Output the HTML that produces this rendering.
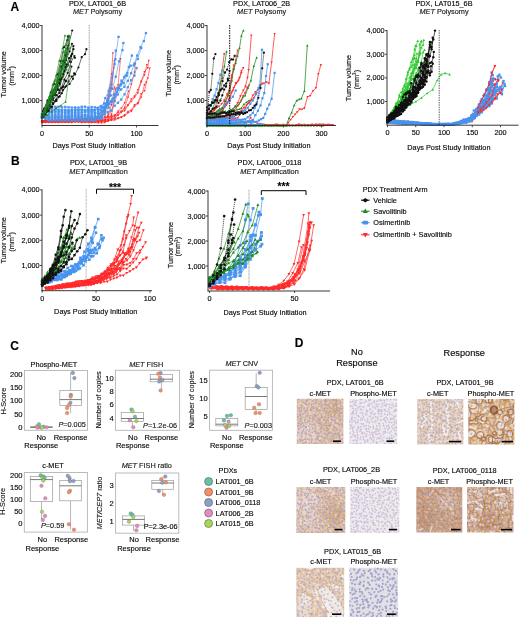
<!DOCTYPE html>
<html><head><meta charset="utf-8"><title>Figure</title>
<style>html,body{margin:0;padding:0;background:#fff;}svg{display:block;}
text{font-family:"Liberation Sans",sans-serif;stroke:#222;stroke-width:0.15px;}</style></head>
<body><svg width="520" height="617" viewBox="0 0 520 617">
<defs><filter id="hb" x="-5%" y="-5%" width="110%" height="110%"><feGaussianBlur stdDeviation="0.5"/></filter><filter id="bb" x="-50%" y="-50%" width="200%" height="200%"><feGaussianBlur stdDeviation="4"/></filter></defs>
<defs><marker id="m0" markerUnits="userSpaceOnUse" markerWidth="2.60" markerHeight="2.60" refX="0" refY="0" viewBox="-1.30 -1.30 2.60 2.60" overflow="visible"><g fill="#ff2a2a"><path d="M0.0 1.2L1.1 -0.8L-1.1 -0.8Z"/></g></marker><marker id="m1" markerUnits="userSpaceOnUse" markerWidth="2.99" markerHeight="2.99" refX="0" refY="0" viewBox="-1.49 -1.49 2.99 2.99" overflow="visible"><g fill="#4893ee"><rect x="-1.1" y="-1.1" width="2.3" height="2.3"/></g></marker><marker id="m2" markerUnits="userSpaceOnUse" markerWidth="2.86" markerHeight="2.86" refX="0" refY="0" viewBox="-1.43 -1.43 2.86 2.86" overflow="visible"><g fill="#111111"><circle cx="0.0" cy="0.0" r="1.10"/></g></marker><marker id="m3" markerUnits="userSpaceOnUse" markerWidth="2.86" markerHeight="2.86" refX="0" refY="0" viewBox="-1.43 -1.43 2.86 2.86" overflow="visible"><g fill="#1d8a1d"><path d="M0.0 -1.3L1.2 0.9L-1.2 0.9Z"/></g></marker><marker id="m4" markerUnits="userSpaceOnUse" markerWidth="2.86" markerHeight="2.86" refX="0" refY="0" viewBox="-1.43 -1.43 2.86 2.86" overflow="visible"><g fill="#ff2a2a"><path d="M0.0 1.3L1.2 -0.9L-1.2 -0.9Z"/></g></marker><marker id="m5" markerUnits="userSpaceOnUse" markerWidth="2.86" markerHeight="2.86" refX="0" refY="0" viewBox="-1.43 -1.43 2.86 2.86" overflow="visible"><g fill="#4893ee"><rect x="-1.1" y="-1.1" width="2.2" height="2.2"/></g></marker><marker id="m6" markerUnits="userSpaceOnUse" markerWidth="2.99" markerHeight="2.99" refX="0" refY="0" viewBox="-1.49 -1.49 2.99 2.99" overflow="visible"><g fill="#111111"><circle cx="0.0" cy="0.0" r="1.15"/></g></marker><marker id="m7" markerUnits="userSpaceOnUse" markerWidth="3.12" markerHeight="3.12" refX="0" refY="0" viewBox="-1.56 -1.56 3.12 3.12" overflow="visible"><g fill="#ff2a2a"><path d="M0.0 1.4L1.3 -1.0L-1.3 -1.0Z"/></g></marker><marker id="m8" markerUnits="userSpaceOnUse" markerWidth="3.12" markerHeight="3.12" refX="0" refY="0" viewBox="-1.56 -1.56 3.12 3.12" overflow="visible"><g fill="#4893ee"><rect x="-1.2" y="-1.2" width="2.4" height="2.4"/></g></marker><marker id="m9" markerUnits="userSpaceOnUse" markerWidth="3.12" markerHeight="3.12" refX="0" refY="0" viewBox="-1.56 -1.56 3.12 3.12" overflow="visible"><g fill="#2ec82e"><path d="M0.0 -1.4L1.3 1.0L-1.3 1.0Z"/></g></marker><marker id="m10" markerUnits="userSpaceOnUse" markerWidth="3.12" markerHeight="3.12" refX="0" refY="0" viewBox="-1.56 -1.56 3.12 3.12" overflow="visible"><g fill="#111111"><circle cx="0.0" cy="0.0" r="1.20"/></g></marker><marker id="m11" markerUnits="userSpaceOnUse" markerWidth="3.38" markerHeight="3.38" refX="0" refY="0" viewBox="-1.69 -1.69 3.38 3.38" overflow="visible"><g fill="#ff2a2a"><path d="M0.0 1.6L1.4 -1.0L-1.4 -1.0Z"/></g></marker><marker id="m12" markerUnits="userSpaceOnUse" markerWidth="3.38" markerHeight="3.38" refX="0" refY="0" viewBox="-1.69 -1.69 3.38 3.38" overflow="visible"><g fill="#4893ee"><rect x="-1.3" y="-1.3" width="2.6" height="2.6"/></g></marker><marker id="m13" markerUnits="userSpaceOnUse" markerWidth="3.64" markerHeight="3.64" refX="0" refY="0" viewBox="-1.82 -1.82 3.64 3.64" overflow="visible"><g fill="#1d8a1d"><path d="M0.0 -1.7L1.5 1.1L-1.5 1.1Z"/></g></marker><marker id="m14" markerUnits="userSpaceOnUse" markerWidth="3.38" markerHeight="3.38" refX="0" refY="0" viewBox="-1.69 -1.69 3.38 3.38" overflow="visible"><g fill="#111111"><circle cx="0.0" cy="0.0" r="1.30"/></g></marker><marker id="m15" markerUnits="userSpaceOnUse" markerWidth="3.64" markerHeight="3.64" refX="0" refY="0" viewBox="-1.82 -1.82 3.64 3.64" overflow="visible"><g fill="#4893ee"><rect x="-1.4" y="-1.4" width="2.8" height="2.8"/></g></marker></defs>
<text x="10.60" y="10.50" font-size="12" font-weight="bold" fill="#000">A</text>
<text x="97.50" y="5.60" font-size="7.3" text-anchor="middle">PDX, LAT001_6B</text>
<text x="97.5" y="13.9" font-size="7.3" text-anchor="middle" fill="#1a1a1a"><tspan font-style="italic">MET</tspan> Polysomy</text>
<line x1="89.20" y1="25.00" x2="89.20" y2="125.00" stroke="#777" stroke-width="0.8" stroke-dasharray="1 0.7"/>
<path d="M42.0 122.0L45.3 121.6L48.6 121.5L51.9 121.2L55.2 121.2L58.5 120.9L61.8 120.7L65.2 120.9L68.5 120.6L71.8 120.5L75.1 120.5L78.4 120.2L81.7 119.9L85.0 119.5L88.3 119.3L91.6 119.8L94.9 119.3L98.2 119.7L101.5 117.2L104.8 110.1L108.1 95.6L111.5 74.3L112.9 53.0 M42.0 121.6L45.3 121.3L48.6 121.4L51.9 120.9L55.2 120.6L58.5 120.7L61.8 120.2L65.2 119.9L68.5 119.8L71.8 119.3L75.1 119.0L78.4 118.7L81.7 118.9L85.0 119.1L88.3 118.8L91.6 118.6L94.9 117.9L98.2 117.5L101.5 118.1L104.8 117.1L108.1 116.8L111.5 117.1L114.8 116.0L118.1 115.0L121.4 111.8L124.7 110.9L128.0 105.1L131.3 101.5L134.6 97.2L137.9 93.0L141.2 81.7L144.5 71.7L147.8 67.7L148.8 60.5 M42.0 120.6L45.3 120.8L48.6 120.5L51.9 120.1L55.2 120.2L58.5 120.4L61.8 120.1L65.2 120.5L68.5 120.3L71.8 119.9L75.1 120.2L78.4 120.2L81.7 120.4L85.0 120.1L88.3 119.7L91.6 120.5L94.9 119.7L98.2 117.9L101.5 114.5L104.8 109.1L108.1 99.4L111.5 84.6L113.6 68.4 M42.0 121.1L45.3 120.8L48.6 120.8L51.9 120.9L55.2 120.8L58.5 120.7L61.8 120.6L65.2 120.5L68.5 120.6L71.8 120.9L75.1 120.7L78.4 120.7L81.7 120.3L85.0 120.1L88.3 120.1L91.6 120.0L94.9 120.0L98.2 120.4L101.5 119.9L104.8 119.7L108.1 119.2L111.5 117.8L114.8 115.7L118.1 111.2L121.4 108.1L124.7 102.7L128.4 91.0 M42.0 122.0L45.3 121.8L48.6 122.0L51.9 122.1L55.2 122.0L58.5 122.3L61.8 122.1L65.2 122.1L68.5 122.2L71.8 122.3L75.1 121.8L78.4 122.1L81.7 122.2L85.0 122.0L88.3 121.9L91.6 122.4L94.9 122.4L98.2 122.3L101.5 121.4L104.8 119.6L108.1 114.3L111.5 104.9L114.6 87.4 M42.0 121.3L45.3 121.0L48.6 121.1L51.9 120.9L55.2 121.1L58.5 120.8L61.8 121.2L65.2 121.0L68.5 120.5L71.8 120.5L75.1 120.9L78.4 120.4L81.7 120.8L85.0 120.3L88.3 120.4L91.6 120.6L94.9 120.7L98.2 120.9L101.5 120.1L104.8 120.0L108.1 116.2L111.5 110.3L114.8 101.2L118.1 85.0L120.5 58.9 M42.0 122.1L45.3 122.1L48.6 121.8L51.9 121.9L55.2 122.0L58.5 122.0L61.8 121.6L65.2 121.8L68.5 121.6L71.8 121.7L75.1 121.3L78.4 121.2L81.7 121.8L85.0 121.6L88.3 121.5L91.6 121.0L94.9 121.1L98.2 121.3L101.5 121.4L104.8 121.0L108.1 120.9L111.5 120.3L114.8 120.0L118.1 118.5L121.4 117.3L124.7 115.9L128.0 112.8L131.3 111.4L134.6 106.4L137.9 103.7L141.2 97.3L144.5 84.8L147.8 78.3L149.7 68.4 M42.0 122.5L45.3 122.2L48.6 122.2L51.9 122.0L55.2 122.0L58.5 122.3L61.8 122.0L65.2 122.2L68.5 122.2L71.8 122.1L75.1 121.6L78.4 121.6L81.7 121.5L85.0 121.8L88.3 121.5L91.6 121.4L94.9 121.6L98.2 121.4L101.5 121.6L104.8 121.6L108.1 121.1L111.5 119.5L114.8 118.1L118.1 115.1L121.4 112.2L124.7 107.3L128.0 97.3L131.3 84.3L134.6 72.2L135.2 63.6 M42.0 121.0L45.3 120.6L48.6 121.1L51.9 121.4L55.2 121.5L58.5 121.5L61.8 121.3L65.2 121.8L68.5 121.4L71.8 121.8L75.1 121.6L78.4 121.7L81.7 122.2L85.0 122.3L88.3 122.3L91.6 122.6L94.9 122.4L98.2 122.8L101.5 122.9L104.8 122.6L108.1 120.8L111.5 114.2L114.8 96.5L115.5 89.0 M42.0 120.9L45.3 120.7L48.6 120.2L51.9 119.8L55.2 120.0L58.5 119.7L61.8 119.6L65.2 119.8L68.5 119.4L71.8 119.5L75.1 119.4L78.4 119.5L81.7 119.1L85.0 118.2L88.3 118.7L91.6 118.3L94.9 118.2L98.2 117.7L101.5 116.6L104.8 112.3L108.1 103.9L111.5 88.3L114.4 61.0 M42.0 122.5L45.3 122.3L48.6 122.4L51.9 122.4L55.2 122.2L58.5 122.2L61.8 121.8L65.2 122.0L68.5 121.9L71.8 121.4L75.1 121.5L78.4 121.1L81.7 121.2L85.0 120.8L88.3 121.2L91.6 120.8L94.9 120.5L98.2 120.9L101.5 120.1L104.8 120.6L108.1 120.0L111.5 119.3L114.8 118.6L118.1 118.1L121.4 117.0L124.7 114.7L128.0 111.6L131.3 110.2L134.6 104.9L137.9 102.9L141.2 93.7L144.5 90.9L146.5 82.4 M42.0 120.6L45.3 120.5L48.6 120.8L51.9 120.5L55.2 120.6L58.5 120.0L61.8 119.9L65.2 120.2L68.5 120.3L71.8 119.3L75.1 119.3L78.4 119.5L81.7 119.4L85.0 118.9L88.3 119.2L91.6 119.2L94.9 119.1L98.2 119.1L101.5 119.0L104.8 117.6L108.1 117.0L111.5 115.6L114.8 115.0L118.1 112.8L121.4 111.2L124.7 108.7L128.0 105.2L131.3 99.1L134.6 96.1L137.9 90.1L141.2 81.3L144.5 75.1L146.9 64.9" fill="none" stroke="#ff2a2a" stroke-width="0.6" stroke-linejoin="round" marker-start="url(#m0)" marker-mid="url(#m0)" marker-end="url(#m0)"/>
<path d="M42.0 116.4L45.3 111.8L48.6 106.9L51.9 107.2L55.2 106.7L58.5 106.6L61.8 107.3L65.2 106.8L68.5 107.2L71.8 107.5L75.1 107.4L78.4 107.6L81.7 106.7L85.0 106.7L88.3 107.6L91.6 107.0L94.9 107.3L98.2 107.6L101.5 107.4L102.0 107.7L105.3 98.1L108.7 90.8L112.0 77.4L115.3 59.1L118.5 36.8 M42.0 116.7L45.3 113.8L48.6 110.6L51.9 111.1L55.2 111.1L58.5 110.8L61.8 111.1L65.2 110.8L68.5 111.1L71.8 110.7L75.1 110.6L78.4 110.6L81.7 110.5L85.0 110.8L88.3 110.9L91.6 110.6L94.2 110.4L97.5 108.3L100.8 106.0L104.1 103.5L107.4 101.0L110.7 95.4L114.0 94.4L117.3 87.8L120.7 84.3L124.0 77.3L127.3 73.0L130.6 65.6L133.9 65.2L137.2 55.5L140.5 47.0L143.8 41.0L145.9 33.0 M42.0 117.2L45.3 115.7L48.6 114.5L51.9 114.2L55.2 114.2L58.5 114.3L61.8 114.2L65.2 114.0L68.5 114.0L71.8 114.1L75.1 114.0L78.4 114.2L81.7 114.3L85.0 114.5L88.3 114.3L91.6 114.1L94.9 113.9L98.2 113.9L99.2 114.1L102.5 108.4L105.8 103.7L109.1 95.6L112.4 88.8L115.7 76.6L119.0 61.3L122.4 50.1L123.3 43.0 M42.0 117.2L45.3 117.0L48.6 117.0L51.9 117.1L55.2 116.9L58.5 116.9L61.8 116.9L65.2 116.7L68.5 116.8L71.8 116.8L75.1 116.7L78.4 116.8L81.7 116.9L85.0 116.8L88.3 116.8L91.6 116.8L94.9 116.8L95.7 117.0L99.1 114.1L102.4 111.2L105.7 107.2L109.0 103.7L112.3 99.1L115.6 94.2L118.9 88.0L122.2 82.1L125.5 75.6L128.8 67.0L131.8 55.5 M42.0 117.1L45.3 118.0L48.6 119.0L51.9 118.7L55.2 118.9L58.5 118.9L61.8 119.1L65.2 118.9L68.5 118.8L71.8 118.9L75.1 118.9L78.4 118.8L81.7 119.1L85.0 118.9L88.3 118.7L91.6 118.8L94.9 118.9L98.2 118.8L101.3 118.8L104.6 112.2L107.9 102.5L111.3 84.6L114.6 63.9L115.7 50.5 M42.0 117.2L45.3 118.8L48.6 120.5L51.9 120.4L55.2 120.3L58.5 120.5L61.8 120.4L65.2 120.4L68.5 120.3L71.8 120.5L75.1 120.4L78.4 120.5L81.7 120.4L85.0 120.5L88.3 120.3L91.6 120.3L94.8 120.5L98.1 119.0L101.4 116.4L104.7 114.5L108.0 111.9L111.3 110.6L114.6 105.7L117.9 102.7L121.2 99.5L124.5 94.3L127.8 87.2L131.1 80.2L134.4 75.6L136.5 68.0 M42.0 114.4L45.3 112.0L48.6 109.6L51.9 109.2L55.2 109.4L58.5 109.5L61.8 109.8L65.2 109.6L68.5 109.9L71.8 109.9L75.1 109.4L78.4 109.7L81.7 109.3L85.0 109.8L88.3 109.4L91.6 109.4L94.9 109.8L98.2 110.0L100.5 109.8L103.8 106.8L107.1 104.7L110.4 101.2L113.7 98.0L117.0 91.7L120.3 85.5L123.6 83.3L127.0 75.5 M42.0 114.5L45.3 113.3L48.6 112.1L51.9 112.3L55.2 111.9L58.5 112.5L61.8 112.0L65.2 112.5L68.5 112.3L71.8 112.2L75.1 112.3L78.4 112.4L81.7 112.4L85.0 111.9L88.3 112.2L91.6 112.1L94.9 112.4L98.2 112.0L101.3 112.5L104.6 109.3L107.9 105.5L111.2 101.8L114.5 100.9L117.8 94.4L121.1 89.4L124.4 86.7L127.8 80.7L131.1 73.2L134.4 63.4L137.7 58.9L141.2 48.0 M42.0 114.8L45.3 115.3L48.6 116.1L51.9 116.1L55.2 115.8L58.5 116.1L61.8 115.9L65.2 116.1L68.5 115.9L71.8 115.7L75.1 115.6L78.4 116.1L81.7 116.1L85.0 115.7L88.3 116.1L91.6 116.0L94.9 116.1L98.2 116.1L101.5 116.1L101.9 115.7L105.2 112.0L108.5 107.8L111.8 102.2L115.1 96.3L118.4 89.6L121.4 80.5 M42.0 116.5L45.3 117.1L48.6 117.9L51.9 118.0L55.2 117.6L58.5 117.7L61.8 117.9L65.2 117.7L68.5 117.8L71.8 117.8L75.1 118.0L78.4 117.8L81.7 117.8L85.0 117.9L88.3 117.6L91.6 117.8L94.9 117.7L98.2 117.7L100.5 117.6L103.8 110.8L107.1 100.5L110.0 88.0" fill="none" stroke="#4893ee" stroke-width="0.6" stroke-linejoin="round" marker-start="url(#m1)" marker-mid="url(#m1)" marker-end="url(#m1)"/>
<path d="M42.0 117.8L45.3 111.7L48.6 105.0L51.9 96.8L55.2 88.4L58.5 79.9L61.8 66.5L65.2 63.4L68.5 45.7L72.2 30.5 M43.3 117.2L46.6 109.9L49.9 101.9L53.2 97.6L56.5 86.3L59.8 79.4L63.1 60.9L65.1 55.1 M43.1 114.1L46.4 110.9L49.7 104.9L53.0 100.3L56.3 95.2L59.6 92.8L62.9 86.6L65.6 81.2 M42.9 115.8L46.2 109.0L49.6 103.2L52.9 98.3L56.2 87.8L59.5 80.3L62.8 65.6L66.1 55.9L67.2 53.7 M43.5 110.6L46.8 106.6L50.1 101.6L53.4 94.9L56.7 87.7L60.1 83.9L63.4 74.9L66.7 64.7L70.0 61.5L73.4 46.2 M42.8 117.0L46.2 112.0L49.5 108.0L52.8 103.1L56.1 99.6L59.4 90.3L62.7 87.5L66.0 80.9L69.3 75.7L71.4 66.5 M44.6 109.1L47.9 104.8L51.2 99.5L54.5 94.4L57.8 89.6L61.1 88.1L64.4 79.7L67.7 72.9L71.0 62.0L74.4 56.0L74.9 57.8 M43.0 111.4L46.3 106.2L49.6 99.9L52.9 90.8L56.3 86.2L59.6 81.5L62.9 74.0L66.2 60.1L69.5 51.4L72.0 43.8 M43.2 114.7L46.5 111.5L49.8 106.8L53.1 104.1L56.4 101.0L59.7 96.4L63.0 90.1L66.3 86.0L69.6 84.0L72.9 78.8L74.1 73.3 M42.5 114.2L45.8 108.5L49.1 101.6L52.4 96.2L55.7 92.4L59.0 82.3L62.3 77.2L65.6 67.2L69.0 58.2L72.3 53.9L73.5 49.2 M44.7 109.9L48.0 104.2L51.3 97.7L54.6 95.1L57.9 89.5L61.2 79.1L64.5 71.2L67.8 65.1L71.1 56.2L71.7 54.4 M44.3 112.4L47.6 102.8L50.9 96.4L54.2 89.7L57.5 80.2L60.8 66.7L64.1 62.3L67.4 48.4L68.9 36.7 M44.1 108.5L47.4 100.7L50.7 92.7L54.0 84.1L57.3 74.5L60.7 61.2L64.0 47.2L67.3 40.2L67.8 36.4 M42.0 117.7L45.3 114.2L48.6 110.9L51.9 107.0L55.2 101.1L58.5 96.8L61.8 93.3L65.2 87.1L68.5 81.7L71.8 76.6L75.1 74.4L78.4 67.5L81.7 57.2L85.0 54.2L86.4 49.2" fill="none" stroke="#111111" stroke-width="0.6" stroke-linejoin="round" marker-start="url(#m2)" marker-mid="url(#m2)" marker-end="url(#m2)"/>
<path d="M42.0 118.2L45.3 110.8L48.6 103.6L51.9 94.3L55.2 87.9L58.5 72.9L61.8 62.6L65.2 50.9L68.5 35.5 M42.7 113.8L46.0 105.1L49.3 96.9L52.7 84.9L56.0 75.7L59.3 60.8L62.6 48.2L65.0 35.6 M42.3 117.4L45.6 112.6L48.9 107.3L52.2 100.2L55.5 92.1L58.8 81.0L62.1 76.0L65.4 62.9L68.7 49.4L70.1 47.6 M44.8 109.5L48.1 102.4L51.4 91.1L54.7 80.9L58.1 76.7L61.4 60.5L63.5 52.0 M42.3 117.2L45.6 110.1L49.0 101.7L52.3 93.2L55.6 84.4L58.9 75.0L62.2 69.0L65.5 52.9L66.0 49.5 M43.4 112.4L46.7 105.6L50.1 103.0L53.4 96.5L56.7 87.7L60.0 85.6L63.3 76.4L66.6 69.5L67.8 65.5 M42.8 113.8L46.1 107.3L49.4 101.2L52.7 90.7L56.0 84.5L59.4 74.0L62.7 68.2L66.0 45.3L69.5 35.8 M42.8 114.4L46.1 106.7L49.4 98.8L52.7 93.9L56.0 85.6L59.3 73.2L62.6 65.4L65.9 57.2L69.2 43.6L69.8 36.8 M44.7 110.6L48.0 105.5L51.3 97.8L54.6 91.1L58.0 80.2L61.3 74.2L64.6 64.5L67.0 52.6 M42.0 118.0L46.7 115.0L51.5 111.5L56.2 108.0L60.9 105.5L65.6 101.8L68.5 80.5L71.3 58.0" fill="none" stroke="#1d8a1d" stroke-width="0.6" stroke-linejoin="round" marker-start="url(#m3)" marker-mid="url(#m3)" marker-end="url(#m3)"/>
<line x1="42.00" y1="25.00" x2="42.00" y2="125.90" stroke="#222" stroke-width="0.9"/>
<line x1="40.00" y1="100.50" x2="42.00" y2="100.50" stroke="#222" stroke-width="0.8"/>
<text x="39.70" y="103.00" font-size="7.3" text-anchor="end">1,000</text>
<line x1="40.00" y1="75.50" x2="42.00" y2="75.50" stroke="#222" stroke-width="0.8"/>
<text x="39.70" y="78.00" font-size="7.3" text-anchor="end">2,000</text>
<line x1="40.00" y1="50.50" x2="42.00" y2="50.50" stroke="#222" stroke-width="0.8"/>
<text x="39.70" y="53.00" font-size="7.3" text-anchor="end">3,000</text>
<line x1="40.00" y1="25.50" x2="42.00" y2="25.50" stroke="#222" stroke-width="0.8"/>
<text x="39.70" y="28.00" font-size="7.3" text-anchor="end">4,000</text>
<line x1="42.00" y1="125.50" x2="158.50" y2="125.50" stroke="#222" stroke-width="0.9"/>
<line x1="42.00" y1="125.50" x2="42.00" y2="127.50" stroke="#222" stroke-width="0.8"/>
<text x="42.00" y="135.50" font-size="7.3" text-anchor="middle">0</text>
<line x1="89.25" y1="125.50" x2="89.25" y2="127.50" stroke="#222" stroke-width="0.8"/>
<text x="89.25" y="135.50" font-size="7.3" text-anchor="middle">50</text>
<line x1="136.50" y1="125.50" x2="136.50" y2="127.50" stroke="#222" stroke-width="0.8"/>
<text x="136.50" y="135.50" font-size="7.3" text-anchor="middle">100</text>
<text x="6.30" y="74.30" font-size="7.3" text-anchor="middle" transform="rotate(-90 6.30 74.30)">Tumor volume</text>
<text x="13.70" y="75.90" font-size="7.3" text-anchor="middle" transform="rotate(-90 13.70 75.90)" fill="#1a1a1a">(mm<tspan font-size="4.5" dy="-2.6">3</tspan><tspan dy="2.6">)</tspan></text>
<text x="94.00" y="148.20" font-size="7.3" text-anchor="middle">Days Post Study Initiation</text>
<text x="261.60" y="5.60" font-size="7.3" text-anchor="middle">PDX, LAT006_2B</text>
<text x="261.6" y="13.9" font-size="7.3" text-anchor="middle" fill="#1a1a1a"><tspan font-style="italic">MET</tspan> Polysomy</text>
<path d="M207.0 125.1L208.9 124.6L210.8 124.7L212.7 124.5L214.6 124.4L216.6 125.1L218.5 124.9L220.4 125.1L222.3 125.3L224.2 125.3L226.1 125.2L228.0 125.4L229.9 124.8L231.8 124.6L233.7 124.8L235.7 124.6L237.6 125.2L239.5 125.3L241.4 124.8L243.3 124.4L245.2 125.0L247.1 125.5L249.0 125.5L250.9 125.1L252.8 124.7L254.8 125.4L256.7 125.2L258.6 124.6L260.5 124.3L262.4 125.1L264.3 124.7L266.2 124.9L268.1 125.5L270.0 125.1L271.9 125.3L273.9 125.2L275.8 124.5L277.7 124.6L279.6 125.4L281.5 125.4L283.4 124.6L285.3 125.4L287.2 125.1L289.1 125.2L291.0 125.4L292.9 125.5L294.9 125.3L296.8 125.0L298.7 124.3L300.6 124.7L302.5 125.2L304.4 124.7L306.3 125.2L308.2 124.9L310.1 125.1L312.1 124.3L314.0 125.1L315.9 124.5L317.8 124.7L319.7 124.4L321.6 124.7L323.5 124.4L325.4 125.0L327.3 124.7L329.2 124.7L331.1 124.8L333.1 124.8 M207.0 115.5L209.5 113.8L212.1 112.3L214.6 110.5L216.6 101.9L218.5 95.5L221.5 75.5L224.2 54.0 M207.0 118.0L209.2 117.2L211.4 116.5L213.5 116.4L215.7 115.1L217.9 114.9L220.1 114.1L222.3 113.0L225.1 104.4L228.0 95.5L229.9 85.3L231.8 75.5L233.7 69.7L235.7 60.5L237.6 50.5 M207.0 118.0L209.3 118.0L211.6 117.5L213.9 117.3L216.2 117.1L218.5 117.2L220.8 116.6L223.0 116.1L225.3 115.9L227.6 115.7L229.9 115.5L232.5 110.7L235.0 106.7L237.6 103.0L240.4 96.1L243.3 90.5L245.4 86.4L247.5 77.7L248.6 70.0L251.3 35.4 M207.0 120.5L209.4 120.4L211.7 120.0L214.1 120.2L216.4 119.4L218.8 119.8L221.1 119.1L223.5 119.4L225.8 118.7L228.2 118.5L230.5 118.7L232.9 118.1L235.2 118.5L237.6 118.0L240.1 114.2L242.7 111.5L245.2 108.0L247.7 104.0L250.3 100.9L252.8 95.5L255.4 91.8L257.9 89.8L260.5 85.5L262.2 83.7L263.9 83.5L266.4 82.0L268.9 83.5L271.6 62.3L274.6 33.8 M207.0 115.5L209.3 114.9L211.6 115.1L213.9 113.4L216.2 112.9L218.5 113.0L221.0 110.2L223.6 108.3L226.1 105.5L228.6 99.5L231.2 92.4L233.7 88.0L236.6 83.2L239.5 78.0L241.4 71.2L243.3 68.0 M207.0 118.0L209.5 117.5L212.1 117.2L214.6 116.8L217.2 114.1L219.7 112.7L222.3 110.5L224.8 106.1L227.4 103.4L229.9 98.0L232.8 90.6L235.7 83.0L238.5 80.6L241.4 73.0 M207.0 113.0L209.4 111.4L211.8 111.4L214.2 110.1L216.6 108.0L219.1 106.4L221.6 104.0L224.2 100.5L227.1 94.2L229.9 88.0L231.8 77.6L233.7 65.5 M207.0 120.5L209.2 120.3L211.4 119.5L213.5 119.1L215.7 119.0L217.9 118.5L220.1 118.1L222.3 118.0L224.6 116.8L226.9 114.6L229.2 113.9L231.4 111.9L233.7 110.5L236.3 107.5L238.8 104.7L241.4 100.5L243.3 95.8L245.2 93.0L247.1 87.4L249.0 85.5 M207.0 118.0L209.3 118.4L211.6 118.2L213.9 118.9L216.2 118.9L218.5 119.2L220.8 118.3L223.0 118.0L225.3 118.2L227.6 117.3L229.9 116.8L232.2 115.6L234.5 114.5L236.8 112.5L239.1 111.8L241.4 110.5L243.9 107.6L246.5 105.2L249.0 103.0L251.6 99.6L254.1 97.9L256.7 93.0 M207.0 125.5L209.2 125.5L211.5 125.5L213.7 125.5L216.0 125.5L218.2 125.5L220.5 125.5L222.7 125.5L225.0 125.5L227.2 125.5L229.5 125.5L231.7 125.5L234.0 125.5L236.2 125.5L238.5 125.5L240.7 125.5L243.0 125.5L245.2 125.5L247.9 121.5L250.5 118.0L252.6 119.8L254.8 121.8L257.6 123.6L260.5 125.5 M207.0 125.5L209.3 125.5L211.7 125.5L214.0 125.5L216.3 125.5L218.6 125.5L221.0 125.5L223.3 125.5L225.6 125.5L227.9 125.5L230.3 125.5L232.6 125.5L234.9 125.5L237.2 125.5L239.6 125.5L241.9 125.5L244.2 125.5L246.5 125.5L248.9 125.5L251.2 125.5L253.5 125.5L255.8 125.5L258.2 125.5L260.5 125.5L262.8 125.5L265.1 125.5L267.5 125.5L269.8 125.5L272.1 125.5L274.4 125.5L276.8 125.5L279.1 125.5L281.4 125.5L283.7 125.5L286.1 125.5L288.3 122.7L290.5 119.8L292.8 117.0L295.0 114.5L297.2 112.2L299.4 109.2L301.9 109.3L304.4 108.2L307.5 96.8L310.1 95.8L313.0 90.8L315.9 88.0L318.4 73.9L320.8 65.0" fill="none" stroke="#ff2a2a" stroke-width="0.75" stroke-linejoin="round" marker-start="url(#m4)" marker-mid="url(#m4)" marker-end="url(#m4)"/>
<path d="M207.0 124.1L208.9 125.2L210.8 124.6L212.7 124.7L214.6 124.9L216.6 124.3L218.5 124.1L220.4 124.4L222.3 124.4L224.2 124.5L226.1 124.5L228.0 124.7L229.9 125.1L231.8 124.3L233.7 125.3L235.7 124.5L237.6 124.9L239.5 124.7L241.4 124.5L243.3 124.8L245.2 124.0L247.1 125.1L249.0 125.5L250.9 124.1L252.8 125.0L254.8 125.1L256.7 124.9L258.6 124.6L260.5 124.0L262.4 124.4 M207.0 123.6L208.1 122.6L209.3 123.0L210.4 122.7L211.6 123.1L212.7 124.2L213.9 123.2L215.0 123.2L216.2 124.1L217.3 121.3L218.5 123.4L219.6 124.3L220.8 122.4L221.9 121.2L223.0 121.5L224.2 122.2L225.3 121.7L226.5 123.5L227.6 124.4L228.8 123.9 M207.0 122.1L208.5 122.5L210.1 121.3L211.6 123.3L213.1 123.4L214.6 122.7L216.2 123.0L217.7 119.2L219.2 120.9L220.8 123.0L222.3 121.6L223.8 118.8L225.3 120.6 M207.0 120.5L209.3 120.5L211.6 120.6L213.9 120.7L216.2 120.4L218.5 120.8L220.8 120.3L223.0 120.8L225.3 120.4L227.6 120.6L229.9 120.5L232.1 120.2L234.3 120.1L236.5 120.2L238.7 119.8L240.8 119.9L243.0 119.6L245.2 119.2L247.7 117.3L250.3 115.4L252.8 113.0L254.8 107.7L256.7 103.0L259.7 85.5L262.0 49.8 M207.0 123.0L209.4 122.9L211.7 123.0L214.1 122.9L216.4 123.1L218.8 122.9L221.1 123.0L223.5 123.0L225.8 123.1L228.2 122.9L230.5 123.1L232.9 123.0L235.2 123.1L237.6 123.0L239.7 122.5L241.9 122.2L244.1 121.9L246.3 121.5L248.5 121.3L250.7 121.1L252.8 120.5L255.4 115.1L257.9 110.8L260.5 105.5L262.4 98.3L264.3 93.0L266.0 76.0L267.7 64.2 M207.0 123.0L209.3 122.9L211.5 123.0L213.8 122.7L216.0 122.7L218.3 122.8L220.5 122.8L222.8 122.6L225.1 122.7L227.3 122.3L229.6 122.4L231.8 122.3L234.1 122.4L236.3 122.1L238.6 122.3L240.9 122.1L243.1 122.2L245.4 122.2L247.6 122.1L249.9 122.0L252.1 121.7L254.4 121.9L256.7 121.8L258.8 120.5L261.0 119.2L263.2 118.0L265.2 113.9L267.2 108.8L269.3 104.6L271.6 98.8L274.6 72.9 M207.0 113.0L208.9 108.9L210.8 105.5L212.7 99.2L214.6 95.5L216.6 89.2L218.5 83.0L220.4 74.7L222.3 70.5 M207.0 118.0L209.5 116.7L212.1 116.0L214.6 115.5L217.2 113.1L219.7 110.9L222.3 108.0L224.8 106.5L227.4 102.1L229.9 100.5L232.8 96.8L235.7 90.5 M207.0 120.5L209.3 120.2L211.6 120.0L213.9 120.1L216.2 119.7L218.5 119.0L220.8 119.0L223.0 118.4L225.3 118.2L227.6 118.6L229.9 118.0L232.1 116.7L234.3 116.4L236.5 114.9L238.7 113.8L240.8 111.9L243.0 111.4L245.2 110.5L247.7 107.8L250.3 103.8L252.8 100.5L255.7 94.2L258.6 88.0" fill="none" stroke="#4893ee" stroke-width="0.75" stroke-linejoin="round" marker-start="url(#m5)" marker-mid="url(#m5)" marker-end="url(#m5)"/>
<path d="M207.0 118.0L209.5 116.7L212.1 114.8L214.6 113.0L217.2 110.7L219.7 108.8L222.3 108.0L225.1 101.0L228.0 95.5L229.9 90.0L231.8 80.5L233.7 69.1L235.7 63.0L237.6 55.8L239.5 48.0L241.4 35.8L243.3 30.5 M207.0 115.5L209.9 112.3L212.7 108.0L215.6 101.6L218.5 93.0L220.4 83.5L222.3 78.0L224.4 66.3L226.5 51.5 M207.0 118.0L209.4 117.8L211.8 116.7L214.2 115.6L216.6 115.1L218.9 115.0L221.3 113.6L223.7 113.2L226.1 113.0L228.4 110.9L230.7 109.7L233.0 108.7L235.3 106.1L237.6 105.5L240.1 102.2L242.7 97.4L245.2 95.5L248.1 87.8L250.9 80.5L253.8 66.2L256.7 57.5 M207.0 118.0L209.3 116.5L211.6 115.1L213.9 113.4L216.2 112.3L218.5 110.5L220.8 111.6L223.0 111.3L225.3 111.4L227.6 112.8L229.9 113.0L232.2 111.4L234.5 110.5L236.8 109.5L239.1 109.2L241.4 108.0L243.9 104.3L246.5 102.2L249.0 100.5 M207.0 125.5L209.3 125.5L211.7 125.5L214.0 125.5L216.3 125.5L218.6 125.5L221.0 125.5L223.3 125.5L225.6 125.5L227.9 125.5L230.3 125.5L232.6 125.5L234.9 125.5L237.2 125.5L239.6 125.5L241.9 125.5L244.2 125.5L246.5 125.5L248.9 125.5L251.2 125.5L253.5 125.5L255.8 125.5L258.2 125.5L260.5 125.5L262.8 125.5L265.1 125.5L267.5 125.5L269.8 125.5L272.1 125.5L274.4 125.5L276.8 125.5L279.1 125.5L281.4 125.5L283.7 125.5L286.1 125.5L289.1 118.0L291.7 112.5L294.2 105.3L296.8 100.5L299.1 99.3L301.4 98.5L304.4 91.0L307.3 45.5 M207.0 125.5L210.1 125.5L213.1 125.5L216.2 125.5L219.2 125.5L222.3 125.5L225.3 125.5L228.4 125.5L231.4 125.5L234.5 125.5L237.6 125.5L240.6 125.5L243.7 125.5L246.7 125.5L249.8 125.5L252.8 125.5L255.9 125.5L259.0 125.5L262.0 125.5L265.1 125.5L268.1 125.5L271.2 125.5L274.2 125.5L277.3 125.5L280.3 125.5L283.4 125.5L286.5 125.5L289.5 125.5L292.6 125.5L295.6 125.5L298.7 125.5L301.7 125.5L304.8 125.5L307.8 125.5L310.9 125.5L314.0 125.5L317.0 125.5L320.1 125.5L323.1 125.5" fill="none" stroke="#1d8a1d" stroke-width="0.75" stroke-linejoin="round" marker-start="url(#m3)" marker-mid="url(#m3)" marker-end="url(#m3)"/>
<path d="M207.0 118.0L209.3 91.8L210.8 90.0L212.3 73.8L213.8 58.5L215.4 54.1 M207.0 107.5L208.7 105.5L210.3 105.1L212.0 102.3L213.7 102.6L215.5 99.8L217.3 100.5L219.0 95.0L220.8 89.6L222.5 81.2L225.0 72.5L227.1 69.6L229.2 62.1L231.3 59.4L233.0 59.6L234.7 55.9 M207.0 113.0L208.9 113.6L210.8 113.7L212.7 113.7L214.6 113.5L216.6 114.3L218.5 114.2L220.4 113.3L222.3 112.7L224.2 112.5L226.1 113.2L228.0 112.5L229.9 111.8L231.8 111.2L233.7 111.5L235.7 112.8L237.6 112.5L239.5 112.7L241.4 112.3L243.3 113.6L245.2 113.0 M207.0 115.5L208.9 113.9L210.8 111.3L212.7 109.1L214.6 108.0L216.6 106.6L218.5 102.8L220.4 100.5L222.3 95.3L224.2 89.6L226.1 86.5L227.8 79.0L229.5 70.8 M207.0 118.0L208.9 117.3L210.8 117.8L212.7 117.6L214.6 117.4L216.6 116.7L218.5 116.9L220.4 116.5L222.3 116.3L224.2 116.3L226.1 115.5L228.0 114.7L229.9 115.2L231.8 114.2L233.7 114.2L235.7 114.6L237.6 113.4L239.5 114.4L241.4 112.8L243.3 113.9L245.2 113.0L247.1 112.2L249.0 110.4L250.9 110.2L252.8 108.0L254.6 105.7L256.3 104.6L258.4 97.8L260.5 88.0L262.2 68.3L263.9 52.7 M207.0 110.5L208.9 109.0L210.8 105.4L212.7 103.0L214.6 100.6L216.6 97.1L218.5 93.0L220.4 90.5L222.3 88.6L224.2 85.5L226.1 83.6L228.0 80.5" fill="none" stroke="#111111" stroke-width="0.75" stroke-dasharray="1.2 0.8" stroke-linejoin="round" marker-start="url(#m6)" marker-mid="url(#m6)" marker-end="url(#m6)"/>
<line x1="229.70" y1="25.00" x2="229.70" y2="125.00" stroke="#000" stroke-width="0.9" stroke-dasharray="1.6 0.9"/>
<line x1="207.00" y1="25.00" x2="207.00" y2="125.90" stroke="#222" stroke-width="0.9"/>
<line x1="205.00" y1="100.50" x2="207.00" y2="100.50" stroke="#222" stroke-width="0.8"/>
<text x="204.70" y="103.00" font-size="7.3" text-anchor="end">1,000</text>
<line x1="205.00" y1="75.50" x2="207.00" y2="75.50" stroke="#222" stroke-width="0.8"/>
<text x="204.70" y="78.00" font-size="7.3" text-anchor="end">2,000</text>
<line x1="205.00" y1="50.50" x2="207.00" y2="50.50" stroke="#222" stroke-width="0.8"/>
<text x="204.70" y="53.00" font-size="7.3" text-anchor="end">3,000</text>
<line x1="205.00" y1="25.50" x2="207.00" y2="25.50" stroke="#222" stroke-width="0.8"/>
<text x="204.70" y="28.00" font-size="7.3" text-anchor="end">4,000</text>
<line x1="207.00" y1="125.50" x2="336.00" y2="125.50" stroke="#222" stroke-width="0.9"/>
<line x1="207.00" y1="125.50" x2="207.00" y2="127.50" stroke="#222" stroke-width="0.8"/>
<text x="207.00" y="135.50" font-size="7.3" text-anchor="middle">0</text>
<line x1="245.20" y1="125.50" x2="245.20" y2="127.50" stroke="#222" stroke-width="0.8"/>
<text x="245.20" y="135.50" font-size="7.3" text-anchor="middle">100</text>
<line x1="283.40" y1="125.50" x2="283.40" y2="127.50" stroke="#222" stroke-width="0.8"/>
<text x="283.40" y="135.50" font-size="7.3" text-anchor="middle">200</text>
<line x1="321.60" y1="125.50" x2="321.60" y2="127.50" stroke="#222" stroke-width="0.8"/>
<text x="321.60" y="135.50" font-size="7.3" text-anchor="middle">300</text>
<text x="171.40" y="73.20" font-size="7.3" text-anchor="middle" transform="rotate(-90 171.40 73.20)">Tumor volume</text>
<text x="178.80" y="74.80" font-size="7.3" text-anchor="middle" transform="rotate(-90 178.80 74.80)" fill="#1a1a1a">(mm<tspan font-size="4.5" dy="-2.6">3</tspan><tspan dy="2.6">)</tspan></text>
<text x="268.90" y="148.40" font-size="7.3" text-anchor="middle">Days Post Study Initiation</text>
<text x="444.00" y="5.60" font-size="7.3" text-anchor="middle">PDX, LAT015_6B</text>
<text x="444" y="13.9" font-size="7.3" text-anchor="middle" fill="#1a1a1a"><tspan font-style="italic">MET</tspan> Polysomy</text>
<path d="M387.5 122.5L390.3 122.1L393.1 122.1L396.0 122.7L398.8 122.4L401.6 123.4L404.4 123.1L407.3 123.7L410.1 123.6L412.9 123.1L415.8 123.9L418.6 123.6L421.4 123.8L424.2 123.6L427.1 123.7L429.9 124.3L432.7 124.4L435.5 124.0L438.4 124.3L441.2 124.4L444.0 124.1L446.8 124.2L449.6 124.3L452.5 124.2L455.3 123.6L458.1 123.2L460.9 121.2L463.8 120.7L466.6 121.9L469.4 120.0L472.2 114.8L475.1 112.7L477.9 107.8L480.7 101.8L483.6 95.9L486.4 90.3L489.2 84.6L492.0 72.7L494.9 66.1 M387.5 121.6L390.3 121.0L393.1 122.5L396.0 121.4L398.8 121.7L401.6 122.5L404.4 123.1L407.3 122.8L410.1 122.7L412.9 122.6L415.8 122.8L418.6 123.6L421.4 123.9L424.2 124.0L427.1 123.6L429.9 124.0L432.7 124.4L435.5 124.2L438.4 124.0L441.2 124.2L444.0 124.4L446.8 124.0L449.6 124.2L452.5 124.4L455.3 123.4L458.1 122.9L460.9 122.5L463.8 121.4L466.6 121.0L469.4 120.9L472.2 117.4L475.1 115.0L477.9 112.0L480.7 108.8L483.6 106.8L486.4 102.6L489.2 99.6L492.0 95.6L494.9 84.7L497.7 80.3L498.5 80.6 M387.5 122.1L390.3 122.0L393.1 123.0L396.0 122.7L398.8 122.6L401.6 122.3L404.4 122.9L407.3 123.2L410.1 123.1L412.9 123.2L415.8 123.6L418.6 123.5L421.4 123.9L424.2 124.2L427.1 124.1L429.9 124.3L432.7 124.3L435.5 124.3L438.4 124.1L441.2 124.1L444.0 124.1L446.8 124.0L449.6 124.4L452.5 124.3L455.3 124.0L458.1 122.8L460.9 122.1L463.8 121.5L466.6 122.6L469.4 118.3L472.2 117.8L475.1 116.1L477.9 112.9L480.7 111.3L483.6 110.1L486.4 108.0L489.2 104.8L492.0 102.3L494.9 99.0L497.7 94.4L500.5 93.0L501.8 89.7 M387.5 122.2L390.3 122.5L393.1 122.7L396.0 122.8L398.8 123.4L401.6 123.3L404.4 122.9L407.3 122.9L410.1 123.5L412.9 123.7L415.8 123.2L418.6 123.9L421.4 123.5L424.2 123.6L427.1 124.2L429.9 124.0L432.7 124.4L435.5 124.5L438.4 124.4L441.2 124.3L444.0 124.2L446.8 124.3L449.6 124.1L452.5 124.2L455.3 123.9L458.1 123.1L460.9 120.9L463.8 122.3L466.6 121.4L469.4 121.8L472.2 121.1L475.1 118.1L477.9 114.5L480.7 110.4L483.6 104.5L486.4 100.3L489.2 94.6L492.0 85.8L493.4 84.7 M387.5 120.1L390.3 120.2L393.1 121.1L396.0 122.2L398.8 122.5L401.6 121.4L404.4 121.6L407.3 122.3L410.1 122.0L412.9 122.3L415.8 122.7L418.6 123.3L421.4 123.4L424.2 123.7L427.1 123.9L429.9 124.1L432.7 124.5L435.5 124.4L438.4 124.4L441.2 124.2L444.0 124.1L446.8 124.2L449.6 124.4L452.5 124.3L455.3 123.8L458.1 123.1L460.9 122.3L463.8 121.5L466.6 121.3L469.4 119.8L472.2 116.3L475.1 112.9L477.9 109.5L480.7 106.2L483.6 104.8L486.4 100.1L489.2 93.1L492.0 83.9L494.9 78.9L495.4 79.6 M387.5 121.0L390.3 121.2L393.1 121.5L396.0 121.9L398.8 122.0L401.6 122.7L404.4 123.1L407.3 122.2L410.1 123.5L412.9 123.3L415.8 123.2L418.6 123.0L421.4 123.8L424.2 123.9L427.1 123.7L429.9 124.2L432.7 124.3L435.5 124.3L438.4 124.5L441.2 124.0L444.0 124.2L446.8 124.5L449.6 124.4L452.5 124.4L455.3 123.3L458.1 123.5L460.9 122.4L463.8 120.6L466.6 119.6L469.4 119.3L472.2 118.9L475.1 115.3L477.9 111.2L480.7 107.4L483.6 102.4L486.4 99.1L489.2 92.6L492.0 81.3L492.8 81.3 M387.5 122.7L390.3 122.3L393.1 122.1L396.0 122.2L398.8 122.1L401.6 123.2L404.4 122.7L407.3 123.3L410.1 123.3L412.9 123.2L415.8 123.1L418.6 123.4L421.4 123.3L424.2 124.2L427.1 124.1L429.9 124.1L432.7 124.5L435.5 124.5L438.4 124.3L441.2 124.2L444.0 124.4L446.8 124.5L449.6 124.3L452.5 124.1L455.3 123.1L458.1 122.3L460.9 122.1L463.8 122.4L466.6 121.5L469.4 119.1L472.2 117.4L475.1 114.2L477.9 110.5L480.7 106.9L483.6 100.3L486.4 98.4L489.2 92.7L492.0 85.0L492.1 84.8 M387.5 122.8L390.3 122.3L393.1 123.2L396.0 123.2L398.8 122.9L401.6 123.1L404.4 123.2L407.3 123.3L410.1 123.3L412.9 123.7L415.8 123.8L418.6 123.8L421.4 123.9L424.2 123.9L427.1 123.8L429.9 124.2L432.7 124.3L435.5 124.1L438.4 124.0L441.2 124.4L444.0 124.1L446.8 124.4L449.6 124.1L452.5 124.5L455.3 123.5L458.1 122.1L460.9 121.6L463.8 122.3L466.6 120.4L469.4 120.3L472.2 118.5L475.1 117.1L477.9 113.3L480.7 110.4L483.6 108.8L486.4 104.9L489.2 101.7L492.0 100.1L494.9 97.8L497.7 89.4L500.5 87.7L502.7 82.8" fill="none" stroke="#ff2a2a" stroke-width="0.7" stroke-linejoin="round" marker-start="url(#m7)" marker-mid="url(#m7)" marker-end="url(#m7)"/>
<path d="M387.5 121.9L390.0 121.5L392.6 121.6L395.1 122.2L397.7 121.9L400.2 121.4L402.8 122.9L405.3 122.8L407.8 121.9L410.4 122.8L412.9 123.0L415.5 122.6L418.0 123.0L420.6 123.7L423.1 123.5L425.6 124.0L428.2 123.8L430.7 124.1L433.3 124.1L435.8 124.5L438.4 124.1L440.9 124.4L443.4 124.1L446.0 124.3L448.5 124.1L451.1 124.4L453.6 124.1L456.1 123.1L458.7 123.1L461.2 122.1L463.8 120.1L466.3 119.7L468.9 118.1L471.4 115.8L473.9 110.5L476.5 109.0L479.0 108.0L481.6 101.6L484.1 102.2L486.7 96.9L489.2 89.2L491.7 92.5L494.3 88.3L496.8 84.3L497.8 76.3 M387.5 122.9L390.0 122.3L392.6 122.5L395.1 122.2L397.7 122.9L400.2 122.7L402.8 123.1L405.3 122.7L407.8 123.4L410.4 123.2L412.9 123.4L415.5 123.5L418.0 123.5L420.6 123.7L423.1 123.9L425.6 123.7L428.2 123.8L430.7 124.1L433.3 124.2L435.8 124.1L438.4 124.3L440.9 124.2L443.4 124.3L446.0 124.3L448.5 124.3L451.1 124.2L453.6 124.2L456.1 123.4L458.7 122.6L461.2 121.0L463.8 121.0L466.3 121.4L468.9 120.1L471.4 117.4L473.9 115.3L476.5 111.2L479.0 107.5L481.6 106.9L484.1 103.8L486.7 98.6L489.2 91.3L491.7 85.9L492.9 85.0 M387.5 120.3L390.0 120.2L392.6 120.3L395.1 121.7L397.7 122.2L400.2 121.4L402.8 122.0L405.3 121.7L407.8 122.5L410.4 122.5L412.9 122.2L415.5 123.3L418.0 123.2L420.6 123.6L423.1 123.4L425.6 123.5L428.2 123.6L430.7 124.0L433.3 124.4L435.8 124.3L438.4 124.2L440.9 124.2L443.4 124.2L446.0 124.0L448.5 124.0L451.1 124.4L453.6 123.8L456.1 123.2L458.7 123.0L461.2 123.1L463.8 121.2L466.3 120.8L468.9 121.4L471.4 121.2L473.9 118.4L476.5 115.4L479.0 110.5L481.6 110.4L484.1 104.2L486.7 99.5L489.2 97.8L491.7 90.3L493.3 84.7 M387.5 122.7L390.0 122.7L392.6 122.4L395.1 122.7L397.7 123.4L400.2 122.7L402.8 123.7L405.3 123.1L407.8 123.8L410.4 123.2L412.9 123.8L415.5 123.4L418.0 123.5L420.6 123.6L423.1 124.2L425.6 124.1L428.2 124.3L430.7 124.1L433.3 124.0L435.8 124.2L438.4 124.2L440.9 124.2L443.4 124.4L446.0 124.3L448.5 124.3L451.1 124.1L453.6 124.1L456.1 123.6L458.7 123.4L461.2 122.6L463.8 121.3L466.3 121.6L468.9 120.0L471.4 116.6L473.9 115.5L476.5 110.7L479.0 105.0L481.6 102.7L484.1 94.5L486.7 90.0L489.2 83.8L491.7 72.8L492.7 75.2 M387.5 121.4L390.0 121.9L392.6 121.9L395.1 122.4L397.7 121.8L400.2 122.8L402.8 122.4L405.3 122.8L407.8 123.3L410.4 123.5L412.9 123.5L415.5 123.5L418.0 123.5L420.6 124.0L423.1 124.0L425.6 123.7L428.2 123.7L430.7 124.2L433.3 124.3L435.8 124.2L438.4 124.4L440.9 124.2L443.4 124.2L446.0 124.0L448.5 124.2L451.1 124.2L453.6 123.7L456.1 123.3L458.7 122.5L461.2 122.6L463.8 121.0L466.3 121.1L468.9 119.5L471.4 116.0L473.9 116.1L476.5 112.4L479.0 112.5L481.6 108.6L484.1 104.1L486.7 105.3L489.2 102.3L491.7 97.3L494.3 94.3L496.8 91.0L499.4 89.0L501.9 89.1L503.5 81.0 M387.5 122.2L390.0 121.1L392.6 122.4L395.1 121.5L397.7 122.4L400.2 122.4L402.8 122.9L405.3 123.2L407.8 122.7L410.4 123.1L412.9 123.1L415.5 123.6L418.0 123.4L420.6 123.5L423.1 123.5L425.6 123.8L428.2 124.1L430.7 124.0L433.3 124.2L435.8 124.3L438.4 124.2L440.9 124.3L443.4 124.5L446.0 124.4L448.5 124.0L451.1 124.1L453.6 124.1L456.1 122.8L458.7 122.9L461.2 122.0L463.8 119.6L466.3 120.4L468.9 118.9L471.4 118.3L473.9 114.2L476.5 113.3L479.0 110.3L481.6 108.5L484.1 108.9L486.7 104.3L489.2 104.7L491.7 100.3L494.3 91.6L496.8 90.3L499.4 87.8L500.4 86.9 M387.5 121.0L390.0 120.7L392.6 121.7L395.1 121.6L397.7 121.9L400.2 122.0L402.8 122.1L405.3 122.9L407.8 123.2L410.4 123.3L412.9 123.5L415.5 123.1L418.0 123.5L420.6 123.2L423.1 123.9L425.6 124.0L428.2 123.7L430.7 124.3L433.3 124.3L435.8 124.2L438.4 124.2L440.9 124.4L443.4 124.4L446.0 124.2L448.5 124.4L451.1 124.1L453.6 123.8L456.1 123.5L458.7 122.9L461.2 121.7L463.8 121.6L466.3 121.6L468.9 119.5L471.4 116.4L473.9 114.3L476.5 110.9L479.0 104.4L481.6 99.2L484.1 95.6L486.7 95.1L489.2 82.2L491.7 82.2L492.2 79.1 M387.5 121.9L390.0 121.7L392.6 122.4L395.1 123.1L397.7 122.4L400.2 122.3L402.8 122.6L405.3 123.6L407.8 123.3L410.4 123.0L412.9 123.2L415.5 123.1L418.0 123.3L420.6 123.5L423.1 123.7L425.6 124.0L428.2 124.3L430.7 124.0L433.3 124.3L435.8 124.1L438.4 124.4L440.9 124.1L443.4 124.2L446.0 124.1L448.5 124.2L451.1 124.3L453.6 124.2L456.1 123.4L458.7 123.2L461.2 121.7L463.8 120.8L466.3 120.8L468.9 119.2L471.4 117.7L473.9 115.2L476.5 115.6L479.0 114.0L481.6 111.6L484.1 108.3L486.7 105.9L489.2 106.1L491.7 103.5L494.3 98.7L496.8 98.5L499.4 90.7L501.9 94.2L504.5 83.8L505.0 86.0 M387.5 119.7L390.0 121.9L392.6 120.7L395.1 120.4L397.7 120.9L400.2 121.7L402.8 121.4L405.3 122.4L407.8 121.8L410.4 122.6L412.9 122.1L415.5 123.4L418.0 123.0L420.6 123.6L423.1 123.2L425.6 123.3L428.2 123.9L430.7 123.9L433.3 124.4L435.8 124.5L438.4 124.1L440.9 124.3L443.4 124.5L446.0 124.2L448.5 124.1L451.1 124.5L453.6 124.0L456.1 124.0L458.7 123.4L461.2 122.3L463.8 120.5L466.3 120.8L468.9 118.8L471.4 118.4L473.9 114.3L476.5 109.1L479.0 106.6L481.6 101.9L484.1 100.0L486.7 89.3L489.2 84.6L491.7 83.9L492.9 78.6 M387.5 120.1L390.0 121.7L392.6 121.7L395.1 122.0L397.7 122.0L400.2 122.3L402.8 122.5L405.3 122.1L407.8 121.7L410.4 122.1L412.9 122.6L415.5 123.1L418.0 122.7L420.6 123.6L423.1 123.9L425.6 123.9L428.2 123.7L430.7 124.0L433.3 124.3L435.8 124.4L438.4 124.2L440.9 124.2L443.4 124.1L446.0 124.3L448.5 124.5L451.1 124.5L453.6 124.0L456.1 123.1L458.7 122.8L461.2 122.1L463.8 122.4L466.3 121.2L468.9 120.7L471.4 119.6L473.9 117.5L476.5 115.6L479.0 114.4L481.6 112.3L484.1 106.2L486.7 101.9L489.2 104.5L491.7 101.2L494.3 94.4L495.4 92.0 M387.5 122.8L390.0 121.9L392.6 122.4L395.1 122.5L397.7 122.6L400.2 123.4L402.8 122.5L405.3 123.6L407.8 123.5L410.4 123.4L412.9 123.1L415.5 123.2L418.0 124.0L420.6 124.0L423.1 124.2L425.6 124.2L428.2 123.8L430.7 124.4L433.3 124.2L435.8 124.4L438.4 124.5L440.9 124.4L443.4 124.4L446.0 124.2L448.5 124.1L451.1 124.2L453.6 124.1L456.1 123.5L458.7 122.3L461.2 123.1L463.8 122.5L466.3 121.6L468.9 118.4L471.4 118.2L473.9 115.0L476.5 112.0L479.0 112.4L481.6 106.8L484.1 106.8L486.7 102.0L489.2 98.6L491.7 95.9L494.3 94.1L495.5 87.4 M387.5 121.8L390.0 120.7L392.6 121.7L395.1 121.2L397.7 121.4L400.2 122.3L402.8 122.6L405.3 122.1L407.8 122.9L410.4 122.0L412.9 122.2L415.5 123.5L418.0 122.8L420.6 123.0L423.1 123.9L425.6 123.6L428.2 123.9L430.7 124.3L433.3 124.1L435.8 124.2L438.4 124.1L440.9 124.0L443.4 124.0L446.0 124.2L448.5 124.1L451.1 124.5L453.6 124.0L456.1 123.4L458.7 122.2L461.2 121.7L463.8 120.9L466.3 119.4L468.9 120.2L471.4 120.3L473.9 117.5L476.5 113.3L479.0 112.2L481.6 106.8L484.1 101.2L486.7 100.2L489.2 88.4L491.7 79.7L493.6 78.7 M387.5 121.7L390.0 121.3L392.6 121.8L395.1 122.5L397.7 122.2L400.2 122.1L402.8 122.2L405.3 123.2L407.8 123.3L410.4 122.8L412.9 122.9L415.5 123.1L418.0 123.5L420.6 123.7L423.1 123.4L425.6 124.0L428.2 124.1L430.7 124.4L433.3 124.5L435.8 124.2L438.4 124.2L440.9 124.4L443.4 124.1L446.0 124.4L448.5 124.3L451.1 124.2L453.6 123.9L456.1 123.2L458.7 122.1L461.2 121.9L463.8 121.7L466.3 122.7L468.9 120.6L471.4 118.6L473.9 117.6L476.5 112.6L479.0 112.1L481.6 105.9L484.1 105.9L486.7 99.5L489.2 96.7L491.7 98.6L494.3 90.2L496.8 87.0L499.4 74.8L500.9 77.6" fill="none" stroke="#4893ee" stroke-width="0.8" stroke-linejoin="round" marker-start="url(#m8)" marker-mid="url(#m8)" marker-end="url(#m8)"/>
<path d="M477.9 107.8L480.7 101.8L483.6 95.9L486.4 90.3L489.2 84.6L492.0 72.7L494.9 66.1 M477.9 112.0L480.7 108.8L483.6 106.8L486.4 102.6L489.2 99.6L492.0 95.6L494.9 84.7L497.7 80.3L498.5 80.6 M477.9 112.9L480.7 111.3L483.6 110.1L486.4 108.0L489.2 104.8L492.0 102.3L494.9 99.0L497.7 94.4L500.5 93.0L501.8 89.7" fill="none" stroke="#ff2a2a" stroke-width="0.7" stroke-linejoin="round" marker-start="url(#m7)" marker-mid="url(#m7)" marker-end="url(#m7)"/>
<path d="M387.5 120.8L389.2 118.1L390.9 116.6L392.6 113.8L394.3 110.5L396.0 109.8L397.7 105.2L399.4 102.1L401.1 98.9L402.8 97.4L404.4 93.3L406.1 93.4L407.8 87.8L409.5 82.1L411.2 78.1L412.9 79.1L414.6 69.2L416.3 68.1L418.0 61.7L419.7 52.7L421.4 47.6L423.1 44.9L423.7 40.1 M387.5 119.4L389.2 116.4L390.9 112.6L392.6 110.5L394.3 107.4L396.0 104.3L397.7 102.5L399.4 94.7L401.1 92.1L402.8 91.2L404.4 86.6L406.1 78.9L407.8 72.0L409.5 69.6L411.2 66.7L412.9 59.2L414.6 49.2L415.5 45.6 M387.5 121.3L389.2 118.7L390.9 117.4L392.6 114.2L394.3 113.7L396.0 109.3L397.7 107.6L399.4 107.2L401.1 106.0L402.8 99.9L404.4 100.9L406.1 98.1L407.8 94.0L409.5 92.4L411.2 90.0L412.9 83.0L414.6 78.2L416.3 72.8L418.0 76.0L419.7 71.7L421.4 61.6L423.1 52.2L424.6 49.9 M387.5 120.9L389.2 118.5L390.9 115.8L392.6 114.4L394.3 112.7L396.0 107.9L397.7 106.4L399.4 103.9L401.1 100.5L402.8 95.6L404.4 91.8L406.1 89.9L407.8 87.1L409.5 83.7L411.2 80.0L412.9 64.8L414.6 57.8L416.3 62.4L417.0 53.5 M387.5 119.1L389.2 117.8L390.9 114.3L392.6 111.4L394.3 110.9L396.0 108.1L397.7 102.4L399.4 102.6L401.1 97.7L402.8 92.7L404.4 90.4L406.1 86.2L407.8 86.1L409.5 77.3L411.2 79.6L412.9 72.4L414.6 66.4L416.3 58.1L418.0 61.2L419.7 54.5L421.3 40.9 M387.5 118.5L389.2 116.5L390.9 115.0L392.6 112.0L394.3 109.8L396.0 107.6L397.7 108.4L399.4 104.2L401.1 101.1L402.8 97.8L404.4 97.1L406.1 94.9L407.8 94.0L409.5 92.4L411.2 89.4L412.9 84.1L414.6 76.4L416.3 75.4L418.0 69.6L418.8 68.0 M387.5 118.7L389.2 115.9L390.9 113.9L392.6 110.4L394.3 108.0L396.0 103.1L397.7 101.7L399.4 96.4L401.1 96.8L402.8 88.6L404.4 85.0L406.1 83.6L407.8 74.6L409.5 68.3L411.2 62.0L412.9 58.3L414.6 55.2L416.3 45.9L417.7 40.9 M387.5 118.1L389.2 116.5L390.9 114.6L392.6 114.4L394.3 110.6L396.0 109.7L397.7 106.9L399.4 105.0L401.1 103.8L402.8 100.1L404.4 97.1L406.1 93.7L407.8 97.1L409.5 88.6L411.2 86.6L412.9 84.9L414.6 80.2L416.3 80.5L418.0 76.4L419.7 76.6L421.4 62.6L423.2 62.7 M387.5 119.2L389.2 116.5L390.9 114.0L392.6 112.0L394.3 108.4L396.0 108.3L397.7 104.3L399.4 101.1L401.1 100.2L402.8 94.3L404.4 94.4L406.1 93.1L407.8 89.8L409.5 84.6L411.2 75.4L412.9 71.6L414.6 67.0L416.3 64.6L418.0 61.2L419.7 53.6L420.5 52.9 M387.5 120.4L389.2 117.6L390.9 114.9L392.6 112.5L394.3 111.5L396.0 107.4L397.7 106.1L399.4 103.4L401.1 100.6L402.8 99.1L404.4 95.4L406.1 88.2L407.8 83.4L409.5 85.1L411.2 73.1L412.9 73.1L414.6 64.4L416.3 67.9L418.0 61.8L419.7 44.5L421.5 41.6 M387.5 120.5L393.1 116.9L398.8 113.4L404.4 108.6L410.1 105.1L415.8 101.6L421.4 98.0L427.1 93.3L432.7 89.7L437.2 80.3L441.2 74.4L445.1 73.2L449.6 74.4" fill="none" stroke="#2ec82e" stroke-width="0.7" stroke-linejoin="round" marker-start="url(#m9)" marker-mid="url(#m9)" marker-end="url(#m9)"/>
<path d="M387.5 118.5L389.2 117.0L390.9 113.8L392.6 113.4L394.3 111.6L396.0 106.6L397.7 108.2L399.4 105.1L401.1 102.9L402.8 97.0L404.4 94.4L406.1 93.0L407.8 92.9L409.5 93.3L411.2 83.3L412.9 87.4L414.6 80.4L416.3 75.8L418.0 75.7L419.7 67.6L421.4 63.1L423.1 67.2L424.8 58.1L426.5 63.7L428.2 53.8L429.9 44.5L431.6 46.9L433.3 39.4L435.0 30.6 M387.5 121.5L389.2 120.1L390.9 119.5L392.6 117.4L394.3 117.1L396.0 116.4L397.7 113.8L399.4 113.1L401.1 111.0L402.8 111.3L404.4 110.1L406.1 107.4L407.8 104.5L409.5 104.1L411.2 102.0L412.9 95.6L414.6 97.0L416.3 93.4L418.0 85.6L419.7 80.5L421.4 78.3L423.1 80.8L424.8 68.2L426.5 71.7L428.2 54.7L429.9 56.0L431.6 49.3L432.7 37.7 M387.5 119.6L389.2 117.9L390.9 115.6L392.6 115.2L394.3 113.1L396.0 109.2L397.7 109.1L399.4 105.1L401.1 103.8L402.8 103.8L404.4 101.2L406.1 94.2L407.8 91.6L409.5 91.2L411.2 93.4L412.9 90.8L414.6 78.9L416.3 77.0L418.0 74.6L419.7 76.4L421.4 64.2L423.1 71.9L424.8 58.8L426.5 54.2L428.2 54.9L429.9 41.9L431.6 42.4 M387.5 117.5L389.2 115.3L390.9 115.0L392.6 113.0L394.3 111.2L396.0 108.7L397.7 107.8L399.4 108.1L401.1 106.1L402.8 105.8L404.4 100.0L406.1 97.6L407.8 99.4L409.5 95.5L411.2 94.1L412.9 92.1L414.6 91.8L416.3 83.6L418.0 76.6L419.7 81.5L421.4 70.9L423.1 66.3L424.8 64.9L426.5 55.1L428.2 56.4L429.9 47.0L430.4 47.2 M387.5 121.7L389.2 120.5L390.9 118.4L392.6 117.6L394.3 116.2L396.0 113.8L397.7 111.6L399.4 109.9L401.1 108.9L402.8 108.9L404.4 106.8L406.1 103.7L407.8 104.5L409.5 101.1L411.2 95.8L412.9 97.1L414.6 91.8L416.3 92.0L418.0 90.9L419.7 86.4L421.4 83.6L423.1 80.9L424.8 77.2L426.5 65.8L428.2 66.3L429.9 63.1L431.6 62.3L433.3 57.2L433.8 51.9 M387.5 118.2L389.2 116.4L390.9 114.4L392.6 113.2L394.3 112.7L396.0 112.4L397.7 108.3L399.4 110.0L401.1 106.1L402.8 102.4L404.4 103.8L406.1 100.7L407.8 100.0L409.5 97.1L411.2 97.1L412.9 90.7L414.6 87.3L416.3 89.6L418.0 88.1L419.7 82.7L421.4 78.1L423.1 73.5L424.8 65.8L426.5 64.1L428.2 67.2L429.3 56.6 M387.5 122.0L389.2 121.0L390.9 119.8L392.6 118.9L394.3 118.4L396.0 116.1L397.7 115.8L399.4 114.9L401.1 113.9L402.8 111.3L404.4 107.4L406.1 106.5L407.8 104.5L409.5 103.7L411.2 101.1L412.9 95.4L414.6 91.5L416.3 93.3L418.0 87.6L419.7 84.6L421.4 83.3L423.1 75.0L424.8 75.1L426.5 59.2L427.1 61.3 M387.5 120.5L389.2 118.2L390.9 116.7L392.6 116.3L394.3 115.9L396.0 113.0L397.7 111.4L399.4 111.5L401.1 107.9L402.8 108.3L404.4 106.9L406.1 106.2L407.8 101.6L409.5 98.9L411.2 97.3L412.9 97.9L414.6 95.9L416.3 95.7L418.0 92.6L419.7 89.6L421.4 87.6L423.1 86.7L424.8 80.1L426.5 81.6L428.2 72.3L429.9 75.4L431.0 66.1 M387.5 120.1L389.2 119.6L390.9 117.1L392.6 115.9L394.3 114.6L396.0 113.4L397.7 111.2L399.4 111.3L401.1 109.0L402.8 108.9L404.4 107.3L406.1 103.3L407.8 100.0L409.5 95.4L411.2 93.5L412.9 96.7L414.6 86.9L416.3 88.3L418.0 84.9L419.7 84.2L421.4 81.6L423.1 73.4L424.8 68.4 M387.5 117.6L389.2 116.2L390.9 116.4L392.6 115.3L394.3 114.4L396.0 111.1L397.7 112.6L399.4 109.6L401.1 109.3L402.8 106.4L404.4 105.9L406.1 105.8L407.8 100.7L409.5 100.7L411.2 102.0L412.9 98.9L414.6 97.3L416.3 94.0L418.0 92.9L419.7 86.1L421.4 83.5L423.1 82.7L424.8 81.0L426.5 73.0L428.2 70.8 M387.5 117.4L389.2 117.3L390.9 114.7L392.6 114.4L394.3 111.6L396.0 110.7L397.7 110.4L399.4 108.8L401.1 104.6L402.8 104.5L404.4 104.4L406.1 100.1L407.8 100.8L409.5 99.3L411.2 95.7L412.9 89.2L414.6 91.3L416.3 82.5L418.0 87.5L419.7 81.2L421.4 81.7L422.5 73.2 M387.5 118.1L389.2 116.6L390.9 116.2L392.6 115.0L394.3 112.9L396.0 111.9L397.7 111.4L399.4 109.1L401.1 107.8L402.8 103.9L404.4 106.2L406.1 101.2L407.8 99.5L409.5 96.3L411.2 96.6L412.9 93.6L414.6 95.9L416.3 87.8L418.0 92.6L419.7 85.4L421.4 87.8L423.1 84.2L424.8 76.6L426.5 77.2L428.2 70.4L429.9 73.3L431.6 71.8L432.7 63.7 M387.5 120.1L389.2 119.4L390.9 117.2L392.6 116.6L394.3 116.2L396.0 114.1L397.7 112.1L399.4 110.4L401.1 111.2L402.8 106.3L404.4 106.4L406.1 107.4L407.8 104.4L409.5 99.6L411.2 102.4L412.9 98.9L414.6 94.3L416.3 96.2L418.0 89.2L419.7 87.7L421.4 88.1L423.1 79.9L424.8 84.7L425.9 77.9" fill="none" stroke="#111111" stroke-width="0.7" stroke-linejoin="round" marker-start="url(#m10)" marker-mid="url(#m10)" marker-end="url(#m10)"/>
<line x1="439.20" y1="30.00" x2="439.20" y2="125.00" stroke="#222" stroke-width="0.75" stroke-dasharray="1.4 1.0"/>
<line x1="387.00" y1="30.10" x2="387.00" y2="125.60" stroke="#222" stroke-width="0.9"/>
<line x1="385.00" y1="101.55" x2="387.00" y2="101.55" stroke="#222" stroke-width="0.8"/>
<text x="384.70" y="104.05" font-size="7.3" text-anchor="end">1,000</text>
<line x1="385.00" y1="77.90" x2="387.00" y2="77.90" stroke="#222" stroke-width="0.8"/>
<text x="384.70" y="80.40" font-size="7.3" text-anchor="end">2,000</text>
<line x1="385.00" y1="54.25" x2="387.00" y2="54.25" stroke="#222" stroke-width="0.8"/>
<text x="384.70" y="56.75" font-size="7.3" text-anchor="end">3,000</text>
<line x1="385.00" y1="30.60" x2="387.00" y2="30.60" stroke="#222" stroke-width="0.8"/>
<text x="384.70" y="33.10" font-size="7.3" text-anchor="end">4,000</text>
<line x1="387.00" y1="125.20" x2="518.50" y2="125.20" stroke="#222" stroke-width="0.9"/>
<line x1="387.50" y1="125.20" x2="387.50" y2="127.20" stroke="#222" stroke-width="0.8"/>
<text x="387.50" y="135.20" font-size="7.3" text-anchor="middle">0</text>
<line x1="415.75" y1="125.20" x2="415.75" y2="127.20" stroke="#222" stroke-width="0.8"/>
<text x="415.75" y="135.20" font-size="7.3" text-anchor="middle">50</text>
<line x1="444.00" y1="125.20" x2="444.00" y2="127.20" stroke="#222" stroke-width="0.8"/>
<text x="444.00" y="135.20" font-size="7.3" text-anchor="middle">100</text>
<line x1="472.25" y1="125.20" x2="472.25" y2="127.20" stroke="#222" stroke-width="0.8"/>
<text x="472.25" y="135.20" font-size="7.3" text-anchor="middle">150</text>
<line x1="500.50" y1="125.20" x2="500.50" y2="127.20" stroke="#222" stroke-width="0.8"/>
<text x="500.50" y="135.20" font-size="7.3" text-anchor="middle">200</text>
<text x="351.50" y="78.10" font-size="7.3" text-anchor="middle" transform="rotate(-90 351.50 78.10)">Tumor volume</text>
<text x="358.90" y="79.70" font-size="7.3" text-anchor="middle" transform="rotate(-90 358.90 79.70)" fill="#1a1a1a">(mm<tspan font-size="4.5" dy="-2.6">3</tspan><tspan dy="2.6">)</tspan></text>
<text x="448.90" y="149.60" font-size="7.3" text-anchor="middle">Days Post Study Initiation</text>
<text x="10.90" y="164.60" font-size="12" font-weight="bold" fill="#000">B</text>
<text x="98.50" y="165.10" font-size="7.3" text-anchor="middle">PDX, LAT001_9B</text>
<text x="98.5" y="174.2" font-size="7.3" text-anchor="middle" fill="#1a1a1a"><tspan font-style="italic">MET</tspan> Amplification</text>
<line x1="86.20" y1="189.00" x2="86.20" y2="290.50" stroke="#c4c4c4" stroke-width="1.4" stroke-dasharray="0.9 0.5"/>
<path d="M46.6 287.8L49.8 287.7L53.0 287.3L56.3 287.3L59.5 286.9L62.7 286.9L66.0 286.6L69.2 286.2L72.4 285.7L75.6 286.0L78.9 285.7L82.1 284.9L85.3 283.6L88.6 282.8L91.8 281.6L95.0 278.9L98.3 278.6L101.5 274.3L104.7 272.8L108.0 269.8L111.2 265.6L114.4 259.4L117.7 249.6L120.9 245.4L124.1 231.5L127.3 217.3L130.6 203.9L131.6 195.9 M45.9 289.1L49.1 288.8L52.4 288.3L55.6 288.0L58.8 287.7L62.1 287.1L65.3 286.8L68.5 286.7L71.8 286.1L75.0 285.8L78.2 285.2L81.4 284.9L84.7 285.0L87.9 284.0L91.1 284.5L94.4 283.7L97.6 282.7L100.8 282.8L104.1 281.7L107.3 281.6L110.5 279.6L113.8 278.4L117.0 277.6L120.2 275.6L123.4 275.5L126.7 272.9L129.9 271.3L133.1 269.2L136.4 267.3L139.6 263.1L142.8 259.4L146.1 258.3L146.7 257.4 M45.9 287.4L49.1 287.3L52.4 286.9L55.6 286.3L58.8 286.4L62.0 285.7L65.3 285.6L68.5 285.3L71.7 285.0L75.0 283.9L78.2 284.2L81.4 283.7L84.7 283.2L87.9 282.2L91.1 282.9L94.4 281.8L97.6 281.0L100.8 279.6L104.0 278.8L107.3 277.6L110.5 277.5L113.7 275.8L117.0 274.4L120.2 271.0L123.4 268.5L126.7 268.8L129.9 266.0L133.1 262.5L136.4 258.8L139.6 252.9L142.8 246.9L145.6 242.3 M45.5 288.1L48.7 287.7L51.9 287.4L55.2 287.0L58.4 286.5L61.6 286.5L64.8 285.5L68.1 285.2L71.3 284.7L74.5 284.3L77.8 284.3L81.0 283.8L84.2 283.4L87.5 281.7L90.7 281.4L93.9 280.1L97.2 278.3L100.4 276.6L103.6 273.9L106.9 272.3L110.1 269.6L113.3 265.5L116.5 261.7L119.8 255.3L123.0 251.5L126.2 238.0L129.5 231.0L132.7 225.4L133.7 217.6 M48.0 288.2L51.3 288.0L54.5 287.7L57.7 287.6L61.0 287.3L64.2 286.8L67.4 286.5L70.7 285.8L73.9 285.9L77.1 285.7L80.4 284.6L83.6 284.5L86.8 284.2L90.1 283.0L93.3 282.8L96.5 281.0L99.7 278.9L103.0 277.5L106.2 275.9L109.4 274.9L112.7 272.2L115.9 270.0L119.1 264.1L122.4 260.8L125.6 254.3L128.8 250.8L132.1 244.4L135.3 230.3L137.0 227.7 M51.9 287.5L55.1 286.9L58.3 286.6L61.6 286.4L64.8 286.1L68.0 285.5L71.2 285.1L74.5 284.2L77.7 283.5L80.9 283.7L84.2 282.6L87.4 282.1L90.6 281.7L93.9 282.1L97.1 281.1L100.3 279.4L103.6 277.3L106.8 274.4L110.0 269.5L113.2 263.5L116.5 257.2L119.7 251.1L122.9 239.3L126.2 223.7L128.4 215.1 M50.4 287.1L53.6 286.7L56.9 285.6L60.1 285.4L63.3 284.3L66.6 283.5L69.8 283.5L73.0 282.8L76.3 281.5L79.5 281.3L82.7 281.5L86.0 280.8L89.2 280.0L92.4 277.5L95.6 276.5L98.9 276.7L102.1 273.5L105.3 271.3L108.6 270.2L111.8 269.1L115.0 265.9L118.3 264.9L121.5 262.5L124.7 253.9L128.0 251.4L131.2 247.4L134.4 238.8L137.6 236.5L139.1 232.7 M51.7 288.8L54.9 288.3L58.1 288.1L61.4 287.7L64.6 287.5L67.8 286.8L71.0 286.8L74.3 286.4L77.5 285.9L80.7 285.3L84.0 285.4L87.2 284.6L90.4 284.6L93.7 283.9L96.9 282.8L100.1 282.3L103.4 280.2L106.6 279.0L109.8 277.5L113.0 273.2L116.3 272.2L119.5 268.0L122.7 263.0L126.0 259.1L129.2 255.0L132.4 247.3L135.7 239.3L138.9 227.8L141.3 222.7 M49.7 288.6L52.9 288.1L56.1 287.5L59.3 286.9L62.6 286.6L65.8 286.0L69.0 285.6L72.3 285.1L75.5 284.4L78.7 284.1L82.0 283.3L85.2 282.5L88.4 280.8L91.7 279.8L94.9 278.0L98.1 275.9L101.4 275.4L104.6 272.1L107.8 267.7L111.0 264.2L114.3 262.9L117.5 258.0L120.7 249.9L124.0 245.0L126.2 235.3 M46.0 287.8L49.2 287.0L52.4 286.5L55.7 286.3L58.9 285.2L62.1 284.5L65.4 284.7L68.6 283.4L71.8 283.5L75.1 282.8L78.3 281.6L81.5 281.3L84.8 281.7L88.0 280.6L91.2 279.6L94.4 278.9L97.7 278.1L100.9 276.5L104.1 273.9L107.4 274.1L110.6 270.5L113.8 268.5L117.1 267.5L120.3 263.1L123.5 258.0L126.8 254.3L130.0 252.3L133.2 239.9L134.8 240.3 M52.8 288.9L56.0 288.6L59.2 288.3L62.4 287.8L65.7 287.2L68.9 286.8L72.1 286.8L75.4 286.5L78.6 285.5L81.8 285.4L85.1 284.8L88.3 285.0L91.5 284.4L94.8 282.6L98.0 281.8L101.2 281.0L104.5 277.9L107.7 276.7L110.9 274.2L114.1 273.9L117.4 269.0L120.6 268.8L123.8 262.3L127.1 260.3L130.3 256.5L133.5 250.3L136.8 241.8L140.0 240.2L143.4 230.2 M47.2 289.0L50.5 288.7L53.7 288.3L56.9 287.8L60.2 287.7L63.4 287.2L66.6 287.1L69.8 286.6L73.1 286.5L76.3 286.0L79.5 285.9L82.8 284.9L86.0 284.5L89.2 284.0L92.5 282.5L95.7 280.6L98.9 280.5L102.2 277.5L105.4 276.4L108.6 274.1L111.8 270.5L115.1 269.1L118.3 265.4L121.5 260.8L124.8 254.7L128.0 253.2L130.5 247.9 M50.8 288.0L54.0 287.6L57.2 287.4L60.5 286.6L63.7 286.6L66.9 286.4L70.1 286.2L73.4 285.2L76.6 284.9L79.8 284.7L83.1 284.8L86.3 284.5L89.5 284.2L92.8 283.2L96.0 282.4L99.2 280.6L102.5 279.2L105.7 275.6L108.9 272.9L112.1 271.1L115.4 268.6L118.6 261.5L121.8 259.5L125.1 253.3L128.3 248.8L131.5 237.4L134.8 226.0L138.1 212.6 M49.2 289.2L52.5 288.8L55.7 288.3L58.9 287.7L62.2 287.2L65.4 286.5L68.6 286.0L71.9 285.3L75.1 284.9L78.3 284.3L81.5 283.2L84.8 282.8L88.0 281.7L91.2 279.4L94.5 279.4L97.7 276.6L100.9 274.8L104.2 274.3L107.4 269.5L110.6 266.3L113.9 264.1L117.1 259.8L120.3 255.1L123.0 252.9 M49.4 287.9L52.6 287.3L55.8 286.4L59.1 285.8L62.3 285.0L65.5 284.7L68.8 284.3L72.0 283.5L75.2 282.5L78.5 282.3L81.7 280.9L84.9 280.8L88.2 280.0L91.4 279.3L94.6 278.4L97.8 277.9L101.1 278.0L104.3 275.1L107.5 273.9L110.8 273.2L114.0 271.5L117.2 269.4L120.5 269.6L123.7 265.0L126.9 264.6L130.2 262.9L133.4 259.1L136.6 253.2L140.2 250.4" fill="none" stroke="#ff2a2a" stroke-width="0.7" stroke-linejoin="round" marker-start="url(#m11)" marker-mid="url(#m11)" marker-end="url(#m11)"/>
<path d="M46.2 279.0L50.0 279.2L53.7 279.1L57.5 280.1L61.3 279.2L65.0 276.5L68.8 272.2L72.6 270.0L76.3 265.0L80.1 262.7L83.9 257.1L87.6 249.2L91.4 237.8L95.2 227.1L98.2 219.1 M45.8 282.4L49.6 282.2L53.4 279.8L57.1 278.7L60.9 279.3L64.7 277.1L68.5 274.4L72.2 271.8L76.0 270.7L79.8 268.4L83.5 265.2L87.3 257.5L91.1 256.3L94.8 248.1L98.6 244.3L101.4 235.3 M45.0 279.2L48.8 277.2L52.6 273.3L56.3 273.0L60.1 272.9L63.9 271.4L67.6 267.9L71.4 266.0L75.2 264.5L78.9 262.9L82.7 259.4L86.5 256.8L90.3 250.6L94.0 252.6L97.8 243.7L101.6 238.7L102.5 240.3 M42.8 279.9L46.6 277.8L50.4 277.6L54.2 277.2L57.9 276.1L61.7 275.5L65.5 275.1L69.2 272.5L73.0 266.8L76.8 265.2L80.5 257.8L84.3 256.3L88.1 250.5L91.8 241.8L96.0 232.7 M44.2 278.8L48.0 278.8L51.7 277.8L55.5 278.5L59.3 276.3L63.1 276.2L66.8 274.8L70.6 273.9L74.4 271.9L78.1 269.2L81.9 261.0L85.7 259.3L89.4 250.6L92.8 242.8 M44.1 283.1L47.8 281.2L51.6 279.8L55.4 278.6L59.1 277.1L62.9 275.4L66.7 271.8L70.4 271.0L74.2 269.8L78.0 264.9L81.7 261.7L85.5 261.2L89.3 259.7L93.1 256.1L96.8 253.2L99.3 247.9 M44.0 283.7L47.8 282.7L51.6 281.4L55.3 279.9L59.1 278.7L62.9 277.0L66.7 275.8L70.4 273.1L74.2 268.3L78.0 268.3L81.7 263.4L85.5 258.8L89.3 252.7L90.7 252.9 M43.4 282.6L47.1 281.1L50.9 281.0L54.7 279.7L58.4 276.7L62.2 274.4L66.0 273.4L69.7 270.9L73.5 270.6L77.3 266.6L81.1 261.5L84.8 258.6L88.6 254.7L92.4 249.8L96.1 250.0L99.9 246.2L103.6 237.8 M43.0 281.4L46.8 280.4L50.6 278.8L54.3 278.5L58.1 275.4L61.9 275.3L65.6 271.9L69.4 270.1L73.2 268.0L77.0 264.9L80.7 259.8L84.5 251.7L88.3 243.9L92.0 239.7L95.0 227.7" fill="none" stroke="#4893ee" stroke-width="0.7" stroke-linejoin="round" marker-start="url(#m12)" marker-mid="url(#m12)" marker-end="url(#m12)"/>
<path d="M42.2 281.6L44.9 278.8L47.6 274.5L50.3 272.4L53.0 267.2L55.7 261.5L58.4 253.0L61.0 247.8L63.7 237.8L67.0 229.5 M42.2 279.2L44.9 277.4L47.6 275.5L50.3 271.3L53.0 267.3L55.7 264.7L58.4 261.5L61.0 254.9L63.7 248.0L66.4 247.1L69.4 237.9 M42.2 281.4L44.9 277.8L47.6 275.0L50.3 272.4L53.0 270.1L55.7 263.4L58.4 262.0L61.0 254.6L63.7 252.7L66.4 247.0L69.1 235.8L71.0 232.6 M42.2 282.3L44.9 279.2L47.6 275.3L50.3 270.6L53.0 264.9L55.7 263.3L58.4 256.5L61.0 251.2L63.7 237.8L66.4 235.9L69.1 226.9L70.3 216.6 M42.2 279.2L44.9 276.3L47.6 272.1L50.3 268.3L53.0 266.3L55.7 262.5L58.4 253.2L61.0 248.0L63.7 246.3L66.8 233.4 M42.2 283.2L44.9 281.1L47.6 278.1L50.3 275.1L53.0 270.1L55.7 269.3L58.4 261.9L61.0 260.8L63.7 255.0L66.4 246.0L69.1 238.8L71.6 234.0 M42.2 282.2L44.9 279.3L47.6 278.5L50.3 275.8L53.0 271.8L55.7 271.7L58.4 267.3L61.0 262.2L63.7 258.4L66.4 258.0L69.1 253.6L71.8 248.3L72.4 243.9 M42.2 280.0L44.9 279.1L47.6 277.4L50.3 273.7L53.0 272.3L55.7 271.0L58.4 266.9L61.0 265.7L63.7 263.0L66.4 261.3L69.1 253.8L71.8 248.7L74.5 246.2L77.2 239.0L79.8 237.6" fill="none" stroke="#1d8a1d" stroke-width="0.7" stroke-linejoin="round" marker-start="url(#m13)" marker-mid="url(#m13)" marker-end="url(#m13)"/>
<path d="M42.2 285.7L44.9 281.5L47.6 276.0L50.3 270.4L53.0 266.1L55.7 259.4L58.4 249.2L61.0 236.9L63.7 216.7L65.4 210.1 M42.2 284.2L44.9 281.0L47.6 277.2L50.3 273.2L53.0 269.2L55.7 265.3L58.4 259.7L61.0 252.8L63.7 241.8L66.4 238.0L69.1 225.8L71.3 211.3 M42.2 281.3L44.9 279.3L47.6 276.8L50.3 272.7L53.0 270.3L55.7 264.5L58.4 260.9L61.0 256.1L63.7 255.5L66.4 251.9L69.1 246.7L71.8 237.5L74.5 228.6L77.2 223.4L79.9 214.1 M42.2 282.9L44.9 281.1L47.6 279.2L50.3 277.1L53.0 275.5L55.7 274.8L58.4 270.5L61.0 269.8L63.7 266.2L66.4 264.2L69.1 259.5L71.8 258.9L74.5 255.1L77.2 251.3L79.9 247.7L82.6 237.2L85.3 234.2L87.4 230.2 M42.2 283.7L44.9 279.9L47.6 277.5L50.3 274.7L53.0 268.9L55.7 264.8L58.4 257.7L61.0 256.3L63.7 246.8L66.4 235.3L69.1 227.7 M42.2 280.7L44.9 277.6L47.6 275.1L50.3 271.9L53.0 265.6L55.7 263.1L58.4 257.0L61.0 255.1L63.7 246.6L66.4 243.5L69.1 238.5L71.8 226.0L74.5 220.1 M42.2 284.9L44.9 282.1L47.6 279.7L50.3 276.1L53.0 272.9L55.7 268.3L58.4 262.8L61.0 254.5L63.7 246.1L67.0 235.3 M42.2 285.7L44.9 283.6L47.6 282.4L50.3 280.2L53.0 278.2L55.7 274.4L58.4 272.2L61.0 270.7L63.7 267.3L66.4 262.2L69.1 256.9L71.8 251.1L74.5 248.8L76.7 240.3 M42.2 284.4L44.9 282.8L47.6 280.8L50.3 278.5L53.0 274.4L55.7 273.1L58.4 269.1L61.0 266.2L63.7 261.7L66.4 254.5L69.1 247.6L72.4 242.8 M42.2 284.2L44.9 281.0L47.6 277.2L50.3 269.4L53.0 264.7L55.7 254.8L58.4 247.4L61.0 230.9L62.7 225.2" fill="none" stroke="#111111" stroke-width="0.7" stroke-linejoin="round" marker-start="url(#m14)" marker-mid="url(#m14)" marker-end="url(#m14)"/>
<line x1="42.00" y1="189.40" x2="42.00" y2="291.10" stroke="#222" stroke-width="0.9"/>
<line x1="40.00" y1="265.50" x2="42.00" y2="265.50" stroke="#222" stroke-width="0.8"/>
<text x="39.70" y="268.00" font-size="7.3" text-anchor="end">1,000</text>
<line x1="40.00" y1="240.30" x2="42.00" y2="240.30" stroke="#222" stroke-width="0.8"/>
<text x="39.70" y="242.80" font-size="7.3" text-anchor="end">2,000</text>
<line x1="40.00" y1="215.10" x2="42.00" y2="215.10" stroke="#222" stroke-width="0.8"/>
<text x="39.70" y="217.60" font-size="7.3" text-anchor="end">3,000</text>
<line x1="40.00" y1="189.90" x2="42.00" y2="189.90" stroke="#222" stroke-width="0.8"/>
<text x="39.70" y="192.40" font-size="7.3" text-anchor="end">4,000</text>
<line x1="41.30" y1="290.70" x2="152.00" y2="290.70" stroke="#222" stroke-width="0.9"/>
<line x1="42.20" y1="290.70" x2="42.20" y2="292.70" stroke="#222" stroke-width="0.8"/>
<text x="42.20" y="300.70" font-size="7.3" text-anchor="middle">0</text>
<line x1="96.05" y1="290.70" x2="96.05" y2="292.70" stroke="#222" stroke-width="0.8"/>
<text x="96.05" y="300.70" font-size="7.3" text-anchor="middle">50</text>
<line x1="149.90" y1="290.70" x2="149.90" y2="292.70" stroke="#222" stroke-width="0.8"/>
<text x="149.90" y="300.70" font-size="7.3" text-anchor="middle">100</text>
<text x="6.30" y="240.30" font-size="7.3" text-anchor="middle" transform="rotate(-90 6.30 240.30)">Tumor volume</text>
<text x="13.70" y="241.90" font-size="7.3" text-anchor="middle" transform="rotate(-90 13.70 241.90)" fill="#1a1a1a">(mm<tspan font-size="4.5" dy="-2.6">3</tspan><tspan dy="2.6">)</tspan></text>
<text x="95.70" y="314.20" font-size="7.3" text-anchor="middle">Days Post Study Initiation</text>
<path d="M96.5 193.8V189.2H133.5V193.8" fill="none" stroke="#000" stroke-width="1"/>
<text x="115.00" y="190.60" font-size="10.3" text-anchor="middle" font-weight="bold" fill="#000">***</text>
<text x="269.50" y="164.80" font-size="7.3" text-anchor="middle">PDX, LAT006_0118</text>
<text x="269.5" y="174.2" font-size="7.3" text-anchor="middle" fill="#1a1a1a"><tspan font-style="italic">MET</tspan> Amplification</text>
<line x1="249.00" y1="190.00" x2="249.00" y2="290.50" stroke="#c4c4c4" stroke-width="1.6" stroke-dasharray="0.9 0.5"/>
<path d="M209.8 287.8L214.9 287.5L220.0 287.6L225.1 287.5L230.2 287.7L235.3 287.7L240.4 287.5L245.5 287.3L250.6 287.7L255.7 287.5L260.8 287.3L265.9 287.2L271.0 287.6L276.1 287.4L281.2 285.6L286.3 283.2L291.4 280.2L296.5 275.4L301.6 262.4L306.7 247.9L307.7 242.4 M218.0 289.0L223.1 288.8L228.2 288.9L233.3 289.1L238.4 289.1L243.5 289.1L248.6 289.1L253.7 289.1L258.8 289.2L263.9 289.2L269.0 289.1L274.1 289.1L279.2 289.1L284.3 288.1L289.4 286.4L294.5 284.3L299.6 277.9L304.7 270.2L309.8 249.8L313.7 225.2 M212.7 288.0L217.8 288.1L222.9 288.2L228.0 288.4L233.1 288.2L238.2 288.3L243.3 288.5L248.4 288.3L253.5 288.4L258.6 288.5L263.7 288.7L268.8 288.7L273.9 288.7L279.0 287.9L284.1 286.1L289.2 283.7L294.3 278.1L299.4 268.7L304.5 254.3L308.9 225.0 M217.1 286.8L222.2 287.1L227.3 287.0L232.4 287.8L237.5 287.7L242.6 287.9L247.7 288.3L252.8 288.5L257.9 289.0L263.0 289.1L268.1 289.5L273.2 289.4L278.3 288.8L283.4 288.1L288.5 286.1L293.6 282.8L298.7 279.0L303.8 269.2L308.9 249.6L310.1 245.4 M212.4 286.4L217.5 287.0L222.6 287.2L227.7 287.2L232.8 287.5L237.9 287.8L243.0 287.9L248.1 288.1L253.2 287.9L258.3 288.2L263.4 288.3L268.5 288.0L273.6 286.4L278.7 284.8L283.8 280.7L288.9 274.1L294.0 264.1L299.1 241.4L303.6 214.9 M218.6 289.2L223.7 289.0L228.8 289.1L233.9 288.7L239.0 288.8L244.1 288.8L249.2 288.6L254.3 288.6L259.4 288.6L264.5 288.3L269.6 288.5L274.7 288.1L279.8 288.3L284.9 287.3L290.0 284.7L295.1 280.6L300.2 271.2L305.3 253.8L309.0 226.7 M211.1 287.1L216.2 287.7L221.3 287.7L226.4 287.6L231.5 288.0L236.6 288.1L241.7 288.0L246.8 288.2L251.9 288.2L257.0 288.4L262.1 288.3L267.2 288.4L272.3 288.3L277.4 286.9L282.5 284.8L287.6 281.6L292.7 273.1L297.8 263.1L301.4 247.2 M216.1 286.6L221.2 287.0L226.3 286.7L231.4 287.0L236.5 287.3L241.6 287.3L246.7 287.6L251.8 287.6L256.9 287.9L262.0 288.3L267.1 288.2L272.2 288.8L277.3 288.7L282.4 287.6L287.5 285.5L292.6 281.2L297.7 269.5L303.4 244.9 M211.1 288.8L216.2 288.7L221.3 288.9L226.4 288.8L231.5 288.8L236.6 288.8L241.7 288.5L246.8 288.5L251.9 288.5L257.0 288.8L262.1 288.4L267.2 288.4L272.3 288.5L277.4 287.7L282.5 286.4L287.6 284.0L292.7 279.7L297.8 271.0L302.9 256.3L308.0 223.6L308.9 213.2 M218.2 287.0L223.3 287.0L228.4 287.3L233.5 287.6L238.6 287.5L243.7 287.5L248.8 288.0L253.9 287.8L259.0 288.4L264.1 288.4L269.2 288.2L274.3 287.1L279.4 285.5L284.5 283.5L289.6 280.8L294.7 274.3L299.8 267.6L304.9 255.2L310.0 227.9L311.6 222.4 M216.4 285.9L221.5 285.9L226.6 286.4L231.7 286.4L236.8 286.6L241.9 286.9L247.0 287.2L252.1 287.0L257.2 287.5L262.3 287.2L267.4 287.8L272.5 287.7L277.6 286.6L282.7 284.0L287.8 281.7L292.9 277.5L298.0 270.4L303.1 258.2L308.2 231.8L310.0 222.5 M217.1 289.2L222.2 289.1L227.3 289.1L232.4 289.3L237.5 289.0L242.6 288.9L247.7 288.9L252.8 289.1L257.9 289.1L263.0 289.0L268.1 289.0L273.2 288.7L278.3 287.9L283.4 286.6L288.5 283.9L293.6 279.7L298.7 272.8L303.8 260.0L308.9 234.7L310.0 222.4 M212.9 288.1L218.0 288.0L223.1 288.3L228.2 288.4L233.3 288.3L238.4 288.6L243.5 288.6L248.6 288.8L253.7 289.1L258.8 289.1L263.9 289.0L269.0 288.4L274.1 287.8L279.2 286.4L284.3 284.7L289.4 282.6L294.5 277.5L299.6 273.4L304.7 261.5L309.8 250.6L311.7 240.8" fill="none" stroke="#ff2a2a" stroke-width="0.7" stroke-linejoin="round" marker-start="url(#m11)" marker-mid="url(#m11)" marker-end="url(#m11)"/>
<path d="M209.6 283.4L214.7 281.7L219.8 278.1L224.9 277.1L230.0 274.1L235.1 271.3L240.2 268.9L245.3 265.5L250.4 254.6L255.5 235.3L260.6 214.5L262.3 198.5 M209.6 285.7L214.7 283.5L219.8 282.5L224.9 279.7L230.0 278.1L235.1 276.1L240.2 272.1L245.3 267.1L250.4 259.3L255.5 249.3L261.4 232.5 M209.6 286.8L214.7 284.3L219.8 281.8L224.9 276.9L230.0 271.8L235.1 261.0L240.2 245.4L245.3 219.8L248.3 203.8 M209.6 283.8L214.7 283.4L219.8 282.6L224.9 282.7L230.0 279.2L235.1 273.7L240.2 267.6L245.3 260.8L250.4 246.6L255.5 224.9L258.5 215.3 M209.6 285.0L214.7 282.4L219.8 279.7L224.9 277.0L230.0 273.9L235.1 272.3L240.2 264.6L245.3 254.9L250.6 236.9 M209.6 277.9L214.7 278.1L219.8 277.7L224.9 275.8L230.0 273.5L235.1 268.5L240.2 266.3L245.3 260.9L250.4 253.8L255.5 249.0L258.1 241.2 M209.6 281.2L214.7 280.2L219.8 277.6L224.9 276.4L230.0 273.8L235.1 265.9L240.2 257.8L245.3 242.5L250.4 219.9L253.1 208.4 M209.6 280.6L214.7 278.8L219.8 277.7L224.9 276.2L230.0 275.2L235.1 274.2L240.2 271.8L245.3 264.4L250.4 248.2L253.4 235.1 M209.6 281.8L214.7 280.1L219.8 279.0L224.9 276.3L230.0 271.3L235.1 268.4L240.2 259.5L245.3 249.5L250.4 240.6L255.5 224.8L259.0 212.1 M209.6 281.9L214.7 277.7L219.8 274.1L224.9 270.0L230.0 267.6L235.1 264.1L240.2 261.9L245.3 257.8L250.4 252.7L255.5 250.2L260.6 246.2L261.9 244.2 M209.6 281.9L214.7 277.7L219.8 276.4L224.9 274.7L230.0 271.3L235.1 267.4L240.2 265.0L245.3 258.4L250.4 252.7L255.5 244.0L260.6 238.8L261.5 236.0 M209.6 281.2L214.7 279.5L219.8 279.5L224.9 279.2L230.0 278.7L235.1 276.5L240.2 275.7L245.3 266.4L251.1 235.3" fill="none" stroke="#4893ee" stroke-width="0.7" stroke-linejoin="round" marker-start="url(#m15)" marker-mid="url(#m15)" marker-end="url(#m15)"/>
<path d="M209.6 280.9L214.4 276.3L219.1 271.0L223.9 268.5L228.6 259.9L233.4 252.4L238.2 247.3L242.9 243.2L247.7 232.2L252.4 225.2L257.9 205.0 M209.6 280.3L214.4 274.7L219.1 267.8L223.9 259.5L228.6 249.7L233.4 241.2L238.2 228.8L242.9 213.6L245.8 204.5 M209.6 280.7L214.4 277.8L219.1 274.5L223.9 272.7L228.6 267.9L233.4 265.1L238.2 260.0L242.9 259.5L247.7 255.1L252.4 251.8L257.2 241.7L260.6 240.0 M209.6 278.3L214.4 274.0L219.1 265.8L223.9 259.5L228.6 255.3L233.4 241.5L234.4 242.4 M209.6 278.1L214.4 273.3L219.1 267.5L223.9 264.2L228.6 255.3L233.4 248.7L238.2 238.4L242.9 231.1L247.7 214.5L248.6 216.4 M209.6 283.2L214.4 279.3L219.1 276.6L223.9 271.5L228.6 268.1L233.4 261.5L238.2 255.3L242.9 247.8L247.0 240.9 M209.6 277.5L214.4 275.4L219.1 273.1L223.9 270.4L228.6 269.7L233.4 267.2L238.2 262.5L242.9 263.7L247.7 258.2L252.4 255.1L256.4 253.2 M209.6 277.9L214.4 271.1L219.1 258.4L223.9 248.6L228.6 233.5L230.9 224.5 M209.6 278.2L214.4 276.9L219.1 273.5L223.9 272.7L228.6 270.0L233.4 267.4L238.2 263.7L242.9 263.3L247.7 259.3L252.4 256.1L257.5 251.9 M209.6 277.7L214.4 274.7L219.1 272.4L223.9 268.5L228.6 263.2L233.4 260.7L238.2 255.9L242.9 254.1L247.7 249.5L252.4 244.6L255.3 239.6" fill="none" stroke="#1d8a1d" stroke-width="0.7" stroke-linejoin="round" marker-start="url(#m13)" marker-mid="url(#m13)" marker-end="url(#m13)"/>
<path d="M209.6 284.1L213.3 280.2L217.1 273.4L220.8 265.0L224.6 258.1L228.3 242.8L232.0 218.7L235.1 199.5 M209.6 283.9L213.3 275.4L217.1 264.6L220.8 248.2L224.2 216.0 M209.6 286.0L213.3 282.7L217.1 277.8L220.8 271.4L224.6 264.7L228.3 253.4L232.0 239.9L234.1 224.5 M209.6 285.3L213.3 282.0L217.1 276.0L220.8 270.9L224.6 257.8L228.3 249.6L230.9 234.5 M209.6 285.7L213.3 283.4L217.1 278.9L220.8 275.1L224.6 269.0L228.3 256.3L232.0 243.0L233.5 238.0 M209.6 285.3L213.3 281.4L217.1 276.8L220.8 268.0L224.6 260.3L228.3 240.5L232.0 219.9L233.4 212.5" fill="none" stroke="#111111" stroke-width="0.7" stroke-dasharray="1.2 0.8" stroke-linejoin="round" marker-start="url(#m14)" marker-mid="url(#m14)" marker-end="url(#m14)"/>
<line x1="208.00" y1="190.50" x2="208.00" y2="291.40" stroke="#222" stroke-width="0.9"/>
<line x1="206.00" y1="266.00" x2="208.00" y2="266.00" stroke="#222" stroke-width="0.8"/>
<text x="205.70" y="268.50" font-size="7.3" text-anchor="end">1,000</text>
<line x1="206.00" y1="241.00" x2="208.00" y2="241.00" stroke="#222" stroke-width="0.8"/>
<text x="205.70" y="243.50" font-size="7.3" text-anchor="end">2,000</text>
<line x1="206.00" y1="216.00" x2="208.00" y2="216.00" stroke="#222" stroke-width="0.8"/>
<text x="205.70" y="218.50" font-size="7.3" text-anchor="end">3,000</text>
<line x1="206.00" y1="191.00" x2="208.00" y2="191.00" stroke="#222" stroke-width="0.8"/>
<text x="205.70" y="193.50" font-size="7.3" text-anchor="end">4,000</text>
<line x1="207.70" y1="291.00" x2="330.00" y2="291.00" stroke="#222" stroke-width="0.9"/>
<line x1="209.60" y1="291.00" x2="209.60" y2="293.00" stroke="#222" stroke-width="0.8"/>
<text x="209.60" y="301.00" font-size="7.3" text-anchor="middle">0</text>
<line x1="294.60" y1="291.00" x2="294.60" y2="293.00" stroke="#222" stroke-width="0.8"/>
<text x="294.60" y="301.00" font-size="7.3" text-anchor="middle">50</text>
<text x="173.10" y="245.10" font-size="7.3" text-anchor="middle" transform="rotate(-90 173.10 245.10)">Tumor volume</text>
<text x="180.50" y="246.70" font-size="7.3" text-anchor="middle" transform="rotate(-90 180.50 246.70)" fill="#1a1a1a">(mm<tspan font-size="4.5" dy="-2.6">3</tspan><tspan dy="2.6">)</tspan></text>
<text x="265.00" y="314.50" font-size="7.3" text-anchor="middle">Days Post Study Initiation</text>
<path d="M261.3 195V190.7H306V195" fill="none" stroke="#000" stroke-width="1"/>
<text x="283.60" y="189.90" font-size="10.3" text-anchor="middle" font-weight="bold" fill="#000">***</text>
<text x="362.70" y="191.50" font-size="7.3">PDX Treatment Arm</text>
<line x1="361.00" y1="200.20" x2="369.60" y2="200.20" stroke="#111111" stroke-width="1.1"/>
<path d="M362.2 200.2L365.3 198.0L368.4 200.2L365.3 202.4Z" fill="#111111"/>
<text x="373.30" y="202.70" font-size="7.3">Vehicle</text>
<line x1="361.00" y1="211.20" x2="369.60" y2="211.20" stroke="#1d8a1d" stroke-width="1.1"/>
<g fill="#1d8a1d"><path d="M365.3 208.4L367.8 213.0L362.8 213.0Z"/></g>
<text x="373.30" y="213.70" font-size="7.3">Savolitinib</text>
<line x1="361.00" y1="222.70" x2="369.60" y2="222.70" stroke="#4893ee" stroke-width="1.1"/>
<rect x="362.6" y="220.8" width="5.4" height="3.8" rx="0.8" fill="#4893ee"/>
<text x="373.30" y="225.20" font-size="7.3">Osimertinib</text>
<line x1="361.00" y1="234.80" x2="369.60" y2="234.80" stroke="#ff2a2a" stroke-width="1.1"/>
<g fill="#ff2a2a"><path d="M365.3 237.6L367.8 233.0L362.8 233.0Z"/></g>
<text x="373.30" y="237.30" font-size="7.3">Osimertinib + Savolitinib</text>
<text x="10.30" y="350.40" font-size="12" font-weight="bold" fill="#000">C</text>
<text x="53.90" y="367.10" font-size="7.3" text-anchor="middle">Phospho-MET</text>
<rect x="24.5" y="370.5" width="63.0" height="59.8" fill="#fff" stroke="#b4b4b4" stroke-width="0.9"/>
<text x="22.60" y="376.55" font-size="7.6" text-anchor="end">200</text>
<text x="22.60" y="389.95" font-size="7.6" text-anchor="end">150</text>
<text x="22.60" y="403.25" font-size="7.6" text-anchor="end">100</text>
<text x="22.60" y="416.55" font-size="7.6" text-anchor="end">50</text>
<text x="22.60" y="430.05" font-size="7.6" text-anchor="end">0</text>
<path d="M41.5 426.0V426.8M41.5 427.6V427.8" stroke="#9a9a9a" stroke-width="0.7" fill="none"/>
<rect x="30.5" y="426.8" width="22.0" height="0.8" fill="#fff" stroke="#9a9a9a" stroke-width="0.7"/>
<line x1="30.5" y1="427.2" x2="52.5" y2="427.2" stroke="#555" stroke-width="0.8"/>
<path d="M70.6 372.4V390.6M70.6 405.6V413.2" stroke="#9a9a9a" stroke-width="0.7" fill="none"/>
<rect x="59.8" y="390.6" width="21.6" height="15.0" fill="#fff" stroke="#9a9a9a" stroke-width="0.7"/>
<line x1="59.8" y1="399.6" x2="81.4" y2="399.6" stroke="#555" stroke-width="0.8"/>
<circle cx="38.9" cy="424.2" r="1.8" fill="#66c2a5" stroke="#666" stroke-width="0.3"/><circle cx="36.5" cy="426.5" r="1.8" fill="#a6d854" stroke="#666" stroke-width="0.3"/><circle cx="40.5" cy="427.4" r="1.8" fill="#e78ac3" stroke="#666" stroke-width="0.3"/><circle cx="43.5" cy="426.8" r="1.8" fill="#66c2a5" stroke="#666" stroke-width="0.3"/><circle cx="46.5" cy="427.3" r="1.8" fill="#e78ac3" stroke="#666" stroke-width="0.3"/><circle cx="42.0" cy="427.6" r="1.8" fill="#a6d854" stroke="#666" stroke-width="0.3"/><circle cx="37.5" cy="427.6" r="1.8" fill="#e78ac3" stroke="#666" stroke-width="0.3"/><circle cx="72.8" cy="372.9" r="1.8" fill="#8da0cb" stroke="#666" stroke-width="0.3"/><circle cx="74.4" cy="378.1" r="1.8" fill="#8da0cb" stroke="#666" stroke-width="0.3"/><circle cx="70.9" cy="394.9" r="1.8" fill="#8da0cb" stroke="#666" stroke-width="0.3"/><circle cx="70.4" cy="402.7" r="1.8" fill="#8da0cb" stroke="#666" stroke-width="0.3"/><circle cx="70.6" cy="396.6" r="1.8" fill="#fc8d62" stroke="#666" stroke-width="0.3"/><circle cx="69.2" cy="404.7" r="1.8" fill="#fc8d62" stroke="#666" stroke-width="0.3"/><circle cx="67.1" cy="407.9" r="1.8" fill="#fc8d62" stroke="#666" stroke-width="0.3"/><circle cx="67.1" cy="413.0" r="1.8" fill="#fc8d62" stroke="#666" stroke-width="0.3"/>
<text x="85.8" y="427.2" font-size="7.3" text-anchor="end" fill="#1a1a1a"><tspan font-style="italic">P</tspan>=0.005</text>
<text x="41.20" y="439.60" font-size="7.5" text-anchor="middle">No</text>
<text x="41.20" y="448.40" font-size="7.5" text-anchor="middle">Response</text>
<text x="70.60" y="439.60" font-size="7.5" text-anchor="middle">Response</text>
<text x="6.2" y="401.2" font-size="7.3" text-anchor="middle" transform="rotate(-90 6.2 401.2)" fill="#1a1a1a">H-Score</text>
<text x="146.2" y="366.5" font-size="7.3" text-anchor="middle" fill="#1a1a1a"><tspan font-style="italic">MET</tspan> FISH</text>
<rect x="115.4" y="370.3" width="64.2" height="60.0" fill="#fff" stroke="#b4b4b4" stroke-width="0.9"/>
<text x="113.80" y="381.15" font-size="7.6" text-anchor="end">10</text>
<text x="113.80" y="394.25" font-size="7.6" text-anchor="end">8</text>
<text x="113.80" y="407.35" font-size="7.6" text-anchor="end">6</text>
<text x="113.80" y="420.55" font-size="7.6" text-anchor="end">4</text>
<path d="M132.4 409.5V412.6M132.4 421.3V427.7" stroke="#9a9a9a" stroke-width="0.7" fill="none"/>
<rect x="121.2" y="412.6" width="22.4" height="8.7" fill="#fff" stroke="#9a9a9a" stroke-width="0.7"/>
<line x1="121.2" y1="418.5" x2="143.6" y2="418.5" stroke="#555" stroke-width="0.8"/>
<path d="M161.4 372.8V374.4M161.4 381.8V390.5" stroke="#9a9a9a" stroke-width="0.7" fill="none"/>
<rect x="150.2" y="374.4" width="22.4" height="7.4" fill="#fff" stroke="#9a9a9a" stroke-width="0.7"/>
<line x1="150.2" y1="379.2" x2="172.6" y2="379.2" stroke="#555" stroke-width="0.8"/>
<circle cx="131.5" cy="409.5" r="1.8" fill="#66c2a5" stroke="#666" stroke-width="0.3"/><circle cx="132.6" cy="411.4" r="1.8" fill="#a6d854" stroke="#666" stroke-width="0.3"/><circle cx="135.0" cy="416.8" r="1.8" fill="#66c2a5" stroke="#666" stroke-width="0.3"/><circle cx="129.8" cy="420.2" r="1.8" fill="#e78ac3" stroke="#666" stroke-width="0.3"/><circle cx="136.4" cy="421.1" r="1.8" fill="#a6d854" stroke="#666" stroke-width="0.3"/><circle cx="133.3" cy="427.3" r="1.8" fill="#e78ac3" stroke="#666" stroke-width="0.3"/><circle cx="160.6" cy="373.0" r="1.8" fill="#8da0cb" stroke="#666" stroke-width="0.3"/><circle cx="158.3" cy="373.7" r="1.8" fill="#fc8d62" stroke="#666" stroke-width="0.3"/><circle cx="160.0" cy="377.5" r="1.8" fill="#fc8d62" stroke="#666" stroke-width="0.3"/><circle cx="162.3" cy="380.1" r="1.8" fill="#8da0cb" stroke="#666" stroke-width="0.3"/><circle cx="159.2" cy="381.5" r="1.8" fill="#8da0cb" stroke="#666" stroke-width="0.3"/><circle cx="160.6" cy="390.5" r="1.8" fill="#fc8d62" stroke="#666" stroke-width="0.3"/>
<text x="177.0" y="427.5" font-size="7.3" text-anchor="end" fill="#1a1a1a"><tspan font-style="italic">P</tspan>=1.2e-06</text>
<text x="132.80" y="439.60" font-size="7.5" text-anchor="middle">No</text>
<text x="132.80" y="448.40" font-size="7.5" text-anchor="middle">Response</text>
<text x="161.40" y="439.60" font-size="7.5" text-anchor="middle">Response</text>
<text x="100.8" y="400.0" font-size="7.3" text-anchor="middle" transform="rotate(-90 100.8 400.0)" fill="#1a1a1a">Number of copies</text>
<text x="241.8" y="365.8" font-size="7.3" text-anchor="middle" fill="#1a1a1a"><tspan font-style="italic">MET</tspan> CNV</text>
<rect x="209.6" y="370.2" width="62.8" height="60.1" fill="#fff" stroke="#b4b4b4" stroke-width="0.9"/>
<text x="207.80" y="383.15" font-size="7.6" text-anchor="end">15</text>
<text x="207.80" y="400.95" font-size="7.6" text-anchor="end">10</text>
<text x="207.80" y="419.15" font-size="7.6" text-anchor="end">5</text>
<path d="M226.8 415.0V418.5M226.8 425.9V427.9" stroke="#9a9a9a" stroke-width="0.7" fill="none"/>
<rect x="215.8" y="418.5" width="22.0" height="7.4" fill="#fff" stroke="#9a9a9a" stroke-width="0.7"/>
<line x1="215.8" y1="424.2" x2="237.8" y2="424.2" stroke="#555" stroke-width="0.8"/>
<path d="M256.2 373.2V387.4M256.2 409.5V413.2" stroke="#9a9a9a" stroke-width="0.7" fill="none"/>
<rect x="245.2" y="387.4" width="22.0" height="22.1" fill="#fff" stroke="#9a9a9a" stroke-width="0.7"/>
<line x1="245.2" y1="396.5" x2="267.2" y2="396.5" stroke="#555" stroke-width="0.8"/>
<circle cx="227.0" cy="415.9" r="1.8" fill="#66c2a5" stroke="#666" stroke-width="0.3"/><circle cx="230.8" cy="415.2" r="1.8" fill="#66c2a5" stroke="#666" stroke-width="0.3"/><circle cx="223.9" cy="420.4" r="1.8" fill="#66c2a5" stroke="#666" stroke-width="0.3"/><circle cx="228.6" cy="421.6" r="1.8" fill="#e78ac3" stroke="#666" stroke-width="0.3"/><circle cx="225.1" cy="425.0" r="1.8" fill="#a6d854" stroke="#666" stroke-width="0.3"/><circle cx="229.1" cy="425.9" r="1.8" fill="#a6d854" stroke="#666" stroke-width="0.3"/><circle cx="226.5" cy="427.7" r="1.8" fill="#e78ac3" stroke="#666" stroke-width="0.3"/><circle cx="259.7" cy="372.8" r="1.8" fill="#8da0cb" stroke="#666" stroke-width="0.3"/><circle cx="256.8" cy="386.1" r="1.8" fill="#8da0cb" stroke="#666" stroke-width="0.3"/><circle cx="258.5" cy="387.5" r="1.8" fill="#8da0cb" stroke="#666" stroke-width="0.3"/><circle cx="259.0" cy="404.3" r="1.8" fill="#fc8d62" stroke="#666" stroke-width="0.3"/><circle cx="254.2" cy="407.8" r="1.8" fill="#fc8d62" stroke="#666" stroke-width="0.3"/><circle cx="255.6" cy="413.0" r="1.8" fill="#fc8d62" stroke="#666" stroke-width="0.3"/><circle cx="259.7" cy="413.0" r="1.8" fill="#fc8d62" stroke="#666" stroke-width="0.3"/>
<text x="272.0" y="427.5" font-size="7.3" text-anchor="end" fill="#1a1a1a"><tspan font-style="italic">P</tspan>=0.003</text>
<text x="226.80" y="439.60" font-size="7.5" text-anchor="middle">No</text>
<text x="226.80" y="448.40" font-size="7.5" text-anchor="middle">Response</text>
<text x="255.80" y="439.60" font-size="7.5" text-anchor="middle">Response</text>
<text x="194.4" y="399.7" font-size="7.3" text-anchor="middle" transform="rotate(-90 194.4 399.7)" fill="#1a1a1a">Number of copies</text>
<text x="53.00" y="467.90" font-size="7.3" text-anchor="middle">c-MET</text>
<rect x="24.3" y="472.5" width="63.1" height="59.6" fill="#fff" stroke="#b4b4b4" stroke-width="0.9"/>
<text x="22.60" y="477.65" font-size="7.6" text-anchor="end">200</text>
<text x="22.60" y="489.75" font-size="7.6" text-anchor="end">150</text>
<text x="22.60" y="501.85" font-size="7.6" text-anchor="end">100</text>
<text x="22.60" y="513.95" font-size="7.6" text-anchor="end">50</text>
<text x="22.60" y="526.05" font-size="7.6" text-anchor="end">0</text>
<path d="M41.5 475.4V476.6M41.5 501.4V519.9" stroke="#9a9a9a" stroke-width="0.7" fill="none"/>
<rect x="30.3" y="476.6" width="22.4" height="24.8" fill="#fff" stroke="#9a9a9a" stroke-width="0.7"/>
<line x1="30.3" y1="479.6" x2="52.7" y2="479.6" stroke="#555" stroke-width="0.8"/>
<path d="M70.5 475.8V480.6M70.5 500.8V529.4" stroke="#9a9a9a" stroke-width="0.7" fill="none"/>
<rect x="59.7" y="480.6" width="21.6" height="20.2" fill="#fff" stroke="#9a9a9a" stroke-width="0.7"/>
<line x1="59.7" y1="485.8" x2="81.3" y2="485.8" stroke="#555" stroke-width="0.8"/>
<circle cx="40.7" cy="475.4" r="1.8" fill="#66c2a5" stroke="#666" stroke-width="0.3"/><circle cx="43.3" cy="476.6" r="1.8" fill="#66c2a5" stroke="#666" stroke-width="0.3"/><circle cx="42.4" cy="477.5" r="1.8" fill="#a6d854" stroke="#666" stroke-width="0.3"/><circle cx="44.6" cy="477.5" r="1.8" fill="#66c2a5" stroke="#666" stroke-width="0.3"/><circle cx="43.3" cy="480.6" r="1.8" fill="#a6d854" stroke="#666" stroke-width="0.3"/><circle cx="41.5" cy="485.8" r="1.8" fill="#e78ac3" stroke="#666" stroke-width="0.3"/><circle cx="45.3" cy="498.3" r="1.8" fill="#e78ac3" stroke="#666" stroke-width="0.3"/><circle cx="42.0" cy="511.7" r="1.8" fill="#a6d854" stroke="#666" stroke-width="0.3"/><circle cx="45.0" cy="515.9" r="1.8" fill="#e78ac3" stroke="#666" stroke-width="0.3"/><circle cx="42.9" cy="519.9" r="1.8" fill="#e78ac3" stroke="#666" stroke-width="0.3"/><circle cx="67.8" cy="475.8" r="1.8" fill="#8da0cb" stroke="#666" stroke-width="0.3"/><circle cx="69.6" cy="478.4" r="1.8" fill="#8da0cb" stroke="#666" stroke-width="0.3"/><circle cx="70.0" cy="481.3" r="1.8" fill="#8da0cb" stroke="#666" stroke-width="0.3"/><circle cx="73.5" cy="481.0" r="1.8" fill="#8da0cb" stroke="#666" stroke-width="0.3"/><circle cx="70.0" cy="490.8" r="1.8" fill="#fc8d62" stroke="#666" stroke-width="0.3"/><circle cx="68.9" cy="492.2" r="1.8" fill="#fc8d62" stroke="#666" stroke-width="0.3"/><circle cx="68.9" cy="524.2" r="1.8" fill="#fc8d62" stroke="#666" stroke-width="0.3"/><circle cx="74.0" cy="529.7" r="1.8" fill="#fc8d62" stroke="#666" stroke-width="0.3"/>
<text x="64.3" y="528.4" font-size="7.3" text-anchor="end" fill="#1a1a1a"><tspan font-style="italic">P</tspan>=0.59</text>
<text x="42.40" y="542.20" font-size="7.5" text-anchor="middle">No</text>
<text x="42.40" y="551.00" font-size="7.5" text-anchor="middle">Response</text>
<text x="71.30" y="542.20" font-size="7.5" text-anchor="middle">Response</text>
<text x="5.4" y="501.3" font-size="7.3" text-anchor="middle" transform="rotate(-90 5.4 501.3)" fill="#1a1a1a">H-Score</text>
<text x="146.8" y="468.2" font-size="7.3" text-anchor="middle" fill="#1a1a1a"><tspan font-style="italic">MET</tspan> FISH ratio</text>
<rect x="115.6" y="473.0" width="63.2" height="60.2" fill="#fff" stroke="#b4b4b4" stroke-width="0.9"/>
<text x="113.80" y="488.05" font-size="7.6" text-anchor="end">3</text>
<text x="113.80" y="505.55" font-size="7.6" text-anchor="end">2</text>
<text x="113.80" y="524.05" font-size="7.6" text-anchor="end">1</text>
<path d="M133.5 513.5V515.9M133.5 525.1V531.0" stroke="#9a9a9a" stroke-width="0.7" fill="none"/>
<rect x="122.5" y="515.9" width="22.0" height="9.2" fill="#fff" stroke="#9a9a9a" stroke-width="0.7"/>
<line x1="122.5" y1="519.4" x2="144.5" y2="519.4" stroke="#555" stroke-width="0.8"/>
<path d="M162.7 476.6V480.6M162.7 489.3V494.4" stroke="#9a9a9a" stroke-width="0.7" fill="none"/>
<rect x="151.8" y="480.6" width="21.8" height="8.7" fill="#fff" stroke="#9a9a9a" stroke-width="0.7"/>
<line x1="151.8" y1="483.0" x2="173.6" y2="483.0" stroke="#555" stroke-width="0.8"/>
<circle cx="130.7" cy="513.5" r="1.8" fill="#66c2a5" stroke="#666" stroke-width="0.3"/><circle cx="132.4" cy="514.7" r="1.8" fill="#66c2a5" stroke="#666" stroke-width="0.3"/><circle cx="133.3" cy="516.9" r="1.8" fill="#a6d854" stroke="#666" stroke-width="0.3"/><circle cx="128.9" cy="521.6" r="1.8" fill="#a6d854" stroke="#666" stroke-width="0.3"/><circle cx="137.1" cy="525.9" r="1.8" fill="#e78ac3" stroke="#666" stroke-width="0.3"/><circle cx="136.4" cy="530.3" r="1.8" fill="#e78ac3" stroke="#666" stroke-width="0.3"/><circle cx="165.3" cy="476.6" r="1.8" fill="#8da0cb" stroke="#666" stroke-width="0.3"/><circle cx="161.3" cy="479.2" r="1.8" fill="#fc8d62" stroke="#666" stroke-width="0.3"/><circle cx="162.3" cy="482.7" r="1.8" fill="#8da0cb" stroke="#666" stroke-width="0.3"/><circle cx="165.8" cy="482.3" r="1.8" fill="#fc8d62" stroke="#666" stroke-width="0.3"/><circle cx="158.9" cy="491.0" r="1.8" fill="#8da0cb" stroke="#666" stroke-width="0.3"/><circle cx="164.0" cy="494.8" r="1.8" fill="#fc8d62" stroke="#666" stroke-width="0.3"/>
<text x="177.60" y="529.30" font-size="7.3" text-anchor="end">P=2.3e-06</text>
<text x="134.10" y="542.20" font-size="7.5" text-anchor="middle">No</text>
<text x="134.10" y="551.00" font-size="7.5" text-anchor="middle">Response</text>
<text x="162.50" y="542.20" font-size="7.5" text-anchor="middle">Response</text>
<text x="101.6" y="503" font-size="7.3" text-anchor="middle" transform="rotate(-90 101.6 503)" fill="#1a1a1a"><tspan font-style="italic">MET/CEP7</tspan> ratio</text>
<text x="227.90" y="473.10" font-size="7.3" text-anchor="middle">PDXs</text>
<circle cx="208.6" cy="481.5" r="4" fill="#66c2a5" stroke="#5a5a5a" stroke-width="0.6"/>
<text x="215.60" y="484.00" font-size="7.3">LAT001_6B</text>
<circle cx="208.6" cy="492.0" r="4" fill="#fc8d62" stroke="#5a5a5a" stroke-width="0.6"/>
<text x="215.60" y="494.50" font-size="7.3">LAT001_9B</text>
<circle cx="208.6" cy="502.5" r="4" fill="#8da0cb" stroke="#5a5a5a" stroke-width="0.6"/>
<text x="215.60" y="505.00" font-size="7.3">LAT006_0118</text>
<circle cx="208.6" cy="513.0" r="4" fill="#e78ac3" stroke="#5a5a5a" stroke-width="0.6"/>
<text x="215.60" y="515.50" font-size="7.3">LAT006_2B</text>
<circle cx="208.6" cy="523.5" r="4" fill="#a6d854" stroke="#5a5a5a" stroke-width="0.6"/>
<text x="215.60" y="526.00" font-size="7.3">LAT015_6B</text>
<text x="294.80" y="347.40" font-size="12" font-weight="bold" fill="#000">D</text>
<text x="356.90" y="355.40" font-size="9.2" text-anchor="middle">No</text>
<text x="356.90" y="366.20" font-size="9.2" text-anchor="middle">Response</text>
<text x="464.30" y="356.20" font-size="9.2" text-anchor="middle">Response</text>
<text x="355.20" y="385.30" font-size="7.3" text-anchor="middle">PDX, LAT001_6B</text>
<text x="320.30" y="396.30" font-size="7.3" text-anchor="middle">c-MET</text>
<text x="373.50" y="396.30" font-size="7.3" text-anchor="middle">Phospho-MET</text>
<clipPath id="c1"><rect x="296.8" y="398.8" width="46.6" height="45.2"/></clipPath><g clip-path="url(#c1)"><g filter="url(#hb)"><rect x="294.8" y="396.8" width="50.6" height="49.2" fill="#e2c8b0"/><circle cx="308.4" cy="432.7" r="12" fill="#ece0e0" opacity="0.6" filter="url(#bb)"/><circle cx="334.1" cy="407.8" r="10" fill="#d0a070" opacity="0.45" filter="url(#bb)"/><circle cx="324.8" cy="425.9" r="8" fill="#d4a878" opacity="0.35" filter="url(#bb)"/><path d="M299.9 396.7Q301.8 397.7 302.0 397.1M299.9 396.7Q299.7 398.7 298.2 399.6M302.0 397.1Q302.6 399.6 303.8 402.2M304.5 396.8Q307.4 397.6 309.7 397.9M304.5 396.8Q306.6 399.4 306.8 401.1M304.5 396.8Q306.8 398.3 308.5 399.4M309.7 397.9Q311.6 397.3 311.3 396.1M311.3 396.1Q311.9 398.0 312.0 398.9M314.9 397.9Q316.8 395.9 320.7 395.2M314.9 397.9Q315.3 398.4 317.4 400.0M320.7 395.2Q324.0 397.0 325.3 398.5M325.3 398.5Q325.5 400.6 325.2 401.7M327.8 397.2Q326.5 397.6 325.4 399.4M327.8 397.2Q330.3 397.8 332.3 400.3M329.6 395.1Q332.1 395.3 334.5 395.2M329.6 395.1Q330.5 398.0 332.3 400.3M334.5 395.2Q336.2 395.1 336.9 395.9M334.5 395.2Q334.8 396.6 336.1 400.0M336.9 395.9Q337.5 398.9 336.5 400.9M336.9 395.9Q340.8 398.7 342.6 399.6M339.9 396.7Q341.2 399.1 342.6 399.6M339.9 396.7Q341.9 399.2 343.7 399.8M345.0 398.0Q348.0 398.4 348.9 397.3M345.0 398.0Q343.5 399.2 343.7 399.8M348.9 397.3Q349.0 398.3 350.5 401.3M294.8 401.0Q296.4 400.7 298.2 399.6M294.8 401.0Q293.6 402.2 293.4 403.1M298.2 399.6Q298.7 402.0 297.0 402.4M303.8 402.2Q304.5 402.5 306.8 401.1M306.8 401.1Q307.2 400.7 308.5 399.4M306.8 401.1Q306.5 402.8 305.8 403.8M308.5 399.4Q309.7 400.2 312.0 398.9M312.0 398.9Q313.8 399.0 317.4 400.0M312.0 398.9Q312.0 400.8 311.5 404.5M317.4 400.0Q318.4 400.4 321.2 400.0M317.4 400.0Q316.5 401.6 315.0 403.7M321.2 400.0Q322.9 401.3 325.2 401.7M325.2 401.7Q326.0 400.8 325.4 399.4M325.2 401.7Q325.7 403.0 326.5 405.4M325.4 399.4Q329.2 400.9 332.3 400.3M325.4 399.4Q326.1 402.9 326.5 405.4M332.3 400.3Q333.9 399.3 336.1 400.0M336.1 400.0Q336.4 400.4 336.5 400.9M336.1 400.0Q335.5 402.9 335.7 404.5M336.1 400.0Q335.7 403.2 336.6 405.8M336.5 400.9Q340.0 400.6 342.6 399.6M336.5 400.9Q335.7 403.0 336.6 405.8M342.6 399.6Q343.6 399.8 343.7 399.8M343.7 399.8Q347.7 400.1 350.5 401.3M343.7 399.8Q344.7 402.5 346.2 403.4M293.4 403.1Q294.9 402.5 297.0 402.4M293.4 403.1Q293.1 404.8 293.3 407.9M293.4 403.1Q296.1 405.6 297.5 408.0M297.0 402.4Q299.3 403.2 303.1 402.8M303.1 402.8Q304.5 403.4 305.8 403.8M303.1 402.8Q303.3 405.5 301.5 407.4M305.8 403.8Q307.6 403.4 308.1 404.8M305.8 403.8Q307.0 406.5 307.3 407.5M305.8 403.8Q307.9 405.6 309.5 408.9M308.1 404.8Q309.2 404.1 311.5 404.5M311.5 404.5Q311.2 406.4 311.7 406.4M315.0 403.7Q317.1 403.9 319.0 403.2M319.0 403.2Q322.8 404.5 325.3 405.1M326.5 405.4Q328.2 405.0 329.8 403.6M329.8 403.6Q332.0 404.6 335.7 404.5M335.7 404.5Q335.5 405.0 336.6 405.8M335.7 404.5Q335.9 404.4 334.1 406.2M335.7 404.5Q335.2 407.2 336.3 409.3M336.6 405.8Q337.6 404.4 340.6 403.1M336.6 405.8Q337.3 406.5 336.3 409.3M340.6 403.1Q342.8 402.7 346.2 403.4M340.6 403.1Q341.9 405.3 344.3 408.8M346.2 403.4Q347.7 402.5 348.1 402.5M346.2 403.4Q345.9 406.0 344.3 408.8M346.2 403.4Q348.5 406.0 349.1 406.9M348.1 402.5Q348.7 405.6 349.1 406.9M293.3 407.9Q294.4 408.9 297.5 408.0M297.5 408.0Q299.5 407.2 301.5 407.4M297.5 408.0Q299.3 409.2 302.2 412.5M301.5 407.4Q305.0 407.9 307.3 407.5M301.5 407.4Q301.1 409.2 302.2 412.5M307.3 407.5Q309.2 408.3 309.5 408.9M307.3 407.5Q307.7 408.5 306.0 410.4M307.3 407.5Q308.2 409.4 310.7 410.1M311.7 406.4Q315.2 406.7 317.9 408.7M311.7 406.4Q311.3 409.3 311.1 410.4M311.7 406.4Q314.7 407.6 316.2 409.6M317.9 408.7Q319.4 406.7 319.1 406.5M319.1 406.5Q321.8 407.1 324.5 409.2M319.1 406.5Q321.1 407.3 323.9 409.9M324.5 409.2Q325.7 408.9 326.1 409.2M324.5 409.2Q323.3 409.3 323.9 409.9M324.5 409.2Q326.6 411.6 326.7 412.6M326.1 409.2Q328.9 409.1 332.2 408.0M326.1 409.2Q326.5 410.8 326.7 412.6M332.2 408.0Q333.9 409.3 335.1 411.5M334.1 406.2Q334.8 407.4 336.3 409.3M334.1 406.2Q335.0 408.3 335.1 411.5M334.1 406.2Q335.9 407.5 336.7 409.5M336.3 409.3Q339.0 408.4 340.7 408.3M340.7 408.3Q341.6 408.9 344.3 408.8M340.7 408.3Q343.1 411.3 345.9 412.9M344.3 408.8Q346.1 407.1 349.1 406.9M344.3 408.8Q344.9 409.9 345.9 412.9M293.6 412.0Q295.6 411.7 296.8 410.2M296.8 410.2Q299.3 410.3 302.2 412.5M296.8 410.2Q297.7 414.5 297.7 416.6M302.2 412.5Q303.1 411.1 306.0 410.4M302.2 412.5Q301.7 412.9 300.5 415.0M306.0 410.4Q309.0 411.0 310.7 410.1M306.0 410.4Q305.5 413.9 306.5 416.2M310.7 410.1Q310.9 409.5 311.1 410.4M311.1 410.4Q314.1 410.7 316.2 409.6M311.1 410.4Q313.4 413.6 313.9 416.3M316.2 409.6Q317.0 410.3 318.8 410.7M316.2 409.6Q315.7 413.5 315.9 415.5M316.2 409.6Q318.7 412.1 321.4 416.1M318.8 410.7Q322.2 410.4 323.9 409.9M318.8 410.7Q320.3 412.9 321.4 416.1M326.7 412.6Q330.3 411.7 332.5 411.8M332.5 411.8Q334.5 411.0 335.1 411.5M332.5 411.8Q331.0 412.1 331.2 414.4M332.5 411.8Q334.7 414.4 334.7 415.2M335.1 411.5Q336.3 411.0 336.7 409.5M335.1 411.5Q335.1 414.0 334.7 415.2M336.7 409.5Q338.2 410.3 339.9 412.7M336.7 409.5Q336.7 411.7 336.5 415.3M336.7 409.5Q339.5 413.0 343.4 416.2M339.9 412.7Q341.9 413.1 345.9 412.9M339.9 412.7Q342.6 414.6 343.4 416.2M339.9 412.7Q342.8 413.8 346.0 414.4M347.1 411.7Q349.4 414.1 349.6 415.1M294.7 415.6Q296.1 416.3 297.7 416.6M297.7 416.6Q299.0 416.7 300.5 415.0M297.7 416.6Q296.4 418.4 296.9 419.3M300.5 415.0Q300.9 416.4 300.3 418.8M306.5 416.2Q307.4 415.8 310.1 415.5M306.5 416.2Q305.8 415.9 305.5 417.4M310.1 415.5Q311.4 415.5 313.9 416.3M310.1 415.5Q309.4 416.0 309.9 418.4M313.9 416.3Q314.3 417.9 313.2 419.9M315.9 415.5Q319.2 415.9 321.4 416.1M321.4 416.1Q320.4 418.6 319.3 419.0M321.4 416.1Q321.4 416.2 322.5 417.2M323.3 415.8Q326.8 416.1 328.5 415.1M323.3 415.8Q322.6 416.7 322.5 417.2M323.3 415.8Q325.0 418.3 328.7 419.0M328.5 415.1Q330.8 415.8 331.2 414.4M328.5 415.1Q328.0 416.6 328.7 419.0M331.2 414.4Q333.7 414.5 334.7 415.2M331.2 414.4Q330.2 417.9 330.6 419.8M334.7 415.2Q335.9 414.6 336.5 415.3M336.5 415.3Q340.4 415.3 343.4 416.2M343.4 416.2Q345.1 416.2 346.0 414.4M343.4 416.2Q342.1 417.4 342.7 419.9M346.0 414.4Q345.6 415.6 346.6 418.0M346.0 414.4Q348.2 415.8 349.1 417.7M349.6 415.1Q350.2 416.6 349.1 417.7M294.6 419.6Q296.7 419.8 296.9 419.3M294.6 419.6Q294.3 419.9 293.5 422.0M296.9 419.3Q298.7 418.1 300.3 418.8M296.9 419.3Q297.8 420.7 299.6 423.3M300.3 418.8Q302.5 418.6 305.5 417.4M300.3 418.8Q301.1 421.3 302.8 423.6M305.5 417.4Q307.2 419.9 309.0 421.2M309.9 418.4Q308.8 419.9 309.0 421.2M309.9 418.4Q310.5 420.4 311.8 421.7M313.2 419.9Q314.4 419.0 315.5 416.6M313.2 419.9Q312.5 421.8 311.8 421.7M315.5 416.6Q316.4 418.7 316.9 422.0M315.5 416.6Q318.0 420.5 319.3 423.2M319.3 419.0Q320.9 417.5 322.5 417.2M319.3 419.0Q319.3 420.1 319.3 423.2M322.5 417.2Q324.7 418.8 325.3 421.8M328.7 419.0Q329.6 419.3 330.6 419.8M328.7 419.0Q326.7 420.3 325.7 420.3M328.7 419.0Q331.3 419.8 332.1 420.3M330.6 419.8Q330.6 419.7 332.1 420.3M333.8 419.0Q335.6 418.6 336.9 418.2M333.8 419.0Q334.7 419.7 335.2 422.3M336.9 418.2Q339.1 419.4 342.7 419.9M342.7 419.9Q344.3 418.3 346.6 418.0M342.7 419.9Q343.8 420.7 345.0 420.3M346.6 418.0Q347.7 418.4 349.1 417.7M346.6 418.0Q345.2 420.0 345.0 420.3M349.1 417.7Q349.3 419.0 350.0 421.1M293.5 422.0Q295.5 423.7 299.6 423.3M299.6 423.3Q300.7 423.5 302.8 423.6M299.6 423.3Q299.2 425.3 298.9 425.4M302.8 423.6Q304.8 422.5 304.8 420.8M302.8 423.6Q302.4 425.2 302.5 426.2M302.8 423.6Q304.4 425.9 306.7 427.3M304.8 420.8Q307.7 420.9 309.0 421.2M304.8 420.8Q306.5 423.8 306.7 427.3M309.0 421.2Q310.1 420.8 311.8 421.7M309.0 421.2Q308.7 422.2 309.9 424.5M311.8 421.7Q313.9 421.7 316.9 422.0M311.8 421.7Q314.0 423.0 314.6 425.5M316.9 422.0Q318.5 422.3 319.3 423.2M316.9 422.0Q314.7 423.1 314.6 425.5M316.9 422.0Q318.6 424.1 320.8 424.4M319.3 423.2Q322.0 421.8 325.3 421.8M325.7 420.3Q328.7 419.4 332.1 420.3M325.7 420.3Q329.0 423.5 331.2 426.5M332.1 420.3Q333.1 420.3 335.2 422.3M332.1 420.3Q331.9 422.4 331.2 426.5M332.1 420.3Q332.9 423.6 334.0 426.7M335.2 422.3Q335.1 424.8 334.0 426.7M335.2 422.3Q336.7 422.7 339.5 424.1M337.3 423.0Q338.3 422.7 339.9 420.7M337.3 423.0Q337.9 423.2 339.5 424.1M339.9 420.7Q341.4 420.8 345.0 420.3M339.9 420.7Q342.2 424.6 343.2 426.4M339.9 420.7Q342.2 424.0 343.9 425.4M345.0 420.3Q347.9 421.7 350.0 421.1M345.0 420.3Q347.4 422.8 349.3 427.1M350.0 421.1Q349.4 423.1 349.3 427.1M293.5 424.0Q296.2 424.2 298.9 425.4M293.5 424.0Q293.7 426.7 294.4 429.4M293.5 424.0Q297.0 426.6 299.8 430.3M298.9 425.4Q300.5 425.0 302.5 426.2M298.9 425.4Q299.8 428.0 299.8 430.3M302.5 426.2Q304.3 425.8 306.7 427.3M302.5 426.2Q302.1 427.6 303.6 429.1M302.5 426.2Q304.2 426.8 306.1 428.1M306.7 427.3Q308.0 426.7 309.9 424.5M306.7 427.3Q305.9 428.1 306.1 428.1M306.7 427.3Q308.3 429.0 310.0 430.3M309.9 424.5Q311.5 425.4 312.7 424.4M312.7 424.4Q313.5 424.8 314.6 425.5M312.7 424.4Q313.7 428.0 313.3 430.0M314.6 425.5Q314.2 428.1 315.4 430.6M314.6 425.5Q317.9 429.2 321.7 430.9M320.8 424.4Q321.2 425.1 322.8 425.0M320.8 424.4Q320.2 427.8 321.7 430.9M320.8 424.4Q321.7 427.3 323.7 430.2M322.8 425.0Q325.6 425.5 327.9 425.7M327.9 425.7Q329.2 426.9 331.2 426.5M327.9 425.7Q327.7 428.6 326.6 430.7M334.0 426.7Q336.7 425.5 339.5 424.1M334.0 426.7Q333.0 428.4 332.9 429.0M334.0 426.7Q335.5 427.9 338.2 430.2M339.5 424.1Q341.3 424.4 343.2 426.4M339.5 424.1Q337.9 426.3 338.2 430.2M343.2 426.4Q344.1 425.9 343.9 425.4M343.2 426.4Q343.1 427.8 341.6 427.5M343.2 426.4Q344.2 427.0 346.3 427.6M343.9 425.4Q347.0 425.7 349.3 427.1M349.3 427.1Q349.2 428.1 349.9 428.0M294.4 429.4Q294.1 432.1 294.2 433.8M303.6 429.1Q305.2 428.0 306.1 428.1M303.6 429.1Q301.8 431.5 302.1 433.6M306.1 428.1Q308.5 429.1 310.0 430.3M306.1 428.1Q306.3 431.7 306.8 433.5M310.0 430.3Q312.1 429.3 313.3 430.0M310.0 430.3Q309.9 432.1 310.8 432.8M313.3 430.0Q314.0 429.3 315.4 430.6M313.3 430.0Q313.8 430.4 314.4 431.3M315.4 430.6Q317.1 432.4 319.2 433.6M321.7 430.9Q320.9 432.4 319.2 433.6M323.7 430.2Q324.4 429.6 326.6 430.7M326.6 430.7Q328.5 429.3 332.1 428.7M326.6 430.7Q327.6 431.1 328.4 433.0M326.6 430.7Q327.8 430.9 330.1 432.4M332.1 428.7Q332.0 427.9 332.9 429.0M332.1 428.7Q331.9 430.1 330.1 432.4M332.9 429.0Q335.5 430.7 338.2 430.2M332.9 429.0Q335.1 431.6 335.6 434.2M332.9 429.0Q335.6 431.3 336.9 434.1M338.2 430.2Q340.2 429.1 341.6 427.5M338.2 430.2Q338.5 432.9 336.9 434.1M346.3 427.6Q347.4 427.0 349.9 428.0M346.3 427.6Q345.6 430.2 345.5 431.7M346.3 427.6Q347.7 429.2 348.9 432.8M349.9 428.0Q350.4 429.4 348.9 432.8M297.1 431.5Q300.2 433.3 302.1 433.6M302.1 433.6Q305.4 433.3 306.8 433.5M306.8 433.5Q306.5 434.3 305.8 436.4M306.8 433.5Q308.1 434.5 309.9 434.8M310.8 432.8Q312.9 431.7 314.4 431.3M310.8 432.8Q311.2 433.4 309.9 434.8M314.4 431.3Q315.4 431.5 315.4 432.9M314.4 431.3Q316.6 433.9 318.0 437.9M315.4 432.9Q317.0 433.1 319.2 433.6M315.4 432.9Q316.7 435.2 318.0 437.9M315.4 432.9Q317.4 435.6 319.2 436.3M319.2 433.6Q319.8 434.1 319.2 436.3M324.1 432.9Q323.0 435.0 322.3 436.2M328.4 433.0Q329.7 433.7 330.1 432.4M328.4 433.0Q327.7 435.1 328.3 437.8M330.1 432.4Q332.6 433.6 335.6 434.2M330.1 432.4Q330.7 434.9 330.7 435.7M335.6 434.2Q336.4 433.3 336.9 434.1M336.9 434.1Q340.5 433.3 343.3 432.9M336.9 434.1Q337.7 434.8 339.5 435.1M343.3 432.9Q343.4 432.6 345.5 431.7M343.3 432.9Q343.1 434.0 342.6 434.7M345.5 431.7Q347.1 433.3 348.9 432.8M348.9 432.8Q349.7 435.3 349.5 435.8M295.2 434.7Q295.8 437.5 294.3 440.4M300.1 436.5Q299.5 439.4 297.0 440.8M301.6 437.5Q301.9 439.2 300.6 440.0M305.8 436.4Q305.3 438.4 304.7 438.9M305.8 436.4Q307.1 438.4 309.3 439.8M309.9 434.8Q312.0 435.4 312.9 436.1M309.9 434.8Q310.2 438.1 309.3 439.8M318.0 437.9Q317.7 436.1 319.2 436.3M318.0 437.9Q318.1 439.1 316.5 438.8M318.0 437.9Q317.8 439.0 318.9 440.5M319.2 436.3Q321.6 435.3 322.3 436.2M322.3 436.2Q326.1 437.5 328.3 437.8M322.3 436.2Q323.5 438.0 324.1 440.1M322.3 436.2Q325.0 437.9 328.5 440.4M328.3 437.8Q329.7 437.2 330.7 435.7M328.3 437.8Q327.6 439.5 328.5 440.4M330.7 435.7Q331.2 437.2 333.3 436.8M330.7 435.7Q331.1 436.7 332.1 439.0M333.3 436.8Q336.9 435.6 339.5 435.1M333.3 436.8Q334.1 438.2 335.3 441.1M339.5 435.1Q341.8 434.7 342.6 434.7M339.5 435.1Q339.5 438.2 339.4 439.3M342.6 434.7Q341.9 437.6 340.9 441.5M344.1 435.4Q344.0 439.5 344.2 441.8M344.1 435.4Q347.7 437.3 350.2 438.7M349.5 435.8Q348.9 437.0 350.2 438.7M294.3 440.4Q296.6 440.2 297.0 440.8M294.3 440.4Q294.4 441.9 293.9 444.4M294.3 440.4Q295.1 442.1 297.5 442.1M297.0 440.8Q298.5 441.1 300.6 440.0M297.0 440.8Q300.2 441.2 303.2 443.3M300.6 440.0Q302.4 439.2 304.7 438.9M304.7 438.9Q307.9 440.3 309.3 439.8M304.7 438.9Q306.0 440.5 306.6 442.3M309.3 439.8Q310.4 440.1 312.4 439.7M309.3 439.8Q310.1 443.0 308.9 444.3M312.4 439.7Q312.1 442.2 311.1 442.5M312.4 439.7Q314.6 442.2 317.1 445.1M316.5 438.8Q318.8 439.0 318.9 440.5M316.5 438.8Q316.0 441.7 317.1 445.1M318.9 440.5Q320.8 440.6 324.1 440.1M318.9 440.5Q320.8 440.8 321.7 442.2M328.5 440.4Q329.2 440.5 332.1 439.0M332.1 439.0Q333.8 440.2 335.3 441.1M332.1 439.0Q331.5 440.1 329.7 442.1M332.1 439.0Q331.7 440.6 333.0 441.9M335.3 441.1Q337.4 439.8 339.4 439.3M335.3 441.1Q336.5 441.4 338.2 443.7M339.4 439.3Q340.3 440.3 340.9 441.5M339.4 439.3Q341.4 440.1 341.8 442.3M340.9 441.5Q342.4 441.9 344.2 441.8M344.2 441.8Q346.1 439.5 350.2 438.7M293.9 444.4Q295.8 442.3 297.5 442.1M293.9 444.4Q294.7 446.1 296.3 445.7M297.5 442.1Q297.0 444.6 296.8 448.8M303.2 443.3Q305.8 442.4 306.6 442.3M303.2 443.3Q302.9 446.6 301.9 448.2M306.6 442.3Q308.6 443.0 308.9 444.3M306.6 442.3Q306.3 444.1 305.0 447.1M308.9 444.3Q309.9 443.1 311.1 442.5M308.9 444.3Q308.9 444.6 309.3 446.9M311.1 442.5Q314.2 443.6 317.1 445.1M311.1 442.5Q311.2 443.7 313.2 445.4M311.1 442.5Q314.1 444.9 317.1 448.4M317.1 445.1Q318.3 443.4 321.7 442.2M321.7 442.2Q323.6 443.1 323.6 444.5M321.7 442.2Q320.0 444.2 318.9 447.0M321.7 442.2Q323.3 444.1 324.5 446.9M323.6 444.5Q326.0 443.4 327.2 444.3M323.6 444.5Q323.5 445.2 324.5 446.9M327.2 444.3Q329.2 443.0 329.7 442.1M327.2 444.3Q327.0 444.2 326.1 446.0M329.7 442.1Q329.9 444.4 330.8 445.5M333.0 441.9Q334.6 443.4 338.2 443.7M333.0 441.9Q334.7 445.2 335.8 448.3M338.2 443.7Q339.0 443.9 341.8 442.3M341.8 442.3Q343.5 442.3 344.1 442.5M341.8 442.3Q343.0 445.5 342.1 446.9M344.1 442.5Q345.4 444.6 345.6 447.2M344.1 442.5Q347.2 444.6 350.5 448.3M350.0 445.4Q350.8 445.9 350.5 448.3M296.3 445.7Q297.3 447.6 296.8 448.8M296.8 448.8Q298.5 447.7 301.9 448.2M301.9 448.2Q304.4 447.7 305.0 447.1M309.3 446.9Q311.0 446.3 313.2 445.4M317.1 448.4Q318.8 447.7 318.9 447.0M318.9 447.0Q321.5 446.7 324.5 446.9M324.5 446.9Q326.2 446.4 326.1 446.0M326.1 446.0Q328.2 446.3 330.8 445.5M330.8 445.5Q333.9 446.2 335.8 448.3M335.8 448.3Q336.6 448.1 338.7 448.5M338.7 448.5Q340.1 447.9 342.1 446.9M342.1 446.9Q343.6 447.2 345.6 447.2" stroke="#c38c5c" stroke-width="0.8" opacity="0.35" fill="none" stroke-linecap="round"/><path d="M298.1 397.7h0M305.4 397.0h0M309.4 396.5h0M312.6 398.9h0M319.5 396.6h0M322.4 399.4h0M329.3 398.8h0M334.9 398.4h0M340.8 400.1h0M300.5 403.1h0M304.7 404.4h0M309.5 402.2h0M318.4 400.9h0M323.0 403.5h0M327.7 402.4h0M331.1 405.3h0M339.4 404.6h0M341.6 404.5h0M295.5 408.7h0M302.9 406.7h0M309.0 408.9h0M315.0 410.6h0M319.3 407.9h0M325.9 409.6h0M328.1 410.2h0M335.5 407.4h0M338.6 406.2h0M297.5 412.9h0M302.8 412.1h0M309.3 412.8h0M313.7 412.8h0M320.1 415.7h0M323.8 415.6h0M332.5 414.4h0M336.4 415.0h0M341.7 414.6h0M302.0 418.1h0M303.9 421.3h0M310.8 420.6h0M315.5 419.0h0M321.5 420.3h0M329.6 419.2h0M333.2 418.5h0M336.9 421.4h0M341.7 421.3h0M297.3 426.5h0M302.8 424.9h0M308.2 426.9h0M314.5 426.4h0M318.6 425.4h0M324.0 422.3h0M331.8 426.9h0M337.7 426.3h0M343.5 424.7h0M296.3 428.4h0M301.7 429.2h0M306.9 428.5h0M313.3 429.5h0M317.6 427.9h0M322.9 430.2h0M330.6 430.2h0M331.9 429.0h0M338.3 430.9h0M303.1 437.5h0M308.2 437.0h0M313.6 433.0h0M316.8 435.7h0M323.1 435.8h0M328.1 437.4h0M331.0 435.4h0M340.5 433.0h0M341.8 437.1h0M298.6 438.4h0M307.9 441.5h0M311.7 441.0h0M318.2 442.1h0M319.9 438.6h0M329.1 442.9h0M334.7 440.2h0M337.6 439.9h0M341.4 441.9h0" stroke="#f4eae0" stroke-width="2.2" stroke-linecap="round" opacity="0.55" fill="none"/><path d="M308.1 425.6l-0.5 6.0M328.9 419.2l6.9 6.2M303.7 404.2l4.8 4.9" stroke="#f8f4f0" stroke-width="1.6" stroke-linecap="round" opacity="0.5" fill="none"/><path d="M297.8 397.1l0.2 -0.2M301.5 397.1l0.4 -0.3M303.8 397.2l-0.2 0.2M308.2 398.6l0.0 -0.4M311.7 397.1l-0.3 -0.1M315.5 397.4l-0.1 0.4M318.6 397.5l-0.4 0.3M321.2 397.3l0.3 -0.1M322.9 398.1l0.2 -0.0M327.6 396.4l-0.0 -0.1M328.6 399.0l-0.4 -0.3M334.1 399.1l0.4 -0.2M337.4 396.8l0.2 0.4M338.5 396.8l0.2 0.4M343.1 399.1l-0.0 -0.1M295.5 402.2l-0.4 -0.3M298.9 399.7l-0.2 -0.3M301.4 401.0l0.0 0.1M306.4 401.0l0.4 -0.4M308.0 399.8l-0.2 0.3M313.2 401.0l-0.3 -0.2M315.3 400.4l0.3 0.5M318.2 401.3l0.3 -0.0M320.6 402.2l0.5 -0.5M325.3 400.7l-0.4 -0.3M326.8 401.6l-0.3 -0.5M330.1 401.8l-0.0 0.2M334.0 400.1l-0.5 -0.2M335.9 400.3l0.1 -0.1M340.3 401.3l-0.2 -0.1M344.6 401.2l-0.1 0.0M296.8 405.3l-0.3 0.4M301.4 405.2l-0.3 0.0M304.9 403.5l-0.3 0.2M306.0 404.4l-0.3 0.4M309.3 403.0l0.2 -0.2M313.2 404.1l0.4 0.0M315.9 402.7l-0.0 -0.2M319.6 404.5l-0.0 -0.4M322.5 404.1l0.1 0.5M325.1 404.0l-0.4 0.3M328.1 405.1l0.3 -0.2M333.1 404.1l-0.1 0.1M336.4 404.1l-0.0 -0.2M339.3 404.1l-0.2 -0.3M340.7 405.1l0.3 0.5M299.2 408.1l0.2 0.3M302.7 406.4l0.3 -0.2M304.3 408.5l-0.5 0.0M307.7 408.1l0.1 0.4M312.6 407.7l-0.4 0.2M313.4 408.6l0.4 -0.2M316.8 407.8l0.3 0.5M321.2 406.2l0.2 -0.4M325.0 408.0l0.3 0.4M327.3 408.5l0.1 -0.0M329.9 406.9l-0.5 -0.3M334.3 406.5l0.2 0.3M337.1 407.3l-0.2 -0.2M338.9 407.7l0.2 0.4M342.4 408.5l0.4 -0.2M299.1 411.7l0.3 -0.2M301.3 410.5l-0.0 -0.5M306.2 410.5l-0.0 0.2M307.6 409.6l0.1 -0.3M310.9 409.2l-0.4 -0.1M314.7 411.7l0.1 -0.1M317.5 409.7l-0.0 0.5M319.8 410.2l0.2 0.3M324.2 410.8l0.4 0.4M326.5 410.5l0.5 0.0M329.5 411.2l-0.4 -0.3M333.7 409.8l0.2 0.2M336.2 411.2l0.1 0.2M339.7 410.2l-0.4 -0.0M344.3 411.5l-0.4 -0.4M297.2 413.4l-0.4 -0.1M300.0 414.3l-0.1 0.1M303.5 413.9l-0.5 0.2M305.1 412.3l-0.0 -0.5M308.1 413.3l-0.0 -0.4M313.7 414.6l-0.0 0.1M315.1 415.0l-0.4 -0.2M318.0 414.6l0.0 -0.1M321.6 414.7l-0.2 0.3M325.7 413.4l-0.1 -0.1M328.1 413.1l0.1 -0.1M330.8 414.4l-0.0 -0.0M335.6 413.5l-0.1 0.4M339.1 414.4l-0.1 0.2M341.5 413.0l0.2 0.4M344.5 414.1l-0.1 0.2M297.3 416.9l0.5 -0.2M300.3 415.4l-0.1 0.3M302.1 417.1l-0.3 -0.1M307.4 415.9l0.4 -0.4M309.4 417.7l0.3 -0.1M312.6 417.4l0.3 0.2M315.7 416.0l0.2 0.1M318.7 418.1l-0.4 0.3M321.3 417.4l0.5 -0.2M325.1 416.8l-0.0 -0.3M328.5 417.9l0.2 -0.2M332.1 416.5l-0.4 0.1M334.3 416.8l0.5 0.1M338.9 416.3l0.3 -0.4M340.2 417.3l0.2 0.3M343.5 416.1l-0.1 0.0M295.5 420.4l-0.4 -0.2M300.1 421.1l-0.3 -0.3M301.1 418.7l0.3 0.2M304.7 419.9l0.2 -0.5M309.4 420.9l-0.3 0.2M312.2 419.4l0.4 -0.3M314.8 419.4l-0.1 0.3M318.2 420.2l0.5 -0.3M320.4 420.2l-0.3 0.5M323.8 419.7l-0.1 0.3M328.6 420.4l-0.3 -0.1M331.2 419.1l0.4 0.4M333.0 419.5l-0.3 0.2M335.6 420.5l-0.4 0.3M340.2 420.1l-0.4 -0.5M342.8 421.3l0.1 0.4M294.9 421.7l0.2 -0.3M298.5 423.5l0.2 -0.2M302.2 422.5l0.1 -0.1M305.1 422.4l-0.2 -0.2M307.3 422.5l0.1 -0.2M310.7 424.0l-0.0 0.0M314.4 424.2l0.3 0.1M318.6 423.6l0.0 -0.1M320.9 423.1l-0.0 0.0M324.5 423.9l0.4 -0.3M326.2 422.5l-0.5 0.3M331.1 422.5l-0.3 0.4M334.9 423.6l0.2 0.2M336.9 422.8l0.1 0.4M341.6 424.2l0.3 -0.4M342.6 424.4l0.0 0.0M297.8 426.3l0.5 -0.4M301.3 424.8l-0.4 -0.1M303.5 425.1l0.1 0.4M306.1 427.0l0.1 0.1M308.5 426.1l0.4 0.2M311.8 426.1l0.0 -0.2M315.9 426.6l-0.5 -0.3M319.3 425.4l-0.4 0.3M321.6 427.5l0.1 -0.4M325.6 425.5l0.3 0.2M329.1 425.0l-0.5 0.3M330.5 425.4l-0.5 -0.3M334.6 427.5l-0.2 -0.2M338.8 425.3l0.1 0.1M342.2 424.9l0.1 -0.1M345.1 425.5l0.2 -0.3M298.7 428.6l-0.2 0.4M301.0 428.1l-0.3 -0.3M303.1 430.4l0.2 0.5M307.3 429.7l-0.1 0.2M310.0 428.1l-0.0 -0.1M313.2 428.1l-0.5 0.5M315.9 428.9l-0.4 0.1M320.6 428.5l0.0 -0.0M323.4 429.6l-0.3 -0.3M326.4 428.2l0.4 -0.5M328.1 429.3l0.3 0.1M332.8 430.1l0.2 -0.4M336.2 428.4l-0.3 -0.5M337.1 430.5l-0.1 -0.4M340.3 430.4l0.1 0.4M294.8 431.9l-0.3 -0.4M298.2 432.9l-0.3 -0.3M302.3 432.2l-0.4 0.1M305.4 432.2l-0.0 -0.5M308.9 431.7l-0.2 -0.5M312.8 432.8l-0.1 0.0M316.1 431.5l-0.1 0.2M317.7 433.1l0.4 -0.5M320.6 432.0l0.3 0.3M324.9 433.7l-0.3 -0.1M328.5 433.3l-0.4 0.5M331.3 433.6l-0.1 0.1M335.1 433.7l0.1 0.4M338.4 433.5l0.2 0.5M339.1 432.3l0.1 -0.4M344.1 431.3l0.1 -0.2M297.1 434.8l-0.1 0.4M301.4 435.0l-0.1 0.2M302.3 436.7l-0.3 0.1M305.8 434.3l-0.5 -0.5M309.0 435.1l0.5 0.1M311.4 436.3l-0.3 -0.0M316.4 436.7l0.4 -0.1M318.4 435.4l-0.2 0.2M322.0 436.2l-0.3 0.3M326.6 434.9l0.1 -0.3M327.1 435.5l-0.3 0.2M331.8 436.2l0.5 -0.4M333.6 434.4l-0.0 0.3M338.4 435.8l0.4 -0.1M339.9 436.1l-0.5 -0.3M342.9 434.7l-0.4 0.0M296.5 439.8l-0.2 -0.4M299.8 439.5l0.4 0.1M302.8 439.9l0.2 0.5M305.1 439.6l0.1 -0.0M307.4 438.8l-0.2 0.1M312.0 438.9l-0.4 -0.4M315.5 439.4l0.5 0.3M317.7 438.7l0.0 0.3M321.2 440.1l-0.0 -0.1M324.6 438.4l0.5 -0.5M327.5 437.7l0.2 -0.3M329.9 438.6l0.1 0.3M333.9 438.3l-0.1 0.4M336.4 437.5l0.4 -0.0M339.4 437.8l0.4 0.2M342.3 439.4l-0.3 -0.1M296.4 443.3l-0.2 -0.4M301.7 440.9l-0.5 0.2M303.9 443.2l0.3 -0.3M305.9 442.3l-0.0 -0.2M311.5 441.2l0.1 -0.4M314.7 443.3l0.1 -0.2M317.3 443.2l0.3 -0.5M319.8 441.0l0.0 0.5M324.0 441.3l0.1 -0.2M325.2 442.7l0.3 -0.2M329.1 442.6l0.2 -0.0M331.4 440.9l-0.3 0.3M335.6 442.4l-0.1 -0.1M337.8 443.4l0.1 -0.4M342.5 442.3l0.1 0.3" stroke="#9b98d4" stroke-width="1.5" stroke-linecap="round" opacity="0.7" fill="none"/></g></g><rect x="333.0" y="440.4" width="7.9" height="1.6" fill="#000"/>
<clipPath id="c2"><rect x="349.3" y="398.8" width="48.0" height="45.2"/></clipPath><g clip-path="url(#c2)"><g filter="url(#hb)"><rect x="347.3" y="396.8" width="52.0" height="49.2" fill="#f0eaec"/><path d="M352.5 395.2Q354.5 395.6 354.1 396.2M352.5 395.2Q354.0 399.0 354.0 403.3M352.5 395.2Q353.1 397.4 354.6 401.0M354.1 396.2Q358.2 398.5 359.8 398.2M359.8 398.2Q364.1 398.0 366.2 397.3M359.8 398.2Q358.2 398.6 359.2 400.5M359.8 398.2Q363.4 399.9 365.8 399.8M366.2 397.3Q367.8 398.4 370.1 397.5M370.1 397.5Q371.7 397.1 372.7 396.5M370.1 397.5Q369.6 398.1 370.7 399.3M372.7 396.5Q375.1 398.8 377.3 398.6M377.3 398.6Q378.2 399.1 381.3 398.2M377.3 398.6Q376.9 399.9 378.4 400.9M377.3 398.6Q380.7 399.6 383.7 401.2M381.3 398.2Q384.9 397.5 385.9 397.6M381.3 398.2Q382.4 398.8 383.7 401.2M381.3 398.2Q383.5 398.2 387.3 399.2M385.9 397.6Q389.9 396.5 391.6 396.4M385.9 397.6Q387.0 398.1 387.3 399.2M385.9 397.6Q390.0 399.4 393.3 403.4M391.6 396.4Q394.3 396.3 398.3 394.6M398.3 394.6Q398.7 396.1 399.3 398.7M399.3 398.7Q399.2 400.0 400.7 400.7M347.3 399.5Q350.6 402.6 354.0 403.3M347.3 399.5Q348.9 402.7 348.2 406.6M354.0 403.3Q354.9 402.8 354.6 401.0M354.0 403.3Q352.1 404.6 350.1 404.6M354.6 401.0Q357.2 401.3 359.2 400.5M354.6 401.0Q354.6 402.1 355.7 405.9M359.2 400.5Q361.9 404.2 362.2 405.8M365.8 399.8Q364.0 402.9 363.2 407.3M365.8 399.8Q366.5 401.6 369.5 405.9M370.7 399.3Q370.8 400.0 372.8 402.7M370.7 399.3Q371.8 402.7 373.0 405.5M372.8 402.7Q374.9 402.8 378.4 400.9M378.4 400.9Q380.7 400.2 383.7 401.2M383.7 401.2Q386.3 399.5 387.3 399.2M383.7 401.2Q383.7 402.6 381.5 406.0M387.3 399.2Q391.2 402.2 393.3 403.4M387.3 399.2Q386.6 401.6 386.4 406.7M393.3 403.4Q395.9 401.6 398.9 402.0M398.9 402.0Q400.7 402.4 400.7 400.7M398.9 402.0Q397.6 405.2 396.1 406.4M400.7 400.7Q401.0 401.9 399.3 405.6M348.2 406.6Q349.4 406.9 350.1 404.6M348.2 406.6Q346.8 408.8 346.0 409.3M350.1 404.6Q353.6 405.7 355.7 405.9M355.7 405.9Q358.4 404.7 362.2 405.8M355.7 405.9Q354.7 410.4 356.2 412.4M362.2 405.8Q361.7 407.8 363.2 407.3M362.2 405.8Q359.9 409.9 359.3 412.2M363.2 407.3Q366.1 407.0 369.5 405.9M363.2 407.3Q364.1 408.6 364.7 408.9M373.0 405.5Q371.7 406.1 372.1 409.3M373.0 405.5Q376.2 406.4 380.0 409.6M378.3 407.0Q379.4 406.7 381.5 406.0M378.3 407.0Q379.2 409.6 380.0 409.6M381.5 406.0Q384.9 405.9 386.4 406.7M386.4 406.7Q389.4 406.2 390.2 404.8M386.4 406.7Q389.4 410.9 394.5 412.5M390.2 404.8Q393.0 406.5 396.1 406.4M390.2 404.8Q393.7 409.4 394.5 412.5M390.2 404.8Q394.6 406.0 396.8 408.2M396.1 406.4Q398.2 408.2 400.5 411.6M399.3 405.6Q398.7 407.5 400.5 411.6M351.7 412.4Q353.9 413.1 356.2 412.4M356.2 412.4Q356.5 413.0 356.2 415.4M359.3 412.2Q361.1 409.7 364.7 408.9M359.3 412.2Q358.6 414.8 359.7 416.8M364.7 408.9Q365.9 410.9 367.1 413.3M364.7 408.9Q366.0 413.9 368.9 416.5M370.9 412.2Q371.9 409.7 372.1 409.3M370.9 412.2Q369.0 413.8 368.9 416.5M372.1 409.3Q375.3 410.0 380.0 409.6M372.1 409.3Q373.7 412.1 373.3 416.8M380.0 409.6Q380.0 412.8 378.9 415.7M380.0 409.6Q383.4 411.5 384.2 413.5M382.1 408.1Q383.3 409.6 385.7 410.8M382.1 408.1Q384.2 410.2 384.2 413.5M385.7 410.8Q389.5 412.9 394.5 412.5M385.7 410.8Q389.2 412.0 393.1 415.7M394.5 412.5Q394.8 410.2 396.8 408.2M396.8 408.2Q399.8 408.5 400.5 411.6M396.8 408.2Q398.3 410.1 400.9 413.6M400.5 411.6Q401.9 413.5 400.9 413.6M348.8 415.4Q348.8 414.6 350.6 414.9M350.6 414.9Q352.9 416.4 356.2 415.4M350.6 414.9Q350.2 416.8 352.1 419.9M356.2 415.4Q358.6 415.1 359.7 416.8M356.2 415.4Q356.3 418.6 358.2 421.4M359.7 416.8Q362.2 417.6 362.0 418.9M368.9 416.5Q371.6 417.7 373.3 416.8M368.9 416.5Q370.7 418.0 371.1 419.7M368.9 416.5Q370.1 416.3 373.6 418.7M373.3 416.8Q374.4 418.9 373.6 418.7M373.3 416.8Q377.1 418.6 379.9 419.6M378.9 415.7Q382.6 413.7 384.2 413.5M378.9 415.7Q379.9 418.3 379.9 419.6M384.2 413.5Q385.0 414.2 386.8 413.7M384.2 413.5Q383.7 416.4 381.1 420.2M386.8 413.7Q390.6 413.8 393.1 415.7M386.8 413.7Q387.1 416.2 389.6 420.6M386.8 413.7Q391.8 416.1 394.1 421.1M393.1 415.7Q393.6 415.7 395.1 416.5M393.1 415.7Q393.4 417.8 394.1 421.1M395.1 416.5Q399.2 415.7 400.9 413.6M347.0 421.5Q350.8 421.2 352.1 419.9M347.0 421.5Q351.2 423.1 353.8 424.7M352.1 419.9Q356.4 421.0 358.2 421.4M352.1 419.9Q351.8 422.9 353.8 424.7M352.1 419.9Q354.2 421.1 356.5 424.3M358.2 421.4Q359.9 419.3 362.0 418.9M358.2 421.4Q357.2 421.8 356.5 424.3M358.2 421.4Q358.6 421.5 359.1 424.0M365.7 421.1Q368.2 420.2 371.1 419.7M365.7 421.1Q366.9 421.0 366.2 423.3M371.1 419.7Q373.7 418.0 373.6 418.7M373.6 418.7Q374.0 421.6 373.5 424.6M379.9 419.6Q380.6 419.7 381.1 420.2M379.9 419.6Q378.8 422.0 377.2 422.0M381.1 420.2Q386.0 419.7 389.6 420.6M381.1 420.2Q381.9 423.1 382.5 424.7M389.6 420.6Q391.0 421.2 394.1 421.1M389.6 420.6Q389.5 423.6 389.0 424.5M389.6 420.6Q391.2 422.2 394.3 423.2M394.1 421.1Q394.7 421.4 397.0 420.6M394.1 421.1Q395.5 422.2 394.3 423.2M400.8 417.5Q402.1 418.9 401.0 422.4M346.6 423.0Q347.9 425.4 348.1 427.6M353.8 424.7Q355.0 424.9 356.5 424.3M353.8 424.7Q350.9 426.5 350.6 427.5M356.5 424.3Q357.5 424.3 358.3 426.1M359.1 424.0Q360.7 424.6 360.2 427.3M359.1 424.0Q361.9 424.7 364.0 428.0M366.2 423.3Q364.2 424.5 364.0 428.0M368.7 423.4Q371.5 424.4 373.5 424.6M368.7 423.4Q368.8 427.3 368.5 430.2M373.5 424.6Q376.5 422.5 377.2 422.0M373.5 424.6Q373.8 427.7 374.3 429.2M377.2 422.0Q379.9 422.2 382.5 424.7M377.2 422.0Q377.1 425.7 377.3 428.1M382.5 424.7Q385.4 425.5 389.0 424.5M382.5 424.7Q383.6 426.1 383.8 429.8M382.5 424.7Q383.9 426.4 386.7 428.1M389.0 424.5Q386.5 425.6 386.7 428.1M389.0 424.5Q391.7 428.0 393.9 429.8M394.3 423.2Q395.3 425.3 395.6 428.5M394.7 423.7Q399.1 424.1 401.0 422.4M394.7 423.7Q395.4 426.0 395.6 428.5M394.7 423.7Q397.5 426.5 402.5 427.8M401.0 422.4Q402.0 425.4 402.5 427.8M348.1 427.6Q348.5 428.4 350.6 427.5M348.1 427.6Q348.2 431.4 348.1 433.5M350.6 427.5Q354.3 426.3 358.3 426.1M358.3 426.1Q360.8 429.5 361.8 432.0M360.2 427.3Q361.1 428.5 364.0 428.0M360.2 427.3Q360.5 430.2 361.8 432.0M364.0 428.0Q365.5 429.9 368.5 430.2M368.5 430.2Q372.4 428.6 374.3 429.2M368.5 430.2Q370.0 430.0 368.9 431.2M374.3 429.2Q376.2 428.2 377.3 428.1M374.3 429.2Q374.8 431.7 373.1 433.0M377.3 428.1Q381.5 429.3 383.8 429.8M377.3 428.1Q380.4 431.0 384.7 431.8M383.8 429.8Q384.3 430.0 386.7 428.1M383.8 429.8Q387.4 430.7 389.8 433.2M386.7 428.1Q390.5 429.6 393.9 429.8M386.7 428.1Q388.6 429.6 389.8 433.2M393.9 429.8Q393.5 432.4 391.8 434.5M395.6 428.5Q397.9 431.1 398.6 432.0M402.5 427.8Q401.6 430.4 399.6 433.4M348.1 433.5Q350.9 432.8 353.9 433.0M353.9 433.0Q355.6 432.5 357.1 432.1M353.9 433.0Q353.9 434.8 353.1 436.9M357.1 432.1Q358.5 432.5 361.8 432.0M357.1 432.1Q357.8 435.7 360.4 436.8M361.8 432.0Q362.5 432.3 365.3 432.2M361.8 432.0Q362.2 435.0 360.4 436.8M365.3 432.2Q366.0 430.9 368.9 431.2M365.3 432.2Q366.1 434.3 364.8 436.8M368.9 431.2Q371.9 431.8 373.1 433.0M368.9 431.2Q369.9 433.8 371.2 435.8M368.9 431.2Q369.9 433.9 373.0 436.2M373.1 433.0Q374.5 432.9 377.7 430.8M373.1 433.0Q373.1 435.6 373.0 436.2M377.7 430.8Q381.0 431.7 384.7 431.8M377.7 430.8Q378.6 433.3 380.9 437.4M377.7 430.8Q378.9 435.9 381.3 438.8M384.7 431.8Q383.9 435.5 381.3 438.8M389.8 433.2Q390.3 437.1 389.5 438.7M391.8 434.5Q393.9 434.3 398.6 432.0M391.8 434.5Q390.4 435.3 391.7 438.4M398.6 432.0Q400.2 433.2 399.6 433.4M398.6 432.0Q398.4 434.8 395.9 435.7M348.8 437.8Q348.1 439.4 346.0 443.5M353.1 436.9Q354.8 436.8 356.8 436.2M353.1 436.9Q350.9 438.9 349.7 440.9M356.8 436.2Q357.3 436.1 360.4 436.8M356.8 436.2Q355.4 437.0 354.1 440.3M356.8 436.2Q359.2 439.6 359.3 442.8M360.4 436.8Q363.9 436.9 364.8 436.8M364.8 436.8Q365.7 439.9 364.4 440.4M371.2 435.8Q369.3 439.4 368.4 441.0M373.0 436.2Q377.1 435.5 380.9 437.4M373.0 436.2Q373.3 439.3 375.9 442.3M380.9 437.4Q380.2 437.6 381.3 438.8M380.9 437.4Q381.2 440.8 383.5 441.6M381.3 438.8Q386.0 439.0 389.5 438.7M381.3 438.8Q383.5 439.1 383.5 441.6M381.3 438.8Q383.9 440.9 387.9 442.5M389.5 438.7Q391.4 438.6 391.7 438.4M389.5 438.7Q388.9 439.7 387.9 442.5M391.7 438.4Q393.8 437.9 395.9 435.7M395.9 435.7Q396.5 439.4 397.4 441.7M402.9 438.8Q401.1 440.2 401.9 441.3M346.0 443.5Q348.7 442.9 349.7 440.9M349.7 440.9Q352.0 440.2 354.1 440.3M349.7 440.9Q350.1 444.0 352.8 445.3M349.7 440.9Q353.5 442.9 358.2 446.3M354.1 440.3Q357.7 440.4 359.3 442.8M354.1 440.3Q357.1 444.1 358.2 446.3M359.3 442.8Q363.2 442.9 364.4 440.4M359.3 442.8Q361.5 444.5 362.4 447.2M359.3 442.8Q364.4 443.9 367.4 447.1M364.4 440.4Q367.3 440.6 368.4 441.0M368.4 441.0Q370.9 440.7 375.9 442.3M368.4 441.0Q367.9 442.3 369.5 445.9M375.9 442.3Q375.9 442.8 377.0 442.6M375.9 442.3Q376.1 444.2 374.8 447.4M375.9 442.3Q377.9 444.4 380.3 444.6M377.0 442.6Q379.9 443.8 380.3 444.6M383.5 441.6Q386.2 441.1 387.9 442.5M383.5 441.6Q383.5 442.3 381.3 444.5M387.9 442.5Q391.4 442.9 393.7 441.8M387.9 442.5Q387.9 442.4 385.9 444.3M387.9 442.5Q389.0 443.2 390.1 445.2M393.7 441.8Q396.3 441.1 397.4 441.7M393.7 441.8Q393.2 442.9 390.1 445.2M393.7 441.8Q395.5 445.6 395.1 447.1M397.4 441.7Q400.7 441.0 401.9 441.3M397.4 441.7Q394.9 443.4 395.1 447.1M397.4 441.7Q399.6 446.0 401.8 448.4M401.9 441.3Q401.2 444.6 401.8 448.4M346.9 446.4Q349.8 446.4 352.8 445.3M352.8 445.3Q355.7 447.1 358.2 446.3M358.2 446.3Q359.8 447.1 362.4 447.2M362.4 447.2Q363.8 448.0 367.4 447.1M369.5 445.9Q372.3 446.3 374.8 447.4M380.3 444.6Q381.7 445.2 381.3 444.5M381.3 444.5Q384.5 444.0 385.9 444.3M385.9 444.3Q388.9 446.0 390.1 445.2M390.1 445.2Q391.8 445.2 395.1 447.1" stroke="#e2cdc8" stroke-width="0.6" opacity="0.35" fill="none" stroke-linecap="round"/><path d="M348.2 398.3h0M357.8 399.5h0M363.8 397.9h0M376.9 395.5h0M380.6 397.1h0M386.5 395.3h0M395.5 398.1h0M350.3 404.6h0M355.7 407.9h0M366.4 405.1h0M370.7 405.5h0M381.1 407.3h0M388.9 402.0h0M393.1 408.9h0M352.6 410.5h0M362.2 415.4h0M366.5 411.6h0M372.6 411.8h0M383.3 412.8h0M387.5 410.4h0M352.4 424.1h0M360.3 420.8h0M364.5 423.6h0M374.9 421.9h0M382.2 423.9h0M388.7 419.2h0M397.8 423.8h0M349.2 430.3h0M359.8 425.4h0M367.5 426.7h0M370.5 425.4h0M380.5 428.2h0M386.3 430.0h0M394.0 431.5h0M354.8 432.9h0M360.7 436.4h0M370.3 438.1h0M378.4 434.5h0M384.4 439.6h0M396.2 437.5h0M349.6 445.7h0M358.7 442.4h0M364.3 446.0h0M370.0 444.9h0M382.1 444.0h0M388.8 446.8h0M394.9 445.6h0" stroke="#faf8f8" stroke-width="2.2" stroke-linecap="round" opacity="0.5" fill="none"/><path d="M384.9 433.1l8.0 1.7M366.8 403.2l-5.4 1.6" stroke="#fcfafa" stroke-width="1.6" stroke-linecap="round" opacity="0.5" fill="none"/><path d="M349.1 396.8l-0.2 0.1M352.8 398.4l-0.3 -0.2M356.1 397.9l0.2 -0.0M357.8 396.6l0.3 0.4M361.4 397.1l0.1 0.2M363.1 397.5l0.4 -0.2M366.7 396.7l-0.5 -0.5M368.7 398.9l0.1 -0.0M371.2 397.9l-0.4 -0.4M374.4 397.2l0.3 0.1M378.0 397.2l-0.1 -0.4M379.9 399.0l0.2 -0.2M383.6 398.8l0.3 0.0M385.2 396.7l-0.4 0.3M389.6 398.3l0.2 -0.4M391.9 396.6l-0.5 0.1M393.2 397.6l-0.1 0.4M396.9 397.1l0.2 -0.3M352.1 401.8l0.1 -0.3M353.1 401.1l-0.1 0.2M355.9 400.8l0.4 -0.2M360.3 399.7l0.2 -0.5M361.6 399.5l-0.3 0.0M365.9 401.4l0.4 -0.3M369.0 400.4l0.2 0.2M370.1 400.1l-0.1 -0.2M374.1 401.5l0.2 -0.5M377.0 401.3l0.5 -0.3M380.2 400.3l0.1 -0.3M381.3 400.4l0.1 -0.2M384.8 400.4l-0.3 0.1M387.1 399.4l-0.3 -0.1M390.6 399.5l0.4 -0.4M394.2 399.4l-0.2 -0.2M396.4 399.6l-0.3 0.3M349.8 402.4l-0.2 -0.1M354.1 404.5l0.1 -0.2M355.8 402.3l-0.4 0.4M360.2 403.1l-0.3 0.4M361.4 403.2l0.4 -0.5M364.5 402.7l-0.1 0.4M368.9 404.0l0.3 -0.1M371.1 404.0l0.4 -0.1M374.2 402.6l0.1 0.4M376.7 404.1l-0.3 -0.1M379.1 404.2l-0.3 0.0M382.3 403.9l-0.2 -0.4M384.2 402.6l0.1 0.0M386.2 404.5l0.4 -0.3M389.6 404.6l-0.5 -0.3M392.6 404.3l-0.4 0.0M396.4 403.7l-0.1 0.2M350.3 405.6l0.1 0.3M352.1 406.6l-0.1 -0.3M355.5 405.1l0.3 0.1M358.5 407.1l0.3 -0.1M360.3 406.4l-0.3 0.1M363.3 407.0l0.4 -0.3M367.9 405.2l-0.4 0.1M369.3 405.9l-0.1 0.3M373.4 407.2l-0.3 -0.2M376.4 406.0l-0.4 0.0M377.7 406.6l-0.1 -0.3M381.8 407.2l-0.3 -0.3M384.0 405.4l0.5 -0.1M385.7 405.5l-0.3 -0.2M389.8 407.2l-0.1 0.0M393.5 406.2l-0.1 0.4M395.6 406.0l0.3 -0.3M397.0 405.5l-0.2 0.4M347.9 408.0l0.3 0.0M353.0 408.6l-0.4 -0.3M355.3 409.0l0.3 0.4M357.4 408.0l0.3 0.4M360.4 409.1l0.3 -0.1M361.8 410.2l-0.0 -0.2M366.8 410.0l-0.1 0.2M369.9 409.1l0.0 0.4M370.5 409.5l-0.3 -0.2M375.0 408.0l0.4 0.2M378.1 409.9l0.1 -0.1M378.8 410.1l0.3 -0.2M382.1 410.2l-0.2 -0.3M384.8 409.5l0.3 -0.2M388.7 409.3l0.2 -0.3M391.8 408.0l-0.4 0.1M394.9 409.5l0.4 0.4M397.1 410.1l0.5 0.3M348.2 411.7l0.0 -0.0M352.5 412.2l0.4 0.5M353.2 411.3l0.5 -0.4M356.8 411.0l0.2 -0.0M360.9 413.0l0.4 -0.2M363.1 413.1l-0.1 -0.1M366.8 412.0l-0.5 0.1M367.4 410.7l0.4 0.3M370.9 412.9l-0.3 -0.5M372.8 411.8l-0.2 0.2M377.9 411.8l0.3 -0.4M380.1 411.1l0.4 0.0M382.0 411.5l-0.3 0.2M385.1 410.9l-0.2 -0.1M387.4 411.0l0.1 0.2M389.5 412.3l-0.3 -0.0M394.4 411.3l0.3 -0.4M395.9 410.6l-0.3 0.2M351.6 413.9l0.1 0.1M353.1 413.5l0.4 0.4M356.1 413.6l0.3 -0.3M358.2 415.9l-0.3 -0.3M362.5 415.2l0.1 -0.3M365.9 414.3l-0.3 0.3M367.0 414.4l-0.2 -0.0M371.2 413.7l0.5 0.0M374.2 414.5l-0.1 0.1M375.1 413.9l-0.4 -0.3M378.4 413.8l0.4 -0.5M381.1 413.5l0.1 0.4M384.7 414.3l0.3 0.1M387.9 415.2l-0.2 -0.4M389.7 413.9l0.2 0.3M391.9 414.8l0.0 -0.1M395.1 415.9l0.3 0.3M351.7 418.4l0.3 0.2M352.2 417.0l-0.2 0.3M355.0 418.0l-0.1 -0.4M358.7 416.9l0.2 -0.2M361.2 418.2l-0.1 0.3M363.7 417.1l-0.3 -0.3M367.5 418.4l0.0 0.4M369.8 416.3l0.3 -0.2M372.5 417.9l0.5 0.0M375.9 416.8l-0.4 -0.1M377.9 417.5l-0.4 -0.2M380.9 416.2l0.3 -0.1M384.8 418.0l0.2 0.0M386.3 417.7l-0.2 -0.2M390.7 418.4l0.4 0.4M393.0 418.3l0.1 0.4M394.7 416.6l-0.4 -0.1M399.5 417.6l-0.2 0.1M349.5 420.8l0.2 0.1M351.8 419.4l-0.4 -0.4M354.4 421.1l0.4 -0.3M358.2 419.9l-0.1 0.4M360.6 420.4l0.4 -0.2M362.7 419.3l-0.2 0.2M364.9 420.2l-0.3 0.0M367.7 420.6l-0.0 0.4M371.0 419.3l0.1 -0.2M375.6 420.6l0.4 0.1M377.7 419.6l0.0 -0.3M380.5 420.1l0.4 0.1M383.4 419.2l0.5 0.3M385.0 420.7l0.2 -0.2M387.9 419.2l-0.4 -0.2M390.7 419.5l0.4 -0.3M393.8 419.3l-0.1 -0.4M396.1 421.1l0.1 0.1M350.0 422.2l-0.5 0.1M351.9 421.8l0.4 0.1M356.0 422.5l-0.3 0.3M357.4 422.5l0.4 0.2M361.7 423.9l-0.4 -0.4M363.2 424.1l0.4 -0.4M366.7 421.9l-0.0 0.3M369.3 422.4l-0.3 0.3M372.3 421.9l-0.3 -0.4M374.9 422.1l-0.1 -0.4M379.1 423.6l-0.5 0.2M379.6 423.8l0.1 0.3M383.3 423.6l-0.1 0.2M385.7 422.1l0.2 0.4M389.3 422.4l-0.3 -0.3M391.7 422.7l-0.2 0.1M394.5 422.3l-0.4 0.1M396.6 423.4l-0.4 -0.1M350.1 425.0l0.4 -0.2M351.3 425.8l0.4 0.1M354.0 427.0l-0.3 0.3M358.2 427.0l0.5 0.1M360.8 426.7l0.4 -0.2M364.0 426.0l0.1 -0.1M366.3 425.7l-0.3 0.1M368.2 425.7l0.4 0.2M370.6 427.0l-0.4 -0.3M373.3 426.7l-0.2 -0.4M376.8 426.2l-0.2 -0.5M379.7 426.2l0.3 0.4M383.9 425.9l-0.3 -0.2M386.6 426.2l0.1 0.3M388.2 425.6l0.1 -0.3M392.0 426.5l-0.2 0.2M393.7 425.0l-0.5 -0.2M396.5 426.7l0.1 0.4M349.8 428.5l0.4 -0.3M352.3 427.9l0.2 0.5M356.9 429.6l-0.2 0.4M358.4 428.2l-0.2 0.4M361.1 429.4l-0.3 0.2M365.5 428.6l0.2 0.3M366.5 429.0l-0.2 -0.4M368.9 428.8l-0.4 -0.1M373.2 428.3l0.3 -0.3M376.3 429.1l-0.3 -0.1M377.2 429.0l-0.3 0.5M380.1 428.9l-0.1 -0.1M384.8 428.5l0.2 0.4M387.7 429.3l0.5 0.4M389.5 427.7l-0.4 -0.4M392.8 428.7l-0.0 -0.3M395.0 428.1l-0.4 -0.0M397.3 428.2l-0.1 -0.1M349.5 432.6l0.1 0.4M352.7 430.3l0.2 0.5M353.9 432.0l0.1 0.5M357.3 432.4l-0.0 -0.4M360.2 431.2l-0.4 -0.2M362.1 432.5l0.4 0.0M366.8 431.2l0.2 0.2M369.7 432.0l-0.2 0.0M372.1 432.2l-0.3 0.4M374.2 432.3l0.5 0.3M376.1 431.3l-0.4 -0.3M378.8 430.8l-0.4 0.2M383.7 432.0l0.3 0.1M385.3 431.3l-0.5 0.3M387.2 432.4l-0.2 -0.0M391.3 431.3l-0.1 0.5M394.6 430.6l0.2 0.2M396.1 430.5l0.0 -0.1M349.9 433.2l0.1 0.3M353.1 434.8l-0.3 -0.2M354.7 435.5l0.4 0.1M357.2 434.8l0.4 0.5M361.8 433.6l0.5 0.2M364.3 433.4l0.4 0.4M366.8 434.7l0.1 -0.2M369.9 434.8l0.2 0.1M372.7 434.1l0.3 0.2M375.8 434.1l0.5 -0.3M377.6 434.3l0.4 0.2M379.9 433.4l-0.0 -0.1M382.7 434.0l0.1 0.2M385.0 433.3l0.2 -0.0M389.6 433.4l0.4 0.2M391.9 435.4l-0.3 0.1M395.6 433.4l-0.2 0.2M396.6 434.9l-0.5 -0.4M349.5 437.7l0.2 0.1M351.7 436.8l-0.4 -0.1M355.1 436.3l-0.2 0.4M357.8 437.9l-0.4 0.1M361.0 436.8l-0.3 0.2M363.5 436.8l-0.2 0.0M366.1 436.3l0.3 0.1M370.4 437.6l-0.2 0.5M372.6 435.8l0.1 0.3M374.1 437.5l-0.1 -0.3M378.1 437.7l0.3 0.4M380.8 436.1l0.2 -0.1M384.0 437.2l-0.0 0.1M387.0 438.2l0.1 -0.1M389.5 438.3l-0.2 -0.5M391.0 437.9l0.5 -0.0M394.0 436.5l-0.0 0.3M398.0 437.9l0.5 -0.2M348.2 441.1l0.4 -0.1M353.2 440.6l0.3 0.2M355.4 440.0l-0.2 -0.1M357.3 440.2l-0.3 0.4M360.2 438.9l-0.0 0.5M363.7 439.5l-0.4 -0.4M365.2 440.8l0.1 0.1M367.7 439.7l-0.2 0.3M371.5 439.2l0.5 -0.5M373.5 440.3l0.4 -0.2M376.9 439.0l-0.0 0.1M380.0 438.6l-0.2 0.1M382.5 440.4l0.5 -0.1M387.0 438.7l-0.2 -0.4M389.3 439.5l-0.2 -0.3M392.0 438.6l0.2 -0.4M395.3 440.2l-0.0 -0.5M395.8 439.6l0.2 0.2M349.2 443.3l0.1 0.3M353.6 443.7l-0.3 0.2M356.2 443.0l-0.0 0.0M357.2 443.1l0.3 0.4M360.7 443.7l-0.1 0.3M364.7 442.5l0.2 0.1M367.6 441.4l-0.4 0.5M370.3 443.9l0.2 0.5M372.9 441.9l0.2 0.4M376.2 443.0l0.4 0.3M376.7 441.9l0.4 0.5M380.3 441.6l0.3 -0.1M384.7 443.5l-0.4 0.0M386.3 441.4l0.4 -0.1M388.9 442.4l0.3 0.5M391.1 443.5l0.1 0.0M393.6 442.0l0.4 0.3M397.5 443.2l-0.3 0.3" stroke="#aaa6da" stroke-width="1.5" stroke-linecap="round" opacity="0.62" fill="none"/></g></g><rect x="386.6" y="440.4" width="7.6" height="1.6" fill="#000"/>
<text x="465.00" y="384.80" font-size="7.3" text-anchor="middle">PDX, LAT001_9B</text>
<text x="437.70" y="395.50" font-size="7.3" text-anchor="middle">c-MET</text>
<text x="490.90" y="395.50" font-size="7.3" text-anchor="middle">Phospho-MET</text>
<clipPath id="c3"><rect x="417.2" y="399.0" width="46.2" height="45.5"/></clipPath><g clip-path="url(#c3)"><g filter="url(#hb)"><rect x="415.2" y="397.0" width="50.2" height="49.5" fill="#e8d4c2"/><path d="M414.2 397.7Q416.5 397.2 419.9 398.4M414.2 397.7Q416.5 399.8 419.5 400.7M419.9 398.4Q421.5 397.3 421.9 395.9M419.9 398.4Q420.8 400.3 419.5 400.7M421.9 395.9Q422.4 399.1 422.7 400.7M425.8 395.9Q427.8 396.4 432.1 395.5M425.8 395.9Q426.0 397.2 426.5 399.5M432.1 395.5Q434.5 395.9 435.3 395.9M432.1 395.5Q433.0 398.7 432.5 402.2M438.4 396.7Q439.0 398.6 439.4 402.0M444.6 397.4Q444.9 397.7 445.3 396.1M444.6 397.4Q442.8 400.1 441.7 401.7M444.6 397.4Q446.6 397.8 447.0 399.7M445.3 396.1Q447.7 396.2 449.8 398.5M445.3 396.1Q446.8 398.5 447.0 399.7M449.8 398.5Q452.0 398.8 456.4 398.2M449.8 398.5Q450.4 400.1 450.0 401.1M456.4 398.2Q456.4 398.5 454.2 400.8M460.5 398.0Q462.6 399.1 465.0 398.2M460.5 398.0Q460.1 398.2 459.6 400.6M465.0 398.2Q465.0 397.4 466.2 398.4M465.0 398.2Q464.4 400.5 461.7 401.0M466.2 398.4Q465.1 400.0 466.1 399.9M415.1 402.0Q415.7 402.4 414.0 404.5M419.5 400.7Q421.2 400.2 422.7 400.7M419.5 400.7Q419.6 403.6 417.5 405.6M422.7 400.7Q424.0 400.0 426.5 399.5M422.7 400.7Q424.4 401.6 425.0 404.6M426.5 399.5Q429.6 399.8 432.5 402.2M426.5 399.5Q427.6 403.6 428.1 406.7M432.5 402.2Q436.0 401.1 437.1 401.8M432.5 402.2Q431.3 402.1 429.4 403.6M437.1 401.8Q438.3 402.6 439.4 402.0M437.1 401.8Q437.4 403.2 439.8 403.6M439.4 402.0Q440.9 401.2 441.7 401.7M439.4 402.0Q439.5 403.4 439.8 403.6M441.7 401.7Q443.7 401.1 447.0 399.7M441.7 401.7Q445.8 403.9 448.7 406.2M447.0 399.7Q448.6 401.1 450.0 401.1M447.0 399.7Q446.7 403.6 448.7 406.2M447.0 399.7Q448.3 402.4 450.0 406.4M450.0 401.1Q451.6 400.1 454.2 400.8M454.2 400.8Q457.9 399.8 459.6 400.6M454.2 400.8Q454.7 403.7 454.7 405.9M459.6 400.6Q460.8 401.7 461.7 401.0M459.6 400.6Q459.2 403.7 457.7 406.9M461.7 401.0Q463.2 403.1 463.6 405.9M417.5 405.6Q418.2 406.7 418.6 409.9M425.0 404.6Q426.0 406.4 428.1 406.7M425.0 404.6Q423.1 405.6 422.6 408.2M428.1 406.7Q427.6 404.7 429.4 403.6M429.4 403.6Q432.7 403.9 436.4 406.4M429.4 403.6Q428.8 404.8 429.6 407.9M436.4 406.4Q436.9 406.1 439.8 403.6M436.4 406.4Q434.1 407.6 433.5 409.6M442.9 406.5Q443.2 406.5 441.4 408.8M448.7 406.2Q448.4 409.5 449.2 411.0M450.0 406.4Q451.4 407.3 454.7 405.9M450.0 406.4Q448.9 408.4 449.2 411.0M457.7 406.9Q461.3 405.6 463.6 405.9M463.6 405.9Q465.4 405.1 466.0 405.5M463.6 405.9Q463.5 407.2 461.5 408.9M466.0 405.5Q466.5 406.9 466.7 410.3M415.5 409.4Q418.0 408.7 418.6 409.9M418.6 409.9Q420.2 408.3 422.6 408.2M418.6 409.9Q419.3 412.2 419.2 414.9M418.6 409.9Q421.0 410.5 423.3 412.9M422.6 408.2Q422.7 410.3 423.3 412.9M425.9 409.7Q427.0 408.3 429.6 407.9M425.9 409.7Q426.8 409.9 427.9 412.2M425.9 409.7Q428.4 411.0 429.3 413.0M429.6 407.9Q431.9 408.4 433.5 409.6M429.6 407.9Q429.3 410.5 429.3 413.0M433.5 409.6Q435.8 410.3 439.4 409.2M439.4 409.2Q439.4 410.6 438.2 413.7M441.4 408.8Q443.9 408.1 446.6 407.4M441.4 408.8Q443.1 411.3 444.6 412.0M446.6 407.4Q447.6 408.4 449.2 411.0M446.6 407.4Q447.9 411.0 447.6 412.4M449.2 411.0Q451.1 410.5 453.7 408.2M449.2 411.0Q448.9 411.1 450.2 412.1M449.2 411.0Q450.8 411.1 454.0 412.4M453.7 408.2Q453.4 410.5 454.0 412.4M458.3 409.4Q460.1 409.0 461.5 408.9M458.3 409.4Q457.6 409.8 457.4 412.6M458.3 409.4Q459.1 411.1 461.5 414.0M461.5 408.9Q461.3 410.7 461.5 414.0M461.5 408.9Q465.2 411.1 467.6 411.0M413.2 412.3Q416.0 412.6 419.2 414.9M413.2 412.3Q415.0 413.8 416.3 415.8M419.2 414.9Q422.2 414.1 423.3 412.9M419.2 414.9Q420.1 416.0 419.1 417.2M423.3 412.9Q426.4 413.1 427.9 412.2M423.3 412.9Q422.6 415.2 422.5 416.2M427.9 412.2Q429.5 412.7 429.3 413.0M427.9 412.2Q427.0 413.3 426.9 415.5M429.3 413.0Q430.0 413.5 432.7 415.4M429.3 413.0Q433.6 415.3 436.5 415.9M436.8 414.0Q437.4 414.9 438.2 413.7M436.8 414.0Q437.0 413.8 436.5 415.9M438.2 413.7Q442.4 414.0 444.6 412.0M444.6 412.0Q445.4 414.5 446.6 416.8M447.6 412.4Q449.5 411.6 450.2 412.1M447.6 412.4Q445.9 414.5 446.6 416.8M450.2 412.1Q453.1 413.3 454.0 412.4M450.2 412.1Q450.9 415.1 452.7 419.0M454.0 412.4Q456.1 411.5 457.4 412.6M454.0 412.4Q454.6 415.8 453.4 417.1M461.5 414.0Q463.6 412.9 467.6 411.0M461.5 414.0Q462.1 415.2 462.5 418.6M416.3 415.8Q418.0 416.1 419.1 417.2M416.3 415.8Q414.9 417.5 413.2 420.0M416.3 415.8Q417.7 416.6 420.7 419.6M419.1 417.2Q421.8 417.0 422.5 416.2M422.5 416.2Q423.7 416.1 426.9 415.5M422.5 416.2Q423.3 419.3 423.1 420.5M426.9 415.5Q430.3 416.6 432.7 415.4M426.9 415.5Q427.8 417.7 426.6 422.2M426.9 415.5Q428.1 418.8 430.1 421.9M432.7 415.4Q434.2 415.6 436.5 415.9M432.7 415.4Q430.7 417.9 430.1 421.9M432.7 415.4Q435.4 419.9 435.9 422.7M436.5 415.9Q436.6 415.8 438.4 416.6M436.5 415.9Q436.9 419.4 439.3 422.7M438.4 416.6Q440.9 416.1 441.3 415.5M438.4 416.6Q438.1 419.8 439.3 422.7M441.3 415.5Q443.7 415.5 446.6 416.8M446.6 416.8Q450.2 417.4 452.7 419.0M446.6 416.8Q446.1 419.8 447.7 422.4M452.7 419.0Q453.5 418.9 453.4 417.1M452.7 419.0Q452.6 418.6 452.8 419.5M453.4 417.1Q455.6 418.3 457.7 418.2M457.7 418.2Q460.0 418.9 462.5 418.6M457.7 418.2Q458.9 420.1 460.4 421.1M457.7 418.2Q460.5 419.5 462.4 422.8M462.5 418.6Q465.8 417.1 467.4 415.5M462.5 418.6Q462.8 421.1 462.4 422.8M467.4 415.5Q466.4 416.5 466.4 419.3M413.2 420.0Q413.9 421.1 413.4 423.1M420.7 419.6Q421.8 420.4 423.1 420.5M420.7 419.6Q422.1 423.5 424.1 426.5M423.1 420.5Q425.1 422.3 426.6 422.2M426.6 422.2Q428.0 424.2 429.2 426.2M430.1 421.9Q434.1 422.2 435.9 422.7M430.1 421.9Q430.3 423.1 430.9 425.5M430.1 421.9Q433.4 423.2 436.5 425.9M439.3 422.7Q440.2 422.2 443.0 421.3M439.3 422.7Q437.9 425.4 438.4 426.0M439.3 422.7Q441.4 422.8 441.6 424.2M443.0 421.3Q445.8 421.1 447.7 422.4M443.0 421.3Q442.4 422.8 441.6 424.2M443.0 421.3Q445.9 422.2 449.2 424.9M447.7 422.4Q451.0 420.3 452.8 419.5M447.7 422.4Q447.5 424.5 449.2 424.9M447.7 422.4Q449.7 424.3 450.3 426.1M452.8 419.5Q450.5 422.2 450.3 426.1M453.7 421.1Q454.8 423.1 455.0 423.0M460.4 421.1Q461.2 423.1 462.4 422.8M460.4 421.1Q459.0 422.4 457.3 424.0M462.4 422.8Q465.5 422.3 466.4 419.3M462.4 422.8Q462.5 425.9 462.5 426.7M413.4 423.1Q414.0 425.3 416.6 428.7M413.4 423.1Q417.3 427.7 421.2 430.0M420.1 423.4Q422.1 424.0 424.1 426.5M424.1 426.5Q424.0 428.3 423.1 428.0M424.1 426.5Q425.2 427.5 427.0 430.6M429.2 426.2Q429.5 426.0 430.9 425.5M429.2 426.2Q427.5 428.4 427.0 430.6M430.9 425.5Q430.6 427.2 431.3 427.8M436.5 425.9Q437.7 425.6 438.4 426.0M436.5 425.9Q436.7 428.5 434.7 428.9M438.4 426.0Q439.2 426.8 438.0 429.3M441.6 424.2Q444.5 424.8 449.2 424.9M441.6 424.2Q440.8 427.8 441.3 430.3M441.6 424.2Q443.7 425.3 445.9 427.4M449.2 424.9Q449.4 426.0 450.3 426.1M449.2 424.9Q448.3 425.2 445.9 427.4M450.3 426.1Q452.8 424.5 455.0 423.0M450.3 426.1Q450.8 428.1 451.6 428.2M450.3 426.1Q452.7 427.0 456.7 429.0M455.0 423.0Q454.7 427.2 456.7 429.0M457.3 424.0Q460.0 424.3 462.5 426.7M457.3 424.0Q457.5 427.6 459.3 430.3M462.5 426.7Q463.9 426.5 466.2 426.4M462.5 426.7Q466.3 428.3 467.8 428.7M466.2 426.4Q466.4 428.3 467.8 428.7M416.6 428.7Q419.6 428.9 421.2 430.0M416.6 428.7Q417.8 430.9 417.0 431.1M421.2 430.0Q421.6 429.3 423.1 428.0M421.2 430.0Q423.5 431.6 424.6 431.6M423.1 428.0Q425.8 429.6 427.0 430.6M427.0 430.6Q428.8 428.3 431.3 427.8M427.0 430.6Q425.8 431.4 425.4 433.0M431.3 427.8Q432.0 430.3 432.9 432.0M434.7 428.9Q435.8 430.5 435.1 433.4M438.0 429.3Q440.4 428.6 441.3 430.3M438.0 429.3Q437.5 430.4 438.2 433.1M441.3 430.3Q444.1 427.8 445.9 427.4M441.3 430.3Q441.0 431.7 441.2 432.8M445.9 427.4Q449.6 426.7 451.6 428.2M445.9 427.4Q446.8 430.2 448.2 432.4M451.6 428.2Q451.2 430.2 450.1 431.2M456.7 429.0Q457.9 429.9 459.3 430.3M456.7 429.0Q455.5 430.1 456.0 432.7M456.7 429.0Q457.8 432.1 460.9 434.0M459.3 430.3Q460.3 431.0 460.9 434.0M462.1 430.0Q465.2 429.5 467.8 428.7M462.1 430.0Q461.0 432.3 461.6 434.7M417.0 431.1Q419.7 430.2 420.6 431.6M417.0 431.1Q415.8 435.1 416.5 437.7M417.0 431.1Q417.5 433.3 420.1 437.7M420.6 431.6Q422.8 431.8 424.6 431.6M420.6 431.6Q419.4 435.2 420.1 437.7M424.6 431.6Q425.7 433.4 425.4 433.0M424.6 431.6Q423.7 434.5 423.6 436.0M424.6 431.6Q426.1 434.5 425.7 437.9M425.4 433.0Q430.1 432.7 432.9 432.0M432.9 432.0Q433.8 431.6 435.1 433.4M432.9 432.0Q431.6 434.7 431.6 435.2M435.1 433.4Q435.5 432.4 438.2 433.1M435.1 433.4Q435.2 435.4 435.8 437.4M438.2 433.1Q440.3 433.4 441.2 432.8M438.2 433.1Q438.7 436.6 439.2 438.1M441.2 432.8Q445.6 433.0 448.2 432.4M441.2 432.8Q443.6 435.7 444.7 436.5M448.2 432.4Q449.9 430.8 450.1 431.2M448.2 432.4Q448.1 434.7 448.5 437.0M450.1 431.2Q453.1 431.7 456.0 432.7M456.0 432.7Q458.6 433.2 460.9 434.0M461.6 434.7Q464.8 434.6 468.9 434.3M468.9 434.3Q468.3 435.2 467.9 436.5M416.5 437.7Q418.7 436.8 420.1 437.7M420.1 437.7Q422.4 437.0 423.6 436.0M420.1 437.7Q419.1 440.9 418.9 442.3M420.1 437.7Q422.4 441.4 424.3 442.9M423.6 436.0Q424.7 439.8 424.3 442.9M425.7 437.9Q428.1 435.9 431.6 435.2M425.7 437.9Q426.2 439.0 427.0 440.6M425.7 437.9Q429.8 439.9 431.5 442.0M431.6 435.2Q432.7 435.5 435.8 437.4M431.6 435.2Q432.2 436.7 433.5 439.9M435.8 437.4Q437.1 437.2 439.2 438.1M435.8 437.4Q434.0 437.6 433.5 439.9M439.2 438.1Q441.1 436.3 444.7 436.5M444.7 436.5Q447.5 435.6 448.5 437.0M444.7 436.5Q442.8 440.2 442.4 442.9M448.5 437.0Q450.7 436.6 451.5 436.7M448.5 437.0Q446.1 439.8 446.0 442.7M448.5 437.0Q449.8 438.1 450.4 439.8M461.0 436.4Q463.2 437.2 463.9 438.7M461.0 436.4Q460.4 437.7 457.7 439.5M463.9 438.7Q461.6 440.1 461.5 440.5M463.9 438.7Q465.5 438.0 466.0 439.6M467.9 436.5Q466.7 438.4 466.0 439.6M413.5 440.9Q415.5 442.4 418.9 442.3M413.5 440.9Q413.2 442.3 413.3 445.8M418.9 442.3Q421.5 443.6 424.3 442.9M418.9 442.3Q418.5 443.6 417.4 443.9M424.3 442.9Q424.5 445.3 423.5 446.5M424.3 442.9Q425.8 444.2 427.8 445.8M427.0 440.6Q429.8 442.4 431.5 442.0M427.0 440.6Q427.5 443.6 427.8 445.8M433.5 439.9Q435.8 439.3 437.8 440.3M433.5 439.9Q435.1 441.4 436.6 443.6M442.4 442.9Q445.1 442.5 446.0 442.7M442.4 442.9Q442.1 445.0 443.3 445.1M442.4 442.9Q445.2 444.1 448.3 443.7M446.0 442.7Q448.0 442.2 450.4 439.8M446.0 442.7Q448.2 444.0 448.3 443.7M446.0 442.7Q449.2 443.7 452.0 444.7M457.1 439.4Q457.7 440.2 457.7 439.5M457.1 439.4Q456.6 441.6 454.9 444.0M457.7 439.5Q459.1 443.1 458.3 445.3M461.5 440.5Q463.1 444.0 463.4 446.6M461.5 440.5Q464.1 444.3 466.3 445.9M466.0 439.6Q465.7 443.9 466.3 445.9M413.3 445.8Q415.1 444.5 417.4 443.9M413.3 445.8Q414.2 447.4 413.6 449.6M417.4 443.9Q420.1 444.7 423.5 446.5M423.5 446.5Q426.4 446.8 427.8 445.8M423.5 446.5Q424.1 446.2 425.1 448.0M427.8 445.8Q430.6 445.4 432.0 446.2M432.0 446.2Q431.3 446.9 430.4 447.4M436.6 443.6Q437.2 446.3 440.0 449.3M437.4 445.5Q439.6 447.2 440.0 449.3M437.4 445.5Q439.4 448.2 442.9 449.8M443.3 445.1Q445.9 445.5 448.3 443.7M443.3 445.1Q444.4 446.5 446.1 448.3M448.3 443.7Q450.6 443.7 452.0 444.7M448.3 443.7Q446.9 445.2 446.1 448.3M452.0 444.7Q451.0 445.2 450.7 447.0M454.9 444.0Q455.7 445.7 458.3 445.3M454.9 444.0Q455.2 445.1 456.7 447.4M454.9 444.0Q456.2 446.9 457.6 450.2M458.3 445.3Q460.2 445.2 463.4 446.6M463.4 446.6Q463.9 446.3 466.3 445.9M463.4 446.6Q464.5 447.4 464.5 448.8M466.3 445.9Q466.3 447.4 466.9 447.6M425.1 448.0Q426.7 447.8 428.4 447.9M430.4 447.4Q432.5 447.9 435.0 447.4M435.0 447.4Q438.5 448.0 440.0 449.3M446.1 448.3Q449.4 448.1 450.7 447.0M456.7 447.4Q458.1 448.9 457.6 450.2" stroke="#c89464" stroke-width="0.8" opacity="0.35" fill="none" stroke-linecap="round"/><path d="M418.9 396.5h0M422.3 397.3h0M427.0 397.0h0M431.4 399.1h0M436.9 398.1h0M440.8 396.5h0M448.3 397.6h0M452.8 399.9h0M455.7 396.9h0M464.2 398.8h0M418.7 402.7h0M426.9 405.2h0M431.3 405.2h0M434.7 403.8h0M442.4 401.5h0M446.0 402.2h0M450.6 404.8h0M455.3 401.3h0M460.7 403.4h0M419.0 407.2h0M422.5 408.4h0M425.5 409.9h0M433.3 407.1h0M439.6 409.3h0M443.2 408.1h0M448.7 406.8h0M452.7 405.9h0M455.9 408.5h0M463.1 409.7h0M420.5 413.9h0M424.0 414.2h0M428.0 415.3h0M435.1 412.8h0M440.4 412.9h0M443.7 413.7h0M451.8 413.5h0M456.5 412.6h0M461.8 415.1h0M418.1 420.0h0M425.4 418.0h0M431.6 418.5h0M436.7 418.5h0M438.7 420.2h0M444.0 418.2h0M449.0 416.2h0M455.3 417.7h0M458.6 419.7h0M419.5 421.7h0M423.4 424.3h0M429.6 422.7h0M433.4 425.1h0M439.1 421.9h0M445.0 423.9h0M450.2 422.2h0M454.2 422.5h0M457.3 423.1h0M419.4 430.1h0M423.6 429.1h0M431.0 429.3h0M433.0 430.4h0M438.2 426.1h0M445.1 427.3h0M449.0 426.7h0M456.1 426.2h0M459.0 430.5h0M417.7 433.9h0M421.2 433.9h0M425.4 434.8h0M433.5 434.2h0M434.9 432.5h0M440.5 435.5h0M444.9 434.5h0M454.2 435.2h0M455.9 435.0h0M460.5 433.0h0M419.7 437.1h0M425.5 437.9h0M431.6 439.8h0M433.2 439.8h0M438.8 437.0h0M447.4 440.4h0M450.6 440.1h0M455.7 437.2h0M460.4 439.1h0M416.0 444.6h0M422.5 441.5h0M425.2 445.6h0M430.2 445.1h0M438.0 442.4h0M440.9 442.9h0M445.3 442.0h0M454.3 443.4h0M458.6 444.7h0M460.8 444.5h0" stroke="#f6f0ea" stroke-width="2.4" stroke-linecap="round" opacity="0.55" fill="none"/><path d="M455.9 401.1l2.8 5.7M443.2 424.7l1.2 9.3M464.3 420.4l-5.1 1.9M460.9 399.3l-4.9 5.7M449.8 411.7l-3.1 6.0M426.5 418.5l-4.9 8.6M459.0 431.4l0.8 8.1M427.1 415.2l-5.0 3.2" stroke="#faf7f4" stroke-width="2.2" stroke-linecap="round" opacity="0.75" fill="none"/><path d="M432 399C428 410 436 420 430 432C427 438 432 443 430 446M448 402C444 414 452 424 446 436" stroke="#f6f0ea" stroke-width="2.2" fill="none" opacity="0.85"/><path d="M415.1 396.6l0.2 -0.4M420.5 397.8l0.0 -0.1M423.6 398.7l0.2 0.0M425.4 398.2l-0.1 0.0M430.6 398.1l0.3 -0.0M432.3 399.1l-0.3 0.3M436.4 397.2l-0.3 0.4M440.1 397.9l-0.3 -0.3M442.4 397.2l-0.4 0.1M446.5 396.8l0.4 -0.5M447.8 396.9l-0.0 -0.2M451.8 397.2l0.0 0.2M454.7 397.2l0.2 0.2M459.0 399.4l-0.1 0.1M461.8 397.7l-0.0 -0.1M417.3 402.1l0.1 0.4M421.9 400.7l-0.3 0.0M425.1 400.2l-0.1 -0.0M426.0 402.3l0.4 -0.2M431.2 400.4l-0.4 0.1M433.1 400.9l0.3 0.3M437.2 402.3l-0.2 0.3M441.0 401.4l-0.2 -0.0M444.1 402.5l-0.2 0.2M447.7 402.5l-0.3 -0.0M448.8 402.0l0.3 0.4M452.7 401.9l-0.5 -0.3M456.1 401.3l0.0 0.1M459.6 401.7l-0.5 0.3M461.3 399.8l0.1 -0.5M418.2 404.6l0.4 0.2M422.6 403.6l-0.1 -0.1M424.2 404.3l-0.1 -0.1M426.9 404.5l-0.1 -0.3M432.5 405.0l-0.3 0.4M435.6 403.2l-0.4 -0.4M439.2 405.1l0.1 0.1M442.6 404.5l-0.5 -0.3M443.7 404.8l-0.2 0.1M446.3 405.2l-0.4 -0.3M451.6 403.0l-0.4 0.1M455.1 403.0l-0.4 0.1M456.7 405.3l-0.2 -0.2M461.0 403.1l0.4 -0.3M464.4 405.4l0.3 0.1M416.3 406.8l0.2 -0.5M418.8 408.2l0.1 0.4M423.7 408.7l0.0 -0.1M427.2 406.7l-0.5 -0.2M430.6 407.3l-0.2 -0.3M433.4 406.9l-0.3 0.2M436.5 407.1l0.3 0.2M439.0 408.9l0.2 -0.4M441.0 408.3l0.1 -0.4M446.6 406.6l-0.4 -0.2M449.1 408.2l0.4 -0.2M450.7 406.8l-0.3 0.3M455.0 407.4l0.0 0.4M457.3 407.3l-0.3 -0.3M462.9 406.5l-0.2 0.4M419.7 410.6l-0.0 0.2M423.8 412.1l0.1 0.4M425.4 410.8l0.4 0.4M429.8 411.2l-0.4 0.0M432.8 410.8l0.1 0.3M434.6 411.0l0.4 0.5M439.7 409.5l0.1 0.2M442.7 412.0l-0.0 -0.1M443.8 411.9l0.2 0.4M447.8 410.2l-0.2 0.2M450.7 409.5l-0.1 -0.2M454.8 410.9l0.5 -0.4M459.1 412.3l0.2 0.0M460.6 412.3l-0.0 0.4M464.7 409.8l-0.0 -0.1M416.4 414.0l-0.2 -0.2M421.6 413.6l-0.1 -0.4M422.9 415.5l-0.5 0.1M426.2 414.3l0.3 0.1M431.0 414.2l0.4 -0.1M433.0 413.5l0.4 0.2M437.6 414.6l0.2 -0.2M441.2 415.1l0.1 0.5M444.1 413.1l0.4 0.2M447.7 414.1l-0.5 -0.2M450.1 413.1l-0.5 0.5M452.4 414.6l-0.3 -0.3M457.1 413.4l0.1 -0.0M458.9 415.1l0.5 0.1M462.2 412.9l0.3 0.4M418.1 418.1l-0.4 -0.2M423.4 418.1l-0.3 0.1M425.9 416.8l0.4 0.3M427.8 416.1l0.1 -0.2M432.5 418.1l0.0 0.2M436.7 418.1l-0.1 0.2M440.1 417.3l0.3 0.0M440.7 418.0l-0.4 0.4M446.1 417.8l0.5 -0.5M449.2 418.6l-0.2 -0.1M450.3 418.0l-0.5 0.2M454.9 417.9l0.2 0.5M458.6 418.5l-0.4 0.0M461.8 418.7l-0.2 0.4M419.2 420.2l-0.2 0.4M421.6 421.0l0.1 0.3M424.1 419.3l0.4 0.1M426.4 421.9l0.4 0.1M430.4 421.3l0.3 0.3M434.4 421.4l0.5 0.2M437.1 419.5l-0.2 0.0M441.9 419.4l0.1 0.4M443.5 420.4l0.3 -0.1M445.6 420.1l-0.4 0.4M450.1 421.7l-0.4 -0.1M454.1 419.5l-0.1 -0.1M455.3 420.1l0.5 -0.1M458.7 421.1l-0.2 -0.0M464.2 419.7l-0.4 -0.1M417.8 423.6l0.4 0.3M421.9 424.5l-0.1 -0.0M424.1 423.5l0.3 -0.2M427.3 422.7l-0.3 -0.1M431.9 423.1l0.1 0.0M432.6 422.5l-0.2 0.2M436.1 422.8l-0.3 -0.1M439.2 424.6l-0.1 0.4M444.5 425.2l-0.4 0.4M446.8 423.7l0.3 -0.5M449.6 424.7l-0.5 0.3M453.5 422.4l-0.4 -0.2M457.0 425.0l0.2 -0.5M460.1 423.9l-0.0 -0.2M464.0 424.2l0.5 -0.3M416.3 426.2l-0.3 0.2M420.1 427.9l0.1 -0.3M423.4 428.0l0.2 -0.5M428.3 426.8l0.4 0.1M430.8 426.5l-0.3 0.2M433.2 426.9l0.1 0.4M435.6 427.8l0.4 -0.4M438.8 428.2l0.5 0.1M444.0 425.7l-0.0 0.4M445.3 426.8l-0.4 -0.1M448.2 427.9l-0.3 0.5M452.0 427.1l-0.2 -0.2M454.9 425.6l0.5 0.1M458.3 428.4l-0.2 0.1M462.2 426.2l-0.1 -0.4M416.3 430.0l-0.4 0.3M420.1 429.1l0.4 0.4M423.9 429.0l-0.0 0.5M427.5 428.9l-0.3 0.5M430.5 430.3l0.1 0.1M434.1 430.0l-0.5 -0.1M436.5 431.1l-0.1 0.5M439.2 430.4l0.5 0.2M442.0 430.1l0.4 -0.3M445.9 431.3l0.3 -0.2M450.4 430.3l0.4 -0.5M451.8 431.3l0.4 -0.1M456.8 428.9l-0.1 -0.3M458.6 430.3l0.4 -0.4M463.4 429.2l0.1 0.1M416.2 433.2l0.4 -0.3M421.4 434.5l-0.1 -0.4M423.5 434.0l0.1 0.1M426.2 433.1l0.2 0.2M430.1 432.9l-0.5 -0.3M433.7 432.9l-0.3 0.4M436.7 432.7l-0.2 0.4M439.7 432.0l-0.1 0.1M443.2 432.6l-0.0 -0.2M446.0 432.3l-0.3 -0.4M450.5 433.0l0.2 -0.5M454.0 433.0l0.0 0.3M456.9 434.9l-0.2 -0.0M460.1 432.6l0.3 0.4M462.7 432.6l-0.1 0.2M418.0 435.7l-0.2 0.0M420.8 436.4l0.3 0.1M424.6 435.4l-0.0 -0.1M426.6 437.7l0.2 -0.2M430.3 435.9l0.5 -0.3M432.3 435.5l-0.3 -0.3M435.2 436.8l-0.3 0.4M439.8 435.7l-0.1 0.4M444.3 436.8l0.4 0.2M447.4 438.1l0.0 -0.4M448.9 436.1l0.2 0.2M453.4 436.3l-0.2 0.1M456.3 435.5l0.3 0.4M458.1 436.3l-0.1 0.2M463.4 437.0l-0.2 0.4M417.6 441.2l0.0 0.1M421.5 439.8l0.5 0.3M425.3 439.0l0.4 0.4M429.9 438.9l0.2 0.5M431.7 441.1l0.1 0.2M434.9 439.9l0.3 0.1M439.1 439.1l-0.4 0.4M440.1 439.0l-0.0 0.3M443.4 439.3l0.1 0.4M447.5 439.0l-0.0 -0.3M450.7 441.2l-0.2 -0.5M453.0 439.8l-0.4 0.3M458.2 440.1l0.3 0.0M460.1 440.4l0.2 0.3M465.2 438.9l-0.4 -0.2M416.2 443.8l0.3 -0.5M420.8 442.8l0.4 -0.2M422.2 442.5l-0.1 -0.5M424.9 443.2l0.2 -0.3M430.7 442.5l-0.3 0.5M433.1 442.5l0.4 -0.5M434.2 442.1l-0.1 0.2M439.1 443.0l0.3 0.1M440.9 443.7l-0.5 0.1M445.2 443.2l0.0 0.0M447.7 442.8l-0.2 -0.5M452.2 444.2l0.3 -0.3M455.4 443.9l0.1 -0.3M458.6 441.9l0.1 0.1M460.6 443.8l0.4 0.2" stroke="#a09ed7" stroke-width="1.5" stroke-linecap="round" opacity="0.7" fill="none"/></g></g><rect x="448.9" y="440.8" width="12.3" height="1.6" fill="#000"/>
<clipPath id="c4"><rect x="468.2" y="399.0" width="46.2" height="45.5"/></clipPath><g clip-path="url(#c4)"><g filter="url(#hb)"><rect x="466.2" y="397.0" width="50.2" height="49.5" fill="#e4c094"/><circle cx="472.8" cy="404.5" r="8" fill="#f4eeea" opacity="0.7" filter="url(#bb)"/><circle cx="489.0" cy="424.0" r="5" fill="#f4eeea" opacity="0.5" filter="url(#bb)"/><path d="M464.0 398.1Q464.2 401.8 464.4 403.3M472.5 399.4Q474.7 396.3 475.9 395.7M472.5 399.4Q475.1 400.3 474.9 400.9M475.9 395.7Q480.6 396.7 484.0 397.9M475.9 395.7Q475.0 399.8 474.9 400.9M475.9 395.7Q481.6 397.2 485.3 402.0M484.0 397.9Q484.3 398.2 487.1 398.0M487.1 398.0Q490.0 398.6 493.1 398.5M487.1 398.0Q488.5 401.3 490.9 402.2M487.1 398.0Q490.2 402.3 494.3 404.5M493.1 398.5Q493.5 396.4 497.1 395.5M497.1 395.5Q503.0 394.6 506.9 396.2M497.1 395.5Q500.8 399.7 505.2 403.2M506.9 396.2Q506.9 400.6 505.2 403.2M506.9 396.2Q508.7 399.3 508.4 400.3M508.9 398.7Q511.7 397.0 516.4 395.1M508.9 398.7Q513.4 399.4 517.8 402.6M516.4 395.1Q520.0 395.1 521.5 397.9M521.5 397.9Q520.7 399.2 519.5 402.2M464.4 403.3Q466.9 402.4 469.6 401.6M464.4 403.3Q463.1 407.0 464.7 409.6M469.6 401.6Q473.6 400.7 474.9 400.9M469.6 401.6Q470.5 405.3 471.7 405.8M474.9 400.9Q478.6 401.3 485.3 402.0M474.9 400.9Q475.5 402.9 478.9 405.7M485.3 402.0Q488.2 403.0 490.9 402.2M490.9 402.2Q494.1 403.1 494.3 404.5M490.9 402.2Q491.3 404.2 489.5 405.9M500.2 400.4Q500.3 404.0 499.1 409.0M500.2 400.4Q501.9 403.0 504.9 407.8M505.2 403.2Q506.0 402.2 508.4 400.3M505.2 403.2Q504.1 404.7 504.9 407.8M508.4 400.3Q513.9 401.9 517.8 402.6M508.4 400.3Q510.6 404.2 510.1 407.7M508.4 400.3Q513.9 402.1 516.2 405.8M517.8 402.6Q518.1 403.9 516.2 405.8M519.5 402.2Q521.8 404.2 521.1 406.5M464.7 409.6Q469.4 407.6 471.7 405.8M464.7 409.6Q468.6 412.0 469.3 411.5M471.7 405.8Q476.7 405.1 478.9 405.7M471.7 405.8Q471.0 407.1 469.3 411.5M478.9 405.7Q480.0 404.9 481.5 405.4M478.9 405.7Q478.8 410.8 478.3 413.9M481.5 405.4Q484.7 407.2 489.5 405.9M481.5 405.4Q480.6 411.5 480.1 414.6M481.5 405.4Q485.7 408.9 490.6 413.1M489.5 405.9Q490.1 409.7 490.6 413.1M493.8 405.8Q498.0 408.9 499.1 409.0M499.1 409.0Q501.5 409.6 504.9 407.8M499.1 409.0Q501.2 410.2 501.6 412.2M504.9 407.8Q508.3 407.0 510.1 407.7M504.9 407.8Q505.0 410.9 503.6 411.8M510.1 407.7Q514.6 405.2 516.2 405.8M510.1 407.7Q511.9 411.6 510.9 413.3M516.2 405.8Q513.8 408.7 514.4 412.9M468.2 415.9Q468.8 412.8 469.3 411.5M468.2 415.9Q468.0 420.3 470.5 421.4M469.3 411.5Q473.5 414.0 478.3 413.9M469.3 411.5Q470.1 417.5 470.5 421.4M469.3 411.5Q474.0 413.0 476.4 417.6M478.3 413.9Q480.4 412.7 480.1 414.6M478.3 413.9Q477.1 416.2 476.4 417.6M480.1 414.6Q484.0 413.3 490.6 413.1M480.1 414.6Q480.8 416.9 480.1 417.1M490.6 413.1Q493.3 414.5 492.9 413.9M490.6 413.1Q494.4 416.0 495.8 417.7M492.9 413.9Q498.2 413.0 501.6 412.2M492.9 413.9Q494.2 414.3 495.8 417.7M501.6 412.2Q501.6 413.0 503.6 411.8M501.6 412.2Q499.1 417.3 497.8 419.6M503.6 411.8Q507.4 410.9 510.9 413.3M503.6 411.8Q506.9 414.9 507.0 417.9M510.9 413.3Q511.0 411.7 514.4 412.9M510.9 413.3Q512.1 417.4 511.6 418.3M514.4 412.9Q516.1 412.3 518.6 412.5M514.4 412.9Q514.9 415.0 516.0 419.5M468.9 419.5Q470.8 419.8 470.5 421.4M470.5 421.4Q473.8 420.0 476.4 417.6M476.4 417.6Q479.8 416.5 480.1 417.1M480.1 417.1Q482.1 418.6 486.5 417.5M480.1 417.1Q481.6 421.8 484.2 423.5M486.5 417.5Q490.2 418.8 495.8 417.7M486.5 417.5Q487.2 421.3 490.5 425.1M486.5 417.5Q490.3 421.5 492.3 426.9M495.8 417.7Q497.0 417.4 497.8 419.6M495.8 417.7Q495.1 422.9 492.3 426.9M495.8 417.7Q497.3 419.3 499.0 423.6M497.8 419.6Q498.9 423.0 499.0 423.6M507.0 417.9Q509.9 416.9 511.6 418.3M507.0 417.9Q505.6 420.1 503.4 422.3M507.0 417.9Q506.8 421.7 508.6 425.6M511.6 418.3Q514.4 419.0 516.0 419.5M511.6 418.3Q509.8 423.0 508.6 425.6M516.0 419.5Q519.8 418.7 523.6 420.4M516.0 419.5Q513.8 421.0 513.7 423.2M516.0 419.5Q518.7 423.1 520.9 424.7M466.2 426.4Q469.6 424.7 471.0 423.9M471.0 423.9Q472.2 426.5 470.4 429.3M479.7 424.8Q482.7 423.2 484.2 423.5M479.7 424.8Q477.9 426.9 476.8 428.0M484.2 423.5Q488.8 422.8 490.5 425.1M484.2 423.5Q481.5 424.5 481.2 428.1M490.5 425.1Q490.7 426.8 489.4 428.1M492.3 426.9Q497.1 424.1 499.0 423.6M492.3 426.9Q492.6 428.3 494.6 428.5M499.0 423.6Q500.3 422.9 503.4 422.3M499.0 423.6Q501.0 427.5 500.0 430.9M503.4 422.3Q504.7 422.6 508.6 425.6M503.4 422.3Q504.4 426.4 503.9 432.4M508.6 425.6Q509.9 423.9 513.7 423.2M508.6 425.6Q511.2 428.9 511.1 430.3M513.7 423.2Q516.5 423.5 520.9 424.7M513.7 423.2Q515.0 424.9 513.2 429.5M520.9 424.7Q520.1 427.5 519.9 429.8M465.5 431.6Q468.1 428.8 470.4 429.3M465.5 431.6Q467.3 435.7 469.3 436.5M470.4 429.3Q468.4 432.6 469.3 436.5M476.8 428.0Q477.7 428.7 481.2 428.1M476.8 428.0Q479.7 432.8 479.6 435.7M481.2 428.1Q483.9 426.5 489.4 428.1M481.2 428.1Q479.3 431.6 480.5 437.5M489.4 428.1Q487.8 431.9 487.8 438.1M489.4 428.1Q491.3 433.7 495.8 437.3M494.6 428.5Q495.5 434.1 495.8 437.3M500.0 430.9Q500.9 432.8 501.6 433.1M500.0 430.9Q501.8 434.2 506.3 434.4M503.9 432.4Q508.2 430.3 511.1 430.3M503.9 432.4Q505.8 433.7 506.3 434.4M511.1 430.3Q508.2 431.4 508.2 434.8M513.2 429.5Q516.2 431.4 516.2 432.8M513.2 429.5Q518.5 434.9 520.9 437.1M519.9 429.8Q520.6 432.6 520.9 437.1M468.6 437.5Q470.2 436.1 469.3 436.5M468.6 437.5Q466.3 438.6 466.2 441.2M469.3 436.5Q473.0 436.8 479.6 435.7M469.3 436.5Q471.0 441.5 470.6 443.6M469.3 436.5Q472.4 440.2 475.8 442.0M479.6 435.7Q481.4 438.3 480.5 437.5M479.6 435.7Q478.8 437.3 475.8 442.0M480.5 437.5Q485.7 436.3 487.8 438.1M480.5 437.5Q481.7 437.9 483.5 438.3M487.8 438.1Q490.3 436.9 495.8 437.3M487.8 438.1Q490.8 438.9 490.9 439.5M495.8 437.3Q497.9 435.1 501.6 433.1M495.8 437.3Q496.5 439.4 496.4 443.4M495.8 437.3Q499.9 441.0 501.4 443.0M501.6 433.1Q505.0 432.4 506.3 434.4M501.6 433.1Q501.6 435.3 504.1 440.7M506.3 434.4Q507.2 434.9 508.2 434.8M506.3 434.4Q506.9 437.9 504.1 440.7M508.2 434.8Q511.1 435.1 516.2 432.8M508.2 434.8Q509.3 438.9 509.4 443.4M508.2 434.8Q510.8 436.1 513.1 439.0M516.2 432.8Q519.6 436.0 520.9 437.1M516.2 432.8Q515.7 435.3 513.1 439.0M466.2 441.2Q468.4 442.5 470.6 443.6M466.2 441.2Q466.4 445.4 467.3 449.1M470.6 443.6Q471.1 444.4 471.8 448.3M475.8 442.0Q480.9 440.2 483.5 438.3M475.8 442.0Q476.0 445.5 476.9 448.7M483.5 438.3Q487.3 438.2 490.9 439.5M483.5 438.3Q481.9 443.8 480.3 446.2M483.5 438.3Q484.5 443.7 488.6 448.1M490.9 439.5Q493.2 442.8 496.4 443.4M490.9 439.5Q493.3 443.6 493.3 447.5M496.4 443.4Q498.4 444.6 501.8 446.1M501.4 443.0Q501.3 443.4 504.1 440.7M501.4 443.0Q502.8 444.1 503.0 443.9M504.1 440.7Q506.7 442.2 509.4 443.4M504.1 440.7Q502.7 442.6 503.0 443.9M509.4 443.4Q510.0 442.0 513.1 439.0M523.7 442.7Q521.7 443.7 519.1 445.0M467.3 449.1Q471.2 447.5 471.8 448.3M467.3 449.1Q466.3 451.3 464.7 450.7M471.8 448.3Q473.6 448.8 473.7 450.6M476.9 448.7Q477.7 447.3 480.3 446.2M480.3 446.2Q481.7 448.8 483.0 449.4M480.3 446.2Q484.4 450.9 489.2 453.0M493.3 447.5Q496.2 446.3 501.8 446.1M493.3 447.5Q492.8 450.4 494.5 453.5M501.8 446.1Q501.2 443.7 503.0 443.9M503.0 443.9Q506.6 445.8 512.2 446.4M503.0 443.9Q504.5 448.1 506.0 452.7M503.0 443.9Q506.2 447.7 511.3 450.3M512.2 446.4Q512.2 445.8 515.1 446.6M512.2 446.4Q513.0 446.8 511.3 450.3M515.1 446.6Q517.0 444.8 519.1 445.0M515.1 446.6Q514.7 451.4 515.0 453.1M515.1 446.6Q517.9 448.4 520.6 452.6M519.1 445.0Q521.3 450.0 520.6 452.6M473.7 450.6Q474.9 451.4 474.9 454.0M474.9 454.0Q478.1 450.9 483.0 449.4M483.0 449.4Q486.1 450.5 489.2 453.0M489.2 453.0Q492.8 454.3 494.5 453.5M494.5 453.5Q496.9 450.7 498.8 450.5M498.8 450.5Q502.8 450.5 506.0 452.7M511.3 450.3Q514.7 450.9 515.0 453.1M515.0 453.1Q518.7 453.6 520.6 452.6" stroke="#ac6c30" stroke-width="1.2" opacity="0.5" fill="none" stroke-linecap="round"/><path d="M475.4 418.9a2.4 2.2 0 1 0 4.8 0a2.4 2.2 0 1 0 -4.8 0M512.6 410.0a2.8 3.2 0 1 0 5.6 0a2.8 3.2 0 1 0 -5.6 0M512.5 422.5a3.2 3.1 0 1 0 6.4 0a3.2 3.1 0 1 0 -6.4 0M497.5 442.1a4.0 3.9 0 1 0 8.0 0a4.0 3.9 0 1 0 -8.0 0M485.9 439.2a3.5 4.2 0 1 0 7.0 0a3.5 4.2 0 1 0 -7.0 0M467.6 433.5a3.8 3.3 0 1 0 7.5 0a3.8 3.3 0 1 0 -7.5 0M462.5 413.7a4.1 4.5 0 1 0 8.3 0a4.1 4.5 0 1 0 -8.3 0M481.0 439.1a2.2 2.3 0 1 0 4.4 0a2.2 2.3 0 1 0 -4.4 0M491.3 445.8a2.6 2.3 0 1 0 5.3 0a2.6 2.3 0 1 0 -5.3 0M480.9 418.7a3.0 2.4 0 1 0 6.0 0a3.0 2.4 0 1 0 -6.0 0M485.3 399.6a3.4 3.8 0 1 0 6.8 0a3.4 3.8 0 1 0 -6.8 0M478.3 419.3a4.1 4.6 0 1 0 8.3 0a4.1 4.6 0 1 0 -8.3 0M496.6 425.6a4.1 3.9 0 1 0 8.3 0a4.1 3.9 0 1 0 -8.3 0M494.5 440.7a2.8 2.5 0 1 0 5.6 0a2.8 2.5 0 1 0 -5.6 0M495.8 432.3a3.5 3.2 0 1 0 7.1 0a3.5 3.2 0 1 0 -7.1 0M476.6 435.1a3.6 3.4 0 1 0 7.2 0a3.6 3.4 0 1 0 -7.2 0M476.0 400.5a3.1 3.6 0 1 0 6.3 0a3.1 3.6 0 1 0 -6.3 0M506.8 433.9a2.9 3.3 0 1 0 5.9 0a2.9 3.3 0 1 0 -5.9 0M507.2 412.2a3.2 2.8 0 1 0 6.4 0a3.2 2.8 0 1 0 -6.4 0M473.4 421.2a2.5 2.9 0 1 0 5.0 0a2.5 2.9 0 1 0 -5.0 0M512.9 409.7a2.4 1.9 0 1 0 4.7 0a2.4 1.9 0 1 0 -4.7 0M508.5 413.3a3.8 4.6 0 1 0 7.6 0a3.8 4.6 0 1 0 -7.6 0M481.3 438.8a2.2 1.6 0 1 0 4.5 0a2.2 1.6 0 1 0 -4.5 0M497.5 412.3a2.5 2.4 0 1 0 5.0 0a2.5 2.4 0 1 0 -5.0 0M502.8 418.9a3.2 3.5 0 1 0 6.4 0a3.2 3.5 0 1 0 -6.4 0M468.8 422.2a2.1 1.7 0 1 0 4.2 0a2.1 1.7 0 1 0 -4.2 0M468.4 405.9a4.0 2.9 0 1 0 8.1 0a4.0 2.9 0 1 0 -8.1 0M488.5 400.8a2.0 2.4 0 1 0 4.0 0a2.0 2.4 0 1 0 -4.0 0M488.1 439.5a3.4 3.3 0 1 0 6.8 0a3.4 3.3 0 1 0 -6.8 0M502.3 397.2a2.5 2.6 0 1 0 4.9 0a2.5 2.6 0 1 0 -4.9 0M513.2 406.5a2.9 3.0 0 1 0 5.7 0a2.9 3.0 0 1 0 -5.7 0M492.8 433.3a2.1 1.7 0 1 0 4.2 0a2.1 1.7 0 1 0 -4.2 0M496.6 433.7a3.5 3.8 0 1 0 6.9 0a3.5 3.8 0 1 0 -6.9 0M503.8 397.0a2.7 2.0 0 1 0 5.3 0a2.7 2.0 0 1 0 -5.3 0" fill="#eee8ec" stroke="#a8682c" stroke-width="1.3" opacity="0.72"/><path d="M469.2 397.4h0M476.3 395.4h0M480.1 400.6h0M485.7 399.0h0M494.7 399.7h0M497.9 397.7h0M506.5 398.2h0M510.8 400.5h0M469.9 403.4h0M475.7 405.6h0M483.3 405.9h0M487.3 404.6h0M494.5 405.6h0M502.0 401.5h0M503.2 406.7h0M512.8 401.9h0M467.1 409.3h0M473.2 411.6h0M479.5 410.1h0M485.1 409.8h0M492.4 410.6h0M498.6 408.8h0M505.3 412.8h0M515.0 408.5h0M469.3 415.5h0M479.5 417.8h0M485.2 416.5h0M490.0 414.0h0M497.4 417.3h0M501.9 414.6h0M507.5 418.2h0M512.7 417.1h0M473.3 422.0h0M479.2 421.1h0M483.0 423.5h0M488.3 422.8h0M497.7 420.1h0M500.3 424.4h0M510.7 425.3h0M513.0 424.6h0M471.0 427.1h0M476.1 427.2h0M480.4 430.0h0M487.0 426.6h0M497.0 430.7h0M499.4 428.6h0M505.8 428.0h0M513.7 427.7h0M469.1 436.3h0M473.8 433.2h0M481.5 433.9h0M486.4 433.1h0M495.8 436.8h0M498.1 435.9h0M506.0 432.6h0M510.2 437.8h0M468.0 442.4h0M475.4 442.4h0M477.9 440.6h0M484.2 442.5h0M494.2 439.8h0M499.2 439.8h0M504.2 439.5h0M510.1 439.3h0" stroke="#f4eeea" stroke-width="2.6" stroke-linecap="round" opacity="0.65" fill="none"/><path d="M466.9 416.6l-6.7 4.0M499.4 420.0l4.8 2.8M471.1 426.9l7.0 3.9M467.6 433.0l3.5 3.5M489.2 407.9l-6.2 4.9" stroke="#f8f4f0" stroke-width="1.8" stroke-linecap="round" opacity="0.6" fill="none"/><ellipse cx="494" cy="410" rx="4.2" ry="4.8" fill="#8a5020" opacity="0.85"/><ellipse cx="494" cy="410" rx="2.2" ry="2.8" fill="#c09070" opacity="0.8"/><path d="M469.4 399.1l0.2 -0.1M474.1 397.7l0.1 0.3M479.5 399.9l-0.5 -0.4M481.4 399.8l-0.1 -0.0M487.3 397.9l0.2 0.1M490.9 398.0l0.3 -0.0M496.5 397.1l-0.1 -0.1M499.9 398.4l-0.4 -0.3M503.8 399.3l-0.1 -0.1M511.8 399.0l-0.3 0.1M514.0 397.4l-0.4 0.0M469.1 402.0l-0.3 0.2M476.4 404.0l0.3 0.3M478.8 401.8l0.4 0.5M484.7 401.5l-0.4 0.1M486.6 404.0l-0.3 -0.2M491.3 403.7l-0.3 -0.3M496.9 401.0l-0.4 0.4M501.7 401.5l-0.3 0.2M504.7 402.6l-0.1 0.0M510.6 404.3l-0.4 0.3M466.1 405.5l-0.2 -0.0M471.4 405.8l-0.4 0.3M478.7 406.3l0.3 0.2M483.0 408.8l0.1 -0.3M485.7 407.2l-0.4 -0.2M489.1 408.0l-0.3 -0.3M494.4 407.6l0.2 -0.1M499.3 405.2l-0.0 0.1M504.6 407.7l0.0 0.3M510.4 407.1l0.4 -0.3M512.2 408.8l-0.2 -0.1M468.1 412.6l-0.4 -0.2M470.5 411.4l-0.3 0.1M477.6 411.4l-0.0 0.5M482.1 410.1l0.3 -0.0M487.6 410.2l-0.0 0.5M491.7 413.1l0.4 0.4M495.8 409.9l0.2 -0.0M497.9 410.2l0.4 -0.5M503.1 412.9l0.5 -0.3M510.7 412.1l-0.0 -0.0M513.2 411.9l-0.4 0.3M468.5 415.0l-0.3 0.1M475.3 414.9l0.2 0.4M478.3 417.8l0.4 0.1M483.8 416.0l-0.4 -0.1M487.1 415.2l-0.3 -0.1M493.7 418.3l-0.3 0.3M495.5 415.9l0.4 0.2M502.5 414.6l-0.0 -0.3M506.5 414.3l-0.1 0.2M510.7 416.6l0.5 -0.3M514.8 415.0l-0.2 0.1M469.6 419.1l-0.0 0.1M475.1 421.3l-0.2 0.1M479.7 420.0l0.3 -0.3M485.6 422.7l0.5 -0.5M487.8 419.1l0.2 0.1M493.6 421.7l-0.5 0.4M499.1 421.3l-0.2 0.4M502.0 422.5l0.1 0.5M506.5 419.8l-0.5 -0.4M509.9 420.0l0.4 -0.4M468.8 425.3l-0.1 -0.5M471.5 424.5l0.4 0.1M478.7 424.0l0.5 0.3M481.9 427.3l-0.0 -0.2M487.6 423.9l0.2 -0.3M493.0 425.9l0.4 0.4M496.5 425.7l-0.3 0.3M501.7 425.2l-0.5 -0.2M505.3 426.0l0.4 -0.5M510.2 424.4l-0.2 0.2M513.8 425.2l0.2 0.3M470.9 429.8l-0.4 -0.2M476.6 429.8l-0.2 0.2M482.2 429.2l-0.1 0.1M487.1 430.4l-0.3 -0.1M488.9 429.5l0.1 -0.1M493.6 428.7l-0.3 0.0M497.4 428.8l0.4 -0.3M505.0 430.2l-0.2 -0.1M506.6 431.1l-0.2 0.0M514.0 430.3l-0.1 0.2M471.2 434.3l0.1 -0.4M476.8 434.9l-0.3 -0.3M481.5 436.3l-0.1 -0.5M486.7 432.6l0.5 0.0M491.0 433.3l0.0 0.1M495.5 436.5l-0.4 0.2M496.8 436.2l0.5 -0.0M503.0 433.9l0.1 -0.2M506.9 433.0l0.2 -0.5M510.6 432.7l0.1 -0.4M468.3 440.3l0.3 0.3M473.7 440.6l0.0 0.1M475.6 437.1l0.3 -0.0M482.4 440.2l-0.2 0.2M484.8 441.0l0.3 -0.4M489.2 439.6l-0.2 0.3M496.0 440.9l-0.3 -0.4M501.4 439.6l-0.2 -0.2M502.9 439.5l-0.1 -0.2M509.2 439.7l-0.0 -0.1M515.1 439.5l0.3 0.2M468.9 442.6l0.0 0.2M474.0 444.6l0.1 -0.3M475.7 444.1l0.1 0.4M482.5 445.4l0.2 0.4M487.0 443.2l0.1 0.2M491.2 444.0l-0.3 0.1M494.0 442.2l0.3 -0.1M501.2 445.2l0.2 -0.3M502.8 441.6l0.5 0.1M507.8 444.1l0.3 0.3M514.0 444.6l-0.4 -0.4" stroke="#9b9bd4" stroke-width="1.6" stroke-linecap="round" opacity="0.7" fill="none"/></g></g><rect x="501.5" y="440.8" width="11.5" height="1.6" fill="#000"/>
<text x="351.50" y="471.80" font-size="7.3" text-anchor="middle">PDX, LAT006_2B</text>
<text x="320.60" y="484.00" font-size="7.3" text-anchor="middle">c-MET</text>
<text x="374.00" y="484.00" font-size="7.3" text-anchor="middle">Phospho-MET</text>
<clipPath id="c5"><rect x="296.3" y="487.1" width="49.0" height="46.0"/></clipPath><g clip-path="url(#c5)"><g filter="url(#hb)"><rect x="294.3" y="485.1" width="53.0" height="50.0" fill="#e2c8b0"/><circle cx="306.1" cy="503.2" r="13" fill="#ebe0e2" opacity="0.65" filter="url(#bb)"/><circle cx="308.6" cy="523.9" r="9" fill="#ebe0e2" opacity="0.5" filter="url(#bb)"/><circle cx="335.5" cy="514.7" r="12" fill="#cc9a68" opacity="0.5" filter="url(#bb)"/><path d="M298.7 483.9Q301.3 484.4 303.3 483.4M303.3 483.4Q305.9 484.8 306.5 485.8M306.5 485.8Q309.1 487.3 310.0 486.9M306.5 485.8Q306.0 487.0 303.9 490.3M306.5 485.8Q307.4 488.4 309.4 489.5M310.0 486.9Q311.6 485.7 311.4 484.5M310.0 486.9Q310.6 488.7 309.4 489.5M311.4 484.5Q312.3 485.8 311.5 488.7M316.6 484.3Q318.6 483.3 318.6 484.1M316.6 484.3Q316.6 485.1 318.1 487.1M318.6 484.1Q322.3 484.3 324.4 486.4M318.6 484.1Q319.1 485.0 318.1 487.1M324.4 486.4Q325.4 485.6 327.8 484.1M324.4 486.4Q324.9 488.2 326.9 488.3M327.8 484.1Q328.0 486.0 326.9 488.3M331.8 485.1Q331.5 485.2 332.9 484.9M331.8 485.1Q331.5 486.0 330.3 487.5M332.9 484.9Q334.5 483.5 337.2 483.6M332.9 484.9Q334.3 487.3 335.5 488.2M337.2 483.6Q336.7 485.9 336.5 488.0M337.2 483.6Q339.7 486.2 342.3 488.0M341.3 484.6Q342.8 485.5 345.0 486.6M341.3 484.6Q341.9 485.4 342.3 488.0M341.3 484.6Q343.7 486.6 346.2 488.1M345.0 486.6Q346.8 486.6 348.8 484.8M345.0 486.6Q345.3 488.0 346.2 488.1M295.6 490.5Q296.1 489.9 297.9 490.3M295.6 490.5Q296.0 491.8 295.8 493.4M297.9 490.3Q297.3 491.3 297.8 490.9M299.8 487.4Q300.9 489.4 301.5 491.9M303.9 490.3Q305.7 491.7 306.3 493.8M309.4 489.5Q310.3 489.9 309.6 491.5M311.5 488.7Q315.3 489.4 317.5 491.1M317.3 487.3Q316.7 488.4 317.5 491.1M318.1 487.1Q318.4 490.4 319.5 492.2M318.1 487.1Q321.4 489.6 324.8 490.7M323.0 489.9Q322.9 490.8 324.8 490.7M326.9 488.3Q329.0 488.6 330.3 487.5M326.9 488.3Q327.0 490.5 325.1 493.5M330.3 487.5Q331.9 488.1 335.5 488.2M335.5 488.2Q337.0 489.0 336.5 488.0M336.5 488.0Q339.3 487.4 342.3 488.0M336.5 488.0Q337.3 490.5 338.2 491.4M342.3 488.0Q340.1 489.9 339.6 490.5M346.2 488.1Q346.5 487.9 348.1 487.2M346.2 488.1Q344.9 490.7 344.1 492.8M295.8 493.4Q296.6 492.2 297.8 490.9M295.8 493.4Q294.3 494.5 294.7 496.6M297.8 490.9Q300.7 490.7 301.5 491.9M297.8 490.9Q297.4 492.3 298.2 495.2M301.5 491.9Q304.6 492.4 306.3 493.8M306.3 493.8Q305.4 495.5 306.5 497.3M309.6 491.5Q309.1 491.6 310.6 493.7M309.6 491.5Q309.2 494.0 307.0 496.5M310.6 493.7Q313.3 492.3 317.5 491.1M317.5 491.1Q318.9 490.6 319.5 492.2M317.5 491.1Q318.8 494.6 318.6 497.7M319.5 492.2Q322.0 490.5 324.8 490.7M319.5 492.2Q320.2 494.2 322.5 497.4M324.8 490.7Q325.0 491.4 325.1 493.5M324.8 490.7Q323.1 493.9 322.5 497.4M325.1 493.5Q328.8 493.9 330.6 492.2M325.1 493.5Q327.1 493.9 327.4 495.2M325.1 493.5Q327.4 494.0 329.6 496.3M330.6 492.2Q332.8 492.5 334.9 492.6M330.6 492.2Q330.1 493.4 329.6 496.3M334.9 492.6Q336.5 492.0 338.2 491.4M334.9 492.6Q334.2 494.0 334.6 495.3M339.6 490.5Q341.9 491.3 344.1 492.8M339.6 490.5Q341.6 494.2 342.4 496.7M347.9 491.8Q347.6 493.3 348.6 495.3M294.7 496.6Q296.5 494.9 298.2 495.2M298.2 495.2Q301.2 495.9 302.7 497.0M298.2 495.2Q300.4 496.5 302.4 499.7M302.7 497.0Q302.8 498.8 302.4 499.7M306.5 497.3Q307.2 497.7 307.0 496.5M307.0 496.5Q308.2 499.2 308.3 500.5M311.8 495.5Q311.7 498.4 310.5 500.5M316.0 494.6Q317.7 495.2 318.6 497.7M316.0 494.6Q316.2 497.9 314.7 500.1M316.0 494.6Q318.2 496.9 320.7 500.1M318.6 497.7Q320.8 496.9 322.5 497.4M322.5 497.4Q326.0 497.1 327.4 495.2M322.5 497.4Q323.0 499.0 323.4 499.7M322.5 497.4Q324.5 497.6 327.6 499.0M327.4 495.2Q328.6 496.5 329.6 496.3M327.4 495.2Q327.8 498.1 327.6 499.0M327.4 495.2Q328.1 497.1 329.3 499.7M329.6 496.3Q332.7 495.4 334.6 495.3M329.6 496.3Q330.2 496.9 329.3 499.7M329.6 496.3Q331.1 496.9 334.0 498.1M334.6 495.3Q334.7 495.9 334.0 498.1M335.9 494.7Q336.6 497.3 337.6 499.4M335.9 494.7Q338.0 497.8 339.9 500.2M342.4 496.7Q340.1 499.1 339.9 500.2M343.3 497.1Q345.2 496.4 348.6 495.3M343.3 497.1Q344.4 497.3 345.7 498.9M348.6 495.3Q348.8 498.3 349.6 501.3M295.7 498.2Q297.2 499.5 296.5 498.9M295.7 498.2Q295.3 499.7 294.9 502.8M296.5 498.9Q298.4 499.9 302.4 499.7M302.4 499.7Q302.6 501.7 300.7 504.9M308.3 500.5Q310.1 499.9 310.5 500.5M308.3 500.5Q308.0 503.0 309.4 504.1M310.5 500.5Q311.6 499.5 314.7 500.1M314.7 500.1Q318.6 500.2 320.7 500.1M314.7 500.1Q315.8 501.5 314.8 503.7M323.4 499.7Q322.3 501.2 323.2 504.5M323.4 499.7Q324.7 500.3 325.7 501.9M327.6 499.0Q327.5 499.4 329.3 499.7M327.6 499.0Q325.6 501.4 325.7 501.9M329.3 499.7Q331.1 498.1 334.0 498.1M329.3 499.7Q330.8 500.4 331.6 501.5M329.3 499.7Q330.5 500.5 333.6 502.8M334.0 498.1Q336.3 499.7 337.6 499.4M334.0 498.1Q333.1 500.1 333.6 502.8M334.0 498.1Q337.3 500.8 338.9 502.6M337.6 499.4Q339.2 500.3 339.9 500.2M345.7 498.9Q348.7 500.2 349.6 501.3M297.1 501.8Q298.4 503.5 300.7 504.9M297.1 501.8Q299.0 505.3 299.4 508.4M300.7 504.9Q300.1 507.6 300.6 508.3M303.5 504.6Q307.1 504.5 309.4 504.1M303.5 504.6Q302.5 505.6 303.4 506.1M309.4 504.1Q311.0 504.3 310.9 503.6M309.4 504.1Q311.5 507.2 312.9 508.5M310.9 503.6Q312.4 504.1 314.8 503.7M310.9 503.6Q311.9 506.6 312.9 508.5M314.8 503.7Q317.0 504.0 320.6 503.9M314.8 503.7Q316.0 504.5 316.3 506.6M320.6 503.9Q322.0 503.5 323.2 504.5M323.2 504.5Q325.5 503.4 325.7 501.9M323.2 504.5Q322.9 505.8 323.0 507.7M325.7 501.9Q327.8 500.8 331.6 501.5M325.7 501.9Q325.7 504.6 326.3 507.8M325.7 501.9Q328.8 505.4 330.0 507.2M331.6 501.5Q333.6 502.9 333.6 502.8M331.6 501.5Q331.5 503.7 330.0 507.2M333.6 502.8Q335.1 503.3 334.8 505.5M333.6 502.8Q335.7 504.6 339.1 506.5M338.9 502.6Q339.6 501.9 341.3 503.1M341.3 503.1Q342.7 503.2 344.6 503.0M341.3 503.1Q340.1 505.5 341.0 508.4M344.6 503.0Q345.9 502.9 348.2 503.4M348.2 503.4Q347.3 504.0 347.3 505.7M299.4 508.4Q300.3 508.5 300.6 508.3M299.4 508.4Q299.3 510.5 298.5 511.0M300.6 508.3Q303.0 508.1 303.4 506.1M300.6 508.3Q300.9 508.4 302.2 509.7M303.4 506.1Q305.9 505.3 310.1 505.5M312.9 508.5Q315.3 507.7 316.3 506.6M316.3 506.6Q317.6 506.6 317.8 506.5M316.3 506.6Q317.7 507.8 318.7 510.6M317.8 506.5Q319.3 506.3 323.0 507.7M317.8 506.5Q319.1 507.6 318.7 510.6M323.0 507.7Q324.5 506.8 326.3 507.8M326.3 507.8Q328.1 507.2 330.0 507.2M326.3 507.8Q325.9 509.6 327.3 509.4M330.0 507.2Q331.8 506.0 334.8 505.5M334.8 505.5Q337.8 505.0 339.1 506.5M334.8 505.5Q334.3 508.3 335.7 510.9M339.1 506.5Q338.7 509.3 338.6 509.9M341.0 508.4Q341.9 506.8 345.0 506.8M341.0 508.4Q340.2 509.1 340.8 510.7M345.0 506.8Q345.5 505.5 347.3 505.7M295.2 510.3Q296.2 511.0 298.5 511.0M295.2 510.3Q293.8 512.4 293.9 515.0M298.5 511.0Q300.1 510.9 302.2 509.7M298.5 511.0Q298.4 512.7 299.2 514.9M302.2 509.7Q303.7 509.2 306.4 510.1M302.2 509.7Q302.4 510.7 300.9 513.5M306.4 510.1Q307.0 510.9 306.8 513.5M307.5 511.6Q310.3 509.8 313.7 508.9M307.5 511.6Q308.2 512.8 309.3 512.4M313.7 508.9Q315.8 509.9 317.3 511.0M313.7 508.9Q314.7 510.0 316.5 512.9M317.3 511.0Q317.3 510.3 318.7 510.6M317.3 511.0Q316.7 511.8 316.5 512.9M318.7 510.6Q320.8 509.2 324.6 509.0M318.7 510.6Q319.3 511.9 320.1 512.4M318.7 510.6Q320.7 513.7 323.8 514.6M324.6 509.0Q326.8 509.8 327.3 509.4M324.6 509.0Q325.3 511.6 323.8 514.6M327.3 509.4Q328.9 510.0 329.0 511.9M327.3 509.4Q327.2 512.2 325.8 513.0M329.0 511.9Q331.8 511.1 335.7 510.9M329.0 511.9Q330.2 512.1 329.4 513.9M335.7 510.9Q336.2 511.2 338.6 509.9M338.6 509.9Q338.7 512.5 338.6 515.5M338.6 509.9Q338.6 512.7 339.9 514.0M340.8 510.7Q342.6 511.3 345.8 511.0M340.8 510.7Q340.7 512.7 339.9 514.0M345.8 511.0Q347.3 510.5 348.2 510.8M345.8 511.0Q346.5 512.8 345.3 515.5M293.9 515.0Q297.3 514.3 299.2 514.9M293.9 515.0Q293.9 516.5 295.3 518.5M299.2 514.9Q300.6 514.8 300.9 513.5M299.2 514.9Q299.5 516.3 298.7 517.9M300.9 513.5Q302.1 513.7 302.6 515.9M306.8 513.5Q307.3 513.8 309.3 512.4M306.8 513.5Q307.3 513.9 306.1 516.5M309.3 512.4Q310.7 512.5 311.0 512.9M309.3 512.4Q308.6 513.9 308.2 517.1M316.5 512.9Q319.2 513.6 320.1 512.4M320.1 512.4Q322.6 513.8 323.8 514.6M320.1 512.4Q319.3 515.5 319.0 518.1M325.8 513.0Q328.5 513.5 329.4 513.9M329.4 513.9Q330.4 514.4 332.8 512.9M332.8 512.9Q336.4 514.0 338.6 515.5M332.8 512.9Q332.9 514.4 334.4 517.2M338.6 515.5Q337.8 517.1 335.9 519.0M339.9 514.0Q343.0 515.6 345.3 515.5M339.9 514.0Q341.4 515.2 340.9 516.1M345.3 515.5Q345.7 516.4 345.1 515.9M345.3 515.5Q345.6 515.6 347.9 517.9M348.5 514.0Q348.5 516.8 347.9 517.9M295.3 518.5Q297.7 518.2 298.7 517.9M295.3 518.5Q295.3 518.8 295.4 520.6M298.7 517.9Q299.9 516.0 302.6 515.9M298.7 517.9Q298.8 520.2 296.8 520.5M302.6 515.9Q305.0 516.7 306.1 516.5M302.6 515.9Q302.7 517.7 302.7 519.6M306.1 516.5Q307.9 517.6 308.2 517.1M308.2 517.1Q309.9 517.5 312.4 517.8M308.2 517.1Q308.2 519.3 310.3 522.5M308.2 517.1Q312.2 518.2 314.0 519.5M312.4 517.8Q312.4 518.1 314.0 519.5M316.2 516.8Q317.0 517.0 319.0 518.1M316.2 516.8Q316.7 519.0 315.9 519.8M319.0 518.1Q321.8 517.0 324.7 517.1M324.7 517.1Q322.8 519.5 323.0 521.8M324.9 518.8Q328.3 518.1 331.7 518.7M324.9 518.8Q326.3 518.9 327.4 521.1M331.7 518.7Q334.0 520.8 334.7 522.8M334.4 517.2Q334.4 518.3 335.9 519.0M334.4 517.2Q334.6 520.1 334.7 522.8M334.4 517.2Q336.2 519.2 339.2 522.6M335.9 519.0Q338.1 518.4 340.9 516.1M335.9 519.0Q340.0 520.7 342.4 521.7M340.9 516.1Q344.1 516.5 345.1 515.9M345.1 515.9Q346.1 516.6 347.9 517.9M345.1 515.9Q345.5 517.0 344.7 519.7M347.9 517.9Q347.8 519.5 349.4 520.0M295.4 520.6Q295.4 521.5 296.8 520.5M295.4 520.6Q296.5 522.9 295.8 526.0M296.8 520.5Q296.0 523.6 297.1 526.2M302.7 519.6Q303.2 520.5 303.8 520.6M302.7 519.6Q301.9 522.5 302.4 525.8M303.8 520.6Q306.6 521.7 310.3 522.5M310.3 522.5Q313.2 520.3 314.0 519.5M310.3 522.5Q308.3 524.9 307.5 526.3M314.0 519.5Q315.9 518.7 315.9 519.8M315.9 519.8Q317.3 520.3 319.8 522.2M315.9 519.8Q315.6 521.5 316.8 524.3M319.8 522.2Q321.7 524.4 322.7 526.2M327.4 521.1Q329.0 521.3 329.9 520.2M327.4 521.1Q328.9 523.8 331.1 525.1M329.9 520.2Q330.2 522.0 331.1 525.1M334.7 522.8Q336.6 523.8 339.2 522.6M339.2 522.6Q339.8 521.7 342.4 521.7M339.2 522.6Q340.3 522.9 340.6 523.6M342.4 521.7Q342.5 521.9 340.6 523.6M344.7 519.7Q347.9 520.8 349.4 520.0M349.4 520.0Q349.4 521.3 348.1 523.4M297.1 526.2Q300.0 525.7 302.4 525.8M297.1 526.2Q296.7 526.6 296.6 528.8M302.4 525.8Q302.4 527.0 302.1 529.5M302.4 525.8Q305.1 528.3 306.9 529.7M303.7 523.9Q304.7 525.7 307.5 526.3M303.7 523.9Q306.4 527.8 306.9 529.7M307.5 526.3Q310.4 526.2 311.4 524.5M307.5 526.3Q307.1 526.1 308.2 526.8M311.4 524.5Q315.1 523.6 316.8 524.3M316.8 524.3Q318.0 525.5 320.0 525.1M320.0 525.1Q322.2 525.2 322.7 526.2M320.0 525.1Q320.6 528.1 319.7 529.1M322.7 526.2Q324.9 526.5 327.3 525.6M322.7 526.2Q323.7 527.5 323.0 530.1M327.3 525.6Q328.8 526.3 331.1 525.1M327.3 525.6Q327.9 526.9 327.3 528.6M331.1 525.1Q330.6 527.2 329.1 527.4M331.1 525.1Q333.6 527.0 334.6 528.1M332.7 526.2Q335.7 523.9 339.1 523.3M332.7 526.2Q333.1 527.2 334.6 528.1M339.1 523.3Q339.3 524.5 340.6 523.6M340.6 523.6Q341.0 526.6 341.7 529.5M343.4 525.0Q344.3 526.1 344.2 526.7M348.1 523.4Q346.9 525.6 347.5 529.8M294.2 529.0Q294.9 529.6 296.6 528.8M294.2 529.0Q293.3 530.0 293.4 530.5M296.6 528.8Q297.2 531.9 296.3 533.7M296.6 528.8Q297.5 529.8 300.5 530.4M302.1 529.5Q303.9 529.6 306.9 529.7M306.9 529.7Q307.0 529.3 308.2 526.8M306.9 529.7Q306.4 529.4 304.6 530.3M308.2 526.8Q308.4 529.1 309.5 532.6M308.2 526.8Q309.3 529.2 312.0 532.7M311.7 527.1Q315.5 526.4 317.2 527.8M311.7 527.1Q312.7 528.9 312.0 532.7M317.2 527.8Q318.3 527.9 319.7 529.1M319.7 529.1Q321.3 531.1 321.8 533.5M323.0 530.1Q325.9 531.7 328.4 531.8M327.3 528.6Q328.5 527.6 329.1 527.4M327.3 528.6Q327.7 529.9 328.4 531.8M329.1 527.4Q332.9 527.3 334.6 528.1M334.6 528.1Q336.7 528.7 337.8 529.7M334.6 528.1Q335.6 530.8 337.7 533.5M337.8 529.7Q338.1 532.6 337.7 533.5M341.7 529.5Q343.1 527.7 344.2 526.7M341.7 529.5Q341.4 529.5 341.9 531.5M293.4 530.5Q294.8 532.2 296.3 533.7M293.4 530.5Q293.6 532.2 293.6 534.8M296.3 533.7Q298.5 531.5 300.5 530.4M300.5 530.4Q300.6 531.9 301.9 534.6M300.5 530.4Q302.2 533.1 303.5 534.2M304.6 530.3Q307.1 530.7 309.5 532.6M304.6 530.3Q303.7 533.3 303.5 534.2M309.5 532.6Q311.1 532.0 312.0 532.7M309.5 532.6Q308.9 534.7 308.3 535.7M312.0 532.7Q313.7 533.1 314.2 533.0M312.0 532.7Q311.6 533.3 312.3 535.2M312.0 532.7Q314.2 533.5 316.0 534.8M314.2 533.0Q317.6 532.0 320.0 532.8M320.0 532.8Q320.7 533.4 321.8 533.5M320.0 532.8Q320.0 534.6 321.1 534.5M320.0 532.8Q320.5 533.5 322.6 536.1M321.8 533.5Q321.7 534.8 322.6 536.1M321.8 533.5Q324.6 535.3 327.9 535.2M328.4 531.8Q328.4 533.2 327.9 535.2M329.7 532.0Q332.5 531.4 334.7 531.8M329.7 532.0Q330.3 532.6 330.8 534.6M334.7 531.8Q337.2 533.0 337.7 533.5M334.7 531.8Q333.2 533.9 332.1 537.2M337.7 533.5Q339.5 532.3 341.9 531.5M337.7 533.5Q337.4 534.0 335.9 536.4M341.9 531.5Q343.9 532.4 346.2 532.9M341.9 531.5Q341.5 532.8 339.4 534.8M346.2 532.9Q345.5 532.0 346.6 531.9M297.4 536.7Q298.9 535.3 301.9 534.6M301.9 534.6Q301.9 535.4 303.5 534.2M303.5 534.2Q304.9 535.8 308.3 535.7M308.3 535.7Q309.6 535.8 312.3 535.2M312.3 535.2Q313.4 535.7 316.0 534.8M316.0 534.8Q317.9 534.6 321.1 534.5M321.1 534.5Q321.7 536.2 322.6 536.1M322.6 536.1Q326.2 535.5 327.9 535.2M327.9 535.2Q329.4 534.1 330.8 534.6M330.8 534.6Q331.1 535.9 332.1 537.2M332.1 537.2Q333.1 537.0 335.9 536.4M335.9 536.4Q337.2 534.6 339.4 534.8M339.4 534.8Q341.5 535.6 344.8 536.9M344.8 536.9Q346.7 535.6 349.4 534.8" stroke="#c38c5c" stroke-width="0.8" opacity="0.35" fill="none" stroke-linecap="round"/><path d="M298.2 487.1h0M305.4 488.2h0M311.0 488.3h0M314.2 484.5h0M321.8 485.9h0M327.9 485.7h0M332.7 486.8h0M338.2 485.1h0M340.3 487.8h0M296.9 489.3h0M304.2 491.1h0M305.9 490.1h0M314.2 489.9h0M321.6 491.3h0M326.2 492.5h0M328.7 490.3h0M334.2 493.6h0M341.6 491.6h0M297.4 498.2h0M302.9 497.5h0M312.7 494.7h0M314.9 496.5h0M320.5 497.0h0M328.1 495.1h0M331.6 495.0h0M336.8 499.2h0M341.5 498.5h0M299.3 502.1h0M306.5 502.7h0M310.1 504.8h0M316.6 503.4h0M322.8 504.0h0M325.9 504.4h0M332.3 502.1h0M339.2 503.3h0M345.5 504.7h0M298.3 508.1h0M305.6 508.5h0M312.5 507.6h0M318.5 509.4h0M324.1 508.3h0M327.5 506.3h0M334.0 509.3h0M337.9 506.6h0M342.7 508.1h0M300.0 513.9h0M305.9 511.4h0M308.5 515.2h0M313.6 512.9h0M319.4 516.2h0M328.1 511.9h0M331.3 512.6h0M335.9 514.8h0M340.8 515.8h0M295.0 518.0h0M300.8 520.6h0M309.7 520.0h0M312.6 518.7h0M317.8 520.6h0M325.4 521.5h0M327.9 520.0h0M334.7 516.9h0M341.3 520.2h0M301.3 523.0h0M304.5 523.3h0M309.8 522.4h0M318.3 525.6h0M321.9 523.4h0M328.6 525.9h0M335.3 526.0h0M340.2 524.6h0M343.9 522.8h0M299.9 531.3h0M307.1 530.5h0M309.6 531.9h0M316.5 530.7h0M325.1 531.1h0M330.4 531.3h0M335.1 529.5h0M339.7 528.9h0M343.2 528.6h0" stroke="#f4eae0" stroke-width="2.2" stroke-linecap="round" opacity="0.55" fill="none"/><path d="M297.2 527.3l-6.2 7.0M315.6 495.1l0.3 6.2M325.9 489.1l8.4 3.8" stroke="#f8f4f0" stroke-width="1.6" stroke-linecap="round" opacity="0.5" fill="none"/><path d="M298.0 486.4l0.1 -0.1M300.2 484.7l-0.3 -0.5M303.1 486.2l-0.3 0.4M307.9 486.5l-0.3 0.5M310.9 486.1l0.0 -0.1M314.0 486.9l-0.1 -0.3M318.9 487.5l0.1 -0.5M321.1 485.8l-0.5 0.1M324.8 486.3l-0.3 -0.5M327.1 486.0l0.3 -0.4M330.7 484.8l-0.4 -0.4M334.8 487.2l-0.4 0.5M337.9 485.5l0.2 -0.1M338.9 485.0l-0.1 -0.4M342.5 487.5l0.3 -0.2M294.8 490.5l0.3 -0.2M297.7 489.2l0.1 -0.0M301.8 489.1l-0.3 -0.2M306.2 489.2l0.5 -0.1M309.0 489.1l-0.3 0.1M310.9 490.4l-0.2 0.1M315.5 490.0l-0.1 0.2M317.8 490.1l-0.0 0.1M321.0 489.9l-0.4 -0.5M324.4 490.7l0.3 -0.1M328.7 490.3l0.3 -0.3M332.3 489.7l0.2 -0.5M335.8 490.5l0.4 -0.0M337.0 487.9l-0.2 0.2M340.0 490.1l0.3 -0.1M343.5 489.8l-0.3 0.5M297.2 493.8l-0.3 -0.3M300.7 494.0l0.5 -0.1M302.5 492.1l0.0 0.0M304.8 494.0l0.4 -0.3M308.4 493.8l-0.1 0.4M313.9 492.3l0.3 0.0M315.1 492.8l0.3 0.2M320.4 492.0l-0.1 0.1M322.2 491.3l-0.5 0.2M325.0 491.8l0.4 -0.5M327.6 491.3l-0.4 0.5M331.6 491.9l-0.0 0.1M336.3 491.4l0.1 0.0M338.2 493.4l0.1 -0.2M342.3 493.0l0.1 0.0M344.3 492.2l-0.0 0.4M294.9 495.0l-0.5 -0.5M297.6 496.0l-0.0 -0.3M301.8 495.5l-0.3 -0.5M304.7 495.6l-0.0 0.0M307.8 495.8l0.1 0.3M312.7 496.4l-0.4 0.2M316.4 496.5l-0.0 -0.2M317.3 496.9l0.5 -0.1M321.0 497.3l0.2 0.3M325.5 496.5l-0.4 -0.4M328.7 497.3l0.1 0.3M329.9 495.8l-0.3 0.4M335.8 495.4l-0.2 -0.2M338.6 495.2l-0.4 0.2M340.6 495.3l0.3 -0.1M345.2 496.4l-0.1 -0.1M294.8 500.6l-0.1 -0.3M298.8 498.7l0.1 -0.3M301.4 500.6l-0.4 -0.2M306.3 497.9l-0.4 -0.3M309.1 498.9l0.1 0.3M311.6 499.9l0.3 0.2M315.0 499.4l0.5 -0.1M318.9 497.9l-0.2 0.3M321.7 497.9l-0.1 0.2M325.4 498.2l-0.1 0.5M328.0 497.8l0.4 -0.0M333.4 499.7l-0.2 -0.2M336.6 500.6l0.2 -0.3M338.3 497.7l0.1 0.4M342.9 500.5l0.2 -0.0M345.0 498.0l0.0 -0.3M297.9 503.6l-0.3 -0.2M300.5 503.3l0.4 0.5M305.0 503.3l-0.3 -0.2M308.6 503.8l0.1 0.3M310.9 503.6l-0.0 0.2M313.8 503.9l0.2 0.1M318.3 502.8l0.0 -0.4M319.6 501.6l0.2 0.4M322.1 503.0l0.5 0.1M327.0 503.3l0.3 0.3M330.1 503.0l0.4 0.3M332.0 503.1l0.4 -0.1M335.0 501.3l-0.2 -0.3M340.5 503.9l0.0 -0.4M343.8 503.1l0.1 0.4M347.7 503.2l0.1 -0.2M295.6 505.7l0.2 -0.0M300.0 504.7l0.3 -0.3M302.4 506.1l0.2 0.4M305.3 505.6l-0.2 0.1M311.1 507.1l-0.1 0.5M313.2 506.2l-0.4 0.5M317.2 505.0l0.5 0.0M319.9 506.2l-0.0 0.2M323.8 506.0l0.5 0.1M326.8 505.2l0.2 -0.3M328.7 506.4l0.1 0.3M332.5 506.8l0.3 -0.1M335.3 504.9l0.1 -0.1M339.7 506.5l-0.0 -0.4M342.7 505.1l-0.4 0.1M345.3 504.7l0.0 -0.0M297.0 510.1l0.4 -0.2M302.1 507.9l-0.2 -0.3M305.4 508.8l0.3 0.5M309.1 508.6l-0.3 0.5M311.7 508.5l0.4 0.4M314.3 507.8l-0.4 -0.3M318.8 509.6l-0.4 -0.4M320.6 510.1l-0.4 0.2M324.3 507.6l0.2 -0.2M327.0 509.1l-0.2 -0.3M330.1 508.7l0.4 0.4M333.7 509.5l0.3 0.5M335.6 508.9l-0.3 -0.1M340.9 507.8l0.1 0.3M343.0 509.0l-0.3 -0.3M295.6 511.7l0.4 -0.2M298.9 511.7l-0.3 0.3M301.1 512.8l-0.2 0.4M305.9 510.8l0.4 -0.2M308.4 512.8l-0.3 -0.5M311.8 511.9l-0.1 0.2M314.5 513.1l-0.3 -0.3M317.5 513.5l0.1 -0.0M323.1 512.3l-0.4 -0.1M325.0 512.0l-0.3 0.4M330.0 511.7l-0.3 0.4M330.5 513.2l0.0 0.3M336.5 511.9l0.3 -0.5M339.6 512.0l0.4 -0.1M342.5 511.3l-0.5 0.1M344.8 511.4l-0.3 -0.4M294.4 516.3l-0.1 0.2M299.0 514.1l0.3 0.2M300.6 516.4l0.3 -0.4M306.0 515.7l0.2 -0.1M307.9 515.4l0.3 0.2M310.3 516.3l0.5 -0.3M314.6 515.2l-0.3 -0.4M317.5 514.1l0.4 -0.2M320.8 515.7l-0.3 0.1M323.4 515.5l-0.1 -0.3M326.7 515.2l-0.5 0.2M330.4 516.9l-0.5 -0.5M333.9 516.7l0.0 -0.3M337.5 515.9l-0.2 0.4M340.0 516.1l-0.5 -0.5M345.4 516.6l-0.1 0.4M295.4 519.3l0.3 0.1M298.6 518.8l-0.2 -0.1M303.1 517.8l-0.1 -0.4M306.3 518.0l-0.0 -0.3M307.8 518.7l0.0 -0.1M313.2 520.2l0.2 0.3M315.7 519.1l-0.2 -0.2M319.9 519.6l0.0 0.5M321.3 520.2l0.1 0.4M326.5 519.0l0.3 -0.2M327.6 517.7l-0.1 0.4M332.4 518.5l0.3 -0.4M333.7 517.9l0.2 -0.3M338.3 517.5l-0.0 -0.4M343.0 518.0l-0.4 -0.1M344.6 518.8l-0.2 -0.3M294.6 520.6l-0.0 -0.0M298.7 522.0l0.2 0.3M302.7 522.8l-0.4 -0.3M304.3 520.8l0.1 0.4M309.8 520.7l0.2 0.1M312.9 522.4l0.1 -0.0M315.7 522.7l-0.1 -0.2M319.0 521.6l-0.4 0.2M321.0 521.9l0.3 -0.2M324.7 522.4l0.4 -0.1M328.0 521.3l0.1 -0.2M332.8 521.4l-0.1 -0.1M335.3 522.8l-0.2 -0.2M339.4 523.0l-0.3 0.0M342.1 520.8l0.4 -0.3M345.5 522.1l0.4 -0.0M296.5 524.4l-0.5 -0.4M300.5 526.3l-0.1 -0.2M305.0 524.5l0.5 0.1M307.3 526.4l0.3 0.5M309.3 524.0l0.1 -0.0M312.9 525.7l-0.1 -0.2M316.3 525.3l0.4 0.3M320.1 525.6l-0.5 -0.3M322.3 526.3l-0.2 0.2M326.1 525.0l0.2 0.4M330.6 524.6l0.4 0.2M333.7 526.3l-0.4 0.4M336.5 525.0l-0.3 0.0M339.2 525.3l0.4 -0.1M344.0 524.6l-0.3 0.3M298.0 528.2l0.2 0.5M301.2 527.9l0.1 -0.3M303.2 528.8l0.1 0.4M308.4 527.1l0.3 0.1M309.2 527.3l-0.0 0.0M314.8 527.6l0.4 0.2M316.3 527.8l0.4 0.2M319.1 528.7l-0.4 0.1M322.8 527.3l-0.5 0.2M327.7 529.5l0.1 0.1M329.3 527.4l0.4 -0.2M334.0 527.1l0.1 0.1M335.5 527.5l-0.1 -0.5M340.3 528.0l-0.4 0.3M344.4 528.8l-0.4 0.0M345.6 527.6l-0.5 -0.3M295.6 530.7l-0.5 -0.3M299.8 531.2l0.4 0.2M302.4 532.2l-0.2 -0.1M305.0 531.6l0.4 0.5M308.2 532.3l-0.5 0.4M312.0 531.8l0.1 -0.1M316.1 531.2l0.2 -0.4M317.9 532.1l0.4 -0.2M323.1 531.8l-0.3 0.4M325.2 530.3l0.1 0.5M328.4 531.0l-0.1 -0.0M330.1 532.7l0.4 0.4M333.7 531.5l-0.4 0.2M337.0 532.1l0.4 -0.4M342.2 531.2l-0.1 -0.5M343.5 530.9l-0.0 0.0" stroke="#9b98d4" stroke-width="1.5" stroke-linecap="round" opacity="0.7" fill="none"/></g></g><rect x="334.5" y="528.8" width="8.0" height="1.6" fill="#000"/>
<clipPath id="c6"><rect x="350.2" y="487.1" width="49.2" height="46.0"/></clipPath><g clip-path="url(#c6)"><g filter="url(#hb)"><rect x="348.2" y="485.1" width="53.2" height="50.0" fill="#f0eaec"/><path d="M352.3 484.9Q354.6 488.1 357.8 491.6M356.8 485.8Q357.4 487.1 360.6 485.7M356.8 485.8Q357.1 489.0 357.8 491.6M360.6 485.7Q362.4 483.7 364.0 484.2M360.6 485.7Q360.1 486.3 360.8 487.5M364.0 484.2Q366.0 484.8 370.0 483.5M364.0 484.2Q366.0 488.0 368.3 491.1M370.0 483.5Q372.9 482.5 376.3 484.2M376.3 484.2Q375.5 486.0 374.0 488.0M381.0 487.2Q383.1 487.3 383.1 486.9M381.0 487.2Q378.9 488.5 378.8 489.4M383.1 486.9Q387.8 485.8 390.1 485.9M383.1 486.9Q383.8 489.3 382.2 490.5M383.1 486.9Q386.0 486.5 389.7 487.4M390.1 485.9Q389.6 484.7 391.1 484.9M390.1 485.9Q391.3 486.5 394.7 489.6M391.1 484.9Q394.0 484.6 398.3 484.2M398.3 484.2Q399.2 482.9 401.0 484.2M398.3 484.2Q399.4 486.4 399.6 489.5M401.0 484.2Q401.7 488.1 403.5 489.4M347.1 490.9Q349.0 492.9 348.7 494.1M352.0 489.3Q356.1 490.6 357.8 491.6M352.0 489.3Q355.1 490.7 356.0 493.7M357.8 491.6Q359.9 489.8 360.8 487.5M357.8 491.6Q356.1 492.4 356.0 493.7M357.8 491.6Q358.4 494.2 361.1 494.3M360.8 487.5Q361.9 491.8 361.1 494.3M368.3 491.1Q368.0 491.5 369.9 494.2M372.0 489.7Q372.1 487.6 374.0 488.0M372.0 489.7Q370.4 492.1 369.9 494.2M374.0 488.0Q376.8 488.5 378.8 489.4M374.0 488.0Q377.3 491.1 380.4 495.5M378.8 489.4Q378.6 492.3 380.4 495.5M378.8 489.4Q379.9 490.2 383.0 492.3M382.2 490.5Q383.3 491.8 383.0 492.3M389.7 487.4Q391.1 488.8 394.7 489.6M389.7 487.4Q387.2 489.9 386.9 492.4M389.7 487.4Q390.8 492.4 391.0 494.7M394.7 489.6Q397.4 489.7 399.6 489.5M399.6 489.5Q401.2 489.0 403.5 489.4M403.5 489.4Q404.0 492.6 403.0 496.1M348.7 494.1Q350.1 492.8 350.6 492.5M348.7 494.1Q350.3 495.8 353.3 497.5M350.6 492.5Q352.8 493.1 356.0 493.7M356.0 493.7Q356.2 495.5 355.8 496.4M361.1 494.3Q363.1 495.1 366.9 493.7M361.1 494.3Q361.9 498.2 361.8 500.5M366.9 493.7Q367.4 494.4 369.9 494.2M366.9 493.7Q365.7 496.2 364.4 497.0M366.9 493.7Q367.7 495.9 370.2 496.5M369.9 494.2Q372.6 498.1 375.0 499.6M377.2 495.4Q377.8 495.3 380.4 495.5M380.4 495.5Q379.4 496.9 379.5 496.5M380.4 495.5Q381.2 497.7 382.1 497.2M383.0 492.3Q382.8 493.6 382.1 497.2M386.9 492.4Q390.2 493.3 391.0 494.7M386.9 492.4Q387.7 495.2 389.5 500.5M399.6 492.4Q401.5 493.7 403.0 496.1M399.6 492.4Q398.8 495.0 396.4 498.2M403.0 496.1Q401.3 495.7 400.4 496.9M349.4 497.0Q347.6 500.8 347.9 504.6M353.3 497.5Q355.2 496.6 355.8 496.4M353.3 497.5Q353.3 501.8 351.5 504.8M355.8 496.4Q358.0 500.0 358.9 502.8M355.8 496.4Q357.6 499.4 360.5 501.7M361.8 500.5Q361.8 499.9 360.5 501.7M361.8 500.5Q363.9 501.7 367.0 504.6M364.4 497.0Q368.0 495.7 370.2 496.5M364.4 497.0Q364.7 501.5 367.0 504.6M370.2 496.5Q372.2 498.7 375.0 499.6M375.0 499.6Q378.3 498.8 379.5 496.5M375.0 499.6Q374.0 499.1 374.9 500.9M375.0 499.6Q377.9 501.1 378.8 502.2M379.5 496.5Q379.7 496.6 382.1 497.2M379.5 496.5Q378.1 499.5 378.8 502.2M379.5 496.5Q379.7 497.6 382.5 501.2M382.1 497.2Q384.4 500.1 389.5 500.5M389.5 500.5Q389.4 500.4 390.9 502.2M389.5 500.5Q391.8 501.1 393.2 503.3M393.2 496.8Q392.3 500.8 393.2 503.3M396.4 498.2Q397.8 497.8 400.4 496.9M396.4 498.2Q395.7 501.1 397.6 503.5M400.4 496.9Q401.6 499.2 402.2 503.1M347.9 504.6Q350.1 504.0 351.5 504.8M347.9 504.6Q348.4 506.4 346.3 508.2M351.5 504.8Q352.0 508.0 353.5 508.6M358.9 502.8Q359.8 501.8 360.5 501.7M358.9 502.8Q358.1 506.1 356.4 507.4M360.5 501.7Q363.8 502.1 367.0 504.6M360.5 501.7Q361.5 504.8 363.1 508.6M367.0 504.6Q369.0 503.6 372.3 501.8M367.0 504.6Q365.5 506.9 364.2 506.9M372.3 501.8Q373.8 501.3 374.9 500.9M374.9 500.9Q377.9 500.8 378.8 502.2M378.8 502.2Q380.0 502.7 382.5 501.2M382.5 501.2Q386.7 502.9 390.9 502.2M382.5 501.2Q384.2 505.8 385.2 508.2M390.9 502.2Q392.3 502.2 393.2 503.3M393.2 503.3Q392.7 505.5 393.8 505.6M397.6 503.5Q401.0 502.3 402.2 503.1M397.6 503.5Q400.1 504.2 402.8 506.0M402.2 503.1Q402.5 505.7 402.8 506.0M346.3 508.2Q349.3 509.3 350.3 513.0M346.3 508.2Q348.2 510.5 351.5 512.1M353.5 508.6Q355.1 509.0 356.4 507.4M353.5 508.6Q351.7 510.5 351.5 512.1M356.4 507.4Q360.8 507.3 363.1 508.6M364.2 506.9Q365.3 511.0 367.3 514.0M369.2 508.5Q371.0 508.9 374.8 507.1M374.8 507.1Q376.2 507.5 378.5 507.4M378.5 507.4Q382.2 509.1 385.2 508.2M378.5 507.4Q379.3 509.8 378.4 512.5M378.5 507.4Q382.0 510.2 383.5 513.1M385.2 508.2Q387.2 506.7 387.4 507.1M385.2 508.2Q385.5 511.3 383.5 513.1M393.8 505.6Q396.8 505.9 399.5 505.5M393.8 505.6Q392.6 506.6 391.4 510.0M393.8 505.6Q397.8 509.7 399.6 513.1M399.5 505.5Q400.2 505.4 402.8 506.0M399.5 505.5Q400.9 510.7 404.4 513.5M402.8 506.0Q403.9 509.5 404.4 513.5M350.3 513.0Q350.1 513.5 350.2 515.0M351.5 512.1Q354.9 513.7 358.8 513.7M351.5 512.1Q351.9 514.3 351.3 517.1M358.8 513.7Q361.0 513.2 362.4 512.7M358.8 513.7Q361.3 515.8 363.7 515.4M367.3 514.0Q369.7 514.0 370.8 512.6M367.3 514.0Q366.1 514.0 364.9 516.3M367.3 514.0Q367.9 515.0 369.3 514.8M370.8 512.6Q374.5 512.1 376.5 512.1M370.8 512.6Q370.4 512.8 369.3 514.8M376.5 512.1Q377.1 513.3 378.4 512.5M378.4 512.5Q381.0 511.5 383.5 513.1M378.4 512.5Q378.7 513.9 378.1 517.4M383.5 513.1Q385.4 512.4 389.8 513.9M383.5 513.1Q385.6 515.8 385.5 517.8M389.8 513.9Q391.4 511.8 391.4 510.0M389.8 513.9Q390.3 514.9 388.3 517.7M391.4 510.0Q395.2 511.0 399.6 513.1M391.4 510.0Q391.2 514.2 391.5 518.2M391.4 510.0Q393.8 513.4 397.3 514.9M399.6 513.1Q400.4 515.3 401.7 515.2M404.4 513.5Q401.9 515.1 401.7 515.2M350.2 515.0Q351.4 514.7 351.3 517.1M350.2 515.0Q349.1 516.8 350.5 519.7M351.3 517.1Q354.6 516.0 358.4 514.9M351.3 517.1Q349.8 518.0 350.5 519.7M358.4 514.9Q361.0 516.0 363.7 515.4M363.7 515.4Q365.6 516.5 364.9 516.3M363.7 515.4Q363.0 517.7 361.3 522.4M364.9 516.3Q366.1 514.7 369.3 514.8M364.9 516.3Q365.0 518.9 366.6 520.7M369.3 514.8Q370.8 518.1 371.7 521.3M373.3 514.5Q374.0 520.2 373.1 523.3M378.1 517.4Q381.0 518.8 385.5 517.8M385.5 517.8Q387.2 516.6 388.3 517.7M385.5 517.8Q387.3 517.7 387.2 519.1M388.3 517.7Q388.7 518.6 391.5 518.2M388.3 517.7Q387.1 519.2 387.2 519.1M388.3 517.7Q389.4 518.5 391.1 520.7M397.3 514.9Q397.6 518.0 399.3 520.9M401.7 515.2Q403.0 517.0 404.1 519.5M349.3 520.5Q350.0 522.3 350.3 524.1M349.3 520.5Q351.8 521.1 354.4 524.2M350.5 519.7Q352.9 521.8 355.3 523.1M350.5 519.7Q351.4 521.0 354.4 524.2M355.3 523.1Q357.4 522.6 361.3 522.4M355.3 523.1Q357.4 525.7 357.6 526.1M361.3 522.4Q363.8 521.0 366.6 520.7M361.3 522.4Q362.7 524.8 363.8 525.2M366.6 520.7Q369.6 522.2 371.7 521.3M366.6 520.7Q366.5 522.8 367.7 523.6M371.7 521.3Q371.1 521.9 373.1 523.3M371.7 521.3Q372.7 522.8 372.5 525.7M371.7 521.3Q373.7 523.4 375.4 527.7M373.1 523.3Q375.8 522.6 379.0 521.8M373.1 523.3Q374.5 525.6 375.4 527.7M383.8 523.2Q386.8 522.3 387.2 519.1M383.8 523.2Q384.6 523.9 387.1 525.3M387.2 519.1Q387.4 522.4 387.1 525.3M399.3 520.9Q401.7 519.4 404.1 519.5M404.1 519.5Q403.7 524.7 403.1 527.5M350.3 524.1Q351.8 523.4 354.4 524.2M354.4 524.2Q357.3 525.3 357.6 526.1M354.4 524.2Q353.5 528.5 351.8 532.2M357.6 526.1Q362.0 526.4 363.8 525.2M357.6 526.1Q356.6 527.5 356.9 531.1M363.8 525.2Q366.8 524.7 367.7 523.6M363.8 525.2Q360.8 528.8 359.8 531.5M367.7 523.6Q370.9 526.0 372.5 525.7M367.7 523.6Q369.2 527.6 368.0 529.0M367.7 523.6Q368.9 526.5 369.8 530.8M375.4 527.7Q375.8 528.1 378.9 526.1M375.4 527.7Q375.9 528.4 377.2 531.4M375.4 527.7Q377.8 528.9 377.5 528.4M378.9 526.1Q380.4 526.7 384.6 524.7M378.9 526.1Q382.7 527.8 385.9 529.7M384.6 524.7Q386.9 525.4 387.1 525.3M387.1 525.3Q389.6 528.3 390.7 529.9M392.2 526.1Q392.2 526.1 394.7 528.8M397.3 523.7Q399.7 526.9 403.1 527.5M397.3 523.7Q397.9 527.6 399.8 530.0M403.1 527.5Q401.8 526.9 400.0 528.7M348.7 529.2Q350.2 530.7 351.8 532.2M351.8 532.2Q354.1 531.5 356.9 531.1M351.8 532.2Q353.7 535.7 354.8 536.7M351.8 532.2Q356.6 532.9 359.1 534.2M356.9 531.1Q358.1 530.6 359.8 531.5M356.9 531.1Q359.3 532.2 359.1 534.2M359.8 531.5Q362.6 530.1 368.0 529.0M368.0 529.0Q369.7 530.2 369.8 530.8M369.8 530.8Q373.1 532.2 377.2 531.4M377.2 531.4Q376.1 528.6 377.5 528.4M377.5 528.4Q381.2 527.8 385.9 529.7M377.5 528.4Q377.9 531.2 379.3 533.7M385.9 529.7Q388.5 529.1 390.7 529.9M385.9 529.7Q384.8 532.0 385.3 533.1M390.7 529.9Q394.0 530.6 394.7 528.8M390.7 529.9Q391.0 531.6 391.1 532.7M394.7 528.8Q392.1 531.7 391.1 532.7M399.8 530.0Q399.3 528.1 400.0 528.7M399.8 530.0Q400.8 533.2 400.4 535.7M400.0 528.7Q399.0 532.8 400.4 535.7M346.3 534.2Q351.1 536.8 354.8 536.7M346.3 534.2Q345.7 534.6 347.2 537.3M354.8 536.7Q356.2 536.5 359.1 534.2M354.8 536.7Q353.7 536.8 355.0 537.1M359.1 534.2Q355.9 535.2 355.0 537.1M362.9 535.7Q366.0 535.8 367.7 536.7M362.9 535.7Q360.9 538.1 360.6 538.7M367.7 536.7Q369.5 537.3 372.2 535.8M367.7 536.7Q370.0 539.7 370.6 541.0M372.2 535.8Q373.5 537.1 375.7 538.2M374.4 533.1Q376.1 534.4 379.3 533.7M374.4 533.1Q374.0 537.0 375.7 538.2M379.3 533.7Q382.4 533.7 385.3 533.1M385.3 533.1Q385.9 534.8 387.4 535.6M385.3 533.1Q383.4 537.7 383.7 541.1M387.4 535.6Q388.0 533.3 391.1 532.7M391.1 532.7Q394.1 533.4 395.5 532.4M400.4 535.7Q402.3 535.4 402.8 537.3M352.7 538.5Q354.7 538.7 355.0 537.1M355.0 537.1Q358.8 539.0 360.6 538.7M378.5 537.7Q380.1 540.0 383.7 541.1M383.7 541.1Q387.0 540.4 390.8 537.5M393.9 540.3Q395.7 541.4 399.6 540.3" stroke="#e2cdc8" stroke-width="0.6" opacity="0.35" fill="none" stroke-linecap="round"/><path d="M352.4 489.1h0M359.3 483.2h0M367.9 487.4h0M379.0 484.2h0M382.8 486.4h0M389.5 482.9h0M401.8 487.2h0M354.5 497.1h0M367.1 494.4h0M371.6 491.9h0M378.5 491.7h0M390.9 493.7h0M397.8 491.7h0M349.3 504.9h0M357.7 503.8h0M371.4 505.0h0M372.9 499.9h0M382.4 498.4h0M392.6 500.1h0M400.0 504.5h0M349.2 507.8h0M356.8 508.8h0M367.7 511.2h0M375.8 512.6h0M378.7 509.4h0M387.7 510.5h0M399.5 507.1h0M355.4 518.2h0M365.0 514.0h0M368.6 516.6h0M375.5 518.6h0M388.9 515.2h0M396.1 520.3h0M360.0 524.1h0M361.5 526.7h0M375.2 526.3h0M379.2 524.1h0M388.6 522.1h0M399.7 526.4h0M359.3 535.1h0M363.8 535.3h0M374.2 533.7h0M378.8 535.8h0M384.7 533.3h0M395.4 534.8h0" stroke="#faf8f8" stroke-width="2.2" stroke-linecap="round" opacity="0.5" fill="none"/><path d="M379.6 528.0l0.1 4.9M397.5 516.8l-5.9 1.0" stroke="#fcfafa" stroke-width="1.6" stroke-linecap="round" opacity="0.5" fill="none"/><path d="M349.1 486.3l0.3 -0.0M351.0 487.0l0.4 -0.4M356.1 486.4l-0.4 0.5M356.9 487.0l0.1 0.4M360.9 487.1l0.4 0.1M364.6 486.4l-0.1 0.2M365.1 486.4l-0.1 -0.2M368.5 486.6l0.1 -0.1M370.9 484.9l0.4 -0.2M375.6 486.3l0.0 -0.4M378.0 484.9l-0.1 0.2M380.6 485.3l-0.4 0.3M384.6 485.6l0.1 -0.3M386.4 485.3l-0.4 -0.4M389.2 485.5l0.4 -0.3M392.3 485.9l-0.3 0.5M394.1 485.5l0.1 0.2M397.7 486.6l0.1 -0.3M350.7 489.9l0.2 0.2M355.0 489.7l0.3 0.4M357.3 490.2l-0.5 -0.4M359.8 488.2l-0.3 -0.4M363.2 490.2l-0.3 -0.4M366.9 490.1l0.4 -0.5M368.4 489.6l-0.1 -0.3M372.4 489.7l0.2 -0.3M374.9 488.8l-0.3 0.0M378.1 488.2l0.2 -0.2M379.6 488.8l-0.4 -0.2M382.1 488.2l0.2 0.2M385.1 489.7l0.5 -0.4M389.1 488.2l-0.4 -0.4M392.7 488.6l-0.1 0.3M394.7 488.5l0.4 0.3M397.9 490.0l0.1 -0.0M400.0 487.9l-0.3 0.1M352.3 491.1l-0.0 -0.0M355.4 490.9l-0.4 0.4M358.2 491.4l0.3 -0.3M359.0 493.0l0.5 0.2M363.7 490.7l-0.4 -0.2M366.2 492.1l-0.2 0.1M369.1 491.3l0.3 0.1M372.0 490.7l0.2 -0.5M373.3 491.1l0.4 -0.1M378.2 492.3l-0.5 -0.3M381.2 492.1l-0.5 -0.3M382.9 492.4l-0.1 0.3M384.7 491.5l-0.4 0.1M389.7 491.7l-0.1 -0.3M390.8 492.3l0.2 0.3M395.8 491.3l-0.4 0.5M396.6 492.7l-0.3 0.4M399.0 492.3l0.4 0.1M351.5 495.3l0.0 0.0M354.4 494.0l-0.2 0.0M356.4 494.9l0.5 -0.1M358.9 495.7l-0.3 0.2M361.1 493.4l-0.2 0.3M364.3 495.4l0.1 -0.1M366.4 493.5l0.1 -0.2M369.8 494.5l0.3 0.3M372.5 495.7l0.3 -0.4M375.0 493.7l0.3 0.0M379.3 494.7l-0.1 0.5M381.2 495.7l0.2 0.0M385.8 495.2l-0.4 -0.0M388.4 493.9l0.5 -0.3M390.3 493.7l-0.3 -0.1M393.9 493.7l0.2 0.2M396.3 495.0l-0.1 -0.2M399.5 495.9l0.1 -0.3M349.6 498.4l0.2 -0.0M353.6 497.4l0.5 0.1M356.1 498.7l0.1 -0.4M358.2 497.2l-0.1 0.4M362.0 498.6l-0.2 -0.2M365.3 497.8l-0.2 -0.0M366.8 497.1l-0.2 0.4M370.4 497.1l-0.3 0.1M372.2 498.1l-0.4 -0.4M376.2 498.2l-0.5 0.1M379.0 496.6l0.1 0.1M380.7 498.2l-0.4 -0.2M383.6 496.6l-0.2 -0.3M388.3 498.6l-0.2 0.4M389.3 497.3l-0.0 -0.3M392.2 497.0l-0.1 0.2M396.4 498.7l-0.2 0.2M397.8 498.3l0.4 0.0M351.9 499.5l-0.5 -0.3M355.1 501.6l-0.0 0.1M356.8 500.5l0.3 -0.1M360.0 499.5l-0.4 0.3M364.5 499.9l0.3 0.1M366.9 500.7l0.2 0.2M370.2 501.1l-0.2 0.1M373.0 500.5l0.5 0.4M374.3 501.5l-0.4 0.0M378.6 500.1l0.4 0.5M379.4 500.7l0.5 -0.1M384.2 500.6l0.0 -0.5M387.2 499.9l-0.2 0.1M389.3 499.6l0.1 -0.2M392.2 500.9l0.1 -0.1M394.3 500.3l-0.3 0.4M399.0 499.5l-0.2 0.5M349.9 503.8l-0.4 -0.2M353.2 502.2l-0.4 0.1M356.9 502.4l0.1 -0.1M358.5 502.9l0.3 0.3M362.4 503.2l-0.1 0.2M364.1 502.6l0.4 -0.1M367.2 504.2l0.2 -0.0M370.0 503.7l0.0 0.0M373.0 503.2l-0.0 -0.3M377.0 502.2l0.4 0.3M378.9 503.9l0.3 0.1M382.1 502.8l0.3 -0.4M383.6 503.5l-0.3 -0.4M386.6 504.2l-0.1 0.1M390.7 503.0l-0.4 -0.1M393.0 504.0l0.4 0.4M396.9 503.0l0.3 -0.3M399.6 503.9l-0.4 0.3M351.9 505.1l0.2 -0.4M354.9 505.5l-0.1 -0.1M356.7 505.7l-0.1 0.4M359.1 505.4l0.4 0.1M363.6 505.4l-0.0 0.2M366.1 505.6l-0.2 0.1M367.8 506.9l0.1 0.3M371.6 505.3l0.2 0.4M374.4 506.7l0.2 -0.3M377.6 504.9l-0.1 -0.1M381.7 505.0l-0.3 -0.3M382.1 507.0l-0.4 0.4M385.1 506.8l-0.0 0.2M388.6 505.4l-0.4 -0.2M391.1 506.6l-0.1 -0.4M394.5 506.2l-0.1 0.1M396.8 507.3l-0.2 -0.4M352.0 508.6l-0.4 -0.0M354.9 508.1l0.2 0.4M357.4 509.6l0.3 -0.1M358.9 507.8l-0.3 -0.0M363.5 509.2l-0.4 0.5M365.4 507.9l-0.3 0.4M368.5 509.0l0.1 0.4M372.1 509.1l-0.4 -0.2M374.9 508.8l0.2 0.4M376.1 510.2l0.5 0.1M380.4 508.7l-0.3 -0.1M383.9 509.5l0.5 0.5M386.8 509.0l-0.1 0.1M389.5 508.1l-0.0 -0.2M392.5 509.6l0.5 0.2M394.0 510.2l-0.4 0.2M397.2 510.0l0.0 0.1M399.5 510.2l0.1 0.0M351.6 512.8l0.4 -0.0M354.0 511.8l0.1 -0.1M356.5 511.0l0.2 -0.3M361.5 513.1l0.2 -0.1M363.3 511.1l0.5 0.0M365.2 512.1l-0.2 0.0M369.6 512.0l0.2 0.4M372.6 510.8l0.5 0.3M375.2 512.0l-0.2 0.5M378.3 513.1l0.3 -0.3M380.4 512.1l0.0 -0.0M383.0 512.9l0.0 -0.4M387.4 510.6l0.2 -0.4M388.1 511.9l-0.5 -0.4M393.1 512.9l-0.1 -0.0M395.4 513.0l0.5 -0.2M396.8 512.5l0.2 -0.2M350.2 514.3l0.3 0.1M352.5 514.1l-0.3 0.1M356.5 514.0l-0.3 0.0M359.7 514.4l-0.2 -0.4M360.7 514.1l-0.3 0.2M364.5 515.7l-0.1 -0.3M366.5 515.5l0.5 0.3M371.5 514.1l-0.1 0.4M372.1 513.8l-0.3 0.3M376.6 515.8l0.4 0.4M378.9 515.4l0.5 0.4M381.9 514.2l0.3 0.4M385.2 514.2l0.2 -0.5M386.6 515.0l-0.2 -0.3M390.2 515.3l-0.4 0.2M393.8 515.3l0.4 -0.4M395.1 514.8l0.4 -0.2M399.9 513.9l0.2 0.0M350.5 517.9l0.4 -0.4M353.0 517.3l-0.4 -0.1M355.6 517.3l-0.5 0.1M359.4 517.8l-0.3 0.2M361.2 516.5l0.5 -0.3M363.5 518.6l0.3 -0.1M365.8 517.0l-0.2 0.2M370.6 517.4l-0.5 -0.4M371.7 516.9l0.4 0.4M376.2 518.3l-0.5 -0.1M378.8 516.7l-0.2 0.1M380.9 516.6l-0.1 0.2M383.9 517.2l0.4 -0.1M387.3 516.3l-0.1 0.1M390.7 516.9l-0.1 0.0M392.2 517.6l0.4 -0.4M394.4 517.4l0.0 -0.3M397.7 518.2l0.3 0.3M349.8 519.7l-0.5 0.2M353.4 521.2l-0.4 0.3M355.8 520.7l0.4 -0.3M358.4 521.1l-0.3 0.2M360.4 521.4l0.1 -0.2M364.2 521.5l-0.0 0.5M367.7 519.8l-0.4 -0.4M371.1 521.1l0.0 -0.1M373.3 520.3l-0.1 -0.1M376.6 520.5l0.1 0.2M378.6 521.3l-0.4 -0.1M382.6 521.6l-0.0 -0.2M385.1 519.3l0.0 -0.2M387.7 521.3l-0.4 0.3M389.0 521.6l0.2 0.1M392.1 520.3l0.2 -0.3M395.6 520.3l0.2 0.4M398.3 521.3l0.4 0.2M348.1 522.4l-0.2 -0.2M352.2 522.4l0.2 0.0M356.3 523.9l-0.3 0.2M356.8 522.2l-0.3 0.5M361.8 522.2l0.0 0.1M364.4 523.2l0.2 -0.2M365.8 522.3l0.2 -0.4M368.1 522.4l-0.4 -0.3M372.7 522.9l0.1 -0.4M374.0 523.3l-0.1 -0.4M378.9 522.5l-0.1 -0.3M381.7 522.4l-0.4 -0.4M384.9 523.9l0.4 -0.2M385.4 522.6l-0.4 0.5M390.1 522.8l-0.4 0.2M391.3 524.3l0.4 0.2M395.6 523.0l-0.2 0.1M398.2 523.2l0.1 -0.4M350.8 526.3l-0.2 -0.4M353.8 527.4l0.3 -0.4M356.2 526.1l0.5 -0.4M358.3 525.5l-0.1 -0.4M361.7 527.1l-0.2 0.5M363.9 526.4l-0.1 -0.5M366.9 526.4l0.4 0.4M370.6 526.8l-0.2 0.2M373.8 525.0l-0.0 -0.2M375.2 525.1l-0.5 0.3M378.6 524.9l-0.2 0.3M382.6 525.5l0.0 0.2M383.5 526.2l0.2 -0.1M387.1 526.0l0.3 -0.1M391.4 526.5l0.0 -0.4M391.9 526.1l0.2 0.5M396.0 526.3l-0.2 -0.3M398.8 525.2l-0.1 0.5M351.2 528.9l-0.2 0.3M353.6 529.6l-0.1 0.0M357.2 527.8l0.4 0.3M357.8 530.2l0.1 0.2M362.7 528.6l0.2 0.2M364.5 528.7l-0.1 -0.1M367.8 529.9l0.1 0.4M369.6 529.1l0.5 -0.1M373.5 529.5l-0.2 0.1M376.8 529.3l0.5 -0.3M378.0 529.2l-0.1 -0.4M380.6 529.1l0.4 -0.2M385.0 528.6l-0.4 0.4M388.8 529.6l0.4 0.0M391.7 527.9l-0.3 -0.2M392.6 528.1l-0.3 -0.4M397.2 529.4l0.2 0.4M400.2 528.6l-0.4 0.5M351.3 531.7l0.5 -0.3M354.7 531.9l0.4 0.4M355.6 531.0l0.3 0.5M360.1 531.5l0.3 0.3M363.1 533.1l0.1 0.4M365.7 531.0l-0.1 0.1M367.5 532.0l0.1 -0.2M370.4 532.9l0.5 0.2M374.7 530.9l0.3 0.1M376.9 532.9l0.0 0.3M379.4 532.1l0.1 -0.3M383.0 531.1l-0.3 0.5M384.0 532.9l-0.5 0.4M388.2 532.6l-0.5 0.4M389.8 531.9l0.2 -0.1M394.3 531.1l0.4 -0.2M396.1 533.1l0.2 -0.2M398.6 531.3l0.1 -0.4" stroke="#aaa6da" stroke-width="1.5" stroke-linecap="round" opacity="0.62" fill="none"/></g></g><rect x="389.0" y="528.8" width="8.0" height="1.6" fill="#000"/>
<text x="464.60" y="472.50" font-size="7.3" text-anchor="middle">PDX, LAT006_0118</text>
<text x="438.60" y="483.50" font-size="7.3" text-anchor="middle">c-MET</text>
<text x="489.60" y="483.50" font-size="7.3" text-anchor="middle">Phospho-MET</text>
<clipPath id="c7"><rect x="416.3" y="486.9" width="46.0" height="45.5"/></clipPath><g clip-path="url(#c7)"><g filter="url(#hb)"><rect x="414.3" y="484.9" width="50.0" height="49.5" fill="#d2aa8a"/><circle cx="448.5" cy="500.5" r="9" fill="#f0e4dc" opacity="0.5" filter="url(#bb)"/><circle cx="425.5" cy="518.8" r="10" fill="#b88050" opacity="0.4" filter="url(#bb)"/><path d="M414.4 486.0Q413.9 488.3 412.8 490.1M419.6 484.1Q417.7 486.4 417.8 490.3M425.7 483.5Q426.1 484.3 427.0 484.5M425.7 483.5Q425.5 486.1 426.2 490.0M427.0 484.5Q426.9 487.3 427.0 488.0M433.2 484.0Q435.0 484.0 435.9 484.2M433.2 484.0Q431.1 486.7 430.7 489.4M435.9 484.2Q438.8 484.8 440.7 486.5M435.9 484.2Q435.7 486.1 435.4 490.2M440.7 486.5Q441.8 486.0 442.7 486.7M440.7 486.5Q439.1 487.0 439.0 489.5M440.7 486.5Q442.2 486.4 444.4 487.6M442.7 486.7Q443.8 486.1 444.4 487.6M445.1 486.0Q445.8 487.7 446.9 490.1M445.1 486.0Q447.9 487.8 450.4 488.0M451.7 483.6Q453.4 483.9 454.6 485.1M451.7 483.6Q450.8 484.8 450.4 488.0M454.6 485.1Q457.4 485.4 459.1 483.9M459.1 483.9Q460.1 485.8 461.2 486.3M459.1 483.9Q458.0 486.8 456.4 488.9M459.1 483.9Q460.4 486.1 461.3 488.7M461.2 486.3Q463.3 485.5 465.2 484.2M412.8 490.1Q416.3 489.2 417.8 490.3M417.8 490.3Q418.7 489.1 420.2 489.6M417.8 490.3Q418.6 492.6 417.3 493.6M417.8 490.3Q419.8 491.0 421.8 491.3M420.2 489.6Q423.1 490.6 426.2 490.0M420.2 489.6Q422.4 491.1 423.3 493.0M427.0 488.0Q427.9 488.9 430.7 489.4M427.0 488.0Q427.8 490.1 428.2 492.0M427.0 488.0Q428.4 489.9 431.5 492.6M430.7 489.4Q434.0 490.5 435.4 490.2M430.7 489.4Q431.0 491.6 431.5 492.6M435.4 490.2Q436.4 489.7 436.7 491.4M435.4 490.2Q435.7 491.5 438.0 493.9M439.0 489.5Q441.4 488.0 444.4 487.6M439.0 489.5Q438.1 491.1 438.0 493.9M444.4 487.6Q446.2 489.5 446.9 490.1M444.4 487.6Q445.5 488.6 444.6 490.4M450.4 488.0Q450.2 490.6 450.0 492.9M453.1 489.5Q454.2 489.5 456.4 488.9M453.1 489.5Q454.7 491.5 455.6 492.4M456.4 488.9Q458.7 489.7 461.3 488.7M456.4 488.9Q455.9 490.5 457.1 491.0M461.3 488.7Q462.4 489.8 463.4 489.1M461.3 488.7Q460.1 488.7 460.2 490.8M461.3 488.7Q461.8 490.9 463.3 491.1M415.8 491.4Q416.0 493.8 415.5 495.8M417.3 493.6Q418.9 491.7 421.8 491.3M417.3 493.6Q418.6 494.7 419.0 497.2M421.8 491.3Q422.1 493.0 423.3 493.0M421.8 491.3Q421.6 493.3 422.6 494.1M423.3 493.0Q423.9 494.6 426.6 494.2M428.2 492.0Q428.1 495.0 429.7 496.9M431.5 492.6Q433.0 491.8 436.7 491.4M431.5 492.6Q433.1 493.0 432.9 495.4M436.7 491.4Q438.0 492.0 438.0 493.9M436.7 491.4Q436.2 493.0 434.4 494.2M436.7 491.4Q438.9 492.3 440.0 494.8M438.0 493.9Q438.5 493.5 440.0 494.8M438.0 493.9Q441.5 493.6 443.2 494.9M444.6 490.4Q443.9 492.2 443.2 494.9M450.0 492.9Q452.8 493.6 455.6 492.4M450.0 492.9Q450.0 494.0 451.1 495.7M455.6 492.4Q456.1 491.8 457.1 491.0M455.6 492.4Q455.1 493.4 453.5 495.7M455.6 492.4Q456.3 494.9 457.7 495.8M457.1 491.0Q458.4 490.7 460.2 490.8M457.1 491.0Q456.7 492.4 457.7 495.8M460.2 490.8Q461.4 490.2 463.3 491.1M460.2 490.8Q461.5 495.1 460.9 497.4M460.2 490.8Q462.2 493.2 465.6 494.7M415.5 495.8Q416.9 497.5 419.0 497.2M415.5 495.8Q417.5 495.9 417.4 497.6M419.0 497.2Q419.2 497.6 417.4 497.6M419.0 497.2Q421.6 498.9 422.4 499.5M422.6 494.1Q424.3 493.6 426.6 494.2M422.6 494.1Q422.9 496.7 422.4 499.5M422.6 494.1Q424.4 497.8 424.8 500.7M426.6 494.2Q427.8 496.2 429.7 496.9M429.7 496.9Q431.0 495.7 432.9 495.4M429.7 496.9Q428.7 498.3 428.1 499.6M432.9 495.4Q433.8 496.2 436.3 498.8M434.4 494.2Q436.0 496.0 436.3 498.8M440.0 494.8Q440.6 493.7 443.2 494.9M440.0 494.8Q440.3 497.1 442.4 498.8M443.2 494.9Q443.3 494.0 445.5 495.0M443.2 494.9Q443.8 496.1 442.4 498.8M443.2 494.9Q445.7 497.7 447.0 499.4M445.5 495.0Q445.7 496.8 447.0 499.4M451.1 495.7Q452.9 496.3 453.5 495.7M451.1 495.7Q450.1 497.4 450.4 498.2M451.1 495.7Q451.9 497.7 454.2 500.0M453.5 495.7Q456.0 496.3 457.7 495.8M453.5 495.7Q453.1 498.2 454.2 500.0M457.7 495.8Q458.5 495.6 460.9 497.4M457.7 495.8Q459.0 496.4 458.5 499.1M413.6 498.2Q414.6 497.6 417.4 497.6M413.6 498.2Q417.7 500.6 419.7 504.1M417.4 497.6Q419.9 499.0 422.4 499.5M417.4 497.6Q419.2 501.0 419.7 504.1M424.8 500.7Q426.3 499.5 428.1 499.6M424.8 500.7Q424.4 501.9 424.1 502.1M428.1 499.6Q430.5 499.6 433.8 499.5M428.1 499.6Q429.3 501.2 428.8 503.6M433.8 499.5Q431.6 500.3 430.6 502.8M433.8 499.5Q436.5 501.0 437.4 503.3M436.3 498.8Q437.4 500.0 437.4 503.3M441.3 500.2Q442.5 498.7 442.4 498.8M441.3 500.2Q442.2 500.2 441.3 501.5M442.4 498.8Q443.9 499.9 447.0 499.4M442.4 498.8Q444.5 501.1 444.6 504.1M442.4 498.8Q443.3 500.5 445.0 503.0M447.0 499.4Q445.4 501.5 445.0 503.0M450.4 498.2Q451.7 500.0 451.2 501.9M454.2 500.0Q455.8 500.0 458.5 499.1M458.5 499.1Q459.6 500.1 460.9 499.3M458.5 499.1Q459.3 501.4 459.5 503.0M460.9 499.3Q462.7 500.1 464.8 499.2M460.9 499.3Q461.2 501.8 459.5 503.0M464.8 499.2Q463.6 500.5 463.6 503.0M412.5 502.0Q416.8 502.9 419.7 504.1M412.5 502.0Q412.6 503.3 413.5 506.0M419.7 504.1Q420.5 503.6 421.4 503.8M419.7 504.1Q418.4 506.7 418.1 507.7M421.4 503.8Q422.2 505.3 423.2 506.2M424.1 502.1Q427.0 503.8 428.8 503.6M424.1 502.1Q423.7 504.7 423.3 507.4M424.1 502.1Q426.9 503.7 428.1 507.4M428.8 503.6Q429.0 506.1 428.1 507.4M430.6 502.8Q433.4 504.0 437.4 503.3M430.6 502.8Q432.7 502.9 433.5 504.8M437.4 503.3Q439.7 501.9 441.3 501.5M441.3 501.5Q439.9 504.5 438.9 505.9M444.6 504.1Q443.9 503.8 445.0 503.0M444.6 504.1Q443.0 504.7 443.2 505.6M445.0 503.0Q448.1 502.8 451.2 501.9M445.0 503.0Q446.8 503.5 446.7 505.7M451.2 501.9Q453.0 502.8 454.4 504.2M451.2 501.9Q451.1 504.0 448.9 505.6M454.4 504.2Q457.5 503.8 458.6 502.6M454.4 504.2Q455.5 504.5 454.6 505.8M459.5 503.0Q458.7 505.6 460.1 508.2M459.5 503.0Q462.4 503.1 465.7 505.2M463.6 503.0Q464.1 503.8 465.7 505.2M413.5 506.0Q416.4 507.0 418.1 507.7M413.5 506.0Q412.9 507.8 413.6 509.9M413.5 506.0Q415.5 507.4 418.0 509.7M418.1 507.7Q420.4 507.8 423.2 506.2M418.1 507.7Q418.8 509.3 418.0 509.7M423.2 506.2Q423.6 507.6 423.3 507.4M423.2 506.2Q423.2 507.7 421.6 511.0M423.3 507.4Q425.4 506.8 428.1 507.4M423.3 507.4Q423.7 509.1 423.9 510.3M423.3 507.4Q426.3 509.9 427.5 510.2M433.5 504.8Q433.6 507.0 431.6 511.2M436.7 505.7Q437.0 506.5 438.9 505.9M436.7 505.7Q437.9 509.8 437.3 511.7M438.9 505.9Q438.4 509.0 439.2 510.5M443.2 505.6Q444.8 505.5 446.7 505.7M446.7 505.7Q448.2 506.1 448.9 505.6M446.7 505.7Q446.6 507.2 447.7 509.8M446.7 505.7Q448.6 508.4 449.7 511.0M448.9 505.6Q452.5 506.7 454.6 505.8M448.9 505.6Q450.9 508.7 454.8 511.2M454.6 505.8Q454.6 505.3 456.4 506.0M454.6 505.8Q453.7 509.5 454.8 511.2M460.1 508.2Q463.4 505.9 465.7 505.2M460.1 508.2Q460.8 507.7 460.2 509.0M465.7 505.2Q465.3 506.9 462.9 508.7M413.6 509.9Q415.4 508.7 418.0 509.7M413.6 509.9Q416.7 511.9 419.3 513.3M418.0 509.7Q418.4 511.7 419.3 513.3M421.6 511.0Q423.2 511.7 423.9 510.3M421.6 511.0Q423.1 512.5 423.6 513.1M423.9 510.3Q425.6 510.9 427.5 510.2M423.9 510.3Q423.4 510.9 423.6 513.1M427.5 510.2Q430.1 509.7 431.6 511.2M431.6 511.2Q433.5 511.0 437.3 511.7M431.6 511.2Q432.6 512.2 434.0 514.6M437.3 511.7Q437.2 511.3 439.2 510.5M437.3 511.7Q436.4 512.5 435.2 515.0M441.9 510.9Q445.1 510.0 447.7 509.8M441.9 510.9Q441.3 512.3 441.8 512.3M447.7 509.8Q449.7 511.0 449.7 511.0M447.7 509.8Q448.1 511.8 447.8 515.1M449.7 511.0Q452.8 511.2 454.8 511.2M449.7 511.0Q450.0 513.9 450.9 514.7M454.8 511.2Q455.3 509.6 456.7 509.2M454.8 511.2Q454.0 512.1 455.0 512.8M456.7 509.2Q459.1 508.8 460.2 509.0M460.2 509.0Q461.1 511.0 462.3 513.5M460.2 509.0Q461.7 509.5 463.9 512.2M462.9 508.7Q463.6 509.8 463.9 512.2M414.3 513.4Q416.0 514.4 419.3 513.3M419.3 513.3Q417.8 513.9 416.8 516.6M423.6 513.1Q424.0 515.5 423.5 517.9M429.6 513.1Q432.6 514.6 434.0 514.6M429.6 513.1Q429.0 515.1 428.7 517.0M429.6 513.1Q429.8 515.0 431.4 516.6M434.0 514.6Q433.1 515.6 431.4 516.6M435.2 515.0Q437.3 515.3 441.0 513.8M441.0 513.8Q440.7 512.9 441.8 512.3M441.0 513.8Q441.2 514.8 440.4 516.3M441.0 513.8Q441.2 514.8 442.0 516.8M441.8 512.3Q445.4 514.6 447.8 515.1M441.8 512.3Q442.7 513.7 442.0 516.8M441.8 512.3Q445.7 516.3 448.1 518.9M450.9 514.7Q453.5 514.2 455.0 512.8M450.9 514.7Q450.9 515.6 449.3 517.8M455.0 512.8Q455.4 514.2 456.5 515.0M455.0 512.8Q453.2 515.7 453.5 517.1M456.5 515.0Q459.9 515.3 462.3 513.5M456.5 515.0Q456.7 517.5 456.4 518.1M456.5 515.0Q458.9 516.4 462.1 518.9M462.3 513.5Q462.9 513.4 463.9 512.2M462.3 513.5Q462.4 517.1 462.1 518.9M463.9 512.2Q463.8 515.2 464.6 517.1M414.0 518.8Q414.9 517.2 416.8 516.6M414.0 518.8Q413.6 518.8 414.8 519.6M416.8 516.6Q417.3 517.3 419.8 517.5M419.8 517.5Q420.6 518.3 423.5 517.9M419.8 517.5Q420.6 519.5 420.5 520.5M423.5 517.9Q426.5 516.6 428.7 517.0M423.5 517.9Q425.3 519.4 425.0 522.2M428.7 517.0Q429.2 515.8 431.4 516.6M431.4 516.6Q432.6 520.6 433.9 522.4M437.3 518.9Q438.5 516.7 440.4 516.3M437.3 518.9Q436.3 519.9 437.2 520.9M440.4 516.3Q441.7 515.9 442.0 516.8M440.4 516.3Q439.6 519.2 439.4 520.6M442.0 516.8Q444.2 518.9 444.8 520.8M448.1 518.9Q448.0 517.8 449.3 517.8M448.1 518.9Q448.5 518.4 448.4 519.8M453.5 517.1Q455.7 518.6 456.4 518.1M453.5 517.1Q454.8 519.2 455.8 519.5M456.4 518.1Q459.6 518.8 462.1 518.9M456.4 518.1Q456.2 517.8 455.8 519.5M456.4 518.1Q458.0 517.8 460.9 519.4M464.6 517.1Q463.8 519.3 464.0 521.3M414.8 519.6Q416.3 520.9 419.3 521.9M419.3 521.9Q419.4 522.0 417.5 523.6M419.3 521.9Q419.9 522.8 421.7 525.5M420.5 520.5Q423.7 522.0 425.0 522.2M420.5 520.5Q421.1 523.5 421.7 525.5M425.0 522.2Q426.7 521.5 429.4 520.0M425.0 522.2Q423.2 523.9 423.4 524.6M425.0 522.2Q427.8 524.5 428.8 526.0M429.4 520.0Q431.1 521.5 433.9 522.4M429.4 520.0Q429.6 522.0 428.8 526.0M429.4 520.0Q430.4 522.3 433.0 523.7M433.9 522.4Q435.5 522.1 437.2 520.9M437.2 520.9Q438.3 519.7 439.4 520.6M437.2 520.9Q439.5 523.1 441.1 525.5M439.4 520.6Q442.1 519.7 444.8 520.8M444.8 520.8Q446.5 520.2 448.4 519.8M444.8 520.8Q443.0 522.0 441.7 524.0M448.4 519.8Q448.1 521.8 446.6 523.9M448.6 520.8Q450.1 522.9 451.2 524.5M452.8 520.0Q453.3 520.5 455.8 519.5M452.8 520.0Q453.9 521.1 455.6 522.7M455.8 519.5Q458.6 520.0 460.9 519.4M460.9 519.4Q463.1 520.2 464.0 521.3M460.9 519.4Q460.2 521.9 461.2 523.2M460.9 519.4Q462.5 521.3 464.3 524.9M464.0 521.3Q463.6 523.5 464.3 524.9M413.4 523.8Q415.1 526.1 416.0 526.4M413.4 523.8Q416.4 526.1 417.5 526.7M417.5 523.6Q420.2 525.5 421.7 525.5M417.5 523.6Q416.8 524.8 417.5 526.7M421.7 525.5Q421.5 527.2 422.4 526.8M423.4 524.6Q425.8 524.6 428.8 526.0M423.4 524.6Q424.6 527.9 424.0 529.2M428.8 526.0Q430.3 525.6 433.0 523.7M428.8 526.0Q427.7 526.9 427.1 529.5M433.0 523.7Q434.2 525.3 436.3 525.9M436.3 525.9Q439.0 526.0 441.1 525.5M436.3 525.9Q435.2 525.8 434.5 526.6M441.1 525.5Q441.2 525.7 439.4 527.4M441.7 524.0Q443.2 524.8 446.6 523.9M441.7 524.0Q443.7 525.0 443.6 527.4M441.7 524.0Q443.0 525.6 446.1 526.4M446.6 523.9Q449.2 525.2 451.2 524.5M446.6 523.9Q446.7 524.4 446.1 526.4M446.6 523.9Q447.8 525.1 448.8 526.3M451.2 524.5Q452.5 524.5 455.6 522.7M451.2 524.5Q453.5 527.0 453.8 529.5M455.6 522.7Q456.4 521.9 458.6 523.1M455.6 522.7Q455.1 525.4 453.8 529.5M458.6 523.1Q459.6 523.3 461.2 523.2M458.6 523.1Q458.8 526.5 461.0 529.1M461.2 523.2Q462.7 524.3 464.3 524.9M461.2 523.2Q460.8 527.1 461.0 529.1M464.3 524.9Q464.8 526.4 466.0 526.6M416.0 526.4Q416.9 530.1 419.4 532.5M422.4 526.8Q422.9 530.2 421.8 532.3M422.4 526.8Q424.1 529.4 426.0 530.2M424.0 529.2Q425.8 530.2 427.1 529.5M424.0 529.2Q425.6 529.4 428.1 530.0M427.1 529.5Q428.6 530.5 431.1 533.2M431.5 529.9Q432.6 527.9 434.5 526.6M431.5 529.9Q431.5 530.7 431.1 533.2M434.5 526.6Q437.6 527.3 439.4 527.4M439.4 527.4Q439.1 529.8 438.8 531.4M439.4 527.4Q441.3 529.1 441.6 532.8M443.6 527.4Q445.6 527.2 446.1 526.4M443.6 527.4Q442.2 529.5 441.6 532.8M446.1 526.4Q448.3 525.7 448.8 526.3M446.1 526.4Q445.2 527.4 446.3 530.1M446.1 526.4Q447.4 529.0 450.4 531.4M448.8 526.3Q450.5 528.0 453.8 529.5M453.8 529.5Q455.0 528.2 457.6 527.5M453.8 529.5Q453.4 531.1 454.8 530.8M453.8 529.5Q455.3 530.1 456.6 531.7M457.6 527.5Q457.6 530.1 456.6 531.7M457.6 527.5Q460.1 529.8 460.8 530.4M461.0 529.1Q463.8 528.1 466.0 526.6M461.0 529.1Q460.3 528.9 460.8 530.4M466.0 526.6Q465.8 530.5 465.5 533.0M414.8 531.0Q414.7 534.5 415.5 535.9M421.8 532.3Q423.8 531.4 426.0 530.2M421.8 532.3Q421.1 534.0 420.5 533.9M428.1 530.0Q430.3 532.5 431.1 533.2M431.1 533.2Q433.1 534.6 433.4 535.7M436.2 530.6Q437.3 530.7 438.8 531.4M436.2 530.6Q435.4 531.2 434.8 533.9M438.8 531.4Q438.3 531.9 437.7 533.7M441.6 532.8Q442.2 534.2 442.2 536.1M441.6 532.8Q445.8 534.1 447.9 534.9M446.3 530.1Q446.9 533.5 447.9 534.9M450.4 531.4Q451.9 531.5 454.8 530.8M454.8 530.8Q456.2 532.9 455.5 533.6M456.6 531.7Q457.5 534.4 458.0 537.1M456.6 531.7Q458.7 532.9 460.5 535.6M460.8 530.4Q464.2 531.5 465.5 533.0M460.8 530.4Q460.1 533.6 460.5 535.6M465.5 533.0Q465.9 534.7 465.8 535.9M415.5 535.9Q415.8 537.2 417.8 536.3M417.8 536.3Q418.7 534.3 420.5 533.9M424.0 535.4Q426.5 534.7 427.6 535.1M427.6 535.1Q429.8 534.6 433.4 535.7M433.4 535.7Q433.1 535.3 434.8 533.9M434.8 533.9Q436.4 534.1 437.7 533.7M437.7 533.7Q439.9 534.7 442.2 536.1M442.2 536.1Q445.1 535.0 447.9 534.9M447.9 534.9Q448.7 534.2 448.7 535.5M448.7 535.5Q451.8 533.7 455.5 533.6M455.5 533.6Q457.1 536.0 458.0 537.1M458.0 537.1Q458.8 536.0 460.5 535.6M460.5 535.6Q462.7 535.9 465.8 535.9" stroke="#b47644" stroke-width="0.9" opacity="0.4" fill="none" stroke-linecap="round"/><path d="M419.7 486.3h0M425.7 484.8h0M433.2 487.0h0M440.2 484.3h0M445.8 487.6h0M451.0 484.4h0M454.9 486.8h0M462.0 485.3h0M415.7 489.4h0M423.5 490.0h0M426.4 489.6h0M435.6 493.9h0M440.2 490.7h0M443.5 493.2h0M453.1 491.6h0M454.6 493.0h0M464.6 492.2h0M418.2 498.7h0M424.5 495.3h0M428.5 497.3h0M437.5 498.3h0M443.3 497.4h0M450.7 498.0h0M455.8 494.8h0M459.6 499.8h0M419.1 500.6h0M428.8 502.4h0M430.5 504.2h0M438.1 502.8h0M445.6 503.5h0M449.6 505.6h0M452.9 504.8h0M461.5 503.6h0M418.7 510.6h0M425.2 511.0h0M429.2 509.2h0M436.3 510.1h0M441.0 507.5h0M450.7 507.8h0M451.9 510.2h0M461.1 506.2h0M416.6 515.7h0M425.8 516.6h0M426.9 512.3h0M433.6 512.3h0M440.2 515.8h0M446.6 515.7h0M451.7 514.3h0M456.8 515.7h0M418.3 517.9h0M426.5 517.9h0M428.8 520.7h0M437.0 521.4h0M441.2 519.5h0M449.3 520.0h0M455.6 521.6h0M461.5 519.7h0M418.2 525.4h0M422.6 524.5h0M431.4 524.0h0M436.6 525.9h0M439.9 526.5h0M446.2 525.7h0M450.5 528.4h0M457.9 528.4h0M420.1 530.8h0M424.5 530.5h0M430.1 531.7h0M437.3 531.9h0M440.2 531.1h0M447.7 534.0h0M450.6 529.2h0M458.7 529.8h0" stroke="#ecdacc" stroke-width="2.2" stroke-linecap="round" opacity="0.5" fill="none"/><path d="M450.6 508.1l3.4 6.0M441.1 498.8l6.4 7.6M432.3 524.8l-1.8 6.1M433.3 490.4l-3.9 5.1M422.9 528.8l-5.8 1.8" stroke="#f4ece4" stroke-width="1.6" stroke-linecap="round" opacity="0.6" fill="none"/><path d="M419.0 486.9l-0.1 0.2M422.3 485.5l-0.2 0.1M424.6 485.7l0.2 0.4M427.4 485.5l-0.2 -0.4M432.7 487.0l-0.3 0.4M435.7 486.9l-0.0 -0.3M437.1 485.9l-0.2 -0.5M440.8 484.4l0.4 -0.3M446.0 484.4l0.3 0.2M449.2 485.7l0.2 -0.4M450.7 484.9l0.2 0.1M453.7 487.4l0.0 0.4M458.2 486.4l-0.2 0.1M463.1 486.5l-0.3 0.1M415.1 490.2l-0.2 -0.3M418.5 488.3l0.3 -0.3M424.2 488.8l0.1 0.3M426.3 489.7l0.1 -0.1M430.8 488.1l0.1 -0.2M434.3 490.0l0.2 -0.0M434.8 489.4l0.1 0.4M440.5 488.8l0.2 -0.4M443.5 490.1l-0.3 0.4M445.2 490.6l0.5 -0.1M449.8 488.5l0.3 -0.2M454.1 490.3l-0.2 -0.3M456.8 488.5l-0.1 -0.3M458.7 488.5l-0.4 -0.4M463.9 489.8l0.5 -0.0M417.2 491.8l-0.1 0.3M422.5 493.4l-0.1 0.2M425.9 492.8l-0.0 0.2M427.4 492.2l0.5 -0.1M430.3 492.5l0.1 0.3M433.5 492.6l0.4 -0.4M438.5 492.9l-0.0 0.2M442.3 492.7l0.3 -0.3M446.3 492.1l-0.0 -0.1M449.0 491.9l0.1 -0.1M451.2 491.9l-0.3 -0.3M454.1 493.2l-0.3 -0.5M458.8 491.4l0.4 -0.2M462.9 491.9l-0.4 -0.3M417.0 495.7l-0.3 0.1M420.9 494.9l0.2 -0.3M424.8 494.9l-0.3 0.4M428.7 495.3l-0.5 -0.1M430.9 494.6l0.2 0.3M435.5 496.6l0.4 -0.0M438.8 495.0l-0.0 0.3M441.5 495.8l-0.0 0.4M444.9 495.7l-0.1 0.2M447.8 497.2l0.2 -0.2M449.9 495.7l-0.4 -0.3M453.6 494.7l0.3 0.2M459.1 495.9l0.3 0.2M461.7 496.5l-0.3 0.0M417.8 499.1l-0.0 -0.3M419.1 498.5l0.2 0.0M423.3 500.7l-0.5 0.4M428.3 499.9l-0.2 0.3M430.9 498.3l-0.4 -0.1M433.3 498.3l0.1 0.1M438.2 499.2l-0.1 -0.4M440.2 500.6l0.3 -0.3M444.4 499.8l-0.4 -0.4M447.9 500.5l0.0 -0.1M452.5 499.1l0.4 -0.0M454.1 500.7l0.4 -0.3M457.4 500.3l0.4 -0.2M459.8 500.7l0.1 -0.2M416.9 503.5l-0.4 -0.2M420.9 504.0l0.2 0.2M424.3 502.8l-0.2 0.5M428.0 503.8l0.3 0.1M429.9 503.1l0.0 -0.2M434.5 503.1l0.1 0.1M437.8 504.2l0.2 0.1M440.9 501.9l0.3 0.5M443.9 503.6l0.1 -0.3M448.5 503.9l-0.2 0.2M450.0 502.4l-0.3 0.2M453.3 501.7l-0.4 0.3M457.1 503.1l-0.1 -0.4M461.8 503.6l-0.4 0.5M416.5 506.8l-0.2 -0.5M421.9 506.4l0.1 0.2M425.0 505.7l0.3 0.1M427.3 506.6l-0.4 -0.0M430.5 506.7l0.5 0.1M435.3 507.2l0.2 -0.5M437.0 505.9l0.1 0.3M442.9 505.2l0.3 0.1M444.3 505.8l0.3 -0.0M449.8 504.6l-0.2 -0.1M451.0 505.4l-0.2 -0.1M454.8 506.1l0.1 -0.2M457.9 506.5l0.1 0.1M463.4 504.9l-0.3 0.1M418.4 508.8l0.3 0.0M419.6 508.5l-0.3 -0.4M424.8 510.8l0.3 -0.4M426.9 509.8l-0.1 0.0M430.7 508.3l0.1 0.4M433.1 510.6l-0.4 -0.2M437.5 508.2l-0.3 0.3M440.7 508.7l0.3 -0.2M443.5 510.5l0.4 0.2M446.6 510.5l-0.1 0.2M451.7 510.8l-0.2 0.2M455.9 508.1l0.1 0.2M459.2 510.4l0.2 -0.4M461.6 510.5l0.0 -0.3M415.5 513.2l0.5 -0.3M419.0 513.5l0.0 0.1M422.4 513.7l-0.0 0.2M426.7 514.0l0.2 0.4M429.5 514.1l0.4 -0.2M433.4 513.2l-0.3 0.3M434.5 514.2l0.2 0.0M438.9 511.9l-0.5 0.4M442.9 512.5l0.3 -0.1M444.4 512.7l-0.1 0.4M447.9 513.5l-0.3 0.1M452.7 511.5l-0.4 0.1M454.5 513.9l0.3 -0.2M460.2 512.3l-0.1 -0.3M461.6 512.5l0.1 -0.3M416.9 515.4l-0.1 0.1M419.4 514.9l-0.0 0.1M423.6 517.4l-0.3 -0.1M428.0 517.7l-0.2 -0.1M430.9 517.4l0.4 -0.3M435.1 517.1l-0.2 0.5M436.0 515.5l0.4 -0.4M440.9 516.1l-0.2 -0.0M442.5 515.3l0.5 0.3M448.4 515.8l0.2 -0.4M450.6 516.1l-0.3 -0.0M455.1 516.9l0.2 -0.0M458.3 516.1l-0.3 0.3M462.0 516.6l0.1 0.1M415.5 519.9l-0.5 -0.0M419.8 520.6l-0.1 -0.4M424.3 520.7l0.2 0.0M425.1 521.2l-0.5 0.4M429.0 519.8l-0.1 -0.0M434.2 519.8l-0.4 -0.2M437.2 519.5l0.3 -0.0M438.8 520.1l0.3 0.1M444.2 520.0l-0.1 0.1M446.6 520.4l-0.4 0.1M450.8 519.9l-0.0 -0.4M452.3 520.5l-0.3 0.5M455.8 519.5l0.0 -0.1M461.2 518.3l0.2 -0.4M416.9 522.9l0.5 -0.3M420.4 521.8l0.3 -0.3M424.2 523.3l0.2 0.2M427.8 522.8l-0.1 -0.1M431.1 522.8l0.0 -0.4M433.5 522.3l-0.0 -0.3M438.9 523.8l0.5 -0.1M440.5 522.6l-0.3 -0.4M446.4 523.9l0.2 0.2M447.2 521.5l0.1 0.2M452.7 524.5l-0.4 0.4M455.0 522.0l-0.1 0.1M458.9 523.2l0.0 0.4M462.7 522.7l-0.1 0.2M415.3 525.6l0.1 -0.1M419.9 527.4l-0.4 0.3M422.6 525.8l-0.1 0.5M426.5 527.5l-0.1 -0.4M430.5 525.0l0.1 0.3M432.0 525.4l0.0 -0.4M435.2 526.5l-0.3 -0.2M437.9 526.0l0.3 0.2M443.0 525.9l0.4 -0.4M445.2 525.9l0.2 0.1M448.2 525.9l-0.1 0.2M452.7 526.0l0.4 -0.3M457.4 527.5l-0.1 -0.2M460.2 527.6l0.0 -0.1M463.4 526.2l-0.1 -0.2M417.1 529.7l-0.2 0.4M419.0 530.8l-0.3 -0.1M423.6 530.1l0.2 -0.0M426.2 530.1l0.2 -0.0M429.1 530.7l-0.1 -0.0M433.6 529.9l0.3 -0.4M436.8 528.6l0.3 -0.1M441.4 529.0l0.1 -0.2M444.8 528.6l-0.4 -0.1M447.6 531.3l0.2 -0.4M451.7 528.7l0.2 -0.5M453.8 529.5l-0.3 0.4M458.3 530.3l0.2 0.2M460.5 529.4l0.3 -0.4M415.2 533.7l-0.2 0.0M421.2 531.8l-0.3 0.4M424.7 532.2l0.2 -0.4M427.5 531.9l0.4 0.1M429.8 532.4l-0.0 0.2M434.3 534.0l-0.3 0.4M435.9 533.3l-0.2 -0.1M440.1 533.5l-0.1 0.3M443.5 533.8l-0.2 0.4M446.4 533.8l-0.5 -0.1M449.6 534.7l0.2 0.3M453.4 532.0l-0.4 0.3M457.6 532.2l-0.3 0.1M461.1 532.6l0.2 -0.2" stroke="#9692cd" stroke-width="1.5" stroke-linecap="round" opacity="0.7" fill="none"/></g></g><rect x="451.0" y="528.8" width="9.5" height="1.6" fill="#000"/>
<clipPath id="c8"><rect x="467.0" y="486.9" width="46.5" height="45.5"/></clipPath><g clip-path="url(#c8)"><g filter="url(#hb)"><rect x="465.0" y="484.9" width="50.5" height="49.5" fill="#d6b08e"/><circle cx="474.0" cy="493.7" r="9" fill="#f2e8e4" opacity="0.6" filter="url(#bb)"/><circle cx="501.9" cy="502.8" r="8" fill="#f2e8e4" opacity="0.5" filter="url(#bb)"/><circle cx="490.2" cy="521.0" r="10" fill="#b87a48" opacity="0.45" filter="url(#bb)"/><path d="M463.7 485.6Q466.8 483.9 468.5 483.6M468.5 483.6Q471.2 485.3 473.4 484.9M468.5 483.6Q468.1 487.6 469.4 489.5M468.5 483.6Q469.8 486.1 473.5 490.5M473.4 484.9Q475.6 485.6 477.5 484.7M473.4 484.9Q474.6 487.4 473.5 490.5M473.4 484.9Q476.1 487.6 478.0 488.3M477.5 484.7Q478.9 483.6 480.8 483.9M480.8 483.9Q484.1 482.9 486.8 484.2M480.8 483.9Q480.5 485.8 480.2 489.0M480.8 483.9Q484.9 486.3 487.8 487.6M486.8 484.2Q489.7 486.4 490.9 486.1M486.8 484.2Q487.7 484.8 487.8 487.6M490.9 486.1Q494.6 486.3 495.9 486.8M490.9 486.1Q491.9 487.6 491.0 489.7M490.9 486.1Q490.9 486.3 493.0 487.9M497.5 483.8Q500.2 484.7 503.8 485.2M497.5 483.8Q499.5 487.0 499.4 488.8M503.8 485.2Q505.6 485.4 505.7 485.6M503.8 485.2Q502.5 486.3 502.4 489.0M505.7 485.6Q508.1 485.5 512.8 486.3M505.7 485.6Q504.8 486.9 505.3 490.0M512.8 486.3Q513.5 485.7 514.2 484.1M512.8 486.3Q512.2 489.0 511.6 489.2M514.2 484.1Q514.2 487.1 514.7 490.4M514.2 484.1Q516.9 486.2 521.0 489.3M517.5 486.9Q519.0 488.1 521.0 489.3M463.8 490.1Q467.3 489.7 469.4 489.5M463.8 490.1Q464.4 491.3 463.3 491.8M463.8 490.1Q465.3 491.9 467.7 491.5M469.4 489.5Q469.6 489.4 467.7 491.5M469.4 489.5Q471.6 491.8 474.0 493.5M473.5 490.5Q475.4 489.5 478.0 488.3M478.0 488.3Q478.3 489.7 480.2 489.0M478.0 488.3Q477.6 492.9 476.4 495.0M480.2 489.0Q482.1 490.9 482.3 494.5M487.8 487.6Q487.0 489.9 487.3 494.1M491.0 489.7Q491.6 487.9 493.0 487.9M491.0 489.7Q491.4 493.2 490.3 495.3M493.0 487.9Q497.0 488.6 499.4 488.8M493.0 487.9Q491.8 489.9 492.9 494.1M499.4 488.8Q500.4 489.7 502.4 489.0M499.4 488.8Q500.0 492.2 500.2 493.2M502.4 489.0Q503.7 491.1 504.1 492.0M505.3 490.0Q509.4 490.3 511.6 489.2M505.3 490.0Q506.5 490.5 506.6 492.3M514.7 490.4Q517.0 489.2 521.0 489.3M463.3 491.8Q465.1 492.5 467.7 491.5M463.3 491.8Q467.4 494.3 469.4 495.5M467.7 491.5Q471.7 493.2 474.0 493.5M467.7 491.5Q471.8 492.5 473.7 496.0M474.0 493.5Q476.4 495.2 476.4 495.0M474.0 493.5Q474.0 494.8 473.7 496.0M474.0 493.5Q474.6 495.0 476.2 498.5M476.4 495.0Q476.1 496.5 476.2 498.5M482.3 494.5Q485.3 493.3 487.3 494.1M487.3 494.1Q488.8 495.2 490.3 495.3M487.3 494.1Q485.8 495.0 486.1 497.7M490.3 495.3Q492.8 493.7 492.9 494.1M492.9 494.1Q495.5 494.4 500.2 493.2M492.9 494.1Q495.0 496.2 495.5 498.6M492.9 494.1Q495.7 496.3 498.3 497.1M500.2 493.2Q501.9 491.8 504.1 492.0M500.2 493.2Q500.1 493.9 498.3 497.1M504.1 492.0Q505.0 492.0 506.6 492.3M504.1 492.0Q504.3 495.3 503.3 497.4M506.6 492.3Q509.1 492.5 510.8 494.1M506.6 492.3Q505.4 496.6 506.6 499.1M510.8 494.1Q511.4 492.6 513.9 492.6M510.8 494.1Q510.6 494.6 512.9 496.0M513.9 492.6Q516.5 493.6 521.1 492.5M513.9 492.6Q518.2 494.6 521.5 498.5M463.4 499.6Q464.7 498.6 464.1 499.8M463.4 499.6Q468.0 502.4 470.6 503.5M469.4 495.5Q471.6 495.8 473.7 496.0M469.4 495.5Q470.8 498.4 470.6 503.5M469.4 495.5Q472.3 499.1 474.5 502.7M473.7 496.0Q474.1 497.3 476.2 498.5M473.7 496.0Q473.5 498.2 474.5 502.7M476.2 498.5Q480.6 499.0 482.4 497.2M476.2 498.5Q477.0 501.2 479.6 501.8M482.4 497.2Q484.3 500.1 483.6 500.7M486.1 497.7Q488.0 498.0 490.0 495.8M486.1 497.7Q484.7 501.1 484.2 503.1M486.1 497.7Q488.8 499.9 491.0 502.9M490.0 495.8Q491.7 497.7 495.5 498.6M495.5 498.6Q497.2 497.5 498.3 497.1M495.5 498.6Q493.7 499.0 492.8 500.9M498.3 497.1Q500.7 498.2 503.3 497.4M498.3 497.1Q498.0 497.8 499.0 499.9M506.6 499.1Q510.2 497.9 512.9 496.0M506.6 499.1Q506.6 500.8 508.8 502.6M512.9 496.0Q511.5 499.4 510.8 501.3M512.9 496.0Q514.2 498.8 515.5 502.7M514.0 498.7Q518.2 499.7 521.5 498.5M514.0 498.7Q514.0 501.8 515.5 502.7M464.1 499.8Q468.0 500.7 470.6 503.5M464.1 499.8Q464.7 504.1 466.8 507.2M474.5 502.7Q477.6 503.2 479.6 501.8M474.5 502.7Q474.8 502.8 476.2 504.4M479.6 501.8Q482.4 502.4 483.6 500.7M479.6 501.8Q478.0 504.2 476.2 504.4M483.6 500.7Q484.2 502.0 484.2 503.1M483.6 500.7Q482.0 503.5 482.5 505.6M484.2 503.1Q487.3 503.7 491.0 502.9M484.2 503.1Q485.2 505.5 484.3 507.3M484.2 503.1Q487.3 503.5 491.6 504.9M491.0 502.9Q491.9 501.1 492.8 500.9M491.0 502.9Q492.2 504.2 491.6 504.9M492.8 500.9Q495.5 499.3 499.0 499.9M492.8 500.9Q494.3 503.8 495.8 507.1M499.0 499.9Q501.4 501.5 502.1 502.1M499.0 499.9Q499.8 503.2 498.7 504.2M502.1 502.1Q506.4 502.9 508.8 502.6M502.1 502.1Q503.4 504.8 503.7 507.5M508.8 502.6Q510.4 502.6 510.8 501.3M508.8 502.6Q507.5 505.4 508.6 507.8M510.8 501.3Q513.8 502.5 515.5 502.7M510.8 501.3Q509.7 503.7 509.8 507.9M515.5 502.7Q517.6 502.4 521.7 499.6M515.5 502.7Q515.1 505.3 513.7 505.3M521.7 499.6Q520.9 502.7 519.8 506.5M466.8 507.2Q466.1 506.5 467.3 504.9M467.3 504.9Q469.7 504.4 472.4 504.7M467.3 504.9Q468.6 508.8 470.4 511.6M472.4 504.7Q474.5 505.5 476.2 504.4M472.4 504.7Q474.3 506.4 474.1 509.9M476.2 504.4Q475.7 507.6 475.6 510.7M476.2 504.4Q479.8 506.1 483.6 508.8M482.5 505.6Q483.9 505.5 484.3 507.3M482.5 505.6Q482.2 506.3 483.6 508.8M482.5 505.6Q485.6 506.6 488.1 508.1M484.3 507.3Q488.6 506.7 491.6 504.9M484.3 507.3Q486.9 509.5 489.8 511.2M491.6 504.9Q491.3 507.3 489.8 511.2M495.8 507.1Q495.4 508.4 495.3 510.4M498.7 504.2Q498.2 506.5 497.7 509.0M498.7 504.2Q500.4 508.5 501.3 510.7M503.7 507.5Q505.0 508.2 508.6 507.8M503.7 507.5Q502.2 508.4 501.3 510.7M508.6 507.8Q507.8 507.5 505.0 508.5M509.8 507.9Q510.6 505.5 513.7 505.3M513.7 505.3Q516.7 505.4 519.8 506.5M513.7 505.3Q512.6 508.2 513.4 509.8M513.7 505.3Q516.4 507.6 521.4 510.1M519.8 506.5Q521.1 508.0 521.4 510.1M465.1 511.8Q468.4 512.1 470.4 511.6M465.1 511.8Q463.7 511.6 464.0 512.8M470.4 511.6Q472.0 510.8 474.1 509.9M470.4 511.6Q468.5 512.1 469.2 513.2M474.1 509.9Q473.9 510.3 475.6 510.7M474.1 509.9Q472.8 510.8 472.5 512.5M474.1 509.9Q476.4 513.8 478.0 515.5M475.6 510.7Q480.1 508.9 483.6 508.8M475.6 510.7Q477.4 513.0 478.0 515.5M483.6 508.8Q485.4 509.1 488.1 508.1M483.6 508.8Q482.5 513.0 481.8 514.8M483.6 508.8Q484.3 512.6 485.1 516.4M488.1 508.1Q489.0 508.5 489.8 511.2M495.3 510.4Q496.4 510.5 497.7 509.0M495.3 510.4Q494.9 513.0 492.4 515.0M497.7 509.0Q499.0 510.6 501.3 510.7M497.7 509.0Q497.7 512.0 500.2 514.6M501.3 510.7Q502.6 510.4 505.0 508.5M501.3 510.7Q505.1 513.4 509.1 516.4M505.0 508.5Q509.1 508.6 512.1 509.9M505.0 508.5Q505.9 511.8 509.1 516.4M512.1 509.9Q511.6 510.7 513.4 509.8M512.1 509.9Q511.1 511.9 510.1 513.9M513.4 509.8Q518.3 508.8 521.4 510.1M513.4 509.8Q514.8 512.2 516.8 515.8M521.4 510.1Q519.3 512.5 517.6 514.5M464.0 512.8Q463.3 515.9 463.9 516.8M469.2 513.2Q471.5 513.4 472.5 512.5M469.2 513.2Q468.9 517.0 470.0 518.4M472.5 512.5Q475.6 514.8 478.0 515.5M478.0 515.5Q477.8 516.9 476.9 517.5M481.8 514.8Q484.6 516.1 485.1 516.4M481.8 514.8Q483.8 516.3 487.4 517.8M485.1 516.4Q486.6 515.0 489.3 516.1M489.3 516.1Q491.0 515.8 492.4 515.0M489.3 516.1Q491.3 517.9 492.0 519.3M492.4 515.0Q495.9 514.4 500.2 514.6M500.2 514.6Q500.3 515.3 498.1 516.5M501.6 512.9Q504.3 515.7 509.1 516.4M501.6 512.9Q502.1 513.9 503.5 516.7M509.1 516.4Q508.4 518.5 508.8 520.5M510.1 513.9Q510.2 515.8 510.7 516.8M510.1 513.9Q514.0 514.8 517.3 517.5M516.8 515.8Q517.8 514.7 517.6 514.5M516.8 515.8Q517.1 517.2 517.3 517.5M463.9 516.8Q465.9 517.9 470.0 518.4M463.9 516.8Q466.5 519.5 466.6 524.3M463.9 516.8Q465.5 518.3 467.7 522.0M470.0 518.4Q469.6 521.1 467.7 522.0M470.0 518.4Q471.1 519.4 473.1 521.4M472.2 519.6Q473.4 518.8 476.9 517.5M472.2 519.6Q472.7 520.1 473.1 521.4M481.0 517.2Q480.9 520.5 480.7 521.4M481.0 517.2Q481.8 521.4 484.5 524.0M487.4 517.8Q486.1 521.4 484.5 524.0M492.0 519.3Q492.3 519.5 494.6 520.2M492.0 519.3Q491.2 520.0 489.0 523.1M494.6 520.2Q492.8 522.3 492.8 524.0M498.1 516.5Q500.2 516.7 503.5 516.7M498.1 516.5Q498.6 520.2 499.8 524.6M498.1 516.5Q498.8 519.2 500.9 523.4M503.5 516.7Q501.8 519.8 500.9 523.4M508.8 520.5Q510.0 519.2 510.7 516.8M508.8 520.5Q508.6 520.2 508.0 522.0M508.8 520.5Q510.2 520.7 512.0 522.0M510.7 516.8Q514.9 517.6 517.3 517.5M510.7 516.8Q511.9 518.9 512.0 522.0M517.3 517.5Q519.1 519.2 521.6 518.4M517.3 517.5Q517.1 520.1 515.8 524.2M466.6 524.3Q467.1 523.5 467.7 522.0M467.7 522.0Q470.2 522.1 473.1 521.4M467.7 522.0Q467.6 524.4 468.1 526.8M473.1 521.4Q476.8 522.0 479.4 521.5M473.1 521.4Q472.3 524.7 473.1 526.3M479.4 521.5Q479.2 524.4 477.7 525.3M480.7 521.4Q482.3 523.4 481.7 527.6M480.7 521.4Q484.1 525.3 487.5 526.9M484.5 524.0Q486.3 525.6 487.5 526.9M489.0 523.1Q490.5 523.4 492.8 524.0M492.8 524.0Q496.0 525.2 499.8 524.6M492.8 524.0Q492.2 523.5 493.1 525.4M499.8 524.6Q499.8 523.4 500.9 523.4M499.8 524.6Q498.1 525.1 497.8 526.4M500.9 523.4Q502.4 526.7 504.7 528.0M508.0 522.0Q509.0 521.3 512.0 522.0M508.0 522.0Q507.6 523.2 508.8 526.9M508.0 522.0Q509.3 525.7 509.9 527.2M512.0 522.0Q514.2 522.7 515.8 524.2M512.0 522.0Q512.9 525.2 516.2 529.0M521.0 522.0Q519.7 525.0 518.5 528.0M464.0 528.8Q466.5 530.0 466.9 530.7M468.1 526.8Q470.0 526.3 473.1 526.3M473.1 526.3Q475.4 524.8 477.7 525.3M477.7 525.3Q480.8 526.7 481.7 527.6M477.7 525.3Q481.7 530.2 483.2 532.6M481.7 527.6Q485.8 528.3 487.5 526.9M481.7 527.6Q483.5 530.4 483.2 532.6M481.7 527.6Q482.2 531.1 484.2 532.7M487.5 526.9Q488.5 527.3 489.1 526.0M487.5 526.9Q486.6 530.1 484.2 532.7M489.1 526.0Q490.8 525.0 493.1 525.4M489.1 526.0Q490.6 530.6 491.1 533.0M493.1 525.4Q496.7 524.9 497.8 526.4M497.8 526.4Q501.9 528.2 504.7 528.0M497.8 526.4Q498.2 526.9 500.1 529.8M497.8 526.4Q501.8 530.1 504.8 531.8M504.7 528.0Q505.9 527.8 508.8 526.9M508.8 526.9Q508.3 526.3 509.9 527.2M508.8 526.9Q508.5 528.6 508.3 531.3M508.8 526.9Q511.3 528.9 511.5 530.0M509.9 527.2Q513.3 527.5 516.2 529.0M509.9 527.2Q511.5 529.7 511.5 530.0M516.2 529.0Q515.3 530.3 516.7 531.2M466.9 530.7Q467.1 530.5 469.3 529.5M466.9 530.7Q466.8 532.6 465.3 535.0M469.3 529.5Q469.1 531.6 470.5 535.0M469.3 529.5Q471.7 532.6 474.1 535.5M474.1 529.2Q473.8 531.5 474.1 535.5M478.8 532.2Q477.1 533.6 477.0 534.7M478.8 532.2Q481.6 533.9 482.2 534.0M483.2 532.6Q483.6 532.9 484.2 532.7M483.2 532.6Q485.0 533.6 484.6 534.5M484.2 532.7Q487.5 533.8 491.1 533.0M484.2 532.7Q485.2 533.4 484.6 534.5M491.1 533.0Q494.7 531.0 496.1 531.0M491.1 533.0Q491.3 532.8 491.1 534.0M496.1 531.0Q495.7 533.8 495.5 534.6M496.1 531.0Q498.8 532.5 500.5 533.7M500.1 529.8Q503.4 529.8 504.8 531.8M500.1 529.8Q499.1 533.0 500.5 533.7M504.8 531.8Q505.6 530.8 508.3 531.3M504.8 531.8Q503.5 533.9 504.3 536.7M504.8 531.8Q507.0 533.3 508.4 535.8M508.3 531.3Q510.4 531.4 511.5 530.0M508.3 531.3Q508.6 533.3 508.4 535.8M511.5 530.0Q513.9 531.3 516.7 531.2M511.5 530.0Q510.0 534.4 510.3 537.2M516.7 531.2Q518.2 532.0 518.4 532.2M516.7 531.2Q516.7 531.8 519.2 533.5M470.5 535.0Q472.5 534.9 474.1 535.5M474.1 535.5Q475.7 535.3 477.0 534.7M477.0 534.7Q480.0 534.9 482.2 534.0M495.5 534.6Q499.3 533.1 500.5 533.7M508.4 535.8Q508.7 536.9 510.3 537.2M510.3 537.2Q512.1 537.7 514.2 536.2M514.2 536.2Q517.4 533.9 519.2 533.5" stroke="#ac6e38" stroke-width="1.0" opacity="0.5" fill="none" stroke-linecap="round"/><path d="M466.0 488.2h0M472.4 483.6h0M477.9 488.1h0M481.6 485.5h0M488.3 484.9h0M492.2 484.9h0M499.6 485.0h0M501.8 486.4h0M507.9 487.9h0M512.4 487.5h0M464.9 490.8h0M470.4 491.6h0M474.1 492.0h0M480.8 490.4h0M488.7 491.0h0M490.0 492.6h0M497.2 489.3h0M500.8 489.9h0M508.1 489.6h0M512.2 492.9h0M465.5 496.7h0M471.2 496.2h0M476.5 494.5h0M481.0 494.6h0M486.9 496.5h0M490.6 493.9h0M496.9 495.8h0M503.2 497.3h0M506.2 496.1h0M511.7 496.4h0M467.4 502.2h0M474.5 501.5h0M479.6 500.5h0M481.6 499.5h0M489.4 501.4h0M495.2 502.2h0M500.4 502.7h0M502.1 503.0h0M506.8 502.7h0M512.3 499.6h0M472.0 506.2h0M477.1 508.3h0M482.2 506.3h0M486.8 507.5h0M489.3 506.1h0M497.0 505.1h0M499.4 505.7h0M507.2 507.5h0M511.6 505.8h0M468.5 511.7h0M475.3 510.9h0M480.7 511.7h0M487.1 511.1h0M491.8 509.6h0M495.9 511.4h0M502.8 512.7h0M506.5 510.3h0M513.3 509.7h0M467.3 515.3h0M471.8 516.0h0M475.4 514.3h0M481.2 515.0h0M486.6 517.4h0M493.6 517.2h0M496.4 514.4h0M502.5 517.3h0M508.8 516.5h0M513.8 515.9h0M468.6 521.0h0M474.5 522.0h0M478.8 520.5h0M482.6 519.1h0M488.5 521.5h0M492.3 520.0h0M499.7 521.7h0M504.1 522.4h0M510.8 521.4h0M515.9 519.9h0M469.3 525.4h0M474.4 525.7h0M480.8 524.6h0M483.2 524.7h0M490.7 525.1h0M494.9 526.8h0M498.3 526.6h0M503.8 528.1h0M510.5 526.6h0M471.0 532.1h0M475.3 531.5h0M479.7 532.2h0M483.1 531.2h0M491.3 532.6h0M494.4 531.1h0M500.4 531.2h0M506.1 530.6h0M507.7 531.3h0" stroke="#f2eae4" stroke-width="2.4" stroke-linecap="round" opacity="0.6" fill="none"/><path d="M512.8 516.1l0.2 5.0M472.5 501.5l-4.2 1.4M497.0 490.1l-5.7 1.7M476.5 502.0l6.4 5.3M475.8 509.2l5.3 0.6M471.6 517.9l5.0 2.4M476.1 519.8l-8.2 0.7M510.4 485.7l1.1 6.9M490.9 531.3l4.0 3.9M504.3 494.1l-9.1 0.9" stroke="#f8f2ee" stroke-width="2.2" stroke-linecap="round" opacity="0.75" fill="none"/><path d="M465.6 486.5l0.2 0.0M470.7 484.9l0.4 -0.2M474.7 485.8l-0.3 -0.1M478.3 486.0l0.4 0.3M480.9 485.1l-0.0 -0.4M484.3 485.2l-0.4 0.1M487.1 485.2l0.4 0.4M491.7 487.3l-0.5 0.3M494.7 487.4l0.4 -0.2M500.9 487.5l0.1 -0.4M504.2 486.3l-0.3 -0.1M505.7 487.4l-0.0 -0.1M510.0 486.9l-0.4 -0.3M467.4 491.1l0.1 0.1M472.6 489.8l-0.5 -0.4M475.4 489.5l0.1 -0.0M480.1 490.7l0.4 0.4M481.9 490.2l-0.1 0.5M485.4 488.1l0.3 0.1M489.7 489.4l0.3 0.2M494.9 488.0l0.1 0.4M495.9 490.8l0.4 0.2M501.8 490.6l0.2 0.3M504.6 488.9l-0.0 -0.4M508.1 490.8l0.2 -0.1M513.4 490.7l0.1 -0.3M466.7 493.7l0.2 -0.4M472.5 492.7l-0.1 -0.4M476.1 493.9l0.1 -0.1M480.9 491.7l-0.2 0.2M482.5 492.0l-0.4 -0.2M485.4 492.7l0.2 -0.2M491.1 494.5l0.1 -0.4M493.0 492.9l-0.0 0.3M496.1 492.9l0.2 0.1M500.2 493.7l0.1 -0.2M505.9 493.8l-0.5 0.3M508.2 494.8l-0.1 0.4M513.0 492.6l0.3 0.4M465.4 496.5l-0.2 -0.3M469.8 495.6l0.2 -0.3M471.7 495.5l-0.5 0.2M478.3 495.5l-0.4 -0.1M482.3 497.4l0.0 -0.5M482.8 498.5l0.3 0.1M486.5 496.5l-0.4 0.0M491.6 495.5l0.3 0.3M495.4 496.5l0.5 0.2M498.4 497.3l-0.4 -0.2M503.0 498.5l-0.2 -0.3M505.9 496.6l-0.1 0.1M510.3 496.3l-0.1 -0.4M514.6 496.4l-0.0 -0.2M468.1 501.0l-0.2 -0.3M471.6 501.2l-0.0 -0.4M474.6 499.6l0.2 0.4M479.3 502.0l-0.4 -0.0M481.0 501.0l-0.0 -0.3M483.6 499.1l0.3 0.5M490.3 501.8l0.3 0.0M491.2 499.9l-0.3 0.5M497.3 501.9l0.2 -0.2M498.7 500.6l0.0 0.5M505.2 501.8l-0.2 0.4M506.3 499.6l-0.3 0.3M509.4 499.8l0.3 -0.2M466.9 504.3l-0.2 0.1M472.3 502.8l-0.4 -0.1M474.7 504.0l0.1 0.4M479.4 504.1l-0.2 0.2M481.4 503.0l0.4 -0.4M486.3 504.4l-0.2 0.5M490.8 504.1l0.5 -0.3M495.3 505.1l-0.2 -0.4M496.9 504.6l0.3 -0.2M500.2 505.8l0.2 -0.2M503.1 503.8l-0.3 0.4M506.8 505.8l0.4 0.0M510.7 505.7l-0.3 0.3M467.7 507.2l-0.5 -0.4M471.1 507.4l-0.1 -0.4M475.2 507.1l0.1 0.1M476.8 507.3l-0.1 -0.1M479.9 507.1l0.3 0.4M483.3 506.7l-0.2 -0.3M487.3 506.5l-0.3 0.0M491.7 509.4l0.3 0.5M495.8 509.5l0.4 -0.2M499.8 506.5l0.5 -0.1M502.9 509.4l-0.2 0.1M506.0 507.5l0.2 -0.4M512.2 507.3l-0.1 0.1M512.6 509.2l0.1 0.2M470.4 510.4l-0.4 -0.1M472.8 513.0l0.0 0.1M476.5 511.1l-0.1 -0.4M479.9 510.7l0.1 -0.0M484.1 513.1l0.2 -0.2M487.6 511.7l-0.5 -0.3M492.7 512.4l0.1 0.0M494.6 512.3l0.3 0.2M498.4 510.7l0.4 0.1M503.7 510.3l-0.1 0.4M505.4 512.6l0.0 -0.2M511.5 510.1l0.3 -0.2M515.2 513.0l-0.3 0.3M466.6 516.6l-0.5 0.1M468.8 515.3l0.1 -0.1M473.1 514.2l-0.4 0.0M478.2 514.5l-0.5 -0.2M481.8 515.7l0.2 0.0M484.7 514.5l-0.5 0.2M489.5 513.9l-0.5 0.0M490.8 514.7l0.2 -0.2M495.5 515.0l-0.0 0.1M499.6 515.4l-0.1 0.5M503.0 515.2l-0.3 -0.0M507.8 514.8l0.1 0.2M509.5 514.4l-0.3 -0.2M512.9 514.2l0.1 -0.3M468.6 520.2l0.0 -0.5M471.1 520.4l-0.4 0.2M474.2 520.4l-0.3 -0.3M477.2 520.6l0.2 -0.5M483.5 519.7l-0.3 0.1M486.8 517.8l0.1 0.4M488.5 518.8l0.4 0.5M493.4 518.6l-0.4 -0.5M497.2 518.8l0.2 -0.5M499.6 520.1l-0.0 0.3M504.2 520.4l-0.0 -0.1M509.2 520.3l-0.1 0.3M510.8 519.9l-0.2 0.5M467.8 523.7l0.2 0.4M471.1 522.8l-0.2 0.2M474.3 522.4l-0.0 0.1M478.5 522.1l0.2 -0.1M484.2 522.4l-0.4 0.3M485.6 524.2l-0.2 0.4M489.0 522.6l-0.5 0.3M492.5 523.3l-0.1 0.2M498.9 522.3l-0.4 -0.4M502.4 523.8l0.2 0.2M504.0 522.1l-0.3 -0.5M507.7 521.7l-0.2 0.4M512.6 521.4l-0.2 -0.2M468.0 527.2l-0.5 -0.4M472.0 527.4l0.4 0.0M476.2 526.6l-0.2 -0.2M477.9 527.5l0.3 0.3M483.2 526.4l-0.2 -0.3M485.1 527.3l-0.1 0.5M490.8 526.2l-0.5 -0.2M493.7 527.7l-0.3 0.1M498.0 525.1l-0.2 0.3M500.1 526.3l-0.1 0.2M503.7 526.4l-0.5 0.2M507.3 527.4l-0.1 0.2M511.1 525.2l0.4 -0.0M469.2 528.8l-0.2 -0.4M473.0 531.0l-0.1 0.1M477.8 528.6l0.0 -0.2M479.4 531.2l0.4 0.4M484.2 529.2l0.1 0.2M488.6 528.6l-0.3 -0.3M492.0 530.9l0.2 -0.4M495.0 530.0l-0.2 -0.0M498.8 531.2l-0.4 0.1M501.6 530.4l0.5 -0.1M507.2 530.9l0.2 0.2M509.1 528.8l0.4 -0.1M512.8 529.2l-0.0 -0.5" stroke="#9b96d2" stroke-width="1.5" stroke-linecap="round" opacity="0.7" fill="none"/></g></g><rect x="501.0" y="528.8" width="11.0" height="1.6" fill="#000"/>
<text x="352.60" y="553.70" font-size="7.3" text-anchor="middle">PDX, LAT015_6B</text>
<text x="321.00" y="564.40" font-size="7.3" text-anchor="middle">c-MET</text>
<text x="373.80" y="564.40" font-size="7.3" text-anchor="middle">Phospho-MET</text>
<clipPath id="c9"><rect x="296.3" y="567.7" width="47.9" height="49.5"/></clipPath><g clip-path="url(#c9)"><g filter="url(#hb)"><rect x="294.3" y="565.7" width="51.9" height="53.5" fill="#e6ceb8"/><path d="M295.0 566.8Q296.9 566.8 298.4 565.7M295.0 566.8Q295.4 568.0 294.9 568.9M295.0 566.8Q297.5 569.7 300.0 571.0M298.4 565.7Q300.8 566.6 301.9 567.7M298.4 565.7Q298.5 568.4 300.0 571.0M301.9 567.7Q302.3 570.5 303.5 571.5M301.9 567.7Q303.4 569.7 305.2 569.9M305.5 564.3Q306.0 568.2 305.2 569.9M313.6 564.8Q312.8 567.3 313.9 568.3M316.7 565.0Q319.8 564.6 321.5 566.0M321.5 566.0Q322.8 565.6 325.1 564.0M325.1 564.0Q327.5 565.6 329.1 565.9M325.1 564.0Q326.3 567.1 326.1 569.6M329.1 565.9Q331.8 567.2 333.9 566.6M329.1 565.9Q330.0 567.8 328.8 569.6M333.9 566.6Q336.0 565.6 339.5 565.4M333.9 566.6Q334.6 568.1 334.3 569.2M339.5 565.4Q339.9 567.2 340.7 566.6M339.5 565.4Q338.9 568.4 339.9 571.2M339.5 565.4Q342.4 567.0 343.9 568.7M340.7 566.6Q344.5 566.1 347.3 565.3M340.7 566.6Q343.3 566.7 343.9 568.7M340.7 566.6Q341.9 568.8 344.4 569.2M347.3 565.3Q346.2 566.9 344.4 569.2M294.9 568.9Q296.7 570.2 300.0 571.0M294.9 568.9Q294.9 572.4 292.8 574.5M294.9 568.9Q297.2 569.7 297.4 572.2M300.0 571.0Q302.5 571.3 303.5 571.5M300.0 571.0Q298.3 571.8 297.4 572.2M303.5 571.5Q304.3 570.7 305.2 569.9M305.2 569.9Q307.2 570.1 311.2 570.9M305.2 569.9Q305.9 570.7 307.2 573.5M311.2 570.9Q311.9 569.5 313.9 568.3M311.2 570.9Q310.4 571.7 309.5 574.4M311.2 570.9Q310.9 572.2 312.5 572.5M313.9 568.3Q315.8 567.2 318.8 568.1M318.8 568.1Q321.6 567.5 323.1 567.7M318.8 568.1Q319.9 569.5 320.7 572.0M323.1 567.7Q321.9 569.8 320.7 572.0M326.1 569.6Q326.7 570.0 328.8 569.6M326.1 569.6Q326.5 571.8 326.3 574.3M328.8 569.6Q330.5 568.7 334.3 569.2M334.3 569.2Q338.1 569.7 339.9 571.2M334.3 569.2Q333.5 570.7 333.4 572.0M334.3 569.2Q334.9 572.1 337.0 572.8M339.9 571.2Q337.6 571.3 337.0 572.8M339.9 571.2Q342.2 571.5 342.2 572.1M343.9 568.7Q343.9 569.1 344.4 569.2M343.9 568.7Q342.5 569.5 342.2 572.1M343.9 568.7Q345.3 572.6 346.8 575.2M344.4 569.2Q344.7 571.3 346.8 575.2M292.8 574.5Q296.8 575.9 298.9 578.2M297.4 572.2Q299.4 572.1 301.4 573.3M301.4 573.3Q303.9 573.0 307.2 573.5M301.4 573.3Q300.6 575.5 300.3 577.2M307.2 573.5Q309.2 574.3 309.5 574.4M307.2 573.5Q306.6 576.1 306.9 579.5M307.2 573.5Q310.4 574.8 312.0 578.0M309.5 574.4Q311.1 574.0 312.5 572.5M309.5 574.4Q310.1 576.4 312.0 578.0M312.5 572.5Q316.3 573.2 319.0 574.7M312.5 572.5Q313.8 576.1 314.7 579.5M312.5 572.5Q314.1 576.0 317.1 577.7M319.0 574.7Q318.7 574.4 320.7 572.0M319.0 574.7Q318.6 575.8 317.1 577.7M319.0 574.7Q320.0 576.2 320.5 578.8M320.7 572.0Q319.7 576.2 320.5 578.8M320.7 572.0Q322.6 574.3 326.9 576.5M326.3 574.3Q326.8 574.0 328.4 573.4M326.3 574.3Q325.6 574.4 326.9 576.5M328.4 573.4Q330.7 573.0 333.4 572.0M328.4 573.4Q329.9 574.8 329.1 577.8M333.4 572.0Q334.2 573.6 337.0 572.8M333.4 572.0Q334.9 573.1 335.3 576.2M337.0 572.8Q336.6 576.3 337.6 577.8M342.2 572.1Q344.5 574.0 346.8 575.2M342.2 572.1Q341.8 575.8 341.3 579.2M342.2 572.1Q344.5 575.2 347.2 579.5M295.0 576.0Q296.8 576.6 298.9 578.2M295.0 576.0Q296.1 578.7 294.9 582.4M298.9 578.2Q299.5 577.8 300.3 577.2M298.9 578.2Q298.2 580.1 297.4 581.7M306.9 579.5Q310.2 579.8 312.0 578.0M306.9 579.5Q305.1 581.8 304.5 583.1M312.0 578.0Q313.8 577.9 314.7 579.5M312.0 578.0Q310.1 579.3 308.9 581.5M312.0 578.0Q313.9 579.1 316.0 581.8M314.7 579.5Q316.5 577.6 317.1 577.7M317.1 577.7Q318.9 579.4 320.5 578.8M320.5 578.8Q322.5 576.7 326.9 576.5M320.5 578.8Q322.0 579.5 322.2 581.2M326.9 576.5Q327.1 576.3 329.1 577.8M326.9 576.5Q327.3 578.4 325.6 581.2M326.9 576.5Q328.6 578.6 330.1 583.1M329.1 577.8Q331.6 576.5 335.3 576.2M329.1 577.8Q329.5 580.3 330.1 583.1M329.1 577.8Q331.8 577.8 336.2 580.1M335.3 576.2Q335.8 576.8 337.6 577.8M335.3 576.2Q336.6 579.0 336.2 580.1M337.6 577.8Q338.4 579.3 341.3 579.2M337.6 577.8Q338.2 580.7 339.0 581.8M341.3 579.2Q343.8 579.9 347.2 579.5M347.2 579.5Q346.7 580.1 345.7 581.0M297.4 581.7Q300.2 580.8 302.0 581.6M297.4 581.7Q297.6 583.2 297.8 584.9M302.0 581.6Q303.1 583.3 304.5 583.1M302.0 581.6Q304.0 585.4 305.9 587.6M304.5 583.1Q304.3 585.0 305.9 587.6M304.5 583.1Q307.9 584.3 309.0 586.4M308.9 581.5Q311.6 580.5 316.0 581.8M308.9 581.5Q312.3 584.8 314.5 586.5M316.0 581.8Q317.9 580.1 319.8 580.7M316.0 581.8Q314.7 584.1 314.5 586.5M319.8 580.7Q320.8 581.4 322.2 581.2M319.8 580.7Q319.5 583.5 318.4 587.2M322.2 581.2Q323.5 580.7 325.6 581.2M322.2 581.2Q321.2 582.6 322.7 583.9M325.6 581.2Q327.8 583.2 330.1 583.1M325.6 581.2Q326.1 584.6 327.0 586.2M330.1 583.1Q332.9 581.7 336.2 580.1M330.1 583.1Q330.4 585.6 329.3 586.6M336.2 580.1Q336.4 580.9 339.0 581.8M336.2 580.1Q336.2 581.5 335.6 584.8M336.2 580.1Q337.0 581.4 336.9 584.9M339.0 581.8Q340.6 580.2 342.0 579.9M339.0 581.8Q338.4 583.5 336.9 584.9M342.0 579.9Q343.3 579.7 345.7 581.0M345.7 581.0Q344.5 582.6 344.6 585.5M293.8 586.1Q295.2 585.3 297.8 584.9M293.8 586.1Q294.6 588.1 294.5 590.0M293.8 586.1Q295.2 589.0 297.7 590.8M297.8 584.9Q299.1 587.4 301.4 587.6M297.8 584.9Q298.5 588.8 297.7 590.8M301.4 587.6Q301.5 588.8 303.0 588.7M305.9 587.6Q306.9 587.9 309.0 586.4M305.9 587.6Q305.9 590.5 305.7 591.4M309.0 586.4Q311.4 587.1 314.5 586.5M314.5 586.5Q317.6 588.1 318.4 587.2M314.5 586.5Q313.1 587.4 313.5 590.0M318.4 587.2Q321.6 584.5 322.7 583.9M318.4 587.2Q319.4 586.5 319.5 588.2M322.7 583.9Q325.4 584.8 327.0 586.2M322.7 583.9Q321.8 585.2 321.1 588.0M327.0 586.2Q328.6 586.6 329.3 586.6M329.3 586.6Q333.3 586.4 335.6 584.8M329.3 586.6Q329.3 588.1 330.3 591.5M335.6 584.8Q335.3 585.9 336.9 584.9M335.6 584.8Q334.2 586.9 334.1 589.8M336.9 584.9Q339.3 585.4 342.7 585.5M336.9 584.9Q335.9 587.1 336.4 588.6M342.7 585.5Q343.8 586.1 344.6 585.5M342.7 585.5Q344.1 586.7 347.5 589.4M344.6 585.5Q345.0 587.1 347.5 589.4M294.5 590.0Q293.8 593.1 292.8 593.8M294.5 590.0Q294.8 591.2 296.9 592.4M297.7 590.8Q299.8 590.4 303.0 588.7M297.7 590.8Q297.1 591.7 296.9 592.4M303.0 588.7Q304.5 591.1 305.7 591.4M305.7 591.4Q307.8 590.4 309.2 589.5M305.7 591.4Q307.5 591.5 307.3 593.5M313.5 590.0Q316.5 588.4 319.5 588.2M313.5 590.0Q314.5 592.9 316.1 594.7M319.5 588.2Q319.5 587.0 321.1 588.0M319.5 588.2Q320.8 591.0 319.7 595.5M321.1 588.0Q323.3 589.1 324.8 589.8M321.1 588.0Q320.1 590.7 321.4 593.6M330.3 591.5Q332.9 590.6 334.1 589.8M336.4 588.6Q339.0 588.8 341.5 588.7M341.5 588.7Q344.9 588.8 347.5 589.4M347.5 589.4Q348.2 593.2 348.0 595.6M292.8 593.8Q295.9 594.0 296.9 592.4M292.8 593.8Q294.3 594.5 293.3 596.4M296.9 592.4Q300.4 592.0 302.7 592.0M296.9 592.4Q296.6 594.9 296.6 599.4M302.7 592.0Q305.9 593.4 307.3 593.5M302.7 592.0Q300.7 594.1 300.4 596.0M307.3 593.5Q307.6 596.8 307.0 599.5M307.3 593.5Q309.2 594.1 310.4 596.0M308.6 594.4Q312.6 594.5 316.1 594.7M308.6 594.4Q309.3 595.7 310.4 596.0M308.6 594.4Q310.3 597.8 312.4 599.0M316.1 594.7Q318.4 594.9 319.7 595.5M316.1 594.7Q315.4 596.6 312.4 599.0M316.1 594.7Q316.8 594.7 319.1 596.9M319.7 595.5Q321.5 595.3 321.4 593.6M319.7 595.5Q322.6 596.0 324.2 596.8M321.4 593.6Q324.9 593.0 327.3 593.3M321.4 593.6Q323.0 594.5 324.2 596.8M321.4 593.6Q322.3 596.6 324.9 599.6M327.3 593.3Q329.2 593.5 332.2 593.4M327.3 593.3Q327.2 596.6 324.9 599.6M332.2 593.4Q332.0 593.8 332.4 592.1M332.4 592.1Q334.9 591.4 338.0 591.8M332.4 592.1Q332.6 595.0 333.0 598.3M338.0 591.8Q339.2 593.2 342.7 595.7M342.7 595.7Q346.3 595.2 348.0 595.6M348.0 595.6Q348.7 596.7 348.2 598.8M293.3 596.4Q295.7 598.1 296.6 599.4M296.6 599.4Q299.6 600.6 301.6 600.5M300.4 596.0Q303.9 598.0 307.0 599.5M300.4 596.0Q300.0 597.5 301.6 600.5M307.0 599.5Q309.8 597.9 310.4 596.0M310.4 596.0Q312.0 599.3 312.3 602.9M312.4 599.0Q316.1 597.9 319.1 596.9M312.4 599.0Q312.7 600.5 313.2 602.1M319.1 596.9Q322.6 597.6 324.2 596.8M319.1 596.9Q317.0 598.4 317.0 600.4M324.2 596.8Q325.1 598.5 324.9 599.6M324.9 599.6Q327.4 598.2 328.5 597.2M324.9 599.6Q325.2 602.2 324.6 603.4M324.9 599.6Q326.8 600.6 329.3 600.4M328.5 597.2Q329.6 597.6 329.3 600.4M333.0 598.3Q336.0 597.9 338.3 596.7M333.0 598.3Q334.3 600.2 334.3 603.3M338.3 596.7Q339.6 596.3 342.8 596.1M338.3 596.7Q339.2 598.9 338.0 601.8M342.8 596.1Q345.1 597.4 348.2 598.8M348.2 598.8Q346.0 599.5 345.7 600.5M293.1 602.1Q295.8 602.8 297.4 602.0M293.1 602.1Q294.9 605.0 294.4 606.2M297.4 602.0Q299.5 602.1 301.6 600.5M297.4 602.0Q297.7 602.5 298.7 604.5M301.6 600.5Q301.8 604.7 300.3 607.6M306.3 600.0Q308.4 601.4 312.3 602.9M306.3 600.0Q308.1 601.6 311.7 605.4M312.3 602.9Q313.5 602.8 313.2 602.1M312.3 602.9Q312.9 603.1 311.7 605.4M313.2 602.1Q316.3 600.6 317.0 600.4M313.2 602.1Q312.1 604.4 313.0 607.6M321.8 602.6Q322.4 603.6 324.6 603.4M324.6 603.4Q323.7 604.2 324.4 606.0M329.3 600.4Q331.9 602.7 334.3 603.3M329.3 600.4Q330.3 603.3 330.9 605.5M334.3 603.3Q337.0 602.8 338.0 601.8M334.3 603.3Q334.8 605.8 333.3 607.2M338.0 601.8Q338.6 602.4 339.0 604.8M344.2 601.8Q344.8 600.4 345.7 600.5M344.2 601.8Q343.0 603.6 343.4 607.3M345.7 600.5Q344.8 602.2 345.9 606.0M294.4 606.2Q294.5 607.7 292.7 608.2M298.7 604.5Q300.6 607.1 300.3 607.6M298.7 604.5Q299.7 608.4 299.7 611.5M300.3 607.6Q301.5 608.0 304.0 608.3M300.3 607.6Q302.7 607.7 307.1 609.3M307.1 607.1Q309.1 606.4 311.7 605.4M307.1 607.1Q307.3 608.2 307.1 609.3M311.7 605.4Q310.6 608.4 309.2 611.3M313.0 607.6Q313.1 609.0 312.7 608.0M319.9 604.0Q321.1 605.1 322.8 605.7M322.8 605.7Q323.7 606.0 324.4 606.0M322.8 605.7Q322.1 608.8 321.9 610.2M322.8 605.7Q325.4 607.7 326.4 611.4M324.4 606.0Q324.5 608.0 326.4 611.4M330.9 605.5Q331.7 607.8 334.5 607.8M333.3 607.2Q335.6 605.0 339.0 604.8M333.3 607.2Q334.7 607.5 334.5 607.8M339.0 604.8Q341.3 606.7 343.4 607.3M339.0 604.8Q339.8 607.8 338.9 608.3M343.4 607.3Q343.4 607.4 342.2 609.5M292.7 608.2Q296.7 610.9 299.7 611.5M292.7 608.2Q292.1 611.4 293.4 613.0M299.7 611.5Q302.6 609.4 304.0 608.3M299.7 611.5Q299.5 613.5 298.4 613.2M299.7 611.5Q303.0 614.4 304.2 615.4M304.0 608.3Q305.5 608.7 307.1 609.3M304.0 608.3Q304.9 612.0 304.2 615.4M304.0 608.3Q306.2 610.5 308.1 614.4M307.1 609.3Q308.5 610.3 309.2 611.3M307.1 609.3Q308.0 612.0 308.1 614.4M307.1 609.3Q309.2 610.7 311.5 613.9M309.2 611.3Q310.3 613.5 311.5 613.9M317.7 608.3Q319.6 608.4 321.9 610.2M317.7 608.3Q317.3 612.4 317.1 614.8M321.9 610.2Q324.6 610.0 326.4 611.4M321.9 610.2Q323.7 611.7 325.5 612.0M330.2 608.3Q331.7 609.9 334.2 613.2M334.5 607.8Q337.3 608.4 338.9 608.3M334.5 607.8Q334.2 610.0 334.2 613.2M334.5 607.8Q336.9 611.4 337.9 613.5M338.9 608.3Q340.0 608.9 342.2 609.5M338.9 608.3Q338.0 610.8 337.9 613.5M342.2 609.5Q341.7 611.7 343.4 612.0M342.2 609.5Q345.5 611.7 347.3 614.0M348.0 608.2Q348.0 610.2 347.3 614.0M293.4 613.0Q293.3 614.5 295.5 616.3M298.4 613.2Q300.3 614.8 304.2 615.4M298.4 613.2Q297.1 616.1 297.5 619.3M304.2 615.4Q306.3 616.0 308.1 614.4M304.2 615.4Q303.9 617.0 304.1 616.8M308.1 614.4Q309.3 613.3 311.5 613.9M308.1 614.4Q307.8 615.0 305.8 617.0M311.5 613.9Q311.8 612.7 313.1 612.4M311.5 613.9Q309.8 616.7 309.6 619.5M311.5 613.9Q314.0 615.9 314.3 617.4M313.1 612.4Q315.5 612.7 317.1 614.8M313.1 612.4Q312.8 614.8 314.3 617.4M313.1 612.4Q316.2 614.2 319.9 618.2M317.1 614.8Q319.1 612.6 323.0 611.8M317.1 614.8Q319.3 615.7 319.9 618.2M323.0 611.8Q324.9 611.3 325.5 612.0M323.0 611.8Q323.9 614.3 324.1 618.3M323.0 611.8Q323.7 612.8 326.1 616.0M325.5 612.0Q328.6 611.8 330.4 613.1M325.5 612.0Q326.3 612.8 326.1 616.0M330.4 613.1Q333.4 612.8 334.2 613.2M330.4 613.1Q330.1 616.6 330.3 617.8M334.2 613.2Q335.2 613.0 337.9 613.5M334.2 613.2Q334.1 615.3 334.8 619.1M337.9 613.5Q337.4 616.8 337.8 617.9M343.4 612.0Q345.4 612.4 347.3 614.0M343.4 612.0Q345.3 615.1 347.6 616.8M347.3 614.0Q348.2 615.3 347.6 616.8M295.5 616.3Q296.4 619.2 295.6 622.4M297.5 619.3Q300.5 618.0 304.1 616.8M297.5 619.3Q296.4 621.4 297.6 621.9M297.5 619.3Q300.4 622.2 303.5 622.9M304.1 616.8Q305.2 617.6 305.8 617.0M304.1 616.8Q304.9 619.3 303.5 622.9M305.8 617.0Q305.9 619.6 305.3 621.7M309.6 619.5Q311.9 619.5 314.3 617.4M309.6 619.5Q312.8 620.7 315.4 622.9M314.3 617.4Q318.0 617.5 319.9 618.2M319.9 618.2Q321.0 618.3 324.1 618.3M319.9 618.2Q319.8 621.2 318.6 623.5M319.9 618.2Q319.8 620.6 321.6 620.8M324.1 618.3Q324.1 616.6 326.1 616.0M324.1 618.3Q323.3 619.3 321.6 620.8M324.1 618.3Q326.7 619.3 328.2 622.2M326.1 616.0Q327.2 617.9 330.3 617.8M334.8 619.1Q336.3 618.3 337.8 617.9M337.8 617.9Q341.1 618.0 343.6 619.5M337.8 617.9Q338.5 619.1 340.2 620.2M337.8 617.9Q339.3 620.7 343.0 623.1M343.6 619.5Q343.7 622.5 343.0 623.1M295.6 622.4Q295.9 622.6 297.6 621.9M303.5 622.9Q304.3 622.6 305.3 621.7M305.3 621.7Q308.8 620.3 311.0 620.4M311.0 620.4Q314.3 620.5 315.4 622.9M318.6 623.5Q321.1 621.0 321.6 620.8M321.6 620.8Q325.7 622.1 328.2 622.2M333.6 623.0Q336.0 622.6 340.2 620.2M340.2 620.2Q341.5 622.1 343.0 623.1" stroke="#c89462" stroke-width="0.8" opacity="0.35" fill="none" stroke-linecap="round"/><path d="M298.4 565.5h0M306.0 564.8h0M310.5 566.7h0M316.4 566.5h0M320.0 566.6h0M328.2 564.4h0M331.1 565.1h0M336.9 569.1h0M344.8 568.5h0M298.7 574.2h0M303.4 572.3h0M309.2 573.2h0M315.6 574.1h0M318.5 570.1h0M326.6 571.2h0M328.0 571.7h0M336.6 569.9h0M340.5 571.9h0M295.6 577.5h0M302.4 579.3h0M307.4 575.9h0M310.3 578.5h0M315.1 576.7h0M322.4 576.3h0M329.3 575.4h0M334.3 577.7h0M337.9 577.4h0M345.4 578.5h0M296.4 581.1h0M301.6 584.5h0M309.3 585.1h0M314.3 583.6h0M318.4 584.6h0M323.7 583.0h0M329.2 584.5h0M334.1 584.6h0M342.4 580.9h0M297.3 587.1h0M304.1 586.7h0M308.3 590.2h0M315.8 586.5h0M318.0 587.7h0M325.6 589.2h0M331.0 587.6h0M336.3 590.1h0M340.8 590.1h0M302.3 594.1h0M303.6 595.2h0M312.6 591.7h0M313.8 594.6h0M321.3 592.9h0M327.0 592.8h0M331.3 591.1h0M337.4 591.6h0M342.1 594.0h0M301.0 597.5h0M301.9 596.6h0M307.8 599.2h0M314.3 600.1h0M322.4 596.6h0M326.4 599.8h0M331.7 600.2h0M335.5 598.6h0M340.1 599.0h0M301.7 605.5h0M303.5 604.9h0M309.0 602.2h0M315.1 603.3h0M323.0 604.9h0M326.6 603.9h0M330.4 602.5h0M337.3 603.3h0M344.4 605.1h0M299.2 608.3h0M303.6 610.9h0M308.5 609.0h0M314.1 608.5h0M321.2 609.3h0M325.2 607.6h0M333.4 609.9h0M339.1 608.2h0M344.3 611.5h0M295.6 616.4h0M303.9 617.0h0M306.5 614.1h0M314.4 613.4h0M318.8 615.6h0M321.2 613.8h0M330.8 615.4h0M332.1 614.2h0M337.9 613.4h0M344.8 616.0h0" stroke="#f6f0ea" stroke-width="2.4" stroke-linecap="round" opacity="0.55" fill="none"/><path d="M325.6 601.0l3.5 5.7M332.9 586.2l6.8 1.4M333.2 616.8l6.7 3.4M303.0 595.9l7.0 2.7M341.4 575.9l5.3 1.4M329.2 608.2l-0.5 7.6M331.4 600.0l5.8 3.3M315.1 590.6l2.6 7.9M307.0 601.2l-4.2 2.1M316.3 566.5l-7.2 1.7M299.9 566.3l9.7 0.8M327.7 604.5l-4.6 2.4" stroke="#faf7f4" stroke-width="2.8" stroke-linecap="round" opacity="0.8" fill="none"/><path d="M318 590L325 586L333 594L341 604L345 617L331 617L324 604Z" fill="#f4eee8" opacity="0.85"/><path d="M298 598L306 594L313 604L309 617L298 617Z" fill="#efe6dc" opacity="0.6"/><path d="M294.9 566.9l0.3 -0.2M300.5 565.1l0.3 -0.2M301.8 566.7l-0.4 0.4M307.1 565.4l0.0 0.4M309.4 566.4l-0.2 -0.5M315.5 567.8l-0.4 -0.1M317.7 567.3l0.1 0.2M323.7 568.0l0.5 -0.2M326.4 567.9l0.3 0.4M331.6 566.6l0.3 -0.0M334.4 567.4l0.4 -0.3M338.0 568.4l-0.2 -0.1M341.4 567.0l0.2 -0.4M295.4 572.0l0.5 0.4M299.0 571.3l0.2 -0.1M305.6 570.5l-0.1 0.2M308.0 570.4l0.3 0.3M312.9 570.5l0.1 -0.5M315.0 569.4l-0.4 -0.4M320.4 570.0l-0.4 -0.2M323.6 569.8l-0.3 0.2M326.1 569.8l-0.3 -0.1M332.6 571.3l-0.0 0.1M333.8 569.0l-0.2 0.1M339.4 571.4l0.1 -0.5M344.8 570.6l0.0 0.4M297.2 574.2l-0.2 -0.2M297.8 573.6l-0.0 0.4M304.1 576.0l0.1 0.2M306.6 574.9l-0.0 -0.5M310.4 574.2l-0.2 0.3M316.0 575.4l-0.4 -0.5M318.7 574.0l0.1 -0.4M323.5 574.0l-0.5 -0.5M328.5 572.8l-0.1 -0.5M329.3 576.1l0.2 0.4M335.5 573.1l0.1 -0.3M337.3 573.8l0.1 -0.5M340.7 575.2l-0.4 -0.1M296.3 578.4l-0.3 -0.2M302.0 578.6l0.2 -0.4M304.1 579.3l0.2 -0.2M309.0 579.3l-0.0 0.4M310.5 577.5l-0.2 -0.2M317.2 577.8l-0.0 0.2M320.1 579.5l-0.3 -0.5M323.5 579.4l0.4 0.3M328.6 577.2l-0.4 0.0M333.0 577.4l0.2 0.1M336.0 578.4l0.3 -0.3M340.4 578.0l0.4 -0.4M342.2 578.2l-0.2 0.2M295.9 583.2l-0.2 0.2M301.0 583.7l0.1 -0.2M302.7 581.5l-0.2 -0.2M309.3 583.0l0.4 0.3M312.2 581.0l0.5 -0.0M317.2 582.7l-0.0 -0.2M320.2 582.7l0.2 -0.1M323.7 583.4l-0.2 0.0M326.4 583.4l0.2 0.1M332.0 581.4l0.0 -0.1M333.5 583.1l0.4 -0.2M340.5 581.1l-0.5 0.3M341.7 582.9l-0.5 -0.4M298.7 585.9l0.2 -0.1M304.0 584.7l0.2 0.1M305.4 585.4l-0.0 0.2M309.4 585.1l-0.4 0.5M313.1 586.9l-0.2 0.2M319.6 586.9l0.1 0.2M322.1 585.7l0.1 0.2M324.4 587.2l-0.3 0.1M331.4 587.4l0.2 -0.2M334.7 586.1l-0.2 -0.2M339.3 586.8l-0.2 -0.5M341.4 585.7l0.2 0.1M297.1 590.2l0.3 0.3M302.2 589.9l-0.1 0.3M304.9 591.5l-0.2 0.1M309.6 588.4l0.1 -0.1M314.5 591.3l0.1 -0.4M317.9 589.5l0.1 0.1M321.7 591.4l0.1 0.5M324.8 589.9l0.2 0.1M330.2 589.7l0.3 -0.1M333.0 590.5l-0.1 0.1M337.4 591.6l0.3 -0.5M339.4 588.9l-0.5 -0.2M344.8 590.7l-0.4 -0.5M297.5 595.2l0.4 -0.3M301.7 595.6l-0.4 -0.1M302.5 592.4l-0.0 -0.2M307.3 595.4l-0.3 0.1M311.8 594.7l-0.1 -0.3M315.5 594.3l-0.4 -0.2M320.7 595.5l0.4 0.3M324.0 595.1l0.1 -0.2M327.8 594.2l0.2 -0.2M332.7 592.3l0.3 0.1M334.8 593.6l-0.3 0.1M339.3 592.8l0.1 0.3M343.6 593.7l0.2 0.3M296.3 598.4l0.0 0.0M302.1 599.3l-0.1 0.4M304.1 596.6l0.2 0.0M307.3 599.2l-0.3 0.2M312.4 596.5l0.2 0.4M316.6 596.6l0.3 -0.1M321.6 597.6l0.2 -0.3M324.3 599.1l0.4 -0.3M326.8 599.3l0.0 0.3M332.6 597.1l-0.5 0.4M337.8 599.4l-0.4 -0.1M338.8 599.1l0.1 -0.1M343.1 599.4l-0.2 0.3M295.7 600.4l-0.2 0.4M301.3 602.4l0.5 -0.0M304.3 602.9l-0.1 -0.0M308.3 601.9l-0.4 0.2M310.2 600.4l0.2 -0.2M317.1 602.3l0.1 -0.4M318.6 602.6l-0.4 -0.4M324.7 602.0l0.2 0.2M328.8 600.4l0.1 -0.1M331.0 601.3l0.3 -0.4M335.8 603.4l-0.5 -0.2M337.9 600.7l-0.0 0.3M341.4 602.8l-0.1 0.2M298.0 604.1l0.0 -0.2M302.7 606.5l-0.4 0.4M304.5 604.1l-0.4 0.2M308.5 606.6l0.3 0.4M311.9 604.8l-0.3 0.1M318.6 605.2l-0.3 -0.4M320.0 607.0l-0.1 -0.1M324.5 605.7l-0.3 -0.3M329.8 604.6l0.3 0.2M332.1 607.2l-0.4 -0.1M338.3 605.7l-0.4 -0.1M341.3 605.2l0.2 -0.4M345.0 604.2l0.5 -0.5M298.2 611.0l0.4 0.5M302.4 611.0l-0.5 -0.1M303.5 608.0l-0.1 0.2M308.5 609.9l-0.3 -0.4M311.4 607.9l-0.3 0.2M317.5 610.9l0.1 -0.0M321.2 608.8l-0.4 0.1M325.5 608.0l0.0 -0.2M327.5 611.1l-0.4 0.3M332.8 608.0l-0.3 -0.1M334.5 610.5l-0.1 -0.2M339.5 609.8l0.3 0.5M344.9 608.6l-0.3 -0.0M297.9 614.1l0.3 -0.2M302.4 612.7l-0.1 -0.4M305.5 614.5l-0.3 0.0M309.6 613.3l-0.4 0.3M311.5 614.6l0.5 -0.4M315.9 614.6l-0.3 -0.3M321.2 613.8l-0.4 -0.4M324.8 613.6l-0.3 0.1M328.7 612.1l-0.3 0.2M331.8 612.4l0.0 0.1M337.2 611.7l-0.2 0.0M340.9 612.9l-0.2 0.2M343.2 614.7l0.5 -0.5M297.4 617.7l0.5 0.3M298.9 615.9l-0.4 -0.4M303.3 616.7l-0.4 -0.0M308.4 618.2l0.4 0.3M310.6 617.4l-0.3 -0.1M316.9 618.5l-0.3 -0.1M320.4 617.2l0.2 -0.2M322.9 616.0l0.3 0.4M326.0 616.2l-0.0 0.3M331.0 616.8l0.3 -0.3M336.0 616.6l0.4 -0.3M338.2 618.2l-0.0 0.4M343.8 616.0l-0.3 -0.4" stroke="#9e9cd6" stroke-width="1.5" stroke-linecap="round" opacity="0.7" fill="none"/></g></g><rect x="332.0" y="613.4" width="9.3" height="1.6" fill="#000"/>
<clipPath id="c10"><rect x="349.3" y="567.7" width="48.7" height="49.5"/></clipPath><g clip-path="url(#c10)"><g filter="url(#hb)"><rect x="347.3" y="565.7" width="52.7" height="53.5" fill="#e2e1e5"/><path d="M349.1 566.5Q351.5 567.9 353.0 567.5M349.1 566.5Q346.1 566.6 345.2 568.4M353.0 567.5Q352.9 566.5 355.2 566.3M353.0 567.5Q350.8 568.7 350.4 571.1M362.6 567.4Q363.5 565.4 365.6 564.2M365.6 564.2Q368.6 567.0 369.4 567.9M365.6 564.2Q363.3 567.7 363.2 571.1M369.4 567.9Q371.7 568.0 371.4 568.9M380.8 565.5Q380.0 568.4 379.5 569.3M380.8 565.5Q380.0 568.5 381.7 570.9M389.6 565.0Q389.5 567.3 388.2 570.0M389.6 565.0Q389.6 567.8 390.7 570.8M392.0 566.3Q393.8 564.7 398.2 565.7M392.0 566.3Q392.3 568.3 390.7 570.8M398.2 565.7Q398.5 568.8 397.1 569.9M399.4 566.0Q400.2 567.8 399.8 572.1M345.2 568.4Q348.4 571.0 350.4 571.1M345.2 568.4Q350.5 572.2 354.0 575.1M350.4 571.1Q351.8 570.9 355.3 571.1M350.4 571.1Q350.9 571.7 354.0 575.1M350.4 571.1Q353.2 572.9 355.6 573.0M355.3 571.1Q354.8 571.7 355.6 573.0M359.3 568.5Q360.2 568.6 363.2 571.1M359.3 568.5Q362.0 572.6 365.0 576.9M363.2 571.1Q368.3 571.1 371.4 568.9M363.2 571.1Q366.4 571.1 371.3 573.0M371.4 568.9Q372.6 569.8 373.1 568.0M373.1 568.0Q375.0 569.8 379.5 569.3M379.5 569.3Q381.7 569.6 381.7 570.9M379.5 569.3Q380.6 571.9 379.5 573.9M381.7 570.9Q384.4 571.4 388.2 570.0M381.7 570.9Q383.6 574.7 384.3 576.7M388.2 570.0Q390.3 569.7 390.7 570.8M388.2 570.0Q386.8 572.9 387.9 575.9M390.7 570.8Q392.8 570.2 397.1 569.9M390.7 570.8Q389.8 574.2 390.3 575.5M397.1 569.9Q399.2 571.8 399.8 572.1M397.1 569.9Q395.7 572.0 395.1 574.5M399.8 572.1Q401.3 571.7 400.6 572.8M348.9 575.6Q349.1 575.5 348.4 577.4M348.9 575.6Q351.1 577.7 350.7 577.3M354.0 575.1Q354.1 574.2 355.6 573.0M354.0 575.1Q352.3 575.5 350.7 577.3M354.0 575.1Q355.4 575.9 357.0 578.3M355.6 573.0Q357.4 576.8 357.0 578.3M361.3 574.8Q362.7 575.2 365.0 576.9M365.0 576.9Q367.4 574.7 371.3 573.0M365.0 576.9Q364.9 578.4 364.0 579.2M371.3 573.0Q373.5 572.5 376.0 572.5M371.3 573.0Q372.1 575.9 375.0 579.3M376.0 572.5Q379.0 573.7 379.5 573.9M376.0 572.5Q376.2 574.9 375.0 579.3M379.5 573.9Q380.7 574.6 384.3 576.7M379.5 573.9Q378.9 577.3 377.2 578.4M379.5 573.9Q379.9 576.9 381.6 578.2M384.3 576.7Q381.8 577.3 381.6 578.2M387.9 575.9Q389.5 576.3 390.3 575.5M387.9 575.9Q388.1 577.5 387.3 577.9M390.3 575.5Q391.6 577.7 390.9 578.0M395.1 574.5Q396.5 577.9 395.9 579.4M400.6 572.8Q400.9 577.1 403.0 579.9M348.4 577.4Q348.3 576.4 350.7 577.3M348.4 577.4Q348.2 580.2 347.1 581.5M350.7 577.3Q354.2 577.7 357.0 578.3M350.7 577.3Q351.7 579.5 350.4 584.3M350.7 577.3Q353.0 581.4 355.9 585.3M357.0 578.3Q356.4 582.1 355.9 585.3M357.0 578.3Q358.8 580.6 362.6 582.8M358.7 577.1Q361.9 579.2 364.0 579.2M358.7 577.1Q360.8 580.0 362.6 582.8M358.7 577.1Q361.0 579.6 364.7 582.8M364.0 579.2Q366.6 577.1 367.6 577.1M364.0 579.2Q365.6 580.0 364.7 582.8M364.0 579.2Q366.3 580.5 370.6 581.9M367.6 577.1Q372.1 578.9 375.0 579.3M367.6 577.1Q368.3 578.5 370.6 581.9M375.0 579.3Q377.2 578.4 377.2 578.4M377.2 578.4Q377.2 582.8 378.2 585.8M387.3 577.9Q388.3 578.3 390.9 578.0M390.9 578.0Q393.7 579.1 395.9 579.4M390.9 578.0Q391.0 580.8 392.6 582.4M395.9 579.4Q400.0 579.9 403.0 579.9M395.9 579.4Q398.3 583.5 401.4 585.6M403.0 579.9Q403.2 583.6 401.4 585.6M347.1 581.5Q348.7 584.2 350.4 584.3M347.1 581.5Q347.7 587.0 347.5 590.3M350.4 584.3Q353.5 584.8 355.9 585.3M350.4 584.3Q352.8 586.6 352.8 586.8M355.9 585.3Q360.0 583.9 362.6 582.8M355.9 585.3Q354.8 588.8 355.4 589.8M362.6 582.8Q361.1 585.5 359.0 590.4M364.7 582.8Q368.3 582.1 370.6 581.9M364.7 582.8Q363.4 586.2 363.2 589.3M373.3 585.4Q374.2 586.1 374.8 588.6M378.2 585.8Q377.4 586.1 378.2 587.2M378.2 585.8Q379.2 586.4 381.3 588.9M382.8 585.2Q386.1 583.7 387.6 581.9M387.6 581.9Q391.5 583.3 392.6 582.4M387.6 581.9Q389.0 585.1 389.5 587.6M387.6 581.9Q391.8 584.2 393.9 587.7M392.6 582.4Q396.3 584.0 398.7 584.6M398.7 584.6Q398.9 583.9 401.4 585.6M398.7 584.6Q400.0 585.5 403.2 586.4M401.4 585.6Q403.4 584.7 403.2 586.4M347.5 590.3Q351.3 587.9 352.8 586.8M347.5 590.3Q347.0 591.7 349.0 591.9M352.8 586.8Q354.2 589.3 355.4 589.8M355.4 589.8Q358.1 588.8 359.0 590.4M355.4 589.8Q355.9 589.7 358.5 592.0M359.0 590.4Q362.4 589.3 363.2 589.3M359.0 590.4Q358.7 590.8 359.5 590.7M363.2 589.3Q365.6 589.5 370.3 587.8M363.2 589.3Q364.0 591.0 363.7 590.9M370.3 587.8Q372.1 588.8 374.8 588.6M370.3 587.8Q369.8 589.7 371.2 590.5M374.8 588.6Q373.6 589.9 372.6 591.5M378.2 587.2Q380.4 588.4 381.3 588.9M378.2 587.2Q378.6 589.5 377.2 593.9M389.5 587.6Q391.2 586.6 393.9 587.7M389.5 587.6Q387.2 589.5 387.1 591.1M395.7 589.6Q399.9 588.7 403.2 586.4M395.7 589.6Q394.7 592.2 395.7 592.2M403.2 586.4Q401.6 590.3 400.8 592.9M349.0 591.9Q352.1 591.7 353.0 591.8M353.0 591.8Q355.4 591.8 358.5 592.0M358.5 592.0Q358.8 591.3 359.5 590.7M358.5 592.0Q356.8 595.2 355.4 598.4M359.5 590.7Q358.0 594.8 358.9 597.2M363.7 590.9Q367.4 591.1 371.2 590.5M371.2 590.5Q371.8 590.1 372.6 591.5M371.2 590.5Q374.1 592.2 374.2 596.5M372.6 591.5Q372.9 593.0 374.2 596.5M377.2 593.9Q378.6 594.2 381.1 593.5M377.2 593.9Q379.2 597.6 380.6 599.4M381.1 593.5Q384.9 592.1 387.1 591.1M381.1 593.5Q383.8 594.9 383.9 597.5M387.1 591.1Q391.0 593.1 393.1 597.4M391.1 592.8Q392.8 592.0 395.7 592.2M391.1 592.8Q392.8 595.4 393.1 597.4M391.1 592.8Q393.2 596.5 397.9 598.3M395.7 592.2Q398.2 591.6 400.8 592.9M395.7 592.2Q397.0 595.6 397.9 598.3M348.2 596.3Q349.7 596.9 352.3 598.2M348.2 596.3Q348.7 597.8 346.7 600.4M352.3 598.2Q354.6 598.2 355.4 598.4M352.3 598.2Q352.6 599.1 351.8 600.8M355.4 598.4Q356.7 600.2 356.2 600.3M358.9 597.2Q360.8 598.9 362.6 600.0M364.6 595.5Q367.6 598.4 370.5 598.8M364.6 595.5Q365.2 599.2 367.0 602.0M370.5 598.8Q373.4 598.8 374.2 596.5M370.5 598.8Q371.9 602.2 371.6 603.4M374.2 596.5Q378.2 598.8 380.6 599.4M374.2 596.5Q374.1 598.7 372.8 600.7M374.2 596.5Q376.3 598.4 381.0 602.4M380.6 599.4Q383.2 597.5 383.9 597.5M380.6 599.4Q381.7 600.3 381.0 602.4M383.9 597.5Q384.8 596.7 388.4 598.1M383.9 597.5Q382.5 598.7 381.4 600.6M388.4 598.1Q390.4 597.8 393.1 597.4M393.1 597.4Q396.9 599.0 397.9 598.3M397.9 598.3Q396.3 599.7 394.7 601.6M402.0 597.3Q401.0 598.2 402.3 601.7M346.7 600.4Q350.2 601.5 351.8 600.8M346.7 600.4Q347.7 603.3 348.1 606.9M346.7 600.4Q349.6 604.5 350.2 607.1M351.8 600.8Q353.3 599.6 356.2 600.3M351.8 600.8Q351.5 604.4 350.2 607.1M351.8 600.8Q355.0 604.5 356.3 605.8M356.2 600.3Q357.3 602.8 356.3 605.8M362.6 600.0Q364.8 600.8 367.0 602.0M362.6 600.0Q361.9 602.0 362.9 606.0M367.0 602.0Q369.9 602.4 371.6 603.4M367.0 602.0Q367.1 605.0 366.1 607.4M371.6 603.4Q369.8 603.8 369.7 604.6M372.8 600.7Q377.7 601.0 381.0 602.4M372.8 600.7Q372.1 602.4 372.9 605.3M381.0 602.4Q380.4 601.4 381.4 600.6M381.0 602.4Q379.9 603.7 377.4 605.8M381.4 600.6Q381.4 605.1 381.4 607.4M386.0 600.8Q388.7 599.9 390.4 599.6M390.4 599.6Q392.8 599.9 394.7 601.6M390.4 599.6Q389.4 603.4 390.6 604.9M394.7 601.6Q397.8 602.8 402.3 601.7M394.7 601.6Q399.5 605.6 402.3 607.9M402.3 601.7Q401.8 606.0 402.3 607.9M348.1 606.9Q349.6 605.9 350.2 607.1M348.1 606.9Q350.4 607.5 351.5 610.6M350.2 607.1Q350.5 607.7 351.5 610.6M350.2 607.1Q352.8 608.7 355.7 609.6M356.3 605.8Q360.0 605.0 362.9 606.0M356.3 605.8Q356.7 608.5 355.7 609.6M356.3 605.8Q359.7 607.0 362.2 609.3M362.9 606.0Q362.5 608.0 362.2 609.3M366.1 607.4Q366.9 606.1 369.7 604.6M372.9 605.3Q373.8 605.8 377.4 605.8M372.9 605.3Q374.3 608.5 373.7 609.7M377.4 605.8Q380.7 605.9 381.4 607.4M377.4 605.8Q378.6 609.0 380.7 612.4M377.4 605.8Q380.5 606.4 381.6 608.7M381.4 607.4Q385.4 606.8 389.0 606.8M389.0 606.8Q388.0 608.6 388.2 610.7M390.6 604.9Q391.5 609.1 390.2 612.3M398.6 607.9Q398.1 609.8 398.5 611.0M402.3 607.9Q400.5 608.9 399.5 609.3M346.0 609.8Q346.4 613.1 348.8 616.0M351.5 610.6Q352.2 614.0 351.6 617.2M351.5 610.6Q352.9 613.8 354.2 616.0M355.7 609.6Q358.6 609.0 362.2 609.3M362.2 609.3Q365.2 611.0 365.6 612.1M362.2 609.3Q362.9 612.1 362.3 616.7M365.6 612.1Q367.0 611.9 368.2 610.0M365.6 612.1Q363.3 615.3 363.5 616.1M368.2 610.0Q370.0 609.7 373.7 609.7M380.7 612.4Q381.0 609.9 381.6 608.7M380.7 612.4Q381.5 613.7 380.9 613.5M381.6 608.7Q384.1 611.0 388.2 610.7M388.2 610.7Q390.2 610.7 390.2 612.3M390.2 612.3Q389.4 613.7 391.1 616.2M398.5 611.0Q398.2 610.6 399.5 609.3M398.5 611.0Q398.8 612.1 396.8 615.0M399.5 609.3Q399.1 612.1 401.3 614.2M348.8 616.0Q348.9 615.3 351.6 617.2M348.8 616.0Q347.8 618.7 349.1 620.9M348.8 616.0Q349.0 617.2 350.7 618.8M351.6 617.2Q353.3 616.8 354.2 616.0M351.6 617.2Q350.4 618.6 350.7 618.8M362.3 616.7Q361.8 615.7 363.5 616.1M362.3 616.7Q362.4 618.1 362.6 621.6M362.3 616.7Q362.0 619.6 363.3 621.3M363.5 616.1Q366.5 617.6 367.6 620.1M370.1 615.8Q368.2 617.6 367.6 620.1M372.8 617.3Q377.4 616.0 380.9 613.5M372.8 617.3Q373.7 616.6 375.5 618.3M372.8 617.3Q375.8 617.8 377.6 617.8M380.9 613.5Q381.2 614.3 383.5 615.4M387.6 614.5Q390.2 615.9 391.1 616.2M387.6 614.5Q386.0 617.0 385.6 620.8M391.1 616.2Q395.0 616.8 396.8 615.0M391.1 616.2Q392.3 619.6 391.8 621.7M396.8 615.0Q399.1 614.5 401.3 614.2M396.8 615.0Q395.7 616.8 397.1 619.5M401.3 614.2Q401.6 616.6 400.3 621.3M349.1 620.9Q349.7 619.4 350.7 618.8M350.7 618.8Q354.4 619.8 356.4 620.3M356.4 620.3Q360.8 620.1 362.6 621.6M363.3 621.3Q365.4 621.9 367.6 620.1M367.6 620.1Q371.0 618.3 375.5 618.3M377.6 617.8Q381.1 620.2 383.0 621.2M383.0 621.2Q383.2 620.5 385.6 620.8M385.6 620.8Q388.2 619.9 391.8 621.7M391.8 621.7Q393.5 620.9 397.1 619.5M397.1 619.5Q399.3 620.3 400.3 621.3" stroke="#d4d0d4" stroke-width="0.6" opacity="0.35" fill="none" stroke-linecap="round"/><path d="M352.0 564.4h0M357.6 569.2h0M364.9 568.8h0M376.7 564.9h0M384.7 566.6h0M393.6 567.1h0M352.8 574.7h0M365.0 574.4h0M368.2 574.7h0M377.6 571.9h0M388.9 577.2h0M396.3 573.5h0M357.1 585.3h0M365.9 582.4h0M375.4 585.2h0M377.7 581.5h0M384.8 580.6h0M399.2 580.3h0M349.6 591.5h0M354.9 592.9h0M362.7 593.0h0M374.2 593.5h0M379.9 589.0h0M385.8 591.2h0M400.1 593.9h0M355.8 596.9h0M361.1 597.9h0M369.8 596.2h0M378.6 602.5h0M387.6 596.4h0M393.7 597.5h0M348.4 608.7h0M359.4 608.0h0M369.9 604.6h0M374.1 608.5h0M381.5 610.7h0M392.4 607.4h0M398.1 609.6h0M355.6 617.3h0M364.9 617.8h0M368.6 615.2h0M376.3 618.6h0M390.1 617.2h0M392.7 616.8h0" stroke="#eeecf0" stroke-width="2.2" stroke-linecap="round" opacity="0.5" fill="none"/><path d="M362.4 587.6l-2.1 4.7M366.0 586.9l-2.7 3.9" stroke="#f0f0f2" stroke-width="1.6" stroke-linecap="round" opacity="0.5" fill="none"/><path d="M350.2 567.2l0.5 0.2M352.7 566.1l0.2 0.5M356.1 566.3l-0.0 -0.4M361.1 565.8l0.1 0.4M362.2 566.4l-0.3 -0.1M368.3 566.4l0.1 0.0M369.0 566.0l0.5 -0.4M374.9 567.4l-0.0 0.1M378.4 567.6l-0.4 0.3M380.7 565.6l0.3 -0.1M383.1 567.3l-0.1 -0.5M386.7 565.2l0.3 0.3M390.3 566.1l0.3 -0.3M393.6 566.3l0.1 -0.0M398.4 566.0l0.3 0.1M349.1 570.3l0.3 -0.1M353.9 569.2l0.5 0.3M358.3 571.0l0.3 -0.5M359.6 569.7l0.1 -0.2M364.0 570.9l0.1 -0.3M368.6 571.2l0.1 -0.3M369.7 570.3l0.4 -0.5M375.2 570.8l-0.4 -0.4M377.5 568.8l0.4 -0.5M380.7 569.5l0.5 -0.3M385.0 570.2l0.4 -0.5M387.0 571.3l-0.2 0.2M393.3 569.0l0.3 0.4M395.6 570.8l0.5 0.2M351.2 573.8l-0.3 0.2M356.5 573.1l-0.0 0.5M358.1 572.4l-0.2 0.0M361.7 574.5l-0.0 -0.3M364.6 573.2l0.4 0.0M370.9 573.3l0.3 -0.4M372.0 574.3l-0.5 -0.2M376.3 572.4l-0.2 -0.1M378.8 574.2l-0.5 0.2M383.5 574.1l-0.4 0.3M387.6 572.9l-0.2 0.1M389.4 574.1l0.4 0.3M394.4 573.9l-0.2 0.5M398.5 573.1l-0.5 0.2M348.3 575.8l0.5 0.2M351.8 577.0l0.0 -0.0M357.1 577.3l0.1 0.3M360.5 576.6l-0.5 0.3M363.2 575.8l0.2 -0.3M367.7 577.5l0.3 0.4M372.1 576.2l0.1 0.2M375.2 576.8l-0.3 0.3M377.5 578.7l-0.2 0.0M379.7 577.8l0.4 0.3M383.3 576.7l0.3 -0.3M387.3 577.0l0.3 0.5M392.4 578.4l0.3 -0.3M394.2 578.4l-0.3 -0.1M400.4 576.9l-0.2 0.3M350.7 580.0l-0.0 -0.1M353.9 580.0l-0.3 0.4M356.6 579.5l-0.5 0.2M360.6 582.3l-0.4 -0.5M364.0 581.4l-0.0 0.1M367.9 582.4l0.4 0.1M372.0 580.4l0.4 0.2M375.6 580.6l-0.3 0.0M379.2 579.7l-0.2 -0.0M382.7 580.4l-0.0 -0.0M387.5 581.9l0.3 -0.4M389.6 579.3l0.2 -0.2M392.4 579.3l0.2 0.1M395.2 581.6l0.5 -0.0M352.0 583.3l0.4 0.1M354.9 584.5l0.3 -0.2M358.7 584.1l0.0 -0.0M359.9 584.2l-0.4 -0.4M363.4 585.5l0.3 -0.2M368.3 583.1l-0.1 -0.4M370.0 584.9l-0.5 -0.2M376.1 584.4l0.1 0.0M378.6 585.2l-0.2 0.4M382.6 583.6l0.3 0.3M385.9 584.3l-0.1 0.4M390.5 585.5l-0.4 -0.4M393.8 585.0l-0.3 0.1M395.5 583.2l-0.0 -0.4M349.3 587.5l-0.4 -0.0M352.4 588.6l0.1 -0.4M354.6 589.4l-0.0 0.3M359.7 589.3l0.0 -0.3M363.4 586.3l0.5 0.1M367.2 588.2l-0.1 -0.4M368.4 588.5l-0.2 -0.1M372.1 588.5l0.2 0.4M376.4 589.2l-0.4 -0.2M379.4 586.5l-0.2 -0.5M382.1 586.7l-0.1 0.5M388.0 587.1l-0.2 0.4M391.8 589.0l0.5 -0.5M392.9 586.4l0.3 0.4M396.2 587.0l-0.0 -0.1M349.9 592.7l0.5 0.2M352.1 590.1l-0.3 0.0M356.1 591.3l-0.4 0.4M359.8 591.6l0.3 0.1M361.9 591.6l-0.0 0.4M365.6 589.8l0.0 -0.5M369.2 592.7l-0.1 -0.1M374.4 591.9l-0.2 0.5M378.3 591.9l0.2 0.0M380.7 591.0l-0.5 -0.4M383.1 589.8l0.2 -0.3M388.3 590.2l-0.2 0.3M389.7 590.8l0.3 0.5M396.1 590.5l0.2 -0.5M396.7 592.8l-0.2 0.1M353.0 594.2l-0.4 0.3M354.4 593.6l0.3 -0.2M360.1 596.2l0.2 -0.5M362.7 593.8l-0.4 -0.5M364.1 596.4l0.3 0.2M370.5 594.5l0.2 -0.2M371.3 594.4l0.0 -0.0M376.1 595.6l0.4 0.2M380.8 596.2l0.5 -0.1M382.0 596.2l0.3 -0.1M387.1 596.2l0.3 -0.0M388.9 594.2l0.4 0.1M392.9 594.3l0.4 0.1M396.6 595.0l0.2 -0.1M352.2 598.7l0.3 -0.1M355.4 597.8l-0.4 0.2M357.3 597.9l-0.4 0.3M362.2 599.3l0.2 0.3M365.6 599.8l-0.4 0.1M366.9 599.2l0.0 -0.1M370.7 598.1l0.1 0.3M375.5 596.9l0.3 -0.5M378.2 599.7l-0.3 0.5M381.9 598.8l0.3 0.4M384.5 596.9l-0.4 0.0M390.9 599.2l0.1 0.1M394.4 597.6l-0.4 0.2M396.2 599.9l-0.3 0.4M349.8 601.3l0.0 0.1M355.1 602.3l0.0 -0.3M357.2 601.3l-0.3 -0.5M362.9 601.8l0.3 -0.2M366.7 601.1l0.2 -0.1M368.1 602.0l-0.3 0.4M372.4 602.9l0.2 -0.1M377.0 602.7l0.5 0.1M380.1 602.4l-0.4 -0.4M381.3 600.9l-0.1 0.5M387.2 601.6l-0.0 -0.4M391.1 601.8l-0.0 -0.4M392.5 601.2l-0.1 -0.5M395.5 601.3l-0.4 0.2M349.6 605.1l0.3 0.5M352.5 605.9l0.1 -0.0M357.6 604.2l-0.4 0.1M360.5 604.7l-0.2 0.4M363.5 604.4l-0.1 -0.4M368.4 605.2l0.4 -0.2M369.6 605.5l0.1 -0.3M374.9 606.3l0.3 -0.4M376.8 607.0l-0.1 -0.3M380.0 606.5l-0.2 0.1M385.9 606.4l-0.3 0.2M390.1 605.6l0.0 -0.0M391.2 604.9l0.3 0.2M394.5 605.7l-0.1 0.2M348.3 609.0l0.0 -0.1M352.5 610.2l-0.5 -0.5M356.8 608.7l0.3 -0.4M359.3 607.6l-0.1 0.4M363.1 608.3l-0.3 -0.3M364.4 607.7l-0.1 -0.4M368.4 607.5l-0.3 -0.2M373.2 608.3l0.1 0.5M376.7 607.5l0.2 -0.2M378.8 610.3l0.4 -0.2M382.7 609.6l-0.3 0.1M386.2 608.2l-0.3 -0.1M390.6 608.7l-0.3 -0.0M394.8 608.1l0.4 -0.1M397.5 608.9l0.1 -0.0M350.9 613.9l-0.1 0.1M353.5 611.9l-0.4 0.3M357.7 611.8l-0.2 0.5M359.2 611.6l0.2 0.3M363.4 613.5l0.2 0.1M368.1 614.1l0.3 0.1M369.9 612.5l-0.3 -0.5M372.8 613.0l-0.4 0.2M378.3 613.8l0.4 0.3M380.9 612.8l-0.1 0.5M386.1 611.1l0.3 0.1M388.0 614.0l0.3 -0.1M393.2 611.5l-0.4 0.5M396.6 612.7l0.2 0.4M398.8 613.7l0.5 -0.1M351.1 615.2l0.4 -0.2M353.3 617.3l-0.3 0.4M357.2 615.9l-0.4 -0.4M360.7 615.7l0.3 -0.2M364.8 617.5l-0.0 -0.5M366.6 615.1l-0.3 -0.4M371.7 616.9l0.2 -0.5M372.9 615.5l0.4 -0.3M377.1 616.0l-0.1 0.2M381.0 615.7l0.2 0.3M386.5 616.2l0.1 -0.1M389.1 615.8l0.1 0.5M392.5 615.6l0.4 0.1M396.5 614.7l-0.2 -0.1" stroke="#7d7dc0" stroke-width="1.9" stroke-linecap="round" opacity="0.62" fill="none"/></g></g><rect x="386.9" y="613.4" width="8.9" height="1.6" fill="#000"/>
</svg></body></html>
